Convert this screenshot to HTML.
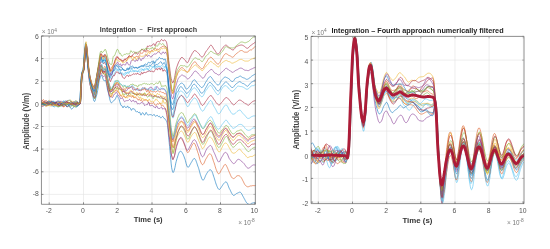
<!DOCTYPE html>
<html><head><meta charset="utf-8"><title>Integration plots</title>
<style>
html,body{margin:0;padding:0;background:#fff;}
body{width:550px;height:249px;overflow:hidden;}
svg{display:block;}
text{font-family:"Liberation Sans",sans-serif;}
.tk{font-size:6.8px;fill:#555;}
.ex{font-size:6.3px;fill:#777;}
.ttl{font-size:7.5px;font-weight:bold;fill:#3a3a3a;}
.ttr{font-size:7.9px;font-weight:bold;fill:#222;}
.lb{font-size:7.8px;font-weight:bold;fill:#333;}
.yl{font-size:8.2px;font-weight:bold;fill:#444;}
</style></head><body>
<svg width="550" height="249" viewBox="0 0 550 249">
<defs><clipPath id="cl"><rect x="41.45" y="36.0" width="214.00" height="168.30"/></clipPath><clipPath id="cr"><rect x="311.1" y="36.4" width="212.95" height="167.20"/></clipPath></defs>
<rect width="550" height="249" fill="#fff"/>
<rect x="41.45" y="36.0" width="214.0" height="168.3" fill="#fff"/>
<line x1="49.2" y1="36.0" x2="49.2" y2="204.3" stroke="#e2e2e2" stroke-width="0.6"/>
<line x1="83.5" y1="36.0" x2="83.5" y2="204.3" stroke="#e2e2e2" stroke-width="0.6"/>
<line x1="117.8" y1="36.0" x2="117.8" y2="204.3" stroke="#e2e2e2" stroke-width="0.6"/>
<line x1="152.0" y1="36.0" x2="152.0" y2="204.3" stroke="#e2e2e2" stroke-width="0.6"/>
<line x1="186.2" y1="36.0" x2="186.2" y2="204.3" stroke="#e2e2e2" stroke-width="0.6"/>
<line x1="220.5" y1="36.0" x2="220.5" y2="204.3" stroke="#e2e2e2" stroke-width="0.6"/>
<line x1="254.8" y1="36.0" x2="254.8" y2="204.3" stroke="#e2e2e2" stroke-width="0.6"/>
<line x1="41.45" y1="36.0" x2="255.45" y2="36.0" stroke="#e2e2e2" stroke-width="0.6"/>
<line x1="41.45" y1="58.6" x2="255.45" y2="58.6" stroke="#e2e2e2" stroke-width="0.6"/>
<line x1="41.45" y1="81.3" x2="255.45" y2="81.3" stroke="#e2e2e2" stroke-width="0.6"/>
<line x1="41.45" y1="103.9" x2="255.45" y2="103.9" stroke="#e2e2e2" stroke-width="0.6"/>
<line x1="41.45" y1="126.5" x2="255.45" y2="126.5" stroke="#e2e2e2" stroke-width="0.6"/>
<line x1="41.45" y1="149.1" x2="255.45" y2="149.1" stroke="#e2e2e2" stroke-width="0.6"/>
<line x1="41.45" y1="171.8" x2="255.45" y2="171.8" stroke="#e2e2e2" stroke-width="0.6"/>
<line x1="41.45" y1="194.4" x2="255.45" y2="194.4" stroke="#e2e2e2" stroke-width="0.6"/>
<rect x="311.1" y="36.4" width="212.9" height="167.2" fill="#fff"/>
<line x1="318.3" y1="36.4" x2="318.3" y2="203.6" stroke="#e2e2e2" stroke-width="0.6"/>
<line x1="352.5" y1="36.4" x2="352.5" y2="203.6" stroke="#e2e2e2" stroke-width="0.6"/>
<line x1="386.7" y1="36.4" x2="386.7" y2="203.6" stroke="#e2e2e2" stroke-width="0.6"/>
<line x1="420.8" y1="36.4" x2="420.8" y2="203.6" stroke="#e2e2e2" stroke-width="0.6"/>
<line x1="455.0" y1="36.4" x2="455.0" y2="203.6" stroke="#e2e2e2" stroke-width="0.6"/>
<line x1="489.1" y1="36.4" x2="489.1" y2="203.6" stroke="#e2e2e2" stroke-width="0.6"/>
<line x1="523.3" y1="36.4" x2="523.3" y2="203.6" stroke="#e2e2e2" stroke-width="0.6"/>
<line x1="311.1" y1="36.4" x2="524.05" y2="36.4" stroke="#e2e2e2" stroke-width="0.6"/>
<line x1="311.1" y1="60.1" x2="524.05" y2="60.1" stroke="#e2e2e2" stroke-width="0.6"/>
<line x1="311.1" y1="83.7" x2="524.05" y2="83.7" stroke="#e2e2e2" stroke-width="0.6"/>
<line x1="311.1" y1="107.4" x2="524.05" y2="107.4" stroke="#e2e2e2" stroke-width="0.6"/>
<line x1="311.1" y1="131.1" x2="524.05" y2="131.1" stroke="#e2e2e2" stroke-width="0.6"/>
<line x1="311.1" y1="154.8" x2="524.05" y2="154.8" stroke="#e2e2e2" stroke-width="0.6"/>
<line x1="311.1" y1="178.4" x2="524.05" y2="178.4" stroke="#e2e2e2" stroke-width="0.6"/>
<line x1="311.1" y1="202.1" x2="524.05" y2="202.1" stroke="#e2e2e2" stroke-width="0.6"/>
<g fill="none" stroke-linejoin="round" clip-path="url(#cl)" opacity="0.95">
<polyline points="40.7,103.8 41.1,103.6 41.5,103.5 41.9,103.7 42.4,103.9 42.8,104.1 43.2,104.2 43.6,104.3 44.0,104.3 44.4,104.4 44.8,104.6 45.3,104.7 45.7,104.9 46.1,104.9 46.5,105.0 46.9,105.2 47.3,105.4 47.8,105.4 48.2,105.1 48.6,104.6 49.0,104.1 49.4,103.9 49.8,104.1 50.2,104.5 50.7,105.1 51.1,105.6 51.5,105.9 51.9,105.9 52.3,105.9 52.7,106.0 53.2,106.2 53.6,106.5 54.0,106.6 54.4,106.3 54.8,105.7 55.2,105.2 55.7,104.8 56.1,104.6 56.5,104.4 56.9,104.4 57.3,104.4 57.7,104.6 58.1,105.0 58.6,105.5 59.0,105.8 59.4,105.9 59.8,105.8 60.2,105.6 60.6,105.4 61.1,105.2 61.5,104.9 61.9,104.5 62.3,104.1 62.7,103.7 63.1,103.2 63.6,102.7 64.0,102.0 64.4,101.4 64.8,101.0 65.2,100.9 65.6,101.0 66.0,101.1 66.5,101.2 66.9,101.0 67.3,100.7 67.7,100.5 68.1,100.4 68.5,100.4 69.0,100.4 69.4,100.3 69.8,100.2 70.2,100.3 70.6,100.7 71.0,101.4 71.5,102.1 71.9,102.6 72.3,102.7 72.7,102.6 73.1,102.5 73.5,102.8 73.9,103.3 74.4,103.8 74.8,104.2 75.2,104.6 75.6,105.1 76.0,105.6 76.4,106.0 76.9,106.3 77.3,106.3 77.7,106.1 78.1,105.7 78.5,105.1 78.9,104.4 79.4,103.9 79.8,103.5 80.2,103.1 80.6,102.0 81.0,95.7 81.4,86.7 81.8,79.8 82.3,75.9 82.7,72.9 83.1,71.4 83.5,70.7 83.9,69.5 84.3,65.4 84.8,59.3 85.2,54.2 85.6,50.0 86.0,46.4 86.4,45.1 86.8,47.3 87.3,52.2 87.7,57.6 88.1,62.9 88.5,68.6 88.9,73.7 89.3,77.5 89.7,80.9 90.2,84.0 90.6,86.7 91.0,88.3 91.4,89.1 91.8,89.9 92.2,91.6 92.7,94.3 93.1,97.3 93.5,99.7 93.9,100.9 94.3,101.4 94.7,101.4 95.2,100.3 95.6,98.6 96.0,97.2 96.4,96.1 96.8,94.7 97.2,92.9 97.6,90.8 98.1,88.3 98.5,85.0 98.9,82.0 99.3,80.3 99.7,79.2 100.1,77.9 100.6,76.3 101.0,75.3 101.4,75.3 101.8,75.8 102.2,76.7 102.6,77.8 103.1,79.1 103.5,80.1 103.9,80.7 104.3,81.0 104.7,80.6 105.1,80.1 105.5,80.5 106.0,81.9 106.4,83.6 106.8,85.7 107.2,88.1 107.6,90.3 108.0,91.8 108.5,93.1 108.9,94.9 109.3,97.0 109.7,98.8 110.1,100.4 110.5,101.7 110.9,102.5 111.4,102.8 111.8,102.7 112.2,102.3 112.6,101.8 113.0,101.4 113.4,101.0 113.9,100.4 114.3,99.9 114.7,99.8 115.1,99.6 115.5,98.8 115.9,97.7 116.4,96.6 116.8,95.6 117.2,95.5 117.6,96.4 118.0,97.3 118.4,97.7 118.8,98.4 119.3,100.0 119.7,101.6 120.1,102.8 120.5,104.1 120.9,105.2 121.3,105.6 121.8,105.6 122.2,106.1 122.6,107.3 123.0,107.9 123.4,107.4 123.8,106.4 124.3,105.9 124.7,106.2 125.1,106.9 125.5,107.5 125.9,107.5 126.3,107.5 126.7,107.3 127.2,106.6 127.6,105.9 128.0,106.6 128.4,107.8 128.8,108.1 129.2,107.7 129.7,107.5 130.1,107.8 130.5,108.4 130.9,109.5 131.3,110.4 131.7,110.1 132.2,109.1 132.6,108.6 133.0,108.7 133.4,108.9 133.8,108.7 134.2,108.8 134.6,109.3 135.1,110.1 135.5,110.9 135.9,111.5 136.3,112.0 136.7,112.0 137.1,111.6 137.6,111.6 138.0,112.1 138.4,112.5 138.8,112.5 139.2,112.1 139.6,112.0 140.1,113.1 140.5,114.5 140.9,115.2 141.3,114.8 141.7,114.0 142.1,113.2 142.5,112.7 143.0,112.9 143.4,113.4 143.8,114.1 144.2,114.9 144.6,115.2 145.0,114.6 145.5,113.5 145.9,112.6 146.3,112.5 146.7,113.3 147.1,114.3 147.5,114.7 148.0,114.6 148.4,114.8 148.8,115.2 149.2,115.0 149.6,114.6 150.0,114.5 150.4,114.6 150.9,114.8 151.3,114.9 151.7,114.9 152.1,115.2 152.5,115.5 152.9,115.5 153.4,115.1 153.8,114.6 154.2,114.5 154.6,115.2 155.0,115.9 155.4,116.3 155.9,116.3 156.3,116.0 156.7,115.5 157.1,115.3 157.5,115.5 157.9,116.1 158.3,116.5 158.8,116.6 159.2,116.5 159.6,116.3 160.0,116.7 160.4,117.6 160.8,118.1 161.3,117.7 161.7,117.1 162.1,116.7 162.5,116.4 162.9,116.5 163.3,117.1 163.7,117.8 164.2,118.3 164.6,119.0 165.0,119.4 165.4,119.3 165.8,119.7 166.2,120.7 166.7,121.7 167.1,122.8 167.5,125.2 167.9,129.1 168.3,133.2 168.7,137.7 169.2,142.4 169.6,146.7 170.0,150.8 170.4,155.2 170.8,159.7 171.2,163.9 171.6,167.4 172.1,169.9 172.5,171.5 172.9,172.4 173.3,172.4 173.7,171.9 174.1,170.7 174.6,169.0 175.0,167.3 175.4,165.2 175.8,163.1 176.2,161.5 176.6,160.0 177.1,158.4 177.5,157.0 177.9,155.8 178.3,154.6 178.7,153.5 179.1,152.6 179.5,151.8 180.0,151.4 180.4,151.3 180.8,151.3 181.2,151.4 181.6,151.9 182.0,152.5 182.5,153.3 182.9,154.0 183.3,154.8 183.7,155.8 184.1,156.8 184.5,158.0 185.0,159.2 185.4,160.6 185.8,162.2 186.2,163.7 186.6,165.0 187.0,166.1 187.4,166.9 187.9,167.3 188.3,167.3 188.7,167.0 189.1,166.4 189.5,165.7 189.9,164.9 190.4,164.0 190.8,163.3 191.2,162.6 191.6,162.0 192.0,161.3 192.4,160.5 192.9,159.8 193.3,159.2 193.7,158.7 194.1,158.5 194.5,158.5 194.9,158.8 195.3,159.4 195.8,160.2 196.2,161.3 196.6,162.4 197.0,163.6 197.4,164.8 197.8,166.1 198.3,167.3 198.7,168.5 199.1,169.9 199.5,171.4 199.9,172.9 200.3,174.4 200.8,175.8 201.2,177.0 201.6,178.2 202.0,179.1 202.4,179.8 202.8,180.2 203.2,180.2 203.7,179.8 204.1,179.2 204.5,178.4 204.9,177.4 205.3,176.4 205.7,175.4 206.2,174.5 206.6,173.7 207.0,173.1 207.4,172.5 207.8,171.9 208.2,171.3 208.7,170.8 209.1,170.4 209.5,170.0 209.9,169.8 210.3,169.8 210.7,169.9 211.1,170.2 211.6,170.8 212.0,171.5 212.4,172.5 212.8,173.6 213.2,174.9 213.6,176.2 214.1,177.6 214.5,178.9 214.9,180.2 215.3,181.5 215.7,182.8 216.1,184.1 216.6,185.3 217.0,186.4 217.4,187.3 217.8,188.1 218.2,188.7 218.6,189.2 219.0,189.5 219.5,189.4 219.9,189.2 220.3,188.7 220.7,188.1 221.1,187.5 221.5,186.8 222.0,186.2 222.4,185.5 222.8,184.9 223.2,184.3 223.6,183.8 224.0,183.3 224.4,182.9 224.9,182.4 225.3,182.1 225.7,181.8 226.1,181.8 226.5,182.1 226.9,182.7 227.4,183.6 227.8,184.6 228.2,185.7 228.6,186.8 229.0,187.8 229.4,188.7 229.9,189.5 230.3,190.3 230.7,191.2 231.1,192.1 231.5,192.9 231.9,193.6 232.3,194.3 232.8,194.8 233.2,195.2 233.6,195.4 234.0,195.4 234.4,195.2 234.8,194.9 235.3,194.5 235.7,194.1 236.1,193.8 236.5,193.5 236.9,193.3 237.3,193.2 237.8,193.0 238.2,192.8 238.6,192.6 239.0,192.4 239.4,192.2 239.8,192.2 240.2,192.3 240.7,192.5 241.1,192.9 241.5,193.5 241.9,194.2 242.3,195.0 242.7,195.8 243.2,196.7 243.6,197.4 244.0,198.2 244.4,198.9 244.8,199.6 245.2,200.4 245.7,201.3 246.1,202.0 246.5,202.6 246.9,203.1 247.3,203.4 247.7,203.6 248.1,203.9 248.6,204.2 249.0,204.4 249.4,204.6 249.8,204.5 250.2,204.4 250.6,204.1 251.1,203.7 251.5,203.4 251.9,203.2 252.3,203.1 252.7,203.0 253.1,202.9 253.6,202.8 254.0,202.7 254.4,202.8 254.8,202.9 255.2,203.0 255.6,203.2 256.0,203.3 256.5,203.3" stroke="#0072BD" stroke-width="0.62"/>
<polyline points="40.7,104.9 41.1,104.8 41.5,104.8 41.9,104.9 42.4,105.1 42.8,105.2 43.2,104.9 43.6,104.4 44.0,104.1 44.4,104.0 44.8,104.3 45.3,104.6 45.7,105.0 46.1,105.2 46.5,105.2 46.9,105.2 47.3,105.1 47.8,105.1 48.2,105.1 48.6,105.2 49.0,105.2 49.4,105.0 49.8,104.5 50.2,103.8 50.7,103.1 51.1,102.6 51.5,102.5 51.9,102.7 52.3,103.1 52.7,103.6 53.2,104.4 53.6,105.0 54.0,105.4 54.4,105.5 54.8,105.3 55.2,105.0 55.7,104.6 56.1,104.3 56.5,104.0 56.9,103.7 57.3,103.4 57.7,103.1 58.1,103.0 58.6,103.0 59.0,103.0 59.4,102.7 59.8,102.3 60.2,101.9 60.6,101.9 61.1,102.3 61.5,103.1 61.9,103.9 62.3,104.4 62.7,104.5 63.1,104.2 63.6,103.8 64.0,103.6 64.4,103.6 64.8,104.0 65.2,104.6 65.6,105.4 66.0,106.0 66.5,106.4 66.9,106.6 67.3,106.6 67.7,106.6 68.1,106.5 68.5,106.2 69.0,105.6 69.4,104.8 69.8,104.1 70.2,103.7 70.6,103.5 71.0,103.6 71.5,103.7 71.9,103.9 72.3,104.1 72.7,104.3 73.1,104.4 73.5,104.5 73.9,104.5 74.4,104.3 74.8,104.1 75.2,103.9 75.6,103.7 76.0,103.6 76.4,103.6 76.9,103.6 77.3,103.7 77.7,103.6 78.1,103.5 78.5,103.6 78.9,103.6 79.4,103.5 79.8,102.8 80.2,98.2 80.6,89.9 81.0,82.1 81.4,77.3 81.8,74.2 82.3,72.4 82.7,71.6 83.1,70.8 83.5,67.9 83.9,62.6 84.3,57.2 84.8,52.4 85.2,48.5 85.6,46.8 86.0,48.4 86.4,52.4 86.8,56.9 87.3,61.1 87.7,65.7 88.1,70.0 88.5,73.3 88.9,76.3 89.3,79.6 89.7,82.2 90.2,84.3 90.6,86.6 91.0,89.2 91.4,91.2 91.8,92.2 92.2,93.0 92.7,94.3 93.1,96.0 93.5,96.8 93.9,96.3 94.3,94.9 94.7,93.6 95.2,92.2 95.6,91.0 96.0,90.2 96.4,89.2 96.8,87.2 97.2,84.6 97.6,81.7 98.1,79.6 98.5,78.7 98.9,77.9 99.3,76.5 99.7,74.9 100.1,72.7 100.6,70.6 101.0,69.8 101.4,70.3 101.8,71.3 102.2,72.1 102.6,72.5 103.1,72.3 103.5,71.5 103.9,71.0 104.3,71.2 104.7,71.9 105.1,73.2 105.5,75.3 106.0,77.9 106.4,80.6 106.8,83.2 107.2,85.5 107.6,87.6 108.0,89.4 108.5,91.1 108.9,93.0 109.3,94.9 109.7,96.2 110.1,96.9 110.5,96.9 110.9,96.6 111.4,95.9 111.8,94.7 112.2,93.5 112.6,93.0 113.0,92.9 113.4,92.3 113.9,91.5 114.3,91.2 114.7,91.0 115.1,90.9 115.5,90.8 115.9,90.4 116.4,89.9 116.8,89.9 117.2,90.7 117.6,91.8 118.0,92.2 118.4,92.2 118.8,92.5 119.3,93.4 119.7,94.6 120.1,95.4 120.5,95.5 120.9,95.4 121.3,95.8 121.8,96.6 122.2,97.2 122.6,97.4 123.0,97.2 123.4,96.5 123.8,95.9 124.3,96.0 124.7,96.7 125.1,97.3 125.5,97.7 125.9,97.7 126.3,97.1 126.7,96.3 127.2,95.9 127.6,95.8 128.0,95.5 128.4,95.1 128.8,95.2 129.2,95.9 129.7,96.2 130.1,96.0 130.5,96.0 130.9,96.5 131.3,97.1 131.7,97.3 132.2,96.8 132.6,95.9 133.0,95.7 133.4,96.9 133.8,97.9 134.2,97.7 134.6,97.2 135.1,97.4 135.5,97.6 135.9,97.8 136.3,98.0 136.7,98.0 137.1,98.3 137.6,99.3 138.0,100.2 138.4,100.1 138.8,99.4 139.2,99.2 139.6,99.8 140.1,100.5 140.5,100.4 140.9,99.9 141.3,99.8 141.7,100.4 142.1,101.2 142.5,101.6 143.0,101.3 143.4,100.8 143.8,100.4 144.2,100.2 144.6,100.2 145.0,100.2 145.5,100.1 145.9,99.8 146.3,99.6 146.7,100.0 147.1,100.6 147.5,100.9 148.0,101.3 148.4,101.9 148.8,102.7 149.2,103.4 149.6,103.8 150.0,103.8 150.4,103.4 150.9,103.1 151.3,103.2 151.7,103.3 152.1,103.5 152.5,103.4 152.9,102.9 153.4,102.4 153.8,102.8 154.2,103.8 154.6,104.6 155.0,104.8 155.4,105.0 155.9,105.4 156.3,105.3 156.7,104.6 157.1,103.9 157.5,103.6 157.9,103.7 158.3,104.0 158.8,104.2 159.2,103.8 159.6,103.2 160.0,102.9 160.4,103.3 160.8,104.5 161.3,105.6 161.7,105.9 162.1,105.5 162.5,105.1 162.9,105.2 163.3,105.8 163.7,106.5 164.2,107.0 164.6,107.5 165.0,108.1 165.4,109.0 165.8,110.4 166.2,112.3 166.7,114.5 167.1,117.2 167.5,120.4 167.9,124.2 168.3,128.6 168.7,132.9 169.2,136.1 169.6,138.7 170.0,142.0 170.4,146.1 170.8,150.2 171.2,153.0 171.6,155.0 172.1,156.9 172.5,158.9 172.9,159.6 173.3,158.8 173.7,157.7 174.1,156.7 174.6,155.1 175.0,152.7 175.4,150.3 175.8,148.3 176.2,146.5 176.6,144.9 177.1,143.6 177.5,142.5 177.9,141.7 178.3,141.0 178.7,140.3 179.1,139.5 179.5,138.9 180.0,138.5 180.4,138.3 180.8,138.3 181.2,138.4 181.6,138.8 182.0,139.5 182.5,140.3 182.9,141.1 183.3,141.9 183.7,142.9 184.1,143.9 184.5,145.0 185.0,146.2 185.4,147.4 185.8,148.6 186.2,149.8 186.6,150.9 187.0,151.8 187.4,152.4 187.9,152.6 188.3,152.4 188.7,151.9 189.1,151.3 189.5,150.5 189.9,149.6 190.4,148.8 190.8,148.0 191.2,147.1 191.6,146.2 192.0,145.4 192.4,144.6 192.9,143.9 193.3,143.4 193.7,143.1 194.1,143.1 194.5,143.4 194.9,144.0 195.3,145.0 195.8,146.1 196.2,147.3 196.6,148.6 197.0,149.9 197.4,151.2 197.8,152.5 198.3,153.7 198.7,155.1 199.1,156.6 199.5,158.1 199.9,159.6 200.3,160.9 200.8,162.1 201.2,163.1 201.6,163.8 202.0,164.4 202.4,164.6 202.8,164.6 203.2,164.3 203.7,163.7 204.1,163.0 204.5,162.1 204.9,161.1 205.3,160.2 205.7,159.3 206.2,158.6 206.6,157.9 207.0,157.2 207.4,156.5 207.8,155.8 208.2,155.1 208.7,154.5 209.1,154.1 209.5,153.8 209.9,153.7 210.3,153.8 210.7,154.2 211.1,154.8 211.6,155.6 212.0,156.6 212.4,157.7 212.8,159.0 213.2,160.3 213.6,161.6 214.1,162.8 214.5,164.1 214.9,165.4 215.3,166.8 215.7,168.1 216.1,169.3 216.6,170.5 217.0,171.5 217.4,172.4 217.8,173.1 218.2,173.6 218.6,173.8 219.0,173.7 219.5,173.3 219.9,172.8 220.3,172.1 220.7,171.3 221.1,170.4 221.5,169.7 222.0,169.0 222.4,168.3 222.8,167.6 223.2,166.9 223.6,166.1 224.0,165.4 224.4,164.9 224.9,164.5 225.3,164.4 225.7,164.6 226.1,165.1 226.5,165.9 226.9,166.7 227.4,167.7 227.8,168.7 228.2,169.7 228.6,170.6 229.0,171.6 229.4,172.5 229.9,173.6 230.3,174.6 230.7,175.5 231.1,176.4 231.5,177.0 231.9,177.6 232.3,178.0 232.8,178.3 233.2,178.5 233.6,178.6 234.0,178.6 234.4,178.4 234.8,178.0 235.3,177.5 235.7,177.0 236.1,176.5 236.5,176.2 236.9,175.9 237.3,175.7 237.8,175.7 238.2,175.6 238.6,175.7 239.0,175.8 239.4,175.9 239.8,176.2 240.2,176.5 240.7,177.0 241.1,177.5 241.5,178.1 241.9,178.8 242.3,179.5 242.7,180.4 243.2,181.3 243.6,182.2 244.0,183.0 244.4,183.8 244.8,184.5 245.2,185.1 245.7,185.6 246.1,186.0 246.5,186.3 246.9,186.5 247.3,186.7 247.7,186.8 248.1,186.8 248.6,186.7 249.0,186.6 249.4,186.4 249.8,186.2 250.2,186.0 250.6,185.9 251.1,185.9 251.5,185.9 251.9,185.8 252.3,185.7 252.7,185.6 253.1,185.6 253.6,185.6 254.0,185.6 254.4,185.6 254.8,185.6 255.2,185.5 255.6,185.5 256.0,185.5 256.5,185.7" stroke="#D95319" stroke-width="0.62"/>
<polyline points="40.7,101.5 41.1,101.5 41.5,101.9 41.9,102.5 42.4,103.2 42.8,103.9 43.2,104.4 43.6,104.7 44.0,104.8 44.4,104.7 44.8,104.7 45.3,105.0 45.7,105.3 46.1,105.6 46.5,105.7 46.9,105.4 47.3,104.9 47.8,104.5 48.2,104.0 48.6,103.6 49.0,103.5 49.4,103.6 49.8,103.6 50.2,103.3 50.7,102.8 51.1,102.3 51.5,102.0 51.9,102.2 52.3,102.6 52.7,103.1 53.2,103.5 53.6,103.6 54.0,103.5 54.4,103.5 54.8,103.6 55.2,103.8 55.7,103.8 56.1,103.5 56.5,102.8 56.9,102.0 57.3,101.2 57.7,100.8 58.1,100.8 58.6,101.3 59.0,102.0 59.4,102.7 59.8,103.3 60.2,103.6 60.6,103.8 61.1,103.9 61.5,103.9 61.9,103.7 62.3,103.4 62.7,103.4 63.1,103.7 63.6,104.2 64.0,104.7 64.4,104.9 64.8,104.5 65.2,103.7 65.6,102.7 66.0,101.8 66.5,101.3 66.9,101.2 67.3,101.5 67.7,102.0 68.1,102.6 68.5,103.3 69.0,103.9 69.4,104.2 69.8,104.0 70.2,103.6 70.6,103.0 71.0,102.5 71.5,102.2 71.9,102.2 72.3,102.5 72.7,103.0 73.1,103.6 73.5,104.0 73.9,104.2 74.4,104.2 74.8,104.2 75.2,104.3 75.6,104.3 76.0,104.3 76.4,104.0 76.9,103.6 77.3,103.2 77.7,103.0 78.1,103.1 78.5,103.4 78.9,103.6 79.4,103.6 79.8,103.3 80.2,101.6 80.6,95.0 81.0,86.2 81.4,79.7 81.8,76.0 82.3,73.4 82.7,72.2 83.1,71.5 83.5,70.0 83.9,65.6 84.3,59.5 84.8,54.4 85.2,50.2 85.6,47.2 86.0,46.5 86.4,48.8 86.8,53.1 87.3,57.7 87.7,62.5 88.1,68.1 88.5,73.4 88.9,77.6 89.3,81.0 89.7,83.7 90.2,85.5 90.6,86.9 91.0,88.7 91.4,90.6 91.8,92.2 92.2,93.3 92.7,94.4 93.1,95.9 93.5,97.2 93.9,97.9 94.3,98.3 94.7,98.3 95.2,97.5 95.6,95.4 96.0,92.4 96.4,90.1 96.8,88.6 97.2,87.5 97.6,85.9 98.1,83.8 98.5,81.5 98.9,79.4 99.3,77.6 99.7,75.7 100.1,73.7 100.6,72.3 101.0,72.5 101.4,73.7 101.8,74.6 102.2,74.9 102.6,75.6 103.1,76.5 103.5,76.7 103.9,76.6 104.3,76.3 104.7,75.6 105.1,75.3 105.5,76.7 106.0,79.2 106.4,81.3 106.8,82.9 107.2,85.0 107.6,87.5 108.0,90.0 108.5,92.2 108.9,94.0 109.3,95.4 109.7,96.1 110.1,96.5 110.5,96.7 110.9,96.7 111.4,96.8 111.8,97.1 112.2,97.5 112.6,97.4 113.0,96.8 113.4,95.6 113.9,94.6 114.3,94.2 114.7,94.2 115.1,93.9 115.5,93.2 115.9,92.3 116.4,92.0 116.8,92.4 117.2,93.3 117.6,94.5 118.0,95.3 118.4,95.6 118.8,95.6 119.3,95.8 119.7,96.4 120.1,97.6 120.5,98.6 120.9,98.9 121.3,98.6 121.8,98.2 122.2,98.2 122.6,98.4 123.0,98.8 123.4,99.6 123.8,100.7 124.3,101.5 124.7,101.7 125.1,101.4 125.5,101.0 125.9,100.8 126.3,100.7 126.7,100.6 127.2,100.6 127.6,100.6 128.0,100.6 128.4,100.5 128.8,100.1 129.2,99.6 129.7,99.4 130.1,99.7 130.5,100.2 130.9,100.9 131.3,101.6 131.7,101.7 132.2,101.1 132.6,100.5 133.0,100.1 133.4,100.2 133.8,100.8 134.2,101.6 134.6,102.1 135.1,102.0 135.5,101.4 135.9,101.0 136.3,101.4 136.7,102.5 137.1,103.5 137.6,103.8 138.0,103.7 138.4,103.6 138.8,103.7 139.2,104.1 139.6,104.0 140.1,103.5 140.5,103.1 140.9,103.0 141.3,102.8 141.7,102.4 142.1,102.5 142.5,103.1 143.0,103.2 143.4,103.1 143.8,103.6 144.2,104.7 144.6,105.5 145.0,105.5 145.5,105.0 145.9,104.6 146.3,104.5 146.7,104.8 147.1,105.0 147.5,104.5 148.0,103.2 148.4,102.3 148.8,102.4 149.2,103.4 149.6,104.9 150.0,106.0 150.4,106.0 150.9,105.5 151.3,105.2 151.7,105.5 152.1,105.5 152.5,105.3 152.9,105.7 153.4,106.5 153.8,106.8 154.2,106.7 154.6,107.2 155.0,107.9 155.4,107.9 155.9,107.0 156.3,106.2 156.7,106.0 157.1,106.5 157.5,107.5 157.9,108.3 158.3,108.4 158.8,108.2 159.2,108.3 159.6,108.5 160.0,108.3 160.4,107.9 160.8,107.5 161.3,107.2 161.7,107.3 162.1,108.0 162.5,109.0 162.9,109.3 163.3,108.8 163.7,108.6 164.2,108.8 164.6,108.8 165.0,108.6 165.4,108.7 165.8,109.5 166.2,110.8 166.7,112.7 167.1,115.1 167.5,118.4 167.9,122.7 168.3,127.6 168.7,132.4 169.2,136.2 169.6,139.5 170.0,143.0 170.4,146.7 170.8,150.4 171.2,153.8 171.6,156.0 172.1,157.5 172.5,158.9 172.9,159.6 173.3,159.1 173.7,158.2 174.1,157.2 174.6,155.7 175.0,154.0 175.4,151.9 175.8,149.8 176.2,148.1 176.6,146.7 177.1,145.3 177.5,144.0 177.9,142.7 178.3,141.4 178.7,140.4 179.1,139.5 179.5,138.7 180.0,138.1 180.4,137.6 180.8,137.3 181.2,137.4 181.6,137.8 182.0,138.3 182.5,139.0 182.9,139.9 183.3,140.9 183.7,141.8 184.1,142.8 184.5,143.9 185.0,145.2 185.4,146.5 185.8,147.8 186.2,148.9 186.6,149.7 187.0,150.2 187.4,150.3 187.9,150.1 188.3,149.6 188.7,148.9 189.1,148.1 189.5,147.2 189.9,146.3 190.4,145.5 190.8,144.8 191.2,144.1 191.6,143.3 192.0,142.5 192.4,141.7 192.9,141.0 193.3,140.4 193.7,140.0 194.1,139.7 194.5,139.7 194.9,139.9 195.3,140.4 195.8,141.0 196.2,141.8 196.6,142.7 197.0,143.8 197.4,144.8 197.8,145.9 198.3,146.9 198.7,147.9 199.1,149.0 199.5,150.3 199.9,151.6 200.3,152.9 200.8,154.1 201.2,155.1 201.6,156.0 202.0,156.5 202.4,156.8 202.8,156.7 203.2,156.4 203.7,155.8 204.1,155.0 204.5,154.0 204.9,153.0 205.3,151.9 205.7,150.9 206.2,150.0 206.6,149.3 207.0,148.6 207.4,148.0 207.8,147.5 208.2,147.0 208.7,146.6 209.1,146.3 209.5,146.0 209.9,145.7 210.3,145.5 210.7,145.5 211.1,145.8 211.6,146.4 212.0,147.3 212.4,148.3 212.8,149.4 213.2,150.5 213.6,151.5 214.1,152.5 214.5,153.3 214.9,154.2 215.3,155.2 215.7,156.2 216.1,157.3 216.6,158.4 217.0,159.4 217.4,160.3 217.8,161.1 218.2,161.6 218.6,162.0 219.0,162.0 219.5,161.6 219.9,161.0 220.3,160.2 220.7,159.3 221.1,158.4 221.5,157.6 222.0,156.9 222.4,156.2 222.8,155.5 223.2,154.8 223.6,154.0 224.0,153.4 224.4,152.9 224.9,152.6 225.3,152.4 225.7,152.4 226.1,152.5 226.5,152.9 226.9,153.4 227.4,154.1 227.8,155.0 228.2,156.0 228.6,157.0 229.0,158.0 229.4,158.8 229.9,159.4 230.3,160.0 230.7,160.5 231.1,161.0 231.5,161.6 231.9,162.1 232.3,162.7 232.8,163.1 233.2,163.4 233.6,163.6 234.0,163.6 234.4,163.4 234.8,163.1 235.3,162.6 235.7,162.0 236.1,161.4 236.5,160.8 236.9,160.3 237.3,159.8 237.8,159.5 238.2,159.4 238.6,159.3 239.0,159.4 239.4,159.6 239.8,159.8 240.2,160.1 240.7,160.4 241.1,160.8 241.5,161.2 241.9,161.7 242.3,162.1 242.7,162.4 243.2,162.7 243.6,163.1 244.0,163.5 244.4,164.1 244.8,164.7 245.2,165.3 245.7,165.9 246.1,166.5 246.5,167.0 246.9,167.5 247.3,167.8 247.7,168.1 248.1,168.2 248.6,168.2 249.0,168.1 249.4,167.9 249.8,167.6 250.2,167.2 250.6,166.8 251.1,166.4 251.5,166.1 251.9,165.8 252.3,165.5 252.7,165.2 253.1,165.0 253.6,164.9 254.0,164.8 254.4,164.9 254.8,165.0 255.2,165.0 255.6,165.0 256.0,164.9 256.5,164.9" stroke="#7E2F8E" stroke-width="0.62"/>
<polyline points="40.7,104.9 41.1,104.4 41.5,103.8 41.9,103.3 42.4,103.1 42.8,103.1 43.2,103.3 43.6,103.4 44.0,103.4 44.4,103.1 44.8,102.6 45.3,101.9 45.7,101.4 46.1,101.2 46.5,101.3 46.9,101.5 47.3,101.6 47.8,101.5 48.2,101.2 48.6,100.9 49.0,100.6 49.4,100.4 49.8,100.3 50.2,100.5 50.7,100.9 51.1,101.6 51.5,102.2 51.9,102.6 52.3,103.0 52.7,103.2 53.2,103.4 53.6,103.6 54.0,103.6 54.4,103.4 54.8,103.1 55.2,102.8 55.7,102.7 56.1,102.8 56.5,103.1 56.9,103.5 57.3,103.6 57.7,103.6 58.1,103.5 58.6,103.4 59.0,103.3 59.4,103.3 59.8,103.1 60.2,102.8 60.6,102.6 61.1,102.5 61.5,102.6 61.9,102.7 62.3,102.7 62.7,102.7 63.1,102.6 63.6,102.4 64.0,102.0 64.4,101.8 64.8,101.8 65.2,101.9 65.6,102.1 66.0,102.1 66.5,101.7 66.9,101.1 67.3,100.7 67.7,100.6 68.1,100.6 68.5,100.7 69.0,100.7 69.4,100.4 69.8,100.2 70.2,100.1 70.6,100.2 71.0,100.5 71.5,100.9 71.9,101.3 72.3,101.6 72.7,101.8 73.1,101.8 73.5,101.8 73.9,102.0 74.4,102.3 74.8,102.6 75.2,102.7 75.6,102.7 76.0,102.7 76.4,102.7 76.9,102.7 77.3,102.9 77.7,103.1 78.1,103.3 78.5,103.7 78.9,103.9 79.4,104.0 79.8,103.8 80.2,103.4 80.6,100.3 81.0,92.9 81.4,84.5 81.8,78.5 82.3,74.9 82.7,72.6 83.1,71.5 83.5,70.9 83.9,69.1 84.3,65.0 84.8,60.3 85.2,56.5 85.6,53.2 86.0,50.6 86.4,50.0 86.8,51.8 87.3,55.3 87.7,59.1 88.1,63.3 88.5,68.0 88.9,72.3 89.3,76.0 89.7,79.7 90.2,83.3 90.6,86.2 91.0,88.2 91.4,89.3 91.8,90.3 92.2,91.8 92.7,93.5 93.1,94.7 93.5,95.4 93.9,96.1 94.3,96.7 94.7,96.8 95.2,95.8 95.6,94.1 96.0,92.2 96.4,90.3 96.8,88.5 97.2,86.4 97.6,84.1 98.1,81.6 98.5,79.4 98.9,77.7 99.3,76.2 99.7,74.8 100.1,73.6 100.6,72.4 101.0,70.9 101.4,69.9 101.8,70.3 102.2,71.7 102.6,72.7 103.1,73.1 103.5,73.0 103.9,72.9 104.3,72.9 104.7,73.0 105.1,73.6 105.5,74.6 106.0,76.0 106.4,77.8 106.8,80.1 107.2,82.6 107.6,84.8 108.0,86.4 108.5,87.7 108.9,89.2 109.3,90.8 109.7,92.3 110.1,94.0 110.5,95.5 110.9,96.4 111.4,96.6 111.8,96.5 112.2,95.3 112.6,93.3 113.0,92.3 113.4,92.5 113.9,92.8 114.3,92.5 114.7,91.7 115.1,91.2 115.5,90.7 115.9,89.7 116.4,88.4 116.8,87.7 117.2,87.5 117.6,87.9 118.0,89.0 118.4,90.4 118.8,91.8 119.3,92.9 119.7,93.6 120.1,93.8 120.5,94.3 120.9,95.1 121.3,95.8 121.8,95.9 122.2,95.0 122.6,94.1 123.0,94.1 123.4,95.1 123.8,96.2 124.3,96.9 124.7,97.5 125.1,97.5 125.5,97.3 125.9,97.3 126.3,97.4 126.7,97.8 127.2,98.1 127.6,98.0 128.0,97.1 128.4,96.1 128.8,95.8 129.2,96.2 129.7,96.1 130.1,95.4 130.5,94.5 130.9,94.4 131.3,94.9 131.7,95.6 132.2,95.8 132.6,95.6 133.0,95.4 133.4,95.7 133.8,96.6 134.2,97.5 134.6,97.7 135.1,97.4 135.5,96.8 135.9,96.4 136.3,95.9 136.7,95.0 137.1,94.7 137.6,95.4 138.0,96.3 138.4,96.9 138.8,97.6 139.2,98.3 139.6,98.2 140.1,97.3 140.5,96.8 140.9,97.8 141.3,99.4 141.7,99.7 142.1,98.7 142.5,98.0 143.0,98.5 143.4,99.4 143.8,99.9 144.2,99.9 144.6,99.5 145.0,99.3 145.5,99.6 145.9,100.0 146.3,100.2 146.7,100.0 147.1,100.1 147.5,100.8 148.0,101.2 148.4,100.7 148.8,99.6 149.2,99.1 149.6,99.4 150.0,100.3 150.4,101.3 150.9,101.8 151.3,101.8 151.7,101.4 152.1,101.1 152.5,101.1 152.9,101.5 153.4,101.8 153.8,101.7 154.2,101.3 154.6,101.0 155.0,100.5 155.4,99.6 155.9,99.0 156.3,99.0 156.7,99.4 157.1,100.1 157.5,100.7 157.9,101.1 158.3,101.4 158.8,101.8 159.2,102.2 159.6,102.8 160.0,103.2 160.4,103.2 160.8,103.5 161.3,104.0 161.7,104.1 162.1,102.8 162.5,100.6 162.9,99.5 163.3,100.4 163.7,102.1 164.2,103.2 164.6,103.2 165.0,102.7 165.4,102.6 165.8,103.2 166.2,104.1 166.7,105.1 167.1,106.8 167.5,109.7 167.9,113.6 168.3,117.9 168.7,122.4 169.2,126.5 169.6,130.2 170.0,133.9 170.4,137.7 170.8,141.7 171.2,145.2 171.6,147.6 172.1,149.1 172.5,150.7 172.9,151.9 173.3,152.2 173.7,151.6 174.1,150.2 174.6,148.3 175.0,146.4 175.4,144.5 175.8,142.6 176.2,140.7 176.6,139.1 177.1,137.6 177.5,136.2 177.9,135.2 178.3,134.5 178.7,133.9 179.1,133.2 179.5,132.5 180.0,132.0 180.4,131.5 180.8,131.2 181.2,131.0 181.6,131.0 182.0,131.3 182.5,131.8 182.9,132.4 183.3,133.2 183.7,134.1 184.1,134.9 184.5,135.8 185.0,136.7 185.4,137.7 185.8,138.7 186.2,139.8 186.6,140.8 187.0,141.6 187.4,142.1 187.9,142.3 188.3,142.1 188.7,141.5 189.1,140.8 189.5,139.9 189.9,138.9 190.4,137.9 190.8,137.1 191.2,136.4 191.6,135.7 192.0,135.1 192.4,134.5 192.9,134.0 193.3,133.5 193.7,133.1 194.1,132.7 194.5,132.5 194.9,132.4 195.3,132.7 195.8,133.2 196.2,134.0 196.6,135.0 197.0,136.2 197.4,137.4 197.8,138.6 198.3,139.6 198.7,140.6 199.1,141.5 199.5,142.5 199.9,143.4 200.3,144.3 200.8,145.3 201.2,146.3 201.6,147.3 202.0,148.1 202.4,148.6 202.8,148.6 203.2,148.3 203.7,147.7 204.1,146.9 204.5,146.1 204.9,145.4 205.3,144.6 205.7,143.8 206.2,142.9 206.6,142.1 207.0,141.3 207.4,140.4 207.8,139.5 208.2,138.7 208.7,138.0 209.1,137.5 209.5,137.2 209.9,137.1 210.3,137.1 210.7,137.3 211.1,137.6 211.6,138.0 212.0,138.6 212.4,139.2 212.8,139.9 213.2,140.8 213.6,141.6 214.1,142.5 214.5,143.4 214.9,144.3 215.3,145.2 215.7,146.1 216.1,147.1 216.6,148.1 217.0,149.0 217.4,149.9 217.8,150.6 218.2,151.3 218.6,151.7 219.0,151.9 219.5,151.9 219.9,151.5 220.3,151.0 220.7,150.3 221.1,149.4 221.5,148.5 222.0,147.6 222.4,146.7 222.8,145.9 223.2,145.2 223.6,144.5 224.0,143.9 224.4,143.5 224.9,143.2 225.3,143.1 225.7,143.0 226.1,143.1 226.5,143.4 226.9,143.8 227.4,144.3 227.8,144.9 228.2,145.7 228.6,146.5 229.0,147.2 229.4,148.0 229.9,148.7 230.3,149.5 230.7,150.3 231.1,151.1 231.5,151.8 231.9,152.4 232.3,152.8 232.8,153.0 233.2,153.2 233.6,153.2 234.0,153.2 234.4,153.1 234.8,152.9 235.3,152.7 235.7,152.3 236.1,152.0 236.5,151.6 236.9,151.2 237.3,150.8 237.8,150.3 238.2,149.9 238.6,149.6 239.0,149.4 239.4,149.3 239.8,149.3 240.2,149.5 240.7,149.9 241.1,150.5 241.5,151.1 241.9,151.7 242.3,152.3 242.7,152.7 243.2,153.1 243.6,153.4 244.0,153.8 244.4,154.1 244.8,154.6 245.2,155.0 245.7,155.6 246.1,156.2 246.5,156.8 246.9,157.2 247.3,157.5 247.7,157.6 248.1,157.5 248.6,157.3 249.0,157.1 249.4,156.9 249.8,156.7 250.2,156.5 250.6,156.5 251.1,156.5 251.5,156.5 251.9,156.5 252.3,156.5 252.7,156.2 253.1,155.9 253.6,155.6 254.0,155.3 254.4,155.1 254.8,155.0 255.2,155.0 255.6,155.0 256.0,155.1 256.5,155.1" stroke="#EDB120" stroke-width="0.62"/>
<polyline points="40.7,103.8 41.1,103.2 41.5,102.7 41.9,102.5 42.4,102.8 42.8,103.2 43.2,103.7 43.6,104.2 44.0,104.8 44.4,105.2 44.8,105.4 45.3,105.4 45.7,105.1 46.1,104.7 46.5,104.4 46.9,104.1 47.3,103.9 47.8,103.8 48.2,103.6 48.6,103.6 49.0,103.7 49.4,103.9 49.8,104.1 50.2,104.2 50.7,104.2 51.1,104.2 51.5,104.0 51.9,103.5 52.3,102.9 52.7,102.5 53.2,102.4 53.6,102.4 54.0,102.5 54.4,102.5 54.8,102.6 55.2,102.8 55.7,103.1 56.1,103.3 56.5,103.6 56.9,103.8 57.3,103.9 57.7,103.8 58.1,103.4 58.6,103.0 59.0,102.7 59.4,102.8 59.8,103.2 60.2,103.8 60.6,104.4 61.1,104.8 61.5,104.8 61.9,104.5 62.3,104.3 62.7,104.5 63.1,104.9 63.6,105.2 64.0,105.0 64.4,104.4 64.8,103.7 65.2,103.1 65.6,102.7 66.0,102.5 66.5,102.3 66.9,102.0 67.3,101.9 67.7,102.1 68.1,102.4 68.5,102.9 69.0,103.1 69.4,103.2 69.8,102.9 70.2,102.3 70.6,101.8 71.0,101.4 71.5,101.4 71.9,101.9 72.3,102.5 72.7,102.9 73.1,103.1 73.5,103.0 73.9,102.7 74.4,102.2 74.8,101.6 75.2,101.0 75.6,100.6 76.0,100.5 76.4,100.8 76.9,101.4 77.3,102.2 77.7,102.9 78.1,103.3 78.5,103.5 78.9,103.5 79.4,103.5 79.8,103.4 80.2,103.1 80.6,100.9 81.0,94.0 81.4,85.6 81.8,79.5 82.3,75.9 82.7,73.5 83.1,72.4 83.5,71.8 83.9,70.0 84.3,65.6 84.8,60.0 85.2,55.3 85.6,51.4 86.0,48.5 86.4,47.8 86.8,49.9 87.3,53.9 87.7,58.4 88.1,63.3 88.5,68.4 88.9,72.6 89.3,75.7 89.7,78.7 90.2,81.5 90.6,84.5 91.0,87.4 91.4,89.4 91.8,90.2 92.2,90.9 92.7,92.3 93.1,94.1 93.5,95.8 93.9,97.4 94.3,98.6 94.7,99.0 95.2,98.2 95.6,96.1 96.0,93.4 96.4,90.8 96.8,88.5 97.2,86.2 97.6,84.2 98.1,82.5 98.5,80.4 98.9,77.8 99.3,75.3 99.7,73.0 100.1,70.8 100.6,69.2 101.0,68.7 101.4,69.1 101.8,69.8 102.2,71.1 102.6,72.8 103.1,73.9 103.5,74.0 103.9,73.8 104.3,74.0 104.7,74.5 105.1,74.7 105.5,74.5 106.0,74.6 106.4,75.7 106.8,77.4 107.2,79.4 107.6,81.7 108.0,84.5 108.5,87.6 108.9,90.2 109.3,91.6 109.7,91.9 110.1,92.1 110.5,92.9 110.9,93.7 111.4,93.7 111.8,93.4 112.2,92.9 112.6,92.4 113.0,92.0 113.4,91.0 113.9,89.8 114.3,89.4 114.7,88.8 115.1,87.7 115.5,87.0 115.9,87.6 116.4,88.4 116.8,88.4 117.2,88.2 117.6,88.5 118.0,89.1 118.4,89.5 118.8,89.2 119.3,88.7 119.7,88.7 120.1,89.3 120.5,89.9 120.9,89.9 121.3,89.8 121.8,90.8 122.2,92.5 122.6,93.7 123.0,94.0 123.4,93.9 123.8,94.2 124.3,94.8 124.7,94.9 125.1,93.9 125.5,93.1 125.9,93.5 126.3,94.4 126.7,95.1 127.2,95.4 127.6,95.3 128.0,94.9 128.4,94.5 128.8,94.4 129.2,94.2 129.7,93.5 130.1,93.1 130.5,93.2 130.9,93.3 131.3,93.0 131.7,92.9 132.2,93.2 132.6,93.5 133.0,93.6 133.4,93.3 133.8,93.1 134.2,93.8 134.6,94.7 135.1,94.6 135.5,94.0 135.9,93.9 136.3,94.2 136.7,94.4 137.1,94.6 137.6,94.3 138.0,93.8 138.4,94.0 138.8,94.7 139.2,95.2 139.6,95.1 140.1,95.1 140.5,95.1 140.9,94.6 141.3,93.9 141.7,93.6 142.1,94.2 142.5,95.0 143.0,95.4 143.4,95.4 143.8,94.9 144.2,93.8 144.6,92.8 145.0,93.0 145.5,94.0 145.9,95.0 146.3,95.5 146.7,96.1 147.1,96.8 147.5,97.2 148.0,97.0 148.4,96.5 148.8,96.3 149.2,96.2 149.6,96.0 150.0,95.9 150.4,96.0 150.9,96.2 151.3,96.4 151.7,96.6 152.1,97.0 152.5,98.1 152.9,98.7 153.4,98.4 153.8,97.5 154.2,96.4 154.6,95.5 155.0,95.4 155.4,96.2 155.9,96.8 156.3,96.9 156.7,97.2 157.1,97.5 157.5,97.6 157.9,97.2 158.3,96.8 158.8,96.9 159.2,97.6 159.6,98.1 160.0,98.2 160.4,98.1 160.8,98.1 161.3,98.2 161.7,98.3 162.1,98.2 162.5,98.0 162.9,98.3 163.3,98.7 163.7,98.7 164.2,98.7 164.6,99.4 165.0,99.9 165.4,99.7 165.8,99.3 166.2,99.7 166.7,100.9 167.1,102.7 167.5,105.6 167.9,109.7 168.3,114.1 168.7,118.6 169.2,123.5 169.6,128.1 170.0,131.9 170.4,135.5 170.8,139.3 171.2,143.1 171.6,146.9 172.1,150.1 172.5,152.5 172.9,153.7 173.3,153.2 173.7,151.5 174.1,149.3 174.6,147.0 175.0,145.1 175.4,143.2 175.8,141.2 176.2,139.2 176.6,137.4 177.1,135.7 177.5,134.0 177.9,132.5 178.3,131.5 178.7,130.6 179.1,129.7 179.5,128.7 180.0,127.9 180.4,127.5 180.8,127.2 181.2,126.9 181.6,126.8 182.0,126.9 182.5,127.3 182.9,127.9 183.3,128.6 183.7,129.4 184.1,130.2 184.5,131.0 185.0,132.1 185.4,133.4 185.8,134.8 186.2,136.1 186.6,137.4 187.0,138.4 187.4,139.0 187.9,139.3 188.3,139.1 188.7,138.6 189.1,137.9 189.5,137.0 189.9,135.9 190.4,134.8 190.8,133.7 191.2,132.6 191.6,131.7 192.0,130.7 192.4,129.8 192.9,129.0 193.3,128.3 193.7,127.7 194.1,127.3 194.5,127.1 194.9,127.2 195.3,127.6 195.8,128.1 196.2,128.8 196.6,129.6 197.0,130.6 197.4,131.6 197.8,132.7 198.3,133.9 198.7,135.1 199.1,136.3 199.5,137.5 199.9,138.7 200.3,139.9 200.8,141.0 201.2,142.0 201.6,142.9 202.0,143.6 202.4,144.2 202.8,144.4 203.2,144.3 203.7,143.9 204.1,143.3 204.5,142.4 204.9,141.5 205.3,140.5 205.7,139.5 206.2,138.5 206.6,137.6 207.0,136.7 207.4,135.8 207.8,134.8 208.2,134.0 208.7,133.2 209.1,132.6 209.5,132.1 209.9,131.7 210.3,131.4 210.7,131.2 211.1,131.4 211.6,131.8 212.0,132.4 212.4,133.2 212.8,134.2 213.2,135.3 213.6,136.5 214.1,137.7 214.5,138.9 214.9,140.0 215.3,141.0 215.7,142.1 216.1,143.1 216.6,144.2 217.0,145.1 217.4,146.0 217.8,146.7 218.2,147.2 218.6,147.4 219.0,147.4 219.5,147.2 219.9,146.8 220.3,146.2 220.7,145.6 221.1,144.8 221.5,144.1 222.0,143.2 222.4,142.4 222.8,141.7 223.2,140.9 223.6,140.0 224.0,139.2 224.4,138.4 224.9,137.7 225.3,137.1 225.7,136.7 226.1,136.4 226.5,136.4 226.9,136.7 227.4,137.2 227.8,138.0 228.2,138.9 228.6,139.9 229.0,140.9 229.4,141.8 229.9,142.7 230.3,143.5 230.7,144.2 231.1,145.0 231.5,145.7 231.9,146.3 232.3,146.7 232.8,147.1 233.2,147.2 233.6,147.2 234.0,147.0 234.4,146.7 234.8,146.3 235.3,145.8 235.7,145.3 236.1,144.8 236.5,144.4 236.9,144.0 237.3,143.7 237.8,143.3 238.2,142.9 238.6,142.6 239.0,142.4 239.4,142.2 239.8,142.1 240.2,142.1 240.7,142.4 241.1,142.8 241.5,143.4 241.9,144.0 242.3,144.6 242.7,145.1 243.2,145.7 243.6,146.2 244.0,146.7 244.4,147.2 244.8,147.7 245.2,148.3 245.7,148.9 246.1,149.5 246.5,150.0 246.9,150.6 247.3,151.0 247.7,151.3 248.1,151.5 248.6,151.5 249.0,151.3 249.4,151.1 249.8,150.7 250.2,150.4 250.6,150.0 251.1,149.6 251.5,149.2 251.9,148.8 252.3,148.5 252.7,148.2 253.1,147.9 253.6,147.7 254.0,147.5 254.4,147.4 254.8,147.3 255.2,147.3 255.6,147.3 256.0,147.3 256.5,147.4" stroke="#77AC30" stroke-width="0.62"/>
<polyline points="40.7,100.2 41.1,100.2 41.5,100.2 41.9,100.4 42.4,100.7 42.8,101.1 43.2,101.5 43.6,101.8 44.0,102.0 44.4,101.8 44.8,101.4 45.3,100.9 45.7,100.6 46.1,100.5 46.5,100.8 46.9,101.2 47.3,101.5 47.8,101.9 48.2,102.1 48.6,102.3 49.0,102.5 49.4,102.6 49.8,102.5 50.2,102.1 50.7,101.7 51.1,101.3 51.5,101.2 51.9,101.3 52.3,101.5 52.7,101.8 53.2,102.3 53.6,102.9 54.0,103.5 54.4,104.0 54.8,104.4 55.2,104.7 55.7,104.9 56.1,105.0 56.5,105.0 56.9,104.8 57.3,104.6 57.7,104.1 58.1,103.6 58.6,103.0 59.0,102.5 59.4,102.4 59.8,102.7 60.2,103.3 60.6,103.9 61.1,104.3 61.5,104.2 61.9,103.8 62.3,103.3 62.7,102.9 63.1,102.8 63.6,103.0 64.0,103.3 64.4,103.7 64.8,104.1 65.2,104.5 65.6,105.0 66.0,105.7 66.5,106.5 66.9,107.0 67.3,107.0 67.7,106.6 68.1,106.2 68.5,105.8 69.0,105.5 69.4,105.4 69.8,105.2 70.2,104.9 70.6,104.4 71.0,104.1 71.5,103.7 71.9,103.5 72.3,103.4 72.7,103.4 73.1,103.6 73.5,103.9 73.9,104.2 74.4,104.5 74.8,104.7 75.2,104.7 75.6,104.6 76.0,104.3 76.4,104.0 76.9,103.5 77.3,103.1 77.7,103.0 78.1,103.1 78.5,103.3 78.9,103.5 79.4,103.6 79.8,103.6 80.2,103.3 80.6,101.3 81.0,94.5 81.4,85.7 81.8,79.2 82.3,75.4 82.7,72.8 83.1,71.5 83.5,70.8 83.9,69.3 84.3,65.3 84.8,60.1 85.2,55.9 85.6,52.2 86.0,49.1 86.4,48.0 86.8,50.2 87.3,54.3 87.7,58.5 88.1,62.8 88.5,67.5 88.9,71.5 89.3,74.5 89.7,77.5 90.2,80.5 90.6,82.9 91.0,84.9 91.4,86.9 91.8,89.0 92.2,90.9 92.7,92.1 93.1,93.2 93.5,94.8 93.9,96.3 94.3,97.3 94.7,97.5 95.2,96.7 95.6,95.3 96.0,93.4 96.4,90.6 96.8,87.6 97.2,85.2 97.6,83.2 98.1,81.2 98.5,79.7 98.9,78.6 99.3,77.2 99.7,75.0 100.1,72.3 100.6,70.1 101.0,69.0 101.4,68.8 101.8,69.5 102.2,70.9 102.6,72.2 103.1,73.1 103.5,73.4 103.9,73.0 104.3,72.0 104.7,71.2 105.1,71.1 105.5,71.7 106.0,72.7 106.4,74.3 106.8,76.6 107.2,79.1 107.6,81.4 108.0,83.5 108.5,85.4 108.9,87.5 109.3,89.6 109.7,91.0 110.1,91.4 110.5,91.2 110.9,91.0 111.4,91.1 111.8,91.3 112.2,91.1 112.6,90.7 113.0,90.3 113.4,89.8 113.9,89.0 114.3,88.1 114.7,87.9 115.1,88.1 115.5,87.5 115.9,86.4 116.4,85.9 116.8,86.1 117.2,86.5 117.6,86.8 118.0,87.2 118.4,88.0 118.8,88.7 119.3,88.9 119.7,88.8 120.1,88.7 120.5,89.0 120.9,89.4 121.3,89.4 121.8,89.9 122.2,91.2 122.6,92.2 123.0,92.0 123.4,91.1 123.8,91.1 124.3,92.0 124.7,92.7 125.1,92.3 125.5,92.0 125.9,92.7 126.3,93.6 126.7,93.8 127.2,93.3 127.6,92.9 128.0,93.4 128.4,94.1 128.8,93.9 129.2,93.0 129.7,92.3 130.1,91.9 130.5,91.8 130.9,91.9 131.3,91.8 131.7,91.5 132.2,91.5 132.6,92.3 133.0,93.4 133.4,93.6 133.8,93.3 134.2,93.4 134.6,93.6 135.1,93.7 135.5,93.9 135.9,94.4 136.3,95.0 136.7,95.0 137.1,94.3 137.6,93.9 138.0,94.2 138.4,94.5 138.8,94.3 139.2,93.4 139.6,92.8 140.1,93.3 140.5,94.2 140.9,94.8 141.3,95.0 141.7,95.3 142.1,95.6 142.5,95.4 143.0,94.6 143.4,93.9 143.8,94.2 144.2,95.1 144.6,95.6 145.0,95.5 145.5,95.3 145.9,95.5 146.3,95.5 146.7,95.2 147.1,94.8 147.5,94.5 148.0,94.5 148.4,95.0 148.8,95.5 149.2,95.4 149.6,95.0 150.0,94.7 150.4,94.7 150.9,94.8 151.3,95.1 151.7,95.8 152.1,96.3 152.5,96.1 152.9,96.0 153.4,96.4 153.8,96.8 154.2,96.4 154.6,95.7 155.0,95.4 155.4,95.8 155.9,96.2 156.3,96.3 156.7,96.2 157.1,96.4 157.5,96.7 157.9,96.7 158.3,96.8 158.8,97.0 159.2,97.2 159.6,97.1 160.0,96.8 160.4,96.5 160.8,96.3 161.3,96.5 161.7,97.3 162.1,98.0 162.5,98.4 162.9,98.6 163.3,98.7 163.7,98.5 164.2,98.2 164.6,98.2 165.0,98.5 165.4,98.9 165.8,99.6 166.2,100.6 166.7,101.4 167.1,102.2 167.5,104.0 167.9,107.6 168.3,112.4 168.7,117.1 169.2,120.8 169.6,123.8 170.0,127.0 170.4,130.9 170.8,135.1 171.2,139.1 171.6,142.3 172.1,144.7 172.5,146.4 172.9,147.5 173.3,147.7 173.7,147.0 174.1,145.6 174.6,143.7 175.0,141.6 175.4,140.0 175.8,138.7 176.2,137.7 176.6,136.4 177.1,134.9 177.5,133.3 177.9,131.9 178.3,131.0 178.7,130.2 179.1,129.2 179.5,128.2 180.0,127.3 180.4,126.5 180.8,126.0 181.2,125.8 181.6,126.0 182.0,126.3 182.5,126.6 182.9,126.9 183.3,127.3 183.7,127.8 184.1,128.4 184.5,129.1 185.0,130.0 185.4,131.0 185.8,132.2 186.2,133.3 186.6,134.2 187.0,135.0 187.4,135.5 187.9,135.8 188.3,135.9 188.7,135.7 189.1,135.4 189.5,134.8 189.9,134.0 190.4,133.0 190.8,132.1 191.2,131.3 191.6,130.6 192.0,129.9 192.4,129.2 192.9,128.5 193.3,127.8 193.7,127.3 194.1,126.9 194.5,126.7 194.9,126.9 195.3,127.3 195.8,127.9 196.2,128.6 196.6,129.3 197.0,130.2 197.4,131.1 197.8,132.0 198.3,133.0 198.7,133.9 199.1,134.9 199.5,136.0 199.9,137.1 200.3,138.3 200.8,139.4 201.2,140.4 201.6,141.2 202.0,141.9 202.4,142.3 202.8,142.4 203.2,142.2 203.7,141.7 204.1,140.9 204.5,140.0 204.9,139.0 205.3,137.9 205.7,136.9 206.2,136.1 206.6,135.4 207.0,134.8 207.4,134.3 207.8,133.7 208.2,133.1 208.7,132.4 209.1,131.7 209.5,131.1 209.9,130.6 210.3,130.2 210.7,130.1 211.1,130.2 211.6,130.5 212.0,131.1 212.4,131.9 212.8,132.8 213.2,133.7 213.6,134.7 214.1,135.6 214.5,136.5 214.9,137.3 215.3,138.1 215.7,139.1 216.1,140.1 216.6,141.1 217.0,142.0 217.4,142.9 217.8,143.6 218.2,144.1 218.6,144.4 219.0,144.4 219.5,144.1 219.9,143.6 220.3,142.9 220.7,142.2 221.1,141.4 221.5,140.5 222.0,139.6 222.4,138.8 222.8,138.0 223.2,137.3 223.6,136.7 224.0,136.0 224.4,135.5 224.9,135.1 225.3,134.7 225.7,134.4 226.1,134.3 226.5,134.4 226.9,134.7 227.4,135.2 227.8,135.9 228.2,136.8 228.6,137.7 229.0,138.6 229.4,139.4 229.9,140.1 230.3,140.8 230.7,141.5 231.1,142.3 231.5,142.9 231.9,143.5 232.3,143.9 232.8,144.1 233.2,144.2 233.6,144.1 234.0,143.8 234.4,143.5 234.8,143.1 235.3,142.5 235.7,142.0 236.1,141.4 236.5,140.8 236.9,140.4 237.3,140.2 237.8,140.0 238.2,139.9 238.6,139.8 239.0,139.7 239.4,139.7 239.8,139.7 240.2,139.7 240.7,139.7 241.1,139.9 241.5,140.1 241.9,140.5 242.3,140.9 242.7,141.4 243.2,141.8 243.6,142.2 244.0,142.5 244.4,142.9 244.8,143.3 245.2,143.8 245.7,144.4 246.1,145.0 246.5,145.6 246.9,146.1 247.3,146.5 247.7,146.8 248.1,146.9 248.6,146.9 249.0,146.7 249.4,146.5 249.8,146.2 250.2,145.8 250.6,145.3 251.1,144.9 251.5,144.5 251.9,144.3 252.3,144.2 252.7,144.1 253.1,144.1 253.6,144.1 254.0,144.0 254.4,143.9 254.8,143.9 255.2,144.0 255.6,144.0 256.0,144.1 256.5,144.1" stroke="#A2142F" stroke-width="0.62"/>
<polyline points="40.7,105.0 41.1,105.4 41.5,105.9 41.9,106.2 42.4,106.3 42.8,105.9 43.2,105.4 43.6,105.1 44.0,105.0 44.4,105.3 44.8,105.8 45.3,106.3 45.7,106.6 46.1,106.6 46.5,106.5 46.9,106.3 47.3,106.0 47.8,105.7 48.2,105.5 48.6,105.4 49.0,105.4 49.4,105.6 49.8,105.8 50.2,106.0 50.7,105.9 51.1,105.6 51.5,105.2 51.9,104.8 52.3,104.6 52.7,104.6 53.2,104.7 53.6,104.8 54.0,104.8 54.4,104.6 54.8,104.2 55.2,103.7 55.7,103.3 56.1,103.3 56.5,103.7 56.9,104.4 57.3,105.1 57.7,105.6 58.1,105.9 58.6,106.0 59.0,105.9 59.4,105.6 59.8,105.1 60.2,104.7 60.6,104.4 61.1,104.3 61.5,104.3 61.9,104.4 62.3,104.5 62.7,104.6 63.1,104.5 63.6,104.0 64.0,103.5 64.4,103.2 64.8,103.3 65.2,103.7 65.6,104.1 66.0,104.2 66.5,104.1 66.9,103.7 67.3,103.1 67.7,102.5 68.1,102.0 68.5,102.0 69.0,102.4 69.4,103.3 69.8,104.2 70.2,104.8 70.6,105.0 71.0,104.9 71.5,104.8 71.9,104.7 72.3,104.7 72.7,104.6 73.1,104.6 73.5,104.6 73.9,104.7 74.4,104.9 74.8,104.9 75.2,104.8 75.6,104.7 76.0,104.6 76.4,104.7 76.9,104.8 77.3,104.9 77.7,104.7 78.1,104.4 78.5,104.0 78.9,103.9 79.4,103.8 79.8,103.6 80.2,103.1 80.6,98.8 81.0,90.6 81.4,82.7 81.8,77.6 82.3,74.1 82.7,71.9 83.1,70.8 83.5,69.8 83.9,66.8 84.3,61.5 84.8,56.0 85.2,51.2 85.6,47.1 86.0,44.5 86.4,44.8 86.8,48.6 87.3,54.0 87.7,59.4 88.1,64.5 88.5,69.0 88.9,72.5 89.3,76.0 89.7,79.4 90.2,82.6 90.6,85.1 91.0,86.4 91.4,87.1 91.8,88.5 92.2,90.4 92.7,91.4 93.1,91.8 93.5,92.5 93.9,93.4 94.3,94.1 94.7,94.0 95.2,92.8 95.6,90.6 96.0,87.5 96.4,84.5 96.8,82.4 97.2,81.1 97.6,80.0 98.1,78.6 98.5,76.7 98.9,74.8 99.3,72.9 99.7,70.8 100.1,68.8 100.6,66.9 101.0,65.8 101.4,65.8 101.8,66.9 102.2,68.0 102.6,68.4 103.1,68.4 103.5,68.8 103.9,69.1 104.3,68.7 104.7,68.3 105.1,68.6 105.5,69.7 106.0,71.0 106.4,72.2 106.8,73.7 107.2,75.9 107.6,78.2 108.0,80.5 108.5,82.4 108.9,84.3 109.3,86.4 109.7,88.5 110.1,90.0 110.5,90.5 110.9,90.2 111.4,89.9 111.8,89.8 112.2,89.6 112.6,88.6 113.0,87.3 113.4,86.3 113.9,85.4 114.3,84.3 114.7,83.4 115.1,83.1 115.5,83.4 115.9,83.8 116.4,83.6 116.8,83.0 117.2,82.8 117.6,82.7 118.0,82.9 118.4,84.0 118.8,85.6 119.3,86.8 119.7,87.7 120.1,88.3 120.5,89.1 120.9,90.0 121.3,90.6 121.8,90.8 122.2,90.8 122.6,90.7 123.0,90.2 123.4,89.6 123.8,89.4 124.3,90.1 124.7,91.2 125.1,91.5 125.5,91.4 125.9,92.1 126.3,93.0 126.7,93.2 127.2,93.0 127.6,92.6 128.0,92.4 128.4,92.5 128.8,92.4 129.2,91.7 129.7,90.9 130.1,90.7 130.5,90.4 130.9,90.0 131.3,90.4 131.7,91.2 132.2,91.6 132.6,91.7 133.0,91.7 133.4,91.9 133.8,92.2 134.2,93.0 134.6,93.8 135.1,94.4 135.5,94.5 135.9,94.1 136.3,93.2 136.7,92.4 137.1,92.5 137.6,93.3 138.0,94.1 138.4,94.4 138.8,94.3 139.2,93.9 139.6,93.8 140.1,94.3 140.5,94.6 140.9,94.9 141.3,95.2 141.7,94.8 142.1,94.1 142.5,94.0 143.0,94.1 143.4,93.9 143.8,93.5 144.2,93.3 144.6,93.8 145.0,94.4 145.5,94.7 145.9,94.9 146.3,94.9 146.7,94.6 147.1,94.4 147.5,94.2 148.0,93.5 148.4,92.9 148.8,93.5 149.2,94.5 149.6,94.5 150.0,93.8 150.4,93.3 150.9,93.6 151.3,94.5 151.7,94.9 152.1,94.2 152.5,93.6 152.9,94.2 153.4,95.1 153.8,95.3 154.2,95.2 154.6,95.4 155.0,95.9 155.4,96.4 155.9,96.3 156.3,95.7 156.7,94.6 157.1,93.6 157.5,93.5 157.9,94.0 158.3,94.3 158.8,94.4 159.2,94.5 159.6,94.4 160.0,94.7 160.4,95.4 160.8,96.1 161.3,96.2 161.7,96.0 162.1,96.1 162.5,96.3 162.9,96.3 163.3,96.5 163.7,97.2 164.2,97.7 164.6,97.3 165.0,96.6 165.4,96.8 165.8,97.5 166.2,98.2 166.7,98.9 167.1,100.5 167.5,103.4 167.9,107.1 168.3,111.2 168.7,115.4 169.2,119.6 169.6,123.5 170.0,127.3 170.4,131.4 170.8,135.7 171.2,139.6 171.6,142.6 172.1,145.0 172.5,146.7 172.9,147.5 173.3,147.2 173.7,145.8 174.1,143.6 174.6,141.4 175.0,139.1 175.4,136.9 175.8,134.8 176.2,133.0 176.6,131.1 177.1,129.5 177.5,128.1 177.9,127.1 178.3,126.5 178.7,125.8 179.1,124.9 179.5,124.0 180.0,123.4 180.4,122.8 180.8,122.1 181.2,121.8 181.6,121.8 182.0,122.0 182.5,122.3 182.9,123.0 183.3,123.8 183.7,124.7 184.1,125.7 184.5,126.6 185.0,127.4 185.4,128.3 185.8,129.2 186.2,130.1 186.6,131.0 187.0,131.8 187.4,132.3 187.9,132.5 188.3,132.2 188.7,131.7 189.1,130.9 189.5,130.0 189.9,129.1 190.4,128.3 190.8,127.5 191.2,126.9 191.6,126.3 192.0,125.6 192.4,124.8 192.9,124.1 193.3,123.5 193.7,123.0 194.1,122.5 194.5,122.2 194.9,122.2 195.3,122.4 195.8,122.9 196.2,123.6 196.6,124.5 197.0,125.5 197.4,126.5 197.8,127.5 198.3,128.4 198.7,129.4 199.1,130.4 199.5,131.5 199.9,132.6 200.3,133.9 200.8,135.0 201.2,136.1 201.6,136.9 202.0,137.4 202.4,137.6 202.8,137.6 203.2,137.4 203.7,137.0 204.1,136.5 204.5,135.8 204.9,135.0 205.3,134.1 205.7,133.3 206.2,132.5 206.6,131.7 207.0,130.9 207.4,130.1 207.8,129.2 208.2,128.5 208.7,127.8 209.1,127.2 209.5,126.8 209.9,126.5 210.3,126.4 210.7,126.4 211.1,126.7 211.6,127.1 212.0,127.8 212.4,128.6 212.8,129.6 213.2,130.6 213.6,131.6 214.1,132.5 214.5,133.3 214.9,134.1 215.3,135.0 215.7,135.8 216.1,136.7 216.6,137.5 217.0,138.2 217.4,138.9 217.8,139.4 218.2,139.9 218.6,140.2 219.0,140.3 219.5,140.1 219.9,139.7 220.3,139.1 220.7,138.3 221.1,137.5 221.5,136.5 222.0,135.7 222.4,134.9 222.8,134.2 223.2,133.5 223.6,132.8 224.0,132.2 224.4,131.6 224.9,131.0 225.3,130.6 225.7,130.4 226.1,130.4 226.5,130.7 226.9,131.2 227.4,131.9 227.8,132.8 228.2,133.8 228.6,134.7 229.0,135.5 229.4,136.2 229.9,136.8 230.3,137.4 230.7,138.0 231.1,138.6 231.5,139.1 231.9,139.5 232.3,139.9 232.8,140.1 233.2,140.3 233.6,140.3 234.0,140.1 234.4,139.7 234.8,139.1 235.3,138.5 235.7,137.9 236.1,137.3 236.5,136.9 236.9,136.4 237.3,136.1 237.8,135.7 238.2,135.5 238.6,135.3 239.0,135.4 239.4,135.5 239.8,135.7 240.2,136.0 240.7,136.3 241.1,136.6 241.5,137.0 241.9,137.4 242.3,137.8 242.7,138.2 243.2,138.6 243.6,139.0 244.0,139.4 244.4,139.9 244.8,140.4 245.2,140.9 245.7,141.4 246.1,141.9 246.5,142.5 246.9,143.0 247.3,143.4 247.7,143.7 248.1,143.7 248.6,143.6 249.0,143.3 249.4,142.9 249.8,142.4 250.2,142.0 250.6,141.7 251.1,141.4 251.5,141.3 251.9,141.1 252.3,141.0 252.7,140.8 253.1,140.7 253.6,140.5 254.0,140.3 254.4,140.2 254.8,140.1 255.2,140.0 255.6,139.9 256.0,139.9 256.5,139.8" stroke="#EDB120" stroke-width="0.62"/>
<polyline points="40.7,105.6 41.1,106.2 41.5,106.6 41.9,106.6 42.4,106.4 42.8,106.2 43.2,106.1 43.6,106.0 44.0,105.8 44.4,105.3 44.8,104.7 45.3,104.2 45.7,103.8 46.1,103.6 46.5,103.3 46.9,102.9 47.3,102.4 47.8,102.1 48.2,102.1 48.6,102.4 49.0,103.0 49.4,103.5 49.8,104.0 50.2,104.3 50.7,104.3 51.1,104.2 51.5,103.9 51.9,103.7 52.3,103.7 52.7,103.8 53.2,103.8 53.6,103.5 54.0,103.0 54.4,102.6 54.8,102.4 55.2,102.5 55.7,102.8 56.1,103.1 56.5,103.3 56.9,103.4 57.3,103.4 57.7,103.4 58.1,103.3 58.6,103.1 59.0,102.9 59.4,102.7 59.8,102.5 60.2,102.5 60.6,102.6 61.1,103.0 61.5,103.4 61.9,103.7 62.3,103.8 62.7,103.7 63.1,103.4 63.6,103.3 64.0,103.4 64.4,103.6 64.8,103.8 65.2,103.9 65.6,103.8 66.0,103.6 66.5,103.5 66.9,103.4 67.3,103.4 67.7,103.6 68.1,103.9 68.5,104.3 69.0,104.5 69.4,104.6 69.8,104.6 70.2,104.3 70.6,104.0 71.0,103.6 71.5,103.5 71.9,103.5 72.3,103.6 72.7,103.5 73.1,103.3 73.5,103.3 73.9,103.4 74.4,103.8 74.8,104.3 75.2,104.8 75.6,105.3 76.0,105.6 76.4,105.7 76.9,105.6 77.3,105.2 77.7,104.7 78.1,104.3 78.5,104.1 78.9,104.1 79.4,104.0 79.8,103.6 80.2,102.7 80.6,96.5 81.0,87.2 81.4,80.0 81.8,76.0 82.3,73.1 82.7,71.7 83.1,71.1 83.5,70.2 83.9,66.4 84.3,60.4 84.8,55.3 85.2,50.9 85.6,47.2 86.0,45.6 86.4,47.3 86.8,51.6 87.3,56.6 87.7,61.4 88.1,66.0 88.5,69.9 88.9,73.3 89.3,76.5 89.7,78.8 90.2,80.4 90.6,82.4 91.0,84.6 91.4,86.5 91.8,88.4 92.2,90.5 92.7,92.7 93.1,94.5 93.5,95.3 93.9,95.2 94.3,94.5 94.7,93.3 95.2,91.9 95.6,90.5 96.0,88.9 96.4,87.1 96.8,85.3 97.2,83.1 97.6,80.8 98.1,78.9 98.5,77.6 98.9,76.3 99.3,74.2 99.7,71.3 100.1,68.3 100.6,66.0 101.0,64.9 101.4,65.4 101.8,67.0 102.2,69.1 102.6,70.9 103.1,71.8 103.5,71.5 103.9,70.4 104.3,69.4 104.7,69.0 105.1,69.4 105.5,70.5 106.0,72.2 106.4,74.3 106.8,76.4 107.2,77.9 107.6,78.9 108.0,80.8 108.5,83.3 108.9,85.5 109.3,87.6 109.7,89.7 110.1,91.2 110.5,92.0 110.9,91.9 111.4,91.6 111.8,91.2 112.2,90.3 112.6,88.7 113.0,87.3 113.4,86.5 113.9,86.4 114.3,86.3 114.7,85.8 115.1,85.2 115.5,85.1 115.9,84.8 116.4,84.2 116.8,83.9 117.2,84.4 117.6,85.1 118.0,85.2 118.4,84.9 118.8,85.1 119.3,85.7 119.7,86.4 120.1,87.2 120.5,87.7 120.9,87.9 121.3,88.2 121.8,88.7 122.2,89.2 122.6,89.5 123.0,89.7 123.4,89.9 123.8,90.6 124.3,91.5 124.7,91.4 125.1,90.7 125.5,90.3 125.9,90.6 126.3,90.8 126.7,90.6 127.2,90.0 127.6,89.2 128.0,88.4 128.4,87.7 128.8,87.6 129.2,87.9 129.7,88.1 130.1,87.7 130.5,87.0 130.9,86.7 131.3,86.7 131.7,86.8 132.2,87.7 132.6,89.0 133.0,89.9 133.4,90.1 133.8,89.9 134.2,89.7 134.6,89.6 135.1,89.5 135.5,89.8 135.9,90.1 136.3,89.7 136.7,88.6 137.1,88.4 137.6,89.2 138.0,90.2 138.4,90.5 138.8,90.3 139.2,90.3 139.6,90.3 140.1,90.4 140.5,90.8 140.9,91.1 141.3,90.6 141.7,89.4 142.1,88.3 142.5,87.7 143.0,87.6 143.4,87.9 143.8,88.4 144.2,88.7 144.6,88.6 145.0,88.7 145.5,89.4 145.9,89.9 146.3,89.6 146.7,89.3 147.1,89.6 147.5,89.8 148.0,89.8 148.4,89.2 148.8,88.2 149.2,87.9 149.6,88.1 150.0,87.9 150.4,87.2 150.9,87.0 151.3,87.1 151.7,87.6 152.1,88.4 152.5,89.2 152.9,89.4 153.4,89.3 153.8,89.3 154.2,89.5 154.6,89.6 155.0,89.7 155.4,89.6 155.9,88.8 156.3,87.5 156.7,86.5 157.1,86.4 157.5,86.8 157.9,87.5 158.3,88.2 158.8,88.7 159.2,89.0 159.6,89.4 160.0,89.9 160.4,90.0 160.8,89.5 161.3,88.9 161.7,88.5 162.1,88.7 162.5,89.0 162.9,89.0 163.3,88.9 163.7,88.8 164.2,88.8 164.6,89.2 165.0,90.0 165.4,90.6 165.8,91.4 166.2,92.5 166.7,93.8 167.1,95.9 167.5,99.5 167.9,103.6 168.3,107.7 168.7,111.1 169.2,114.4 169.6,118.0 170.0,121.9 170.4,125.9 170.8,129.7 171.2,132.9 171.6,135.4 172.1,137.8 172.5,139.6 172.9,140.0 173.3,139.0 173.7,137.0 174.1,135.1 174.6,133.6 175.0,132.1 175.4,130.5 175.8,128.9 176.2,127.2 176.6,125.5 177.1,124.0 177.5,122.7 177.9,121.7 178.3,121.0 178.7,120.4 179.1,119.8 179.5,119.1 180.0,118.6 180.4,118.3 180.8,118.1 181.2,117.9 181.6,117.8 182.0,118.0 182.5,118.3 182.9,118.8 183.3,119.4 183.7,120.3 184.1,121.2 184.5,122.2 185.0,123.3 185.4,124.5 185.8,125.6 186.2,126.6 186.6,127.3 187.0,127.8 187.4,128.0 187.9,128.0 188.3,127.7 188.7,127.2 189.1,126.5 189.5,125.7 189.9,124.9 190.4,124.2 190.8,123.5 191.2,122.8 191.6,122.1 192.0,121.3 192.4,120.5 192.9,119.8 193.3,119.3 193.7,119.0 194.1,118.9 194.5,119.1 194.9,119.5 195.3,120.0 195.8,120.7 196.2,121.4 196.6,122.1 197.0,122.9 197.4,123.6 197.8,124.4 198.3,125.2 198.7,126.1 199.1,127.1 199.5,128.2 199.9,129.4 200.3,130.6 200.8,131.7 201.2,132.7 201.6,133.5 202.0,134.1 202.4,134.5 202.8,134.6 203.2,134.4 203.7,134.0 204.1,133.4 204.5,132.7 204.9,131.9 205.3,131.0 205.7,130.1 206.2,129.3 206.6,128.8 207.0,128.2 207.4,127.5 207.8,126.8 208.2,125.9 208.7,125.0 209.1,124.1 209.5,123.5 209.9,123.0 210.3,122.8 210.7,122.9 211.1,123.2 211.6,123.9 212.0,124.7 212.4,125.6 212.8,126.7 213.2,127.9 213.6,129.0 214.1,130.0 214.5,130.9 214.9,131.7 215.3,132.6 215.7,133.4 216.1,134.3 216.6,135.1 217.0,135.8 217.4,136.3 217.8,136.7 218.2,137.0 218.6,137.1 219.0,137.1 219.5,136.9 219.9,136.6 220.3,136.3 220.7,135.8 221.1,135.3 221.5,134.5 222.0,133.8 222.4,133.0 222.8,132.2 223.2,131.3 223.6,130.4 224.0,129.6 224.4,129.0 224.9,128.6 225.3,128.4 225.7,128.5 226.1,128.8 226.5,129.3 226.9,129.8 227.4,130.3 227.8,130.9 228.2,131.4 228.6,132.0 229.0,132.6 229.4,133.2 229.9,133.9 230.3,134.5 230.7,135.2 231.1,135.8 231.5,136.3 231.9,136.7 232.3,137.0 232.8,137.2 233.2,137.2 233.6,137.1 234.0,136.9 234.4,136.5 234.8,136.1 235.3,135.6 235.7,135.0 236.1,134.4 236.5,134.0 236.9,133.7 237.3,133.6 237.8,133.6 238.2,133.6 238.6,133.5 239.0,133.5 239.4,133.6 239.8,133.6 240.2,133.8 240.7,134.0 241.1,134.3 241.5,134.6 241.9,134.9 242.3,135.4 242.7,135.8 243.2,136.3 243.6,136.8 244.0,137.3 244.4,137.8 244.8,138.3 245.2,138.7 245.7,139.2 246.1,139.6 246.5,140.1 246.9,140.5 247.3,140.9 247.7,141.0 248.1,141.0 248.6,140.7 249.0,140.3 249.4,139.8 249.8,139.4 250.2,139.1 250.6,138.9 251.1,138.7 251.5,138.7 251.9,138.6 252.3,138.6 252.7,138.4 253.1,138.3 253.6,138.2 254.0,138.0 254.4,137.7 254.8,137.5 255.2,137.2 255.6,137.0 256.0,136.8 256.5,136.6" stroke="#7E2F8E" stroke-width="0.62"/>
<polyline points="40.7,102.8 41.1,102.4 41.5,102.1 41.9,101.5 42.4,100.7 42.8,100.0 43.2,99.6 43.6,99.7 44.0,100.2 44.4,100.9 44.8,101.7 45.3,102.3 45.7,102.6 46.1,102.7 46.5,102.8 46.9,102.9 47.3,103.0 47.8,102.8 48.2,102.5 48.6,102.1 49.0,101.7 49.4,101.6 49.8,101.6 50.2,101.8 50.7,102.0 51.1,102.1 51.5,102.3 51.9,102.6 52.3,103.2 52.7,103.7 53.2,104.0 53.6,103.9 54.0,103.5 54.4,102.9 54.8,102.4 55.2,102.1 55.7,102.0 56.1,102.1 56.5,102.2 56.9,102.5 57.3,102.9 57.7,103.4 58.1,103.8 58.6,103.9 59.0,103.8 59.4,103.6 59.8,103.5 60.2,103.4 60.6,103.6 61.1,103.9 61.5,104.3 61.9,104.9 62.3,105.4 62.7,105.9 63.1,106.4 63.6,106.7 64.0,106.8 64.4,106.6 64.8,106.3 65.2,105.9 65.6,105.5 66.0,105.2 66.5,105.1 66.9,104.9 67.3,104.6 67.7,104.1 68.1,103.7 68.5,103.4 69.0,103.4 69.4,103.4 69.8,103.5 70.2,103.7 70.6,103.9 71.0,104.1 71.5,104.4 71.9,104.6 72.3,104.6 72.7,104.3 73.1,103.9 73.5,103.4 73.9,103.1 74.4,103.1 74.8,103.4 75.2,103.9 75.6,104.3 76.0,104.4 76.4,104.2 76.9,103.7 77.3,103.3 77.7,103.2 78.1,103.5 78.5,104.0 78.9,104.2 79.4,104.2 79.8,104.0 80.2,103.3 80.6,99.6 81.0,91.7 81.4,83.6 81.8,78.1 82.3,74.6 82.7,72.5 83.1,71.6 83.5,70.9 83.9,68.9 84.3,64.6 84.8,60.0 85.2,56.1 85.6,52.7 86.0,50.3 86.4,50.3 86.8,53.0 87.3,56.9 87.7,61.1 88.1,65.8 88.5,70.7 88.9,74.6 89.3,77.4 89.7,79.7 90.2,81.6 90.6,83.7 91.0,86.1 91.4,88.6 91.8,90.1 92.2,90.6 92.7,91.2 93.1,92.6 93.5,93.6 93.9,93.6 94.3,93.1 94.7,92.3 95.2,91.3 95.6,90.5 96.0,89.7 96.4,88.5 96.8,87.0 97.2,85.1 97.6,82.8 98.1,80.3 98.5,78.2 98.9,76.1 99.3,73.6 99.7,71.2 100.1,68.8 100.6,66.6 101.0,65.1 101.4,64.7 101.8,65.4 102.2,66.8 102.6,67.8 103.1,68.2 103.5,68.3 103.9,67.7 104.3,66.8 104.7,66.4 105.1,66.5 105.5,67.2 106.0,68.8 106.4,70.9 106.8,73.0 107.2,75.2 107.6,77.9 108.0,80.5 108.5,82.6 108.9,84.1 109.3,85.0 109.7,85.7 110.1,86.6 110.5,87.9 110.9,89.3 111.4,90.1 111.8,90.1 112.2,89.2 112.6,88.2 113.0,87.5 113.4,86.4 113.9,85.1 114.3,84.7 114.7,85.4 115.1,85.7 115.5,85.0 115.9,83.8 116.4,82.7 116.8,82.1 117.2,82.3 117.6,83.2 118.0,83.7 118.4,83.9 118.8,84.1 119.3,84.4 119.7,84.9 120.1,85.7 120.5,86.7 120.9,87.5 121.3,88.0 121.8,88.4 122.2,88.7 122.6,89.1 123.0,89.2 123.4,89.1 123.8,88.9 124.3,88.9 124.7,89.1 125.1,89.3 125.5,89.4 125.9,89.0 126.3,88.1 126.7,87.4 127.2,87.3 127.6,87.9 128.0,88.4 128.4,88.5 128.8,88.2 129.2,88.0 129.7,87.9 130.1,87.7 130.5,87.5 130.9,87.3 131.3,86.8 131.7,86.4 132.2,86.5 132.6,86.8 133.0,87.1 133.4,87.6 133.8,88.1 134.2,88.8 134.6,89.4 135.1,89.7 135.5,89.8 135.9,89.8 136.3,89.6 136.7,89.2 137.1,89.0 137.6,88.6 138.0,88.4 138.4,88.8 138.8,89.5 139.2,90.1 139.6,90.4 140.1,90.5 140.5,90.0 140.9,89.5 141.3,89.7 141.7,90.2 142.1,90.1 142.5,89.4 143.0,89.4 143.4,90.0 143.8,89.8 144.2,88.7 144.6,87.6 145.0,87.6 145.5,88.7 145.9,90.1 146.3,91.1 146.7,91.8 147.1,91.8 147.5,90.7 148.0,89.6 148.4,89.6 148.8,91.2 149.2,92.9 149.6,92.7 150.0,91.4 150.4,90.6 150.9,90.7 151.3,91.2 151.7,91.4 152.1,91.6 152.5,91.7 152.9,91.8 153.4,91.8 153.8,91.7 154.2,91.4 154.6,91.4 155.0,91.9 155.4,92.2 155.9,92.0 156.3,91.6 156.7,91.4 157.1,91.3 157.5,91.0 157.9,90.6 158.3,90.8 158.8,91.4 159.2,91.8 159.6,92.0 160.0,91.9 160.4,91.7 160.8,91.6 161.3,91.9 161.7,92.3 162.1,92.4 162.5,92.5 162.9,92.7 163.3,92.6 163.7,92.6 164.2,93.4 164.6,93.8 165.0,93.5 165.4,93.1 165.8,93.5 166.2,94.3 166.7,95.5 167.1,97.2 167.5,100.0 167.9,103.7 168.3,108.2 168.7,113.1 169.2,117.5 169.6,120.8 170.0,123.6 170.4,126.8 170.8,130.4 171.2,134.3 171.6,137.4 172.1,139.7 172.5,141.3 172.9,142.1 173.3,141.4 173.7,139.6 174.1,137.7 174.6,136.1 175.0,134.7 175.4,133.3 175.8,132.1 176.2,130.9 176.6,129.5 177.1,128.2 177.5,126.7 177.9,125.4 178.3,124.2 178.7,123.1 179.1,122.5 179.5,122.2 180.0,121.8 180.4,121.4 180.8,121.2 181.2,121.1 181.6,121.2 182.0,121.3 182.5,121.7 182.9,122.2 183.3,122.6 183.7,122.9 184.1,123.2 184.5,123.8 185.0,124.7 185.4,125.8 185.8,127.0 186.2,128.2 186.6,129.2 187.0,130.0 187.4,130.5 187.9,130.7 188.3,130.5 188.7,130.1 189.1,129.4 189.5,128.6 189.9,127.6 190.4,126.7 190.8,125.9 191.2,125.2 191.6,124.5 192.0,123.9 192.4,123.2 192.9,122.5 193.3,121.8 193.7,121.2 194.1,120.8 194.5,120.7 194.9,120.8 195.3,121.2 195.8,121.9 196.2,122.7 196.6,123.5 197.0,124.5 197.4,125.3 197.8,126.1 198.3,126.7 198.7,127.3 199.1,128.0 199.5,128.8 199.9,129.7 200.3,130.7 200.8,131.7 201.2,132.7 201.6,133.4 202.0,134.0 202.4,134.3 202.8,134.4 203.2,134.3 203.7,133.9 204.1,133.4 204.5,132.6 204.9,131.8 205.3,130.8 205.7,129.9 206.2,129.0 206.6,128.2 207.0,127.5 207.4,126.9 207.8,126.4 208.2,125.8 208.7,125.2 209.1,124.7 209.5,124.2 209.9,123.8 210.3,123.6 210.7,123.6 211.1,123.8 211.6,124.2 212.0,124.8 212.4,125.5 212.8,126.3 213.2,127.1 213.6,128.0 214.1,128.8 214.5,129.6 214.9,130.4 215.3,131.2 215.7,131.9 216.1,132.6 216.6,133.3 217.0,133.9 217.4,134.6 217.8,135.1 218.2,135.5 218.6,135.8 219.0,135.8 219.5,135.5 219.9,135.1 220.3,134.6 220.7,134.0 221.1,133.3 221.5,132.5 222.0,131.8 222.4,131.2 222.8,130.8 223.2,130.3 223.6,129.9 224.0,129.5 224.4,129.1 224.9,128.7 225.3,128.4 225.7,128.2 226.1,128.1 226.5,128.2 226.9,128.6 227.4,129.2 227.8,130.0 228.2,130.7 228.6,131.5 229.0,132.2 229.4,132.8 229.9,133.4 230.3,134.0 230.7,134.6 231.1,135.3 231.5,135.8 231.9,136.3 232.3,136.6 232.8,136.9 233.2,137.0 233.6,136.9 234.0,136.6 234.4,136.2 234.8,135.8 235.3,135.2 235.7,134.8 236.1,134.4 236.5,134.1 236.9,133.9 237.3,133.8 237.8,133.6 238.2,133.4 238.6,133.3 239.0,133.1 239.4,133.0 239.8,133.0 240.2,133.1 240.7,133.3 241.1,133.5 241.5,133.7 241.9,134.0 242.3,134.3 242.7,134.7 243.2,135.2 243.6,135.7 244.0,136.1 244.4,136.5 244.8,136.8 245.2,137.2 245.7,137.7 246.1,138.1 246.5,138.6 246.9,139.0 247.3,139.2 247.7,139.4 248.1,139.3 248.6,139.2 249.0,139.0 249.4,138.7 249.8,138.3 250.2,137.8 250.6,137.3 251.1,136.9 251.5,136.6 251.9,136.4 252.3,136.2 252.7,136.1 253.1,135.9 253.6,135.8 254.0,135.6 254.4,135.5 254.8,135.3 255.2,135.2 255.6,135.2 256.0,135.1 256.5,135.1" stroke="#D95319" stroke-width="0.62"/>
<polyline points="40.7,103.9 41.1,104.4 41.5,104.8 41.9,104.7 42.4,104.2 42.8,103.5 43.2,103.0 43.6,102.9 44.0,103.1 44.4,103.4 44.8,103.5 45.3,103.3 45.7,103.0 46.1,102.9 46.5,102.9 46.9,103.0 47.3,102.9 47.8,102.6 48.2,102.3 48.6,102.1 49.0,102.2 49.4,102.4 49.8,102.8 50.2,103.3 50.7,103.6 51.1,103.8 51.5,103.8 51.9,103.8 52.3,103.9 52.7,103.9 53.2,104.0 53.6,104.2 54.0,104.3 54.4,104.6 54.8,105.0 55.2,105.3 55.7,105.6 56.1,105.6 56.5,105.5 56.9,105.4 57.3,105.4 57.7,105.5 58.1,105.7 58.6,106.0 59.0,106.1 59.4,106.1 59.8,105.8 60.2,105.5 60.6,105.2 61.1,105.1 61.5,105.1 61.9,105.2 62.3,105.1 62.7,105.1 63.1,105.1 63.6,105.2 64.0,105.3 64.4,105.3 64.8,105.0 65.2,104.5 65.6,104.1 66.0,103.9 66.5,103.8 66.9,103.8 67.3,103.9 67.7,104.2 68.1,104.6 68.5,105.2 69.0,105.9 69.4,106.6 69.8,107.1 70.2,107.3 70.6,107.1 71.0,106.5 71.5,105.9 71.9,105.4 72.3,105.3 72.7,105.7 73.1,106.1 73.5,106.4 73.9,106.5 74.4,106.5 74.8,106.6 75.2,106.8 75.6,107.0 76.0,107.0 76.4,106.7 76.9,106.4 77.3,106.0 77.7,105.8 78.1,105.5 78.5,104.9 78.9,104.2 79.4,103.9 79.8,103.8 80.2,103.4 80.6,101.2 81.0,94.2 81.4,85.6 81.8,79.4 82.3,75.7 82.7,73.0 83.1,71.8 83.5,71.2 83.9,69.7 84.3,65.5 84.8,59.8 85.2,55.0 85.6,50.9 86.0,47.7 86.4,46.7 86.8,48.9 87.3,53.0 87.7,57.3 88.1,61.8 88.5,67.0 88.9,71.7 89.3,75.2 89.7,78.0 90.2,80.3 90.6,82.3 91.0,84.2 91.4,86.0 91.8,87.8 92.2,89.6 92.7,91.3 93.1,92.8 93.5,93.5 93.9,93.9 94.3,94.5 94.7,94.8 95.2,94.3 95.6,93.2 96.0,91.9 96.4,90.2 96.8,88.3 97.2,85.5 97.6,82.2 98.1,79.5 98.5,77.3 98.9,75.5 99.3,73.8 99.7,72.1 100.1,70.2 100.6,68.5 101.0,67.3 101.4,66.6 101.8,66.4 102.2,67.2 102.6,68.7 103.1,69.9 103.5,70.6 103.9,70.6 104.3,70.3 104.7,69.7 105.1,68.9 105.5,68.8 106.0,70.2 106.4,72.5 106.8,74.9 107.2,76.9 107.6,78.4 108.0,79.9 108.5,81.8 108.9,83.6 109.3,85.1 109.7,86.7 110.1,88.5 110.5,89.8 110.9,89.9 111.4,89.2 111.8,88.9 112.2,88.8 112.6,88.3 113.0,87.1 113.4,85.8 113.9,84.7 114.3,84.1 114.7,83.4 115.1,82.7 115.5,81.7 115.9,80.9 116.4,80.4 116.8,80.5 117.2,80.7 117.6,80.6 118.0,80.8 118.4,81.5 118.8,82.4 119.3,83.4 119.7,84.2 120.1,84.4 120.5,84.1 120.9,84.0 121.3,84.3 121.8,84.8 122.2,85.4 122.6,86.4 123.0,87.3 123.4,87.3 123.8,86.5 124.3,85.6 124.7,85.3 125.1,85.9 125.5,87.0 125.9,87.6 126.3,87.8 126.7,87.5 127.2,86.8 127.6,86.2 128.0,86.1 128.4,86.2 128.8,86.1 129.2,85.8 129.7,85.4 130.1,84.9 130.5,84.6 130.9,84.7 131.3,84.6 131.7,84.5 132.2,84.4 132.6,84.1 133.0,83.9 133.4,84.4 133.8,85.1 134.2,85.4 134.6,85.2 135.1,85.0 135.5,85.4 135.9,85.8 136.3,85.7 136.7,85.7 137.1,86.4 137.6,87.1 138.0,86.8 138.4,85.7 138.8,84.9 139.2,84.9 139.6,85.2 140.1,85.0 140.5,84.7 140.9,84.7 141.3,85.0 141.7,84.9 142.1,84.3 142.5,83.8 143.0,83.8 143.4,83.7 143.8,83.5 144.2,83.3 144.6,83.4 145.0,83.7 145.5,83.9 145.9,83.9 146.3,83.8 146.7,83.7 147.1,83.9 147.5,84.3 148.0,84.4 148.4,84.0 148.8,83.9 149.2,84.3 149.6,84.5 150.0,84.2 150.4,83.9 150.9,83.8 151.3,83.8 151.7,83.6 152.1,83.5 152.5,83.6 152.9,84.0 153.4,84.5 153.8,84.8 154.2,84.7 154.6,84.4 155.0,83.9 155.4,83.4 155.9,83.0 156.3,82.9 156.7,83.0 157.1,83.1 157.5,83.4 157.9,83.9 158.3,83.5 158.8,82.5 159.2,81.6 159.6,81.2 160.0,81.5 160.4,82.6 160.8,84.2 161.3,85.6 161.7,86.6 162.1,86.5 162.5,85.9 162.9,85.8 163.3,86.1 163.7,86.1 164.2,85.9 164.6,85.9 165.0,85.8 165.4,85.5 165.8,85.6 166.2,86.6 166.7,87.7 167.1,89.0 167.5,91.8 167.9,96.2 168.3,100.8 168.7,104.3 169.2,107.1 169.6,110.5 170.0,114.9 170.4,119.8 170.8,124.3 171.2,127.8 171.6,130.4 172.1,132.7 172.5,135.1 172.9,136.6 173.3,136.2 173.7,134.6 174.1,132.5 174.6,130.4 175.0,128.1 175.4,126.1 175.8,124.4 176.2,123.0 176.6,121.6 177.1,120.2 177.5,118.6 177.9,117.4 178.3,116.6 178.7,115.7 179.1,114.8 179.5,114.1 180.0,113.6 180.4,113.2 180.8,112.8 181.2,112.6 181.6,112.6 182.0,112.7 182.5,113.0 182.9,113.4 183.3,114.1 183.7,114.9 184.1,115.7 184.5,116.5 185.0,117.3 185.4,118.2 185.8,119.3 186.2,120.4 186.6,121.4 187.0,122.2 187.4,122.7 187.9,122.7 188.3,122.3 188.7,121.6 189.1,120.7 189.5,119.8 189.9,119.1 190.4,118.5 190.8,118.1 191.2,117.8 191.6,117.4 192.0,116.9 192.4,116.3 192.9,115.6 193.3,115.0 193.7,114.4 194.1,114.0 194.5,113.7 194.9,113.7 195.3,114.0 195.8,114.6 196.2,115.3 196.6,116.1 197.0,117.1 197.4,118.0 197.8,119.0 198.3,119.9 198.7,120.8 199.1,121.7 199.5,122.7 199.9,123.6 200.3,124.5 200.8,125.4 201.2,126.3 201.6,127.2 202.0,127.9 202.4,128.4 202.8,128.7 203.2,128.7 203.7,128.4 204.1,127.9 204.5,127.3 204.9,126.6 205.3,126.0 205.7,125.2 206.2,124.5 206.6,123.9 207.0,123.3 207.4,122.8 207.8,122.3 208.2,121.8 208.7,121.3 209.1,120.8 209.5,120.5 209.9,120.3 210.3,120.3 210.7,120.5 211.1,120.9 211.6,121.4 212.0,122.0 212.4,122.7 212.8,123.5 213.2,124.3 213.6,125.1 214.1,125.9 214.5,126.6 214.9,127.3 215.3,127.9 215.7,128.5 216.1,129.2 216.6,129.9 217.0,130.6 217.4,131.3 217.8,131.9 218.2,132.5 218.6,133.0 219.0,133.2 219.5,133.1 219.9,132.8 220.3,132.4 220.7,131.8 221.1,131.2 221.5,130.5 222.0,129.9 222.4,129.5 222.8,129.2 223.2,128.8 223.6,128.3 224.0,127.7 224.4,127.1 224.9,126.4 225.3,125.9 225.7,125.5 226.1,125.4 226.5,125.5 226.9,125.7 227.4,126.0 227.8,126.5 228.2,127.0 228.6,127.7 229.0,128.5 229.4,129.3 229.9,130.0 230.3,130.8 230.7,131.5 231.1,132.1 231.5,132.6 231.9,133.1 232.3,133.5 232.8,133.7 233.2,133.9 233.6,133.9 234.0,133.8 234.4,133.5 234.8,133.1 235.3,132.6 235.7,132.2 236.1,131.7 236.5,131.4 236.9,131.2 237.3,131.0 237.8,130.9 238.2,130.8 238.6,130.7 239.0,130.6 239.4,130.4 239.8,130.2 240.2,130.0 240.7,129.9 241.1,129.9 241.5,130.0 241.9,130.3 242.3,130.8 242.7,131.3 243.2,131.9 243.6,132.4 244.0,133.0 244.4,133.5 244.8,134.0 245.2,134.6 245.7,135.1 246.1,135.5 246.5,135.9 246.9,136.3 247.3,136.6 247.7,136.9 248.1,137.2 248.6,137.3 249.0,137.2 249.4,137.0 249.8,136.6 250.2,136.1 250.6,135.7 251.1,135.2 251.5,134.9 251.9,134.7 252.3,134.7 252.7,134.7 253.1,134.7 253.6,134.7 254.0,134.7 254.4,134.6 254.8,134.5 255.2,134.3 255.6,134.2 256.0,134.2 256.5,134.1" stroke="#77AC30" stroke-width="0.62"/>
<polyline points="40.7,104.5 41.1,104.2 41.5,104.1 41.9,104.2 42.4,104.2 42.8,104.0 43.2,103.7 43.6,103.3 44.0,102.9 44.4,102.6 44.8,102.3 45.3,102.2 45.7,102.1 46.1,102.3 46.5,102.7 46.9,103.0 47.3,103.2 47.8,103.4 48.2,103.6 48.6,103.8 49.0,103.8 49.4,103.5 49.8,103.0 50.2,102.4 50.7,102.0 51.1,101.7 51.5,101.8 51.9,101.9 52.3,102.2 52.7,102.3 53.2,102.2 53.6,101.9 54.0,101.6 54.4,101.7 54.8,101.9 55.2,102.3 55.7,102.5 56.1,102.6 56.5,102.7 56.9,102.9 57.3,103.3 57.7,103.8 58.1,104.2 58.6,104.3 59.0,104.2 59.4,104.1 59.8,104.1 60.2,104.2 60.6,104.4 61.1,104.5 61.5,104.6 61.9,104.4 62.3,104.0 62.7,103.4 63.1,103.0 63.6,102.9 64.0,103.1 64.4,103.3 64.8,103.6 65.2,103.8 65.6,104.0 66.0,104.3 66.5,104.6 66.9,104.7 67.3,104.5 67.7,104.3 68.1,104.0 68.5,103.9 69.0,104.0 69.4,104.3 69.8,104.5 70.2,104.6 70.6,104.6 71.0,104.4 71.5,104.2 71.9,104.1 72.3,104.1 72.7,104.3 73.1,104.3 73.5,104.3 73.9,104.1 74.4,103.9 74.8,103.6 75.2,103.4 75.6,103.1 76.0,102.8 76.4,102.4 76.9,102.0 77.3,101.9 77.7,102.1 78.1,102.6 78.5,103.1 78.9,103.4 79.4,103.5 79.8,103.4 80.2,102.9 80.6,99.3 81.0,91.5 81.4,83.4 81.8,77.8 82.3,74.3 82.7,72.0 83.1,70.9 83.5,70.0 83.9,67.2 84.3,61.8 84.8,56.0 85.2,51.3 85.6,47.5 86.0,45.1 86.4,45.5 86.8,48.7 87.3,53.1 87.7,57.7 88.1,63.0 88.5,68.2 88.9,72.1 89.3,75.1 89.7,78.2 90.2,81.1 90.6,83.6 91.0,85.8 91.4,87.5 91.8,88.6 92.2,89.4 92.7,90.2 93.1,91.6 93.5,93.7 93.9,95.5 94.3,96.5 94.7,96.4 95.2,94.7 95.6,91.9 96.0,89.4 96.4,87.7 96.8,86.4 97.2,84.3 97.6,81.5 98.1,78.7 98.5,76.3 98.9,74.0 99.3,72.0 99.7,70.4 100.1,68.7 100.6,67.1 101.0,65.6 101.4,64.3 101.8,64.0 102.2,65.0 102.6,66.8 103.1,68.9 103.5,70.4 103.9,70.4 104.3,69.4 104.7,68.5 105.1,68.1 105.5,68.6 106.0,69.7 106.4,71.2 106.8,73.7 107.2,76.8 107.6,79.1 108.0,80.4 108.5,81.8 108.9,83.2 109.3,84.4 109.7,85.8 110.1,87.6 110.5,88.6 110.9,88.9 111.4,88.6 111.8,87.9 112.2,86.9 112.6,86.4 113.0,86.1 113.4,85.3 113.9,83.8 114.3,82.3 114.7,81.2 115.1,80.5 115.5,80.7 115.9,81.3 116.4,81.8 116.8,81.9 117.2,81.8 117.6,81.4 118.0,80.8 118.4,80.6 118.8,81.2 119.3,82.2 119.7,83.1 120.1,83.5 120.5,83.7 120.9,84.2 121.3,84.7 121.8,85.3 122.2,85.8 122.6,85.8 123.0,85.5 123.4,85.2 123.8,85.3 124.3,85.7 124.7,85.8 125.1,85.6 125.5,85.4 125.9,85.9 126.3,86.6 126.7,86.7 127.2,86.2 127.6,86.1 128.0,86.5 128.4,86.9 128.8,86.9 129.2,86.6 129.7,86.4 130.1,86.7 130.5,87.3 130.9,87.3 131.3,86.6 131.7,85.8 132.2,85.3 132.6,85.3 133.0,86.0 133.4,87.0 133.8,87.5 134.2,87.6 134.6,87.7 135.1,88.1 135.5,88.7 135.9,89.3 136.3,89.9 136.7,90.2 137.1,90.2 137.6,90.0 138.0,89.8 138.4,89.7 138.8,89.5 139.2,89.2 139.6,89.3 140.1,89.6 140.5,89.8 140.9,89.5 141.3,89.2 141.7,89.1 142.1,88.8 142.5,88.7 143.0,88.7 143.4,88.4 143.8,88.1 144.2,88.2 144.6,88.1 145.0,88.0 145.5,88.1 145.9,88.5 146.3,88.8 146.7,88.9 147.1,88.9 147.5,89.1 148.0,89.3 148.4,89.2 148.8,89.4 149.2,89.9 149.6,90.2 150.0,90.0 150.4,89.3 150.9,88.9 151.3,89.2 151.7,89.9 152.1,90.2 152.5,90.1 152.9,90.0 153.4,90.5 153.8,90.8 154.2,90.2 154.6,88.8 155.0,87.2 155.4,86.6 155.9,87.2 156.3,88.1 156.7,88.9 157.1,89.8 157.5,90.6 157.9,90.6 158.3,90.2 158.8,89.7 159.2,89.3 159.6,88.8 160.0,88.2 160.4,88.0 160.8,88.3 161.3,88.6 161.7,88.4 162.1,88.0 162.5,88.0 162.9,88.5 163.3,88.9 163.7,89.0 164.2,89.2 164.6,89.9 165.0,90.4 165.4,90.2 165.8,90.5 166.2,91.4 166.7,92.7 167.1,94.5 167.5,97.2 167.9,101.1 168.3,106.0 168.7,111.0 169.2,115.2 169.6,118.3 170.0,120.8 170.4,123.3 170.8,126.4 171.2,130.0 171.6,133.6 172.1,136.6 172.5,138.2 172.9,138.5 173.3,138.3 173.7,137.8 174.1,136.7 174.6,135.0 175.0,133.2 175.4,131.2 175.8,129.1 176.2,126.8 176.6,124.8 177.1,123.3 177.5,122.1 177.9,121.5 178.3,121.2 178.7,120.7 179.1,119.9 179.5,118.9 180.0,118.0 180.4,117.3 180.8,116.8 181.2,116.5 181.6,116.5 182.0,116.7 182.5,117.1 182.9,117.7 183.3,118.2 183.7,118.8 184.1,119.6 184.5,120.3 185.0,121.1 185.4,122.0 185.8,122.9 186.2,123.7 186.6,124.5 187.0,125.0 187.4,125.4 187.9,125.5 188.3,125.3 188.7,124.8 189.1,124.2 189.5,123.3 189.9,122.3 190.4,121.3 190.8,120.5 191.2,119.7 191.6,118.9 192.0,118.2 192.4,117.5 192.9,116.8 193.3,116.1 193.7,115.6 194.1,115.1 194.5,114.9 194.9,114.8 195.3,115.0 195.8,115.5 196.2,116.2 196.6,117.0 197.0,117.9 197.4,118.9 197.8,119.8 198.3,120.7 198.7,121.5 199.1,122.3 199.5,123.2 199.9,123.9 200.3,124.7 200.8,125.4 201.2,126.2 201.6,126.9 202.0,127.6 202.4,128.1 202.8,128.3 203.2,128.2 203.7,127.7 204.1,127.1 204.5,126.3 204.9,125.5 205.3,124.6 205.7,123.7 206.2,122.9 206.6,122.1 207.0,121.4 207.4,120.6 207.8,120.0 208.2,119.3 208.7,118.7 209.1,118.2 209.5,117.6 209.9,117.2 210.3,116.8 210.7,116.7 211.1,116.8 211.6,117.2 212.0,117.8 212.4,118.5 212.8,119.4 213.2,120.4 213.6,121.5 214.1,122.5 214.5,123.4 214.9,124.2 215.3,125.1 215.7,125.9 216.1,126.7 216.6,127.5 217.0,128.1 217.4,128.6 217.8,128.9 218.2,129.1 218.6,129.2 219.0,129.0 219.5,128.6 219.9,128.0 220.3,127.4 220.7,126.7 221.1,126.1 221.5,125.4 222.0,124.7 222.4,124.2 222.8,123.7 223.2,123.2 223.6,122.7 224.0,122.1 224.4,121.5 224.9,120.9 225.3,120.5 225.7,120.1 226.1,120.1 226.5,120.3 226.9,120.7 227.4,121.3 227.8,122.0 228.2,122.6 228.6,123.2 229.0,123.7 229.4,124.2 229.9,124.6 230.3,125.0 230.7,125.6 231.1,126.1 231.5,126.7 231.9,127.3 232.3,127.7 232.8,128.1 233.2,128.3 233.6,128.3 234.0,128.1 234.4,127.9 234.8,127.6 235.3,127.4 235.7,127.1 236.1,126.8 236.5,126.5 236.9,126.1 237.3,125.8 237.8,125.3 238.2,125.0 238.6,124.7 239.0,124.6 239.4,124.5 239.8,124.4 240.2,124.4 240.7,124.4 241.1,124.5 241.5,124.6 241.9,124.8 242.3,125.1 242.7,125.4 243.2,125.8 243.6,126.3 244.0,126.7 244.4,127.3 244.8,127.8 245.2,128.4 245.7,128.9 246.1,129.3 246.5,129.6 246.9,129.9 247.3,130.0 247.7,130.2 248.1,130.3 248.6,130.3 249.0,130.2 249.4,130.2 249.8,130.0 250.2,129.9 250.6,129.7 251.1,129.4 251.5,129.1 251.9,128.7 252.3,128.4 252.7,128.1 253.1,128.0 253.6,127.9 254.0,128.0 254.4,128.1 254.8,128.1 255.2,127.9 255.6,127.8 256.0,127.6 256.5,127.5" stroke="#4DBEEE" stroke-width="0.62"/>
<polyline points="40.7,103.2 41.1,103.7 41.5,104.1 41.9,104.5 42.4,104.7 42.8,104.6 43.2,104.2 43.6,103.6 44.0,103.0 44.4,102.6 44.8,102.6 45.3,102.8 45.7,103.1 46.1,103.3 46.5,103.4 46.9,103.4 47.3,103.5 47.8,103.8 48.2,104.2 48.6,104.5 49.0,104.6 49.4,104.6 49.8,104.5 50.2,104.4 50.7,104.4 51.1,104.3 51.5,104.2 51.9,104.3 52.3,104.6 52.7,105.3 53.2,106.0 53.6,106.6 54.0,106.9 54.4,107.0 54.8,106.8 55.2,106.5 55.7,106.2 56.1,106.1 56.5,106.3 56.9,106.6 57.3,107.0 57.7,107.1 58.1,107.0 58.6,106.8 59.0,106.5 59.4,106.2 59.8,105.9 60.2,105.7 60.6,105.6 61.1,105.8 61.5,105.9 61.9,105.9 62.3,105.7 62.7,105.3 63.1,104.9 63.6,104.6 64.0,104.3 64.4,104.2 64.8,104.3 65.2,104.6 65.6,104.9 66.0,105.3 66.5,105.7 66.9,106.2 67.3,106.5 67.7,106.5 68.1,106.3 68.5,105.8 69.0,105.3 69.4,105.0 69.8,105.0 70.2,105.2 70.6,105.4 71.0,105.6 71.5,105.7 71.9,105.8 72.3,105.8 72.7,105.6 73.1,105.3 73.5,105.0 73.9,104.8 74.4,104.7 74.8,104.7 75.2,104.8 75.6,105.1 76.0,105.3 76.4,105.5 76.9,105.4 77.3,105.3 77.7,105.1 78.1,104.8 78.5,104.3 78.9,104.0 79.4,103.7 79.8,103.3 80.2,102.5 80.6,98.2 81.0,90.2 81.4,82.3 81.8,77.4 82.3,74.2 82.7,72.3 83.1,71.5 83.5,70.7 83.9,67.9 84.3,62.4 84.8,56.7 85.2,51.7 85.6,47.3 86.0,44.6 86.4,45.2 86.8,48.8 87.3,53.6 87.7,58.1 88.1,62.8 88.5,67.4 88.9,71.5 89.3,75.6 89.7,79.3 90.2,81.9 90.6,83.2 91.0,84.0 91.4,85.1 91.8,86.8 92.2,88.8 92.7,90.1 93.1,90.8 93.5,91.2 93.9,91.4 94.3,91.6 94.7,91.5 95.2,90.6 95.6,88.8 96.0,86.3 96.4,83.7 96.8,80.8 97.2,77.8 97.6,75.4 98.1,73.3 98.5,71.1 98.9,68.7 99.3,66.6 99.7,64.7 100.1,62.5 100.6,60.5 101.0,59.4 101.4,59.5 101.8,60.4 102.2,61.3 102.6,62.1 103.1,63.0 103.5,63.3 103.9,62.8 104.3,61.7 104.7,60.6 105.1,60.1 105.5,60.7 106.0,62.0 106.4,63.5 106.8,65.2 107.2,67.3 107.6,69.3 108.0,70.8 108.5,72.0 108.9,73.6 109.3,75.1 109.7,76.5 110.1,77.4 110.5,77.9 110.9,78.7 111.4,79.3 111.8,78.9 112.2,77.5 112.6,76.5 113.0,76.1 113.4,75.7 113.9,74.7 114.3,73.7 114.7,73.1 115.1,72.3 115.5,71.3 115.9,70.7 116.4,70.3 116.8,69.8 117.2,69.6 117.6,69.7 118.0,69.9 118.4,70.5 118.8,71.5 119.3,72.8 119.7,73.9 120.1,74.2 120.5,73.5 120.9,73.0 121.3,73.2 121.8,73.5 122.2,73.9 122.6,74.5 123.0,74.7 123.4,74.7 123.8,75.0 124.3,75.4 124.7,75.4 125.1,74.8 125.5,74.0 125.9,73.7 126.3,73.4 126.7,72.7 127.2,72.0 127.6,71.9 128.0,72.5 128.4,73.3 128.8,73.6 129.2,72.9 129.7,72.0 130.1,71.5 130.5,71.3 130.9,71.6 131.3,71.8 131.7,71.5 132.2,71.1 132.6,71.1 133.0,71.5 133.4,72.0 133.8,71.9 134.2,71.2 134.6,70.6 135.1,70.6 135.5,71.1 135.9,71.3 136.3,71.2 136.7,71.4 137.1,71.8 137.6,71.7 138.0,71.1 138.4,71.1 138.8,71.5 139.2,71.7 139.6,72.0 140.1,72.3 140.5,71.9 140.9,71.0 141.3,70.3 141.7,70.1 142.1,69.7 142.5,69.2 143.0,69.1 143.4,69.5 143.8,70.0 144.2,70.1 144.6,70.0 145.0,69.9 145.5,69.6 145.9,69.3 146.3,69.1 146.7,69.0 147.1,68.8 147.5,68.5 148.0,69.0 148.4,70.0 148.8,70.6 149.2,70.6 149.6,70.5 150.0,70.3 150.4,70.0 150.9,69.7 151.3,68.9 151.7,68.1 152.1,67.7 152.5,67.6 152.9,67.1 153.4,66.7 153.8,66.7 154.2,67.0 154.6,67.3 155.0,67.6 155.4,67.4 155.9,66.8 156.3,66.6 156.7,67.1 157.1,67.5 157.5,67.3 157.9,66.7 158.3,66.5 158.8,66.4 159.2,66.1 159.6,66.1 160.0,66.5 160.4,67.1 160.8,67.7 161.3,68.3 161.7,68.6 162.1,68.5 162.5,68.4 162.9,68.4 163.3,68.2 163.7,68.1 164.2,68.2 164.6,67.8 165.0,67.0 165.4,66.5 165.8,66.9 166.2,68.3 166.7,70.1 167.1,72.1 167.5,75.2 167.9,79.6 168.3,84.2 168.7,88.3 169.2,91.8 169.6,95.1 170.0,98.9 170.4,103.1 170.8,107.4 171.2,111.6 171.6,114.8 172.1,116.5 172.5,117.6 172.9,118.1 173.3,117.8 173.7,116.6 174.1,114.6 174.6,112.2 175.0,109.8 175.4,107.7 175.8,106.1 176.2,104.7 176.6,103.3 177.1,101.8 177.5,100.8 177.9,100.2 178.3,99.6 178.7,98.6 179.1,97.5 179.5,96.6 180.0,95.9 180.4,95.4 180.8,95.1 181.2,95.1 181.6,95.3 182.0,95.8 182.5,96.3 182.9,97.0 183.3,97.7 183.7,98.5 184.1,99.3 184.5,100.2 185.0,101.2 185.4,102.3 185.8,103.4 186.2,104.4 186.6,105.3 187.0,106.0 187.4,106.5 187.9,106.6 188.3,106.4 188.7,105.9 189.1,105.2 189.5,104.4 189.9,103.5 190.4,102.7 190.8,102.1 191.2,101.5 191.6,101.0 192.0,100.4 192.4,99.8 192.9,99.2 193.3,98.7 193.7,98.3 194.1,98.1 194.5,98.0 194.9,98.2 195.3,98.4 195.8,98.7 196.2,99.2 196.6,99.8 197.0,100.6 197.4,101.4 197.8,102.3 198.3,103.2 198.7,104.2 199.1,105.2 199.5,106.3 199.9,107.4 200.3,108.3 200.8,109.2 201.2,109.8 201.6,110.4 202.0,110.8 202.4,111.1 202.8,111.1 203.2,110.9 203.7,110.4 204.1,109.8 204.5,109.0 204.9,108.3 205.3,107.5 205.7,106.8 206.2,106.3 206.6,105.7 207.0,105.2 207.4,104.6 207.8,103.9 208.2,103.1 208.7,102.4 209.1,101.8 209.5,101.2 209.9,100.8 210.3,100.5 210.7,100.5 211.1,100.7 211.6,101.2 212.0,101.9 212.4,102.8 212.8,103.9 213.2,104.9 213.6,105.8 214.1,106.7 214.5,107.3 214.9,107.9 215.3,108.6 215.7,109.3 216.1,110.2 216.6,111.0 217.0,111.9 217.4,112.7 217.8,113.3 218.2,113.7 218.6,113.8 219.0,113.8 219.5,113.5 219.9,113.1 220.3,112.6 220.7,111.9 221.1,111.2 221.5,110.4 222.0,109.7 222.4,109.1 222.8,108.5 223.2,107.8 223.6,107.2 224.0,106.6 224.4,106.0 224.9,105.6 225.3,105.2 225.7,105.0 226.1,104.9 226.5,105.1 226.9,105.5 227.4,106.1 227.8,106.8 228.2,107.6 228.6,108.5 229.0,109.3 229.4,110.0 229.9,110.6 230.3,111.3 230.7,111.9 231.1,112.6 231.5,113.2 231.9,113.6 232.3,113.9 232.8,114.1 233.2,114.2 233.6,114.1 234.0,114.0 234.4,113.9 234.8,113.7 235.3,113.3 235.7,112.9 236.1,112.5 236.5,112.1 236.9,111.7 237.3,111.3 237.8,111.0 238.2,110.7 238.6,110.5 239.0,110.3 239.4,110.1 239.8,110.1 240.2,110.2 240.7,110.6 241.1,111.0 241.5,111.6 241.9,112.2 242.3,112.7 242.7,113.2 243.2,113.7 243.6,114.1 244.0,114.5 244.4,114.9 244.8,115.3 245.2,115.8 245.7,116.4 246.1,117.0 246.5,117.5 246.9,117.9 247.3,118.2 247.7,118.3 248.1,118.4 248.6,118.4 249.0,118.3 249.4,118.2 249.8,117.9 250.2,117.6 250.6,117.3 251.1,117.0 251.5,116.7 251.9,116.5 252.3,116.4 252.7,116.2 253.1,116.0 253.6,115.9 254.0,115.9 254.4,115.9 254.8,115.9 255.2,115.9 255.6,115.8 256.0,115.7 256.5,115.5" stroke="#4DBEEE" stroke-width="0.62"/>
<polyline points="40.7,101.5 41.1,101.7 41.5,101.9 41.9,102.2 42.4,102.5 42.8,103.0 43.2,103.6 43.6,104.2 44.0,104.6 44.4,104.5 44.8,104.0 45.3,103.4 45.7,102.8 46.1,102.4 46.5,102.4 46.9,102.7 47.3,103.2 47.8,103.7 48.2,104.1 48.6,104.2 49.0,104.1 49.4,103.9 49.8,103.9 50.2,104.1 50.7,104.5 51.1,104.8 51.5,104.7 51.9,104.3 52.3,103.8 52.7,103.2 53.2,102.7 53.6,102.6 54.0,102.8 54.4,103.1 54.8,103.3 55.2,103.2 55.7,102.9 56.1,102.9 56.5,103.1 56.9,103.5 57.3,103.8 57.7,104.0 58.1,104.2 58.6,104.5 59.0,104.9 59.4,105.3 59.8,105.4 60.2,105.4 60.6,105.3 61.1,105.2 61.5,105.2 61.9,105.1 62.3,105.0 62.7,104.7 63.1,104.3 63.6,103.8 64.0,103.4 64.4,103.2 64.8,103.1 65.2,103.1 65.6,103.1 66.0,103.2 66.5,103.2 66.9,103.1 67.3,102.9 67.7,102.7 68.1,102.7 68.5,102.9 69.0,103.1 69.4,103.4 69.8,103.8 70.2,104.2 70.6,104.7 71.0,104.9 71.5,104.7 71.9,104.3 72.3,103.6 72.7,102.9 73.1,102.3 73.5,102.0 73.9,102.0 74.4,102.1 74.8,102.1 75.2,102.1 75.6,102.0 76.0,102.0 76.4,101.9 76.9,101.8 77.3,101.9 77.7,102.4 78.1,103.0 78.5,103.5 78.9,103.7 79.4,103.8 79.8,103.7 80.2,103.2 80.6,98.7 81.0,90.5 81.4,82.6 81.8,77.6 82.3,74.2 82.7,72.2 83.1,71.3 83.5,70.5 83.9,67.6 84.3,62.1 84.8,56.2 85.2,51.1 85.6,46.8 86.0,44.4 86.4,45.1 86.8,48.4 87.3,53.0 87.7,58.3 88.1,63.8 88.5,68.5 88.9,72.0 89.3,74.9 89.7,77.0 90.2,78.5 90.6,80.4 91.0,82.3 91.4,84.0 91.8,86.0 92.2,88.4 92.7,90.1 93.1,90.8 93.5,91.0 93.9,91.7 94.3,92.3 94.7,91.6 95.2,89.6 95.6,87.3 96.0,85.3 96.4,83.4 96.8,81.5 97.2,79.6 97.6,77.6 98.1,75.1 98.5,72.5 98.9,70.2 99.3,68.0 99.7,65.9 100.1,64.0 100.6,62.6 101.0,61.9 101.4,61.8 101.8,62.1 102.2,62.4 102.6,62.8 103.1,63.4 103.5,63.4 103.9,63.0 104.3,62.6 104.7,62.7 105.1,63.5 105.5,64.4 106.0,64.5 106.4,64.7 106.8,66.8 107.2,70.3 107.6,72.8 108.0,73.7 108.5,74.2 108.9,75.6 109.3,77.8 109.7,80.0 110.1,81.3 110.5,81.5 110.9,80.6 111.4,79.3 111.8,78.3 112.2,77.6 112.6,76.7 113.0,75.8 113.4,75.7 113.9,75.9 114.3,75.8 114.7,75.0 115.1,74.0 115.5,73.2 115.9,72.4 116.4,72.0 116.8,72.2 117.2,72.3 117.6,71.9 118.0,72.0 118.4,72.8 118.8,73.5 119.3,73.6 119.7,73.1 120.1,72.7 120.5,72.7 120.9,73.0 121.3,73.8 121.8,75.0 122.2,76.2 122.6,77.0 123.0,77.6 123.4,78.0 123.8,78.4 124.3,78.6 124.7,78.4 125.1,77.8 125.5,77.0 125.9,76.4 126.3,75.8 126.7,75.5 127.2,75.3 127.6,75.3 128.0,75.8 128.4,76.5 128.8,76.4 129.2,75.5 129.7,74.9 130.1,75.2 130.5,75.7 130.9,75.7 131.3,75.3 131.7,74.9 132.2,74.8 132.6,74.4 133.0,73.9 133.4,73.8 133.8,74.2 134.2,74.4 134.6,74.1 135.1,73.8 135.5,73.8 135.9,74.0 136.3,74.3 136.7,74.1 137.1,73.2 137.6,73.1 138.0,73.8 138.4,74.2 138.8,74.1 139.2,74.3 139.6,74.6 140.1,74.9 140.5,74.9 140.9,74.1 141.3,72.8 141.7,72.3 142.1,72.9 142.5,73.7 143.0,73.8 143.4,72.9 143.8,72.2 144.2,72.1 144.6,72.6 145.0,73.0 145.5,72.7 145.9,72.3 146.3,72.1 146.7,72.1 147.1,72.1 147.5,71.6 148.0,71.0 148.4,71.0 148.8,71.4 149.2,71.3 149.6,70.8 150.0,70.8 150.4,71.5 150.9,71.7 151.3,71.2 151.7,71.0 152.1,71.1 152.5,71.1 152.9,71.6 153.4,72.2 153.8,71.7 154.2,71.0 154.6,70.7 155.0,70.3 155.4,69.4 155.9,68.5 156.3,68.5 156.7,69.2 157.1,69.9 157.5,69.9 157.9,69.2 158.3,68.4 158.8,67.9 159.2,68.0 159.6,68.8 160.0,69.8 160.4,69.8 160.8,68.9 161.3,67.9 161.7,67.8 162.1,68.8 162.5,70.3 162.9,71.3 163.3,71.1 163.7,70.1 164.2,69.6 164.6,69.9 165.0,70.6 165.4,71.0 165.8,71.4 166.2,71.7 166.7,72.2 167.1,73.4 167.5,76.1 167.9,80.2 168.3,85.2 168.7,90.2 169.2,94.1 169.6,97.3 170.0,100.9 170.4,104.7 170.8,108.2 171.2,111.2 171.6,113.6 172.1,115.6 172.5,116.8 172.9,117.1 173.3,116.5 173.7,115.0 174.1,112.8 174.6,111.2 175.0,109.9 175.4,108.1 175.8,106.2 176.2,104.4 176.6,102.8 177.1,101.3 177.5,100.2 177.9,99.4 178.3,98.8 178.7,98.2 179.1,97.6 179.5,97.1 180.0,96.7 180.4,96.3 180.8,95.9 181.2,95.6 181.6,95.5 182.0,95.7 182.5,96.0 182.9,96.4 183.3,96.9 183.7,97.4 184.1,97.9 184.5,98.4 185.0,99.0 185.4,99.7 185.8,100.5 186.2,101.2 186.6,101.8 187.0,102.2 187.4,102.5 187.9,102.4 188.3,102.2 188.7,101.7 189.1,101.0 189.5,100.3 189.9,99.6 190.4,99.1 190.8,98.7 191.2,98.4 191.6,98.0 192.0,97.5 192.4,96.8 192.9,96.1 193.3,95.4 193.7,94.7 194.1,94.3 194.5,94.1 194.9,94.1 195.3,94.4 195.8,95.0 196.2,95.6 196.6,96.3 197.0,96.9 197.4,97.5 197.8,98.1 198.3,98.6 198.7,99.2 199.1,99.9 199.5,100.8 199.9,101.7 200.3,102.7 200.8,103.5 201.2,104.3 201.6,104.9 202.0,105.3 202.4,105.4 202.8,105.3 203.2,105.0 203.7,104.5 204.1,104.0 204.5,103.3 204.9,102.7 205.3,102.0 205.7,101.4 206.2,100.8 206.6,100.3 207.0,99.7 207.4,99.1 207.8,98.4 208.2,97.7 208.7,97.2 209.1,96.7 209.5,96.3 209.9,95.9 210.3,95.7 210.7,95.6 211.1,95.7 211.6,96.0 212.0,96.4 212.4,97.0 212.8,97.6 213.2,98.3 213.6,99.0 214.1,99.6 214.5,100.1 214.9,100.7 215.3,101.3 215.7,101.9 216.1,102.6 216.6,103.1 217.0,103.6 217.4,104.0 217.8,104.4 218.2,104.7 218.6,104.9 219.0,105.0 219.5,104.9 219.9,104.6 220.3,104.1 220.7,103.6 221.1,103.1 221.5,102.6 222.0,102.1 222.4,101.7 222.8,101.2 223.2,100.6 223.6,99.9 224.0,99.3 224.4,98.8 224.9,98.4 225.3,98.1 225.7,97.8 226.1,97.6 226.5,97.6 226.9,97.7 227.4,97.9 227.8,98.3 228.2,98.7 228.6,99.2 229.0,99.7 229.4,100.2 229.9,100.6 230.3,101.2 230.7,101.8 231.1,102.3 231.5,102.9 231.9,103.4 232.3,104.0 232.8,104.4 233.2,104.7 233.6,104.8 234.0,104.8 234.4,104.6 234.8,104.2 235.3,103.7 235.7,103.2 236.1,102.8 236.5,102.4 236.9,102.0 237.3,101.6 237.8,101.1 238.2,100.7 238.6,100.4 239.0,100.2 239.4,100.1 239.8,100.1 240.2,100.2 240.7,100.3 241.1,100.5 241.5,100.8 241.9,101.1 242.3,101.4 242.7,101.7 243.2,102.0 243.6,102.4 244.0,102.7 244.4,103.1 244.8,103.3 245.2,103.6 245.7,103.7 246.1,103.9 246.5,104.1 246.9,104.4 247.3,104.7 247.7,105.0 248.1,105.2 248.6,105.2 249.0,105.0 249.4,104.6 249.8,104.1 250.2,103.6 250.6,103.2 251.1,102.8 251.5,102.4 251.9,102.1 252.3,101.8 252.7,101.5 253.1,101.3 253.6,101.1 254.0,100.9 254.4,100.8 254.8,100.7 255.2,100.7 255.6,100.7 256.0,100.8 256.5,100.9" stroke="#A2142F" stroke-width="0.62"/>
<polyline points="40.7,103.0 41.1,103.0 41.5,103.1 41.9,103.4 42.4,103.7 42.8,104.0 43.2,104.3 43.6,104.5 44.0,104.7 44.4,104.7 44.8,104.5 45.3,104.4 45.7,104.4 46.1,104.3 46.5,104.3 46.9,104.1 47.3,104.0 47.8,103.9 48.2,104.0 48.6,104.0 49.0,103.9 49.4,103.8 49.8,103.6 50.2,103.6 50.7,103.6 51.1,103.7 51.5,103.9 51.9,104.0 52.3,104.1 52.7,104.1 53.2,104.2 53.6,104.3 54.0,104.2 54.4,104.1 54.8,103.7 55.2,103.4 55.7,103.2 56.1,103.2 56.5,103.4 56.9,103.5 57.3,103.6 57.7,103.5 58.1,103.4 58.6,103.3 59.0,103.5 59.4,103.9 59.8,104.4 60.2,104.9 60.6,105.2 61.1,105.5 61.5,105.7 61.9,106.0 62.3,106.0 62.7,105.8 63.1,105.2 63.6,104.4 64.0,103.8 64.4,103.5 64.8,103.5 65.2,103.7 65.6,103.9 66.0,103.9 66.5,103.9 66.9,103.9 67.3,103.8 67.7,103.6 68.1,103.4 68.5,103.4 69.0,103.2 69.4,103.0 69.8,102.6 70.2,102.2 70.6,102.1 71.0,102.2 71.5,102.5 71.9,102.8 72.3,103.1 72.7,103.2 73.1,103.0 73.5,102.6 73.9,102.2 74.4,101.9 74.8,101.8 75.2,101.9 75.6,102.1 76.0,102.1 76.4,102.1 76.9,102.0 77.3,101.9 77.7,101.8 78.1,102.0 78.5,102.5 78.9,103.0 79.4,103.0 79.8,102.2 80.2,96.1 80.6,87.0 81.0,80.0 81.4,76.1 81.8,73.2 82.3,71.7 82.7,70.9 83.1,69.6 83.5,65.6 83.9,59.6 84.3,54.6 84.8,50.2 85.2,46.8 85.6,45.9 86.0,48.0 86.4,51.9 86.8,56.2 87.3,60.7 87.7,65.4 88.1,69.3 88.5,72.5 88.9,75.3 89.3,77.8 89.7,80.6 90.2,83.3 90.6,85.2 91.0,86.4 91.4,87.7 91.8,88.9 92.2,89.6 92.7,90.1 93.1,90.6 93.5,91.6 93.9,92.5 94.3,91.9 94.7,89.5 95.2,86.6 95.6,84.0 96.0,81.9 96.4,80.0 96.8,77.9 97.2,75.6 97.6,73.0 98.1,70.3 98.5,67.8 98.9,65.2 99.3,62.7 99.7,60.6 100.1,59.4 100.6,59.4 101.0,60.6 101.4,61.6 101.8,62.3 102.2,63.0 102.6,63.1 103.1,62.4 103.5,61.6 103.9,60.8 104.3,60.3 104.7,59.8 105.1,60.1 105.5,61.3 106.0,63.4 106.4,65.8 106.8,68.1 107.2,70.3 107.6,72.5 108.0,73.6 108.5,74.0 108.9,74.7 109.3,75.6 109.7,76.6 110.1,77.4 110.5,77.6 110.9,77.2 111.4,76.6 111.8,75.7 112.2,74.5 112.6,73.1 113.0,71.8 113.4,70.9 113.9,70.6 114.3,70.4 114.7,70.0 115.1,69.2 115.5,68.3 115.9,67.9 116.4,68.4 116.8,69.2 117.2,69.9 117.6,70.4 118.0,70.5 118.4,70.1 118.8,69.3 119.3,68.7 119.7,69.0 120.1,70.2 120.5,72.1 120.9,73.3 121.3,73.3 121.8,72.8 122.2,72.7 122.6,73.2 123.0,73.9 123.4,74.1 123.8,74.2 124.3,74.2 124.7,73.6 125.1,72.7 125.5,72.2 125.9,72.8 126.3,73.6 126.7,73.8 127.2,73.2 127.6,72.5 128.0,72.2 128.4,72.1 128.8,71.8 129.2,71.6 129.7,71.5 130.1,71.4 130.5,70.9 130.9,69.9 131.3,68.8 131.7,68.7 132.2,69.6 132.6,70.4 133.0,70.6 133.4,70.5 133.8,70.6 134.2,71.2 134.6,71.5 135.1,71.4 135.5,70.9 135.9,70.6 136.3,70.7 136.7,71.0 137.1,71.6 137.6,71.9 138.0,71.4 138.4,70.4 138.8,69.9 139.2,69.9 139.6,69.8 140.1,69.5 140.5,69.2 140.9,68.9 141.3,68.9 141.7,68.8 142.1,68.8 142.5,69.3 143.0,70.4 143.4,70.8 143.8,70.0 144.2,69.0 144.6,68.7 145.0,68.6 145.5,68.1 145.9,67.7 146.3,67.8 146.7,68.3 147.1,69.0 147.5,69.7 148.0,70.1 148.4,69.7 148.8,69.1 149.2,68.2 149.6,67.0 150.0,66.2 150.4,66.1 150.9,66.3 151.3,66.5 151.7,66.7 152.1,66.8 152.5,66.7 152.9,66.5 153.4,66.5 153.8,66.9 154.2,67.8 154.6,68.5 155.0,68.6 155.4,68.1 155.9,67.7 156.3,67.3 156.7,66.8 157.1,66.2 157.5,65.9 157.9,65.9 158.3,66.0 158.8,66.3 159.2,66.8 159.6,67.0 160.0,66.8 160.4,66.3 160.8,66.0 161.3,65.7 161.7,65.7 162.1,66.0 162.5,66.1 162.9,66.0 163.3,66.0 163.7,66.3 164.2,66.5 164.6,66.5 165.0,66.3 165.4,66.3 165.8,66.8 166.2,68.0 166.7,70.4 167.1,74.0 167.5,78.4 167.9,83.2 168.3,87.8 168.7,91.6 169.2,94.1 169.6,96.4 170.0,99.2 170.4,102.6 170.8,105.9 171.2,108.8 171.6,111.9 172.1,114.5 172.5,115.7 172.9,115.3 173.3,113.7 173.7,111.2 174.1,108.9 174.6,107.3 175.0,105.8 175.4,104.1 175.8,102.0 176.2,100.0 176.6,98.4 177.1,97.1 177.5,96.0 177.9,95.1 178.3,94.2 178.7,93.3 179.1,92.3 179.5,91.5 180.0,91.1 180.4,91.0 180.8,91.0 181.2,91.1 181.6,91.3 182.0,91.6 182.5,91.9 182.9,92.2 183.3,92.5 183.7,92.9 184.1,93.3 184.5,94.0 185.0,94.9 185.4,95.8 185.8,96.6 186.2,97.3 186.6,97.7 187.0,97.7 187.4,97.5 187.9,97.0 188.3,96.3 188.7,95.5 189.1,94.6 189.5,93.7 189.9,92.9 190.4,92.1 190.8,91.4 191.2,90.8 191.6,90.2 192.0,89.6 192.4,89.1 192.9,88.7 193.3,88.4 193.7,88.1 194.1,87.9 194.5,87.9 194.9,88.1 195.3,88.4 195.8,88.8 196.2,89.3 196.6,90.0 197.0,90.6 197.4,91.2 197.8,91.7 198.3,92.3 198.7,92.9 199.1,93.6 199.5,94.4 199.9,95.1 200.3,95.7 200.8,96.2 201.2,96.5 201.6,96.7 202.0,96.8 202.4,96.6 202.8,96.3 203.2,95.7 203.7,94.9 204.1,94.0 204.5,93.1 204.9,92.2 205.3,91.4 205.7,90.8 206.2,90.2 206.6,89.7 207.0,89.1 207.4,88.6 207.8,88.0 208.2,87.4 208.7,86.8 209.1,86.3 209.5,85.8 209.9,85.4 210.3,85.3 210.7,85.4 211.1,85.8 211.6,86.3 212.0,86.9 212.4,87.5 212.8,88.2 213.2,88.9 213.6,89.5 214.1,90.0 214.5,90.6 214.9,91.3 215.3,91.9 215.7,92.5 216.1,93.1 216.6,93.7 217.0,94.2 217.4,94.6 217.8,94.8 218.2,94.7 218.6,94.4 219.0,93.8 219.5,93.2 219.9,92.4 220.3,91.6 220.7,90.8 221.1,90.0 221.5,89.2 222.0,88.6 222.4,88.0 222.8,87.5 223.2,87.0 223.6,86.6 224.0,86.2 224.4,85.9 224.9,85.8 225.3,85.7 225.7,85.7 226.1,85.8 226.5,86.0 226.9,86.4 227.4,86.8 227.8,87.3 228.2,87.9 228.6,88.4 229.0,88.7 229.4,89.1 229.9,89.5 230.3,89.9 230.7,90.4 231.1,90.8 231.5,91.1 231.9,91.3 232.3,91.3 232.8,91.2 233.2,90.9 233.6,90.6 234.0,90.2 234.4,89.8 234.8,89.4 235.3,88.9 235.7,88.4 236.1,87.9 236.5,87.4 236.9,86.9 237.3,86.5 237.8,86.2 238.2,86.1 238.6,86.1 239.0,86.2 239.4,86.3 239.8,86.4 240.2,86.5 240.7,86.5 241.1,86.5 241.5,86.6 241.9,86.7 242.3,86.8 242.7,87.0 243.2,87.2 243.6,87.4 244.0,87.6 244.4,87.9 244.8,88.2 245.2,88.5 245.7,88.8 246.1,89.0 246.5,89.2 246.9,89.2 247.3,89.2 247.7,89.1 248.1,88.9 248.6,88.6 249.0,88.2 249.4,87.8 249.8,87.3 250.2,86.9 250.6,86.5 251.1,86.2 251.5,85.9 251.9,85.8 252.3,85.7 252.7,85.7 253.1,85.7 253.6,85.6 254.0,85.4 254.4,85.2 254.8,84.9 255.2,84.6 255.6,84.3 256.0,84.1 256.5,84.0" stroke="#4DBEEE" stroke-width="0.62"/>
<polyline points="40.7,101.7 41.1,102.0 41.5,102.4 41.9,102.7 42.4,102.9 42.8,103.1 43.2,103.4 43.6,103.9 44.0,104.4 44.4,104.8 44.8,104.9 45.3,104.8 45.7,104.6 46.1,104.3 46.5,103.9 46.9,103.4 47.3,102.7 47.8,102.0 48.2,101.4 48.6,101.0 49.0,101.0 49.4,101.2 49.8,101.7 50.2,102.3 50.7,102.9 51.1,103.3 51.5,103.6 51.9,103.8 52.3,104.1 52.7,104.3 53.2,104.5 53.6,104.5 54.0,104.3 54.4,103.9 54.8,103.3 55.2,102.7 55.7,102.2 56.1,102.1 56.5,102.1 56.9,102.3 57.3,102.7 57.7,103.2 58.1,103.7 58.6,104.1 59.0,104.4 59.4,104.6 59.8,104.7 60.2,104.6 60.6,104.4 61.1,104.0 61.5,103.6 61.9,103.3 62.3,103.0 62.7,102.6 63.1,102.3 63.6,102.1 64.0,102.1 64.4,102.5 64.8,103.2 65.2,104.1 65.6,104.9 66.0,105.6 66.5,106.1 66.9,106.3 67.3,106.3 67.7,106.1 68.1,105.8 68.5,105.5 69.0,105.6 69.4,106.0 69.8,106.7 70.2,107.4 70.6,108.1 71.0,108.6 71.5,109.0 71.9,109.0 72.3,108.7 72.7,108.3 73.1,107.8 73.5,107.4 73.9,107.0 74.4,106.7 74.8,106.6 75.2,106.6 75.6,106.7 76.0,106.8 76.4,106.9 76.9,106.7 77.3,106.4 77.7,106.0 78.1,105.4 78.5,104.9 78.9,104.7 79.4,104.3 79.8,103.4 80.2,97.3 80.6,88.0 81.0,80.5 81.4,76.1 81.8,73.0 82.3,71.3 82.7,70.6 83.1,69.4 83.5,65.6 83.9,59.3 84.3,53.8 84.8,48.9 85.2,44.6 85.6,42.8 86.0,44.8 86.4,49.2 86.8,53.9 87.3,58.4 87.7,63.3 88.1,67.3 88.5,70.0 88.9,72.6 89.3,75.1 89.7,77.4 90.2,79.9 90.6,82.4 91.0,83.9 91.4,84.4 91.8,85.1 92.2,86.6 92.7,88.2 93.1,89.4 93.5,89.7 93.9,89.4 94.3,88.7 94.7,87.2 95.2,85.5 95.6,83.6 96.0,81.2 96.4,78.7 96.8,76.4 97.2,74.1 97.6,71.6 98.1,69.1 98.5,67.0 98.9,65.4 99.3,63.4 99.7,61.0 100.1,59.1 100.6,57.7 101.0,56.7 101.4,57.0 101.8,59.0 102.2,61.1 102.6,61.8 103.1,61.1 103.5,60.4 103.9,60.0 104.3,59.9 104.7,60.0 105.1,60.2 105.5,60.6 106.0,61.6 106.4,63.2 106.8,65.4 107.2,67.9 107.6,70.6 108.0,72.5 108.5,73.8 108.9,75.3 109.3,76.8 109.7,77.4 110.1,76.7 110.5,75.5 110.9,74.9 111.4,74.8 111.8,74.5 112.2,73.5 112.6,72.3 113.0,71.3 113.4,70.7 113.9,70.6 114.3,70.6 114.7,69.8 115.1,68.3 115.5,66.8 115.9,66.1 116.4,65.8 116.8,65.7 117.2,66.2 117.6,66.9 118.0,67.1 118.4,67.4 118.8,68.4 119.3,69.5 119.7,69.7 120.1,69.4 120.5,69.7 120.9,70.5 121.3,70.4 121.8,69.6 122.2,68.8 122.6,68.5 123.0,69.2 123.4,70.1 123.8,70.1 124.3,70.0 124.7,70.2 125.1,70.4 125.5,70.5 125.9,70.7 126.3,70.4 126.7,70.0 127.2,69.8 127.6,69.6 128.0,69.1 128.4,68.4 128.8,68.2 129.2,68.2 129.7,68.0 130.1,67.9 130.5,68.0 130.9,68.0 131.3,68.0 131.7,68.1 132.2,68.1 132.6,68.0 133.0,67.8 133.4,67.6 133.8,67.8 134.2,68.0 134.6,67.8 135.1,67.6 135.5,67.7 135.9,67.8 136.3,67.8 136.7,67.8 137.1,67.9 137.6,68.3 138.0,68.5 138.4,68.0 138.8,67.2 139.2,66.7 139.6,66.6 140.1,66.5 140.5,66.2 140.9,65.8 141.3,66.1 141.7,66.5 142.1,66.2 142.5,66.0 143.0,66.6 143.4,67.1 143.8,66.5 144.2,65.6 144.6,65.6 145.0,66.0 145.5,66.0 145.9,66.0 146.3,66.3 146.7,66.3 147.1,66.3 147.5,66.3 148.0,66.4 148.4,66.5 148.8,66.3 149.2,65.7 149.6,65.0 150.0,64.9 150.4,65.3 150.9,65.4 151.3,64.9 151.7,64.4 152.1,64.0 152.5,63.5 152.9,62.6 153.4,61.8 153.8,62.2 154.2,64.4 154.6,66.5 155.0,66.6 155.4,65.2 155.9,64.4 156.3,64.4 156.7,64.7 157.1,64.8 157.5,64.3 157.9,63.9 158.3,63.8 158.8,63.6 159.2,63.2 159.6,62.6 160.0,62.1 160.4,61.8 160.8,61.7 161.3,62.0 161.7,62.8 162.1,63.8 162.5,64.4 162.9,64.3 163.3,63.7 163.7,62.8 164.2,62.4 164.6,63.1 165.0,64.0 165.4,64.9 165.8,66.0 166.2,66.8 166.7,67.7 167.1,69.7 167.5,73.0 167.9,77.3 168.3,82.0 168.7,86.4 169.2,89.8 169.6,93.2 170.0,97.0 170.4,100.8 170.8,104.1 171.2,106.3 171.6,107.9 172.1,109.2 172.5,109.6 172.9,109.2 173.3,108.1 173.7,106.4 174.1,104.2 174.6,101.8 175.0,99.6 175.4,97.4 175.8,95.5 176.2,93.9 176.6,92.8 177.1,92.2 177.5,92.0 177.9,91.6 178.3,90.9 178.7,89.9 179.1,88.8 179.5,87.7 180.0,87.1 180.4,86.8 180.8,86.7 181.2,86.8 181.6,87.0 182.0,87.3 182.5,87.8 182.9,88.6 183.3,89.2 183.7,89.7 184.1,90.1 184.5,90.7 185.0,91.4 185.4,92.1 185.8,92.7 186.2,93.2 186.6,93.4 187.0,93.3 187.4,93.0 187.9,92.7 188.3,92.3 188.7,91.9 189.1,91.5 189.5,91.0 189.9,90.5 190.4,89.9 190.8,89.1 191.2,88.3 191.6,87.3 192.0,86.4 192.4,85.6 192.9,85.0 193.3,84.6 193.7,84.3 194.1,84.1 194.5,84.2 194.9,84.4 195.3,84.8 195.8,85.3 196.2,85.9 196.6,86.6 197.0,87.2 197.4,87.7 197.8,88.2 198.3,88.6 198.7,89.1 199.1,89.8 199.5,90.5 199.9,91.3 200.3,92.0 200.8,92.7 201.2,93.1 201.6,93.2 202.0,93.2 202.4,93.0 202.8,92.7 203.2,92.3 203.7,91.8 204.1,91.1 204.5,90.4 204.9,89.6 205.3,88.7 205.7,87.9 206.2,87.2 206.6,86.5 207.0,85.8 207.4,85.0 207.8,84.2 208.2,83.6 208.7,83.1 209.1,82.7 209.5,82.5 209.9,82.4 210.3,82.5 210.7,82.7 211.1,83.0 211.6,83.5 212.0,84.0 212.4,84.6 212.8,85.2 213.2,85.7 213.6,86.0 214.1,86.3 214.5,86.7 214.9,87.3 215.3,87.9 215.7,88.6 216.1,89.3 216.6,89.9 217.0,90.3 217.4,90.7 217.8,90.8 218.2,90.9 218.6,90.8 219.0,90.5 219.5,90.1 219.9,89.5 220.3,88.7 220.7,87.8 221.1,87.0 221.5,86.2 222.0,85.7 222.4,85.3 222.8,84.9 223.2,84.4 223.6,83.9 224.0,83.4 224.4,82.9 224.9,82.5 225.3,82.1 225.7,81.9 226.1,81.9 226.5,82.1 226.9,82.4 227.4,82.8 227.8,83.3 228.2,83.8 228.6,84.2 229.0,84.6 229.4,85.0 229.9,85.5 230.3,86.0 230.7,86.6 231.1,87.0 231.5,87.3 231.9,87.5 232.3,87.5 232.8,87.5 233.2,87.3 233.6,86.9 234.0,86.4 234.4,85.9 234.8,85.2 235.3,84.7 235.7,84.2 236.1,83.9 236.5,83.6 236.9,83.3 237.3,83.0 237.8,82.7 238.2,82.4 238.6,82.1 239.0,81.9 239.4,81.7 239.8,81.7 240.2,81.8 240.7,82.1 241.1,82.4 241.5,82.8 241.9,83.1 242.3,83.3 242.7,83.5 243.2,83.6 243.6,83.6 244.0,83.7 244.4,83.9 244.8,84.3 245.2,84.7 245.7,85.2 246.1,85.6 246.5,86.0 246.9,86.2 247.3,86.3 247.7,86.2 248.1,85.8 248.6,85.4 249.0,84.9 249.4,84.4 249.8,83.9 250.2,83.4 250.6,82.9 251.1,82.5 251.5,82.2 251.9,82.0 252.3,81.8 252.7,81.5 253.1,81.3 253.6,81.0 254.0,80.6 254.4,80.4 254.8,80.2 255.2,80.1 255.6,80.0 256.0,80.0 256.5,79.9" stroke="#0072BD" stroke-width="0.62"/>
<polyline points="40.7,103.5 41.1,103.4 41.5,103.4 41.9,103.7 42.4,104.1 42.8,104.5 43.2,104.7 43.6,104.7 44.0,104.6 44.4,104.4 44.8,104.2 45.3,103.9 45.7,103.5 46.1,103.2 46.5,103.1 46.9,103.3 47.3,103.7 47.8,104.4 48.2,104.8 48.6,104.9 49.0,104.7 49.4,104.4 49.8,103.9 50.2,103.4 50.7,102.7 51.1,102.0 51.5,101.5 51.9,101.3 52.3,101.3 52.7,101.3 53.2,101.3 53.6,101.3 54.0,101.6 54.4,102.1 54.8,102.8 55.2,103.3 55.7,103.6 56.1,103.5 56.5,103.0 56.9,102.4 57.3,101.9 57.7,101.5 58.1,101.3 58.6,101.2 59.0,101.1 59.4,101.2 59.8,101.5 60.2,102.2 60.6,102.9 61.1,103.2 61.5,103.1 61.9,102.6 62.3,101.9 62.7,101.4 63.1,101.1 63.6,101.1 64.0,101.4 64.4,101.7 64.8,102.1 65.2,102.5 65.6,102.9 66.0,103.2 66.5,103.6 66.9,104.1 67.3,104.5 67.7,104.8 68.1,104.8 68.5,104.6 69.0,104.3 69.4,104.1 69.8,103.9 70.2,103.6 70.6,103.4 71.0,103.3 71.5,103.4 71.9,103.7 72.3,104.1 72.7,104.5 73.1,104.8 73.5,104.9 73.9,104.7 74.4,104.4 74.8,103.9 75.2,103.6 75.6,103.5 76.0,103.7 76.4,103.9 76.9,104.0 77.3,104.0 77.7,103.8 78.1,103.6 78.5,103.6 78.9,103.6 79.4,103.4 79.8,102.8 80.2,97.4 80.6,88.7 81.0,81.2 81.4,76.7 81.8,73.5 82.3,71.8 82.7,71.0 83.1,70.1 83.5,66.7 83.9,61.1 84.3,55.9 84.8,51.3 85.2,47.4 85.6,45.6 86.0,47.0 86.4,50.8 86.8,55.3 87.3,59.9 87.7,64.4 88.1,67.9 88.5,70.6 88.9,73.7 89.3,77.3 89.7,80.1 90.2,81.8 90.6,83.3 91.0,84.5 91.4,85.4 91.8,86.1 92.2,87.2 92.7,88.6 93.1,89.8 93.5,90.4 93.9,91.2 94.3,91.0 94.7,89.1 95.2,86.6 95.6,84.4 96.0,82.3 96.4,80.0 96.8,76.8 97.2,73.8 97.6,71.4 98.1,69.2 98.5,66.7 98.9,64.0 99.3,61.6 99.7,59.7 100.1,58.1 100.6,57.1 101.0,57.3 101.4,58.2 101.8,59.0 102.2,59.8 102.6,60.7 103.1,61.1 103.5,60.5 103.9,58.7 104.3,56.8 104.7,56.3 105.1,57.4 105.5,59.1 106.0,60.9 106.4,62.9 106.8,65.3 107.2,67.4 107.6,69.0 108.0,70.1 108.5,71.1 108.9,72.3 109.3,73.6 109.7,74.5 110.1,74.5 110.5,74.0 110.9,73.5 111.4,72.4 111.8,71.3 112.2,71.1 112.6,71.4 113.0,71.0 113.4,69.8 113.9,68.4 114.3,67.2 114.7,65.9 115.1,65.1 115.5,65.2 115.9,65.5 116.4,65.3 116.8,65.0 117.2,64.8 117.6,64.7 118.0,64.9 118.4,65.7 118.8,66.8 119.3,67.1 119.7,66.5 120.1,66.3 120.5,67.1 120.9,67.7 121.3,67.6 121.8,67.5 122.2,68.1 122.6,69.1 123.0,69.8 123.4,69.9 123.8,69.8 124.3,70.2 124.7,70.8 125.1,70.8 125.5,70.4 125.9,70.3 126.3,69.9 126.7,68.8 127.2,67.9 127.6,68.0 128.0,68.9 128.4,70.0 128.8,70.1 129.2,69.1 129.7,67.5 130.1,66.4 130.5,66.0 130.9,66.2 131.3,66.5 131.7,66.4 132.2,66.1 132.6,66.1 133.0,66.3 133.4,66.7 133.8,67.5 134.2,68.0 134.6,67.9 135.1,67.6 135.5,67.4 135.9,67.1 136.3,67.2 136.7,67.9 137.1,68.2 137.6,67.9 138.0,67.4 138.4,67.2 138.8,67.4 139.2,67.5 139.6,67.4 140.1,67.3 140.5,66.8 140.9,66.0 141.3,65.7 141.7,65.6 142.1,65.4 142.5,65.7 143.0,66.1 143.4,65.8 143.8,65.0 144.2,64.5 144.6,64.5 145.0,64.3 145.5,64.0 145.9,64.0 146.3,64.4 146.7,64.9 147.1,64.7 147.5,63.7 148.0,62.5 148.4,62.2 148.8,62.6 149.2,62.8 149.6,62.7 150.0,62.7 150.4,62.8 150.9,62.5 151.3,61.9 151.7,61.4 152.1,61.3 152.5,61.4 152.9,61.2 153.4,61.0 153.8,61.2 154.2,61.9 154.6,63.0 155.0,63.4 155.4,62.5 155.9,61.1 156.3,60.1 156.7,59.6 157.1,59.5 157.5,59.8 157.9,59.8 158.3,59.2 158.8,58.2 159.2,57.5 159.6,57.5 160.0,57.9 160.4,58.4 160.8,58.8 161.3,58.7 161.7,58.6 162.1,58.6 162.5,58.6 162.9,58.7 163.3,59.3 163.7,60.0 164.2,60.1 164.6,59.4 165.0,58.8 165.4,59.2 165.8,60.9 166.2,63.3 166.7,65.8 167.1,68.3 167.5,71.0 167.9,74.6 168.3,79.1 168.7,83.5 169.2,87.0 169.6,90.0 170.0,93.4 170.4,97.1 170.8,100.1 171.2,102.0 171.6,103.3 172.1,104.3 172.5,104.8 172.9,104.3 173.3,102.8 173.7,101.1 174.1,99.6 174.6,98.3 175.0,96.5 175.4,94.4 175.8,92.5 176.2,90.9 176.6,89.4 177.1,88.4 177.5,87.6 177.9,86.8 178.3,86.2 178.7,85.7 179.1,85.2 179.5,84.7 180.0,84.1 180.4,83.6 180.8,83.3 181.2,83.1 181.6,83.1 182.0,83.1 182.5,83.4 182.9,83.7 183.3,84.0 183.7,84.5 184.1,85.1 184.5,86.1 185.0,87.0 185.4,87.9 185.8,88.5 186.2,89.0 186.6,89.2 187.0,89.1 187.4,88.8 187.9,88.3 188.3,87.9 188.7,87.4 189.1,86.8 189.5,86.3 189.9,85.8 190.4,85.2 190.8,84.7 191.2,84.0 191.6,83.2 192.0,82.4 192.4,81.6 192.9,80.9 193.3,80.4 193.7,80.0 194.1,79.7 194.5,79.8 194.9,80.0 195.3,80.4 195.8,81.0 196.2,81.6 196.6,82.3 197.0,82.9 197.4,83.4 197.8,83.9 198.3,84.2 198.7,84.6 199.1,85.0 199.5,85.5 199.9,86.0 200.3,86.5 200.8,87.0 201.2,87.4 201.6,87.6 202.0,87.6 202.4,87.4 202.8,87.0 203.2,86.5 203.7,85.9 204.1,85.2 204.5,84.5 204.9,83.7 205.3,82.9 205.7,82.2 206.2,81.5 206.6,80.9 207.0,80.2 207.4,79.6 207.8,79.0 208.2,78.4 208.7,77.8 209.1,77.3 209.5,76.9 209.9,76.6 210.3,76.5 210.7,76.7 211.1,77.0 211.6,77.6 212.0,78.2 212.4,78.8 212.8,79.4 213.2,80.0 213.6,80.6 214.1,81.1 214.5,81.6 214.9,82.2 215.3,82.8 215.7,83.3 216.1,83.7 216.6,84.1 217.0,84.5 217.4,84.8 217.8,85.0 218.2,85.1 218.6,85.0 219.0,84.6 219.5,84.0 219.9,83.3 220.3,82.5 220.7,81.7 221.1,80.9 221.5,80.2 222.0,79.7 222.4,79.3 222.8,78.9 223.2,78.5 223.6,78.0 224.0,77.6 224.4,77.2 224.9,77.0 225.3,77.0 225.7,77.1 226.1,77.2 226.5,77.5 226.9,77.7 227.4,77.9 227.8,78.1 228.2,78.3 228.6,78.6 229.0,78.9 229.4,79.2 229.9,79.6 230.3,80.1 230.7,80.6 231.1,81.0 231.5,81.3 231.9,81.5 232.3,81.5 232.8,81.5 233.2,81.3 233.6,80.8 234.0,80.3 234.4,79.6 234.8,79.0 235.3,78.4 235.7,78.0 236.1,77.8 236.5,77.7 236.9,77.6 237.3,77.5 237.8,77.4 238.2,77.2 238.6,77.0 239.0,76.7 239.4,76.4 239.8,76.2 240.2,76.1 240.7,76.2 241.1,76.5 241.5,76.8 241.9,77.1 242.3,77.3 242.7,77.6 243.2,77.7 243.6,77.9 244.0,78.0 244.4,78.1 244.8,78.3 245.2,78.6 245.7,78.9 246.1,79.1 246.5,79.3 246.9,79.4 247.3,79.3 247.7,79.1 248.1,78.9 248.6,78.7 249.0,78.4 249.4,78.1 249.8,77.8 250.2,77.5 250.6,77.1 251.1,76.7 251.5,76.3 251.9,76.0 252.3,75.7 252.7,75.5 253.1,75.2 253.6,75.0 254.0,74.8 254.4,74.5 254.8,74.3 255.2,74.0 255.6,73.8 256.0,73.6 256.5,73.6" stroke="#0072BD" stroke-width="0.62"/>
<polyline points="40.7,103.2 41.1,103.1 41.5,103.2 41.9,103.2 42.4,103.1 42.8,102.7 43.2,102.2 43.6,101.8 44.0,101.8 44.4,102.2 44.8,102.9 45.3,103.5 45.7,103.8 46.1,103.8 46.5,103.7 46.9,103.6 47.3,103.4 47.8,103.2 48.2,103.1 48.6,103.1 49.0,103.2 49.4,103.5 49.8,104.0 50.2,104.5 50.7,104.9 51.1,104.9 51.5,104.6 51.9,104.1 52.3,103.5 52.7,103.2 53.2,103.1 53.6,103.4 54.0,103.8 54.4,104.2 54.8,104.6 55.2,104.9 55.7,105.2 56.1,105.4 56.5,105.6 56.9,105.8 57.3,106.1 57.7,106.3 58.1,106.3 58.6,106.1 59.0,105.8 59.4,105.5 59.8,105.4 60.2,105.5 60.6,105.6 61.1,105.7 61.5,105.7 61.9,105.7 62.3,105.9 62.7,106.3 63.1,106.6 63.6,106.7 64.0,106.5 64.4,106.1 64.8,105.6 65.2,105.0 65.6,104.5 66.0,104.2 66.5,104.0 66.9,103.9 67.3,103.9 67.7,103.8 68.1,103.7 68.5,103.6 69.0,103.4 69.4,103.0 69.8,102.5 70.2,101.9 70.6,101.6 71.0,101.7 71.5,102.2 71.9,103.0 72.3,103.8 72.7,104.4 73.1,104.8 73.5,105.0 73.9,105.1 74.4,105.1 74.8,104.8 75.2,104.2 75.6,103.5 76.0,102.9 76.4,102.6 76.9,102.4 77.3,102.3 77.7,102.3 78.1,102.5 78.5,103.0 78.9,103.4 79.4,103.5 79.8,103.2 80.2,101.7 80.6,95.2 81.0,86.3 81.4,79.6 81.8,75.8 82.3,73.1 82.7,71.8 83.1,71.0 83.5,69.5 83.9,65.1 84.3,58.9 84.8,53.5 85.2,48.7 85.6,45.1 86.0,44.1 86.4,46.3 86.8,50.3 87.3,54.5 87.7,58.9 88.1,63.9 88.5,68.3 88.9,71.3 89.3,73.6 89.7,76.1 90.2,78.3 90.6,80.2 91.0,82.0 91.4,83.3 91.8,84.2 92.2,85.2 92.7,86.3 93.1,86.5 93.5,86.2 93.9,85.8 94.3,85.5 94.7,85.0 95.2,84.1 95.6,82.5 96.0,80.2 96.4,78.0 96.8,76.0 97.2,74.1 97.6,71.6 98.1,68.2 98.5,64.9 98.9,62.5 99.3,60.4 99.7,58.0 100.1,55.8 100.6,54.1 101.0,53.6 101.4,54.1 101.8,54.6 102.2,54.8 102.6,55.3 103.1,55.8 103.5,55.9 103.9,55.9 104.3,55.5 104.7,55.1 105.1,54.8 105.5,55.2 106.0,56.3 106.4,58.3 106.8,60.6 107.2,62.5 107.6,63.7 108.0,64.6 108.5,65.1 108.9,65.9 109.3,67.3 109.7,69.3 110.1,70.6 110.5,70.4 110.9,68.9 111.4,67.5 111.8,66.8 112.2,66.5 112.6,66.3 113.0,65.5 113.4,64.7 113.9,63.9 114.3,62.7 114.7,61.5 115.1,60.5 115.5,59.8 115.9,59.3 116.4,58.7 116.8,58.1 117.2,57.4 117.6,56.8 118.0,56.9 118.4,57.8 118.8,58.7 119.3,59.1 119.7,59.2 120.1,59.2 120.5,59.4 120.9,59.7 121.3,60.3 121.8,60.8 122.2,60.6 122.6,60.5 123.0,61.1 123.4,61.5 123.8,61.1 124.3,60.3 124.7,59.5 125.1,59.0 125.5,59.1 125.9,60.0 126.3,60.8 126.7,60.6 127.2,59.6 127.6,58.8 128.0,58.0 128.4,56.9 128.8,56.1 129.2,55.9 129.7,56.1 130.1,56.4 130.5,56.5 130.9,56.5 131.3,56.4 131.7,56.2 132.2,56.0 132.6,56.1 133.0,56.3 133.4,56.9 133.8,57.5 134.2,57.6 134.6,57.6 135.1,57.6 135.5,57.2 135.9,56.4 136.3,56.1 136.7,56.6 137.1,56.8 137.6,56.6 138.0,56.8 138.4,56.9 138.8,56.3 139.2,55.5 139.6,54.7 140.1,53.7 140.5,52.7 140.9,52.6 141.3,53.1 141.7,53.5 142.1,53.4 142.5,53.0 143.0,52.7 143.4,52.2 143.8,51.6 144.2,51.2 144.6,51.1 145.0,51.3 145.5,51.7 145.9,52.0 146.3,52.0 146.7,51.9 147.1,51.4 147.5,50.5 148.0,50.2 148.4,50.6 148.8,51.3 149.2,51.6 149.6,51.4 150.0,51.4 150.4,51.7 150.9,51.5 151.3,50.7 151.7,50.2 152.1,50.3 152.5,50.5 152.9,50.2 153.4,49.6 153.8,49.4 154.2,49.4 154.6,49.2 155.0,48.6 155.4,48.2 155.9,48.5 156.3,49.3 156.7,49.9 157.1,49.6 157.5,48.9 157.9,49.2 158.3,49.8 158.8,49.7 159.2,49.2 159.6,48.5 160.0,48.1 160.4,47.8 160.8,47.5 161.3,47.3 161.7,47.1 162.1,47.0 162.5,46.5 162.9,46.0 163.3,45.9 163.7,46.0 164.2,46.7 164.6,47.3 165.0,47.0 165.4,46.4 165.8,46.8 166.2,48.3 166.7,49.7 167.1,51.4 167.5,54.7 167.9,59.1 168.3,64.4 168.7,69.6 169.2,73.5 169.6,76.1 170.0,78.6 170.4,81.5 170.8,84.6 171.2,87.5 171.6,89.9 172.1,92.0 172.5,93.4 172.9,93.6 173.3,92.7 173.7,90.6 174.1,88.1 174.6,85.7 175.0,83.5 175.4,81.2 175.8,79.1 176.2,77.6 176.6,76.5 177.1,75.4 177.5,74.0 177.9,72.6 178.3,71.4 178.7,70.6 179.1,70.0 179.5,69.5 180.0,68.9 180.4,68.4 180.8,68.1 181.2,67.8 181.6,67.7 182.0,67.7 182.5,67.8 182.9,68.0 183.3,68.4 183.7,68.9 184.1,69.3 184.5,69.7 185.0,70.1 185.4,70.6 185.8,71.1 186.2,71.7 186.6,72.1 187.0,72.3 187.4,72.3 187.9,71.9 188.3,71.3 188.7,70.7 189.1,69.9 189.5,69.1 189.9,68.3 190.4,67.5 190.8,66.8 191.2,66.1 191.6,65.3 192.0,64.6 192.4,64.0 192.9,63.5 193.3,63.0 193.7,62.5 194.1,62.1 194.5,61.8 194.9,61.7 195.3,61.9 195.8,62.3 196.2,62.9 196.6,63.6 197.0,64.3 197.4,64.8 197.8,65.3 198.3,65.6 198.7,65.9 199.1,66.2 199.5,66.6 199.9,67.1 200.3,67.6 200.8,68.1 201.2,68.5 201.6,68.8 202.0,68.9 202.4,68.8 202.8,68.4 203.2,67.9 203.7,67.2 204.1,66.4 204.5,65.6 204.9,64.8 205.3,64.0 205.7,63.3 206.2,62.7 206.6,62.0 207.0,61.4 207.4,60.7 207.8,60.0 208.2,59.4 208.7,58.8 209.1,58.3 209.5,57.9 209.9,57.5 210.3,57.3 210.7,57.2 211.1,57.3 211.6,57.6 212.0,57.9 212.4,58.4 212.8,58.9 213.2,59.4 213.6,59.9 214.1,60.3 214.5,60.7 214.9,61.2 215.3,61.8 215.7,62.4 216.1,62.9 216.6,63.3 217.0,63.7 217.4,63.9 217.8,64.0 218.2,64.0 218.6,63.9 219.0,63.5 219.5,63.0 219.9,62.4 220.3,61.6 220.7,60.8 221.1,60.0 221.5,59.2 222.0,58.4 222.4,57.8 222.8,57.1 223.2,56.4 223.6,55.7 224.0,55.1 224.4,54.6 224.9,54.1 225.3,53.8 225.7,53.7 226.1,53.7 226.5,53.8 226.9,54.0 227.4,54.3 227.8,54.7 228.2,55.0 228.6,55.3 229.0,55.5 229.4,55.6 229.9,55.8 230.3,56.0 230.7,56.2 231.1,56.5 231.5,56.8 231.9,57.0 232.3,57.2 232.8,57.2 233.2,57.0 233.6,56.7 234.0,56.2 234.4,55.7 234.8,55.2 235.3,54.6 235.7,54.2 236.1,53.8 236.5,53.6 236.9,53.3 237.3,52.9 237.8,52.6 238.2,52.3 238.6,51.9 239.0,51.6 239.4,51.3 239.8,51.0 240.2,50.8 240.7,50.6 241.1,50.5 241.5,50.5 241.9,50.6 242.3,50.7 242.7,51.0 243.2,51.4 243.6,51.7 244.0,51.9 244.4,52.1 244.8,52.2 245.2,52.2 245.7,52.2 246.1,52.2 246.5,52.2 246.9,52.2 247.3,52.1 247.7,51.9 248.1,51.6 248.6,51.2 249.0,50.8 249.4,50.4 249.8,50.1 250.2,49.9 250.6,49.9 251.1,49.9 251.5,49.9 251.9,49.7 252.3,49.3 252.7,48.8 253.1,48.3 253.6,47.9 254.0,47.5 254.4,47.2 254.8,46.9 255.2,46.7 255.6,46.4 256.0,46.2 256.5,46.0" stroke="#D95319" stroke-width="0.62"/>
<polyline points="40.7,104.3 41.1,104.2 41.5,103.9 41.9,103.4 42.4,103.0 42.8,102.8 43.2,102.7 43.6,102.8 44.0,103.0 44.4,103.1 44.8,103.3 45.3,103.4 45.7,103.6 46.1,103.6 46.5,103.8 46.9,103.9 47.3,104.1 47.8,104.1 48.2,104.0 48.6,103.8 49.0,103.9 49.4,104.1 49.8,104.3 50.2,104.5 50.7,104.5 51.1,104.5 51.5,104.6 51.9,104.9 52.3,105.1 52.7,105.1 53.2,105.0 53.6,104.8 54.0,104.6 54.4,104.3 54.8,103.8 55.2,103.1 55.7,102.4 56.1,102.0 56.5,102.2 56.9,102.9 57.3,103.9 57.7,104.7 58.1,105.2 58.6,105.4 59.0,105.6 59.4,105.5 59.8,105.3 60.2,104.8 60.6,104.4 61.1,104.4 61.5,104.8 61.9,105.3 62.3,105.6 62.7,105.7 63.1,105.4 63.6,105.0 64.0,104.4 64.4,103.7 64.8,102.9 65.2,102.4 65.6,102.0 66.0,101.9 66.5,102.1 66.9,102.3 67.3,102.4 67.7,102.5 68.1,102.6 68.5,102.6 69.0,102.7 69.4,102.9 69.8,103.2 70.2,103.4 70.6,103.7 71.0,103.9 71.5,104.0 71.9,104.0 72.3,104.0 72.7,103.9 73.1,103.8 73.5,103.6 73.9,103.4 74.4,103.3 74.8,103.3 75.2,103.5 75.6,103.8 76.0,103.9 76.4,103.9 76.9,103.6 77.3,103.3 77.7,103.0 78.1,103.0 78.5,103.3 78.9,103.7 79.4,103.8 79.8,103.7 80.2,102.4 80.6,95.9 81.0,86.8 81.4,79.8 81.8,75.9 82.3,73.1 82.7,71.7 83.1,71.1 83.5,69.8 83.9,65.6 84.3,59.4 84.8,53.9 85.2,49.3 85.6,45.8 86.0,44.7 86.4,46.8 86.8,50.9 87.3,55.1 87.7,59.2 88.1,63.6 88.5,67.7 88.9,70.7 89.3,73.2 89.7,75.5 90.2,77.9 90.6,80.0 91.0,81.5 91.4,82.4 91.8,83.8 92.2,85.9 92.7,87.6 93.1,88.3 93.5,88.7 93.9,88.6 94.3,87.9 94.7,86.2 95.2,84.0 95.6,81.7 96.0,79.6 96.4,77.9 96.8,75.9 97.2,73.3 97.6,70.7 98.1,68.4 98.5,66.6 98.9,65.0 99.3,63.0 99.7,60.1 100.1,56.9 100.6,54.5 101.0,53.7 101.4,54.3 101.8,55.4 102.2,56.6 102.6,57.2 103.1,57.0 103.5,56.4 103.9,56.1 104.3,56.1 104.7,56.0 105.1,55.5 105.5,55.1 106.0,55.4 106.4,56.7 106.8,58.6 107.2,60.6 107.6,62.2 108.0,63.7 108.5,64.9 108.9,66.1 109.3,67.4 109.7,69.0 110.1,70.4 110.5,71.2 110.9,71.1 111.4,70.5 111.8,69.9 112.2,69.2 112.6,68.2 113.0,66.9 113.4,65.5 113.9,64.3 114.3,63.1 114.7,61.7 115.1,60.2 115.5,59.0 115.9,58.0 116.4,57.1 116.8,56.5 117.2,56.8 117.6,57.4 118.0,57.9 118.4,58.5 118.8,59.2 119.3,59.3 119.7,59.1 120.1,59.4 120.5,59.7 120.9,59.8 121.3,59.8 121.8,60.2 122.2,60.9 122.6,61.4 123.0,61.4 123.4,60.9 123.8,60.0 124.3,59.3 124.7,58.9 125.1,59.1 125.5,59.3 125.9,59.0 126.3,58.5 126.7,58.1 127.2,57.8 127.6,57.7 128.0,57.8 128.4,57.2 128.8,56.1 129.2,55.6 129.7,56.0 130.1,56.6 130.5,56.6 130.9,56.3 131.3,56.2 131.7,56.2 132.2,55.9 132.6,55.2 133.0,54.5 133.4,54.1 133.8,53.9 134.2,53.7 134.6,53.2 135.1,52.6 135.5,52.2 135.9,52.3 136.3,52.9 136.7,53.5 137.1,54.1 137.6,54.3 138.0,53.9 138.4,53.0 138.8,52.6 139.2,52.3 139.6,51.9 140.1,51.4 140.5,50.8 140.9,50.3 141.3,50.0 141.7,49.5 142.1,49.1 142.5,49.6 143.0,50.4 143.4,50.7 143.8,50.5 144.2,50.5 144.6,50.7 145.0,50.9 145.5,50.9 145.9,50.9 146.3,50.3 146.7,48.9 147.1,47.1 147.5,46.0 148.0,46.1 148.4,46.4 148.8,46.1 149.2,45.8 149.6,45.8 150.0,45.9 150.4,46.0 150.9,46.0 151.3,45.9 151.7,45.4 152.1,45.0 152.5,44.9 152.9,44.6 153.4,43.9 153.8,43.5 154.2,44.2 154.6,45.3 155.0,45.8 155.4,45.1 155.9,43.9 156.3,42.7 156.7,42.0 157.1,41.9 157.5,41.7 157.9,41.4 158.3,41.3 158.8,41.7 159.2,42.0 159.6,41.9 160.0,41.6 160.4,40.9 160.8,40.2 161.3,39.6 161.7,39.5 162.1,39.8 162.5,40.3 162.9,40.8 163.3,41.0 163.7,40.6 164.2,40.0 164.6,39.8 165.0,40.1 165.4,40.4 165.8,40.8 166.2,41.5 166.7,42.8 167.1,44.9 167.5,48.1 167.9,51.9 168.3,56.3 168.7,60.5 169.2,63.8 169.6,66.8 170.0,70.5 170.4,74.0 170.8,76.7 171.2,78.6 171.6,80.2 172.1,81.7 172.5,82.8 172.9,82.9 173.3,82.0 173.7,80.8 174.1,79.5 174.6,77.6 175.0,75.3 175.4,72.9 175.8,70.8 176.2,69.1 176.6,67.5 177.1,66.2 177.5,65.1 177.9,64.0 178.3,62.9 178.7,61.9 179.1,61.2 179.5,60.5 180.0,59.7 180.4,58.8 180.8,58.1 181.2,57.7 181.6,57.5 182.0,57.5 182.5,57.6 182.9,58.0 183.3,58.4 183.7,58.9 184.1,59.2 184.5,59.6 185.0,60.0 185.4,60.5 185.8,61.1 186.2,61.8 186.6,62.3 187.0,62.7 187.4,62.7 187.9,62.4 188.3,61.7 188.7,60.8 189.1,59.8 189.5,58.8 189.9,57.8 190.4,57.0 190.8,56.3 191.2,55.5 191.6,54.7 192.0,53.9 192.4,53.2 192.9,52.5 193.3,51.8 193.7,51.2 194.1,50.8 194.5,50.6 194.9,50.6 195.3,50.7 195.8,51.0 196.2,51.2 196.6,51.5 197.0,51.9 197.4,52.3 197.8,52.7 198.3,53.1 198.7,53.5 199.1,53.9 199.5,54.5 199.9,55.1 200.3,55.7 200.8,56.2 201.2,56.7 201.6,57.0 202.0,57.2 202.4,57.1 202.8,56.8 203.2,56.3 203.7,55.7 204.1,55.0 204.5,54.3 204.9,53.4 205.3,52.6 205.7,51.8 206.2,51.2 206.6,50.7 207.0,50.3 207.4,49.7 207.8,49.2 208.2,48.5 208.7,47.9 209.1,47.2 209.5,46.5 209.9,45.9 210.3,45.5 210.7,45.2 211.1,45.2 211.6,45.5 212.0,45.9 212.4,46.6 212.8,47.3 213.2,48.0 213.6,48.8 214.1,49.4 214.5,49.9 214.9,50.5 215.3,51.1 215.7,51.7 216.1,52.4 216.6,53.1 217.0,53.6 217.4,54.0 217.8,54.1 218.2,54.0 218.6,53.8 219.0,53.4 219.5,52.8 219.9,52.2 220.3,51.5 220.7,50.8 221.1,50.1 221.5,49.4 222.0,48.8 222.4,48.3 222.8,47.8 223.2,47.2 223.6,46.7 224.0,46.3 224.4,45.9 224.9,45.5 225.3,45.3 225.7,45.1 226.1,45.1 226.5,45.3 226.9,45.6 227.4,46.0 227.8,46.4 228.2,46.8 228.6,47.2 229.0,47.5 229.4,47.8 229.9,48.1 230.3,48.5 230.7,48.8 231.1,49.1 231.5,49.4 231.9,49.6 232.3,49.8 232.8,49.9 233.2,49.9 233.6,49.7 234.0,49.4 234.4,48.9 234.8,48.4 235.3,47.8 235.7,47.3 236.1,46.9 236.5,46.6 236.9,46.4 237.3,46.2 237.8,46.0 238.2,45.8 238.6,45.7 239.0,45.5 239.4,45.4 239.8,45.3 240.2,45.2 240.7,45.1 241.1,45.1 241.5,45.0 241.9,45.1 242.3,45.2 242.7,45.3 243.2,45.5 243.6,45.8 244.0,46.0 244.4,46.3 244.8,46.7 245.2,47.0 245.7,47.4 246.1,47.8 246.5,48.1 246.9,48.2 247.3,48.3 247.7,48.2 248.1,48.0 248.6,47.6 249.0,47.1 249.4,46.7 249.8,46.2 250.2,45.9 250.6,45.5 251.1,45.2 251.5,44.9 251.9,44.6 252.3,44.3 252.7,44.0 253.1,43.8 253.6,43.5 254.0,43.1 254.4,42.8 254.8,42.5 255.2,42.2 255.6,42.0 256.0,41.9 256.5,41.9" stroke="#A2142F" stroke-width="0.62"/>
<polyline points="40.7,104.7 41.1,103.6 41.5,102.7 41.9,102.3 42.4,102.6 42.8,103.5 43.2,104.3 43.6,104.7 44.0,104.7 44.4,104.3 44.8,103.9 45.3,103.6 45.7,103.3 46.1,103.0 46.5,102.8 46.9,102.7 47.3,102.7 47.8,102.6 48.2,102.6 48.6,102.7 49.0,102.9 49.4,103.3 49.8,103.8 50.2,104.1 50.7,104.0 51.1,103.6 51.5,102.9 51.9,102.5 52.3,102.3 52.7,102.5 53.2,102.7 53.6,102.9 54.0,103.2 54.4,103.8 54.8,104.4 55.2,104.9 55.7,105.3 56.1,105.6 56.5,105.8 56.9,106.1 57.3,106.4 57.7,106.6 58.1,106.7 58.6,106.7 59.0,106.6 59.4,106.5 59.8,106.5 60.2,106.4 60.6,106.3 61.1,106.0 61.5,105.4 61.9,104.8 62.3,104.2 62.7,103.8 63.1,103.7 63.6,103.6 64.0,103.5 64.4,103.5 64.8,103.5 65.2,103.6 65.6,103.9 66.0,104.1 66.5,104.4 66.9,104.5 67.3,104.4 67.7,104.2 68.1,103.9 68.5,103.4 69.0,102.9 69.4,102.7 69.8,102.9 70.2,103.3 70.6,103.7 71.0,104.1 71.5,104.3 71.9,104.6 72.3,105.1 72.7,105.7 73.1,106.2 73.5,106.2 73.9,105.5 74.4,104.5 74.8,103.5 75.2,102.7 75.6,102.3 76.0,102.4 76.4,102.8 76.9,103.4 77.3,103.9 77.7,104.0 78.1,103.8 78.5,103.5 78.9,103.4 79.4,103.4 79.8,103.4 80.2,102.9 80.6,97.7 81.0,89.1 81.4,81.6 81.8,77.1 82.3,74.0 82.7,72.2 83.1,71.3 83.5,70.3 83.9,66.9 84.3,61.2 84.8,55.8 85.2,50.9 85.6,46.6 86.0,44.2 86.4,45.1 86.8,49.0 87.3,53.6 87.7,58.1 88.1,62.6 88.5,66.3 88.9,68.9 89.3,71.6 89.7,74.5 90.2,77.2 90.6,79.0 91.0,79.9 91.4,81.2 91.8,83.5 92.2,85.8 92.7,87.1 93.1,87.3 93.5,87.0 93.9,86.7 94.3,86.6 94.7,85.9 95.2,84.0 95.6,81.4 96.0,79.0 96.4,77.0 96.8,75.0 97.2,72.7 97.6,70.1 98.1,67.1 98.5,64.3 98.9,61.7 99.3,58.3 99.7,55.0 100.1,52.9 100.6,51.7 101.0,51.0 101.4,51.2 101.8,52.1 102.2,52.7 102.6,52.5 103.1,51.8 103.5,51.2 103.9,51.1 104.3,50.8 104.7,49.8 105.1,49.2 105.5,49.6 106.0,50.7 106.4,52.2 106.8,53.6 107.2,55.1 107.6,56.7 108.0,58.6 108.5,60.0 108.9,61.3 109.3,62.7 109.7,63.8 110.1,64.2 110.5,64.1 110.9,64.2 111.4,64.7 111.8,64.4 112.2,62.5 112.6,59.9 113.0,57.7 113.4,56.3 113.9,55.8 114.3,55.8 114.7,55.5 115.1,54.5 115.5,53.3 115.9,52.3 116.4,51.3 116.8,50.0 117.2,49.3 117.6,49.4 118.0,49.8 118.4,50.4 118.8,51.7 119.3,53.2 119.7,53.9 120.1,53.6 120.5,53.4 120.9,54.3 121.3,55.4 121.8,56.0 122.2,56.2 122.6,55.9 123.0,55.5 123.4,55.2 123.8,54.7 124.3,54.4 124.7,54.4 125.1,54.3 125.5,54.3 125.9,54.1 126.3,53.8 126.7,53.6 127.2,53.7 127.6,54.0 128.0,54.1 128.4,53.9 128.8,54.0 129.2,54.1 129.7,53.8 130.1,52.7 130.5,51.2 130.9,50.5 131.3,50.9 131.7,51.7 132.2,52.2 132.6,52.3 133.0,52.3 133.4,51.8 133.8,51.4 134.2,51.7 134.6,52.7 135.1,53.5 135.5,53.8 135.9,53.7 136.3,52.9 136.7,52.1 137.1,52.1 137.6,52.3 138.0,52.2 138.4,52.0 138.8,51.7 139.2,51.3 139.6,51.1 140.1,51.1 140.5,50.9 140.9,50.5 141.3,49.7 141.7,49.0 142.1,48.9 142.5,49.3 143.0,49.6 143.4,49.3 143.8,48.8 144.2,49.0 144.6,49.7 145.0,49.8 145.5,48.9 145.9,48.0 146.3,48.0 146.7,48.7 147.1,49.0 147.5,48.7 148.0,48.3 148.4,48.3 148.8,48.6 149.2,48.9 149.6,49.0 150.0,49.3 150.4,48.9 150.9,48.1 151.3,47.8 151.7,48.3 152.1,48.2 152.5,47.5 152.9,47.5 153.4,48.5 153.8,49.2 154.2,48.9 154.6,48.4 155.0,47.7 155.4,46.5 155.9,45.7 156.3,45.8 156.7,46.2 157.1,46.3 157.5,46.2 157.9,45.6 158.3,44.5 158.8,43.6 159.2,43.7 159.6,44.0 160.0,43.9 160.4,43.7 160.8,44.2 161.3,44.6 161.7,44.3 162.1,43.9 162.5,43.7 162.9,43.5 163.3,43.8 163.7,44.5 164.2,45.2 164.6,45.6 165.0,45.8 165.4,46.2 165.8,46.9 166.2,47.4 166.7,47.7 167.1,48.9 167.5,51.8 167.9,55.7 168.3,60.1 168.7,64.1 169.2,67.5 169.6,71.1 170.0,74.6 170.4,77.4 170.8,80.5 171.2,84.5 171.6,88.1 172.1,90.1 172.5,91.0 172.9,90.9 173.3,89.6 173.7,87.3 174.1,84.6 174.6,81.7 175.0,78.9 175.4,77.0 175.8,75.6 176.2,74.1 176.6,72.2 177.1,70.6 177.5,69.7 177.9,69.1 178.3,68.5 178.7,67.9 179.1,67.2 179.5,66.6 180.0,66.1 180.4,65.6 180.8,65.4 181.2,65.4 181.6,65.6 182.0,65.7 182.5,65.7 182.9,65.8 183.3,65.9 183.7,65.9 184.1,65.8 184.5,65.7 185.0,65.8 185.4,66.1 185.8,66.5 186.2,66.9 186.6,67.1 187.0,67.2 187.4,67.0 187.9,66.8 188.3,66.4 188.7,66.0 189.1,65.5 189.5,64.9 189.9,64.2 190.4,63.6 190.8,63.0 191.2,62.4 191.6,61.8 192.0,61.1 192.4,60.5 192.9,59.9 193.3,59.4 193.7,58.9 194.1,58.5 194.5,58.1 194.9,57.9 195.3,57.8 195.8,57.9 196.2,58.1 196.6,58.4 197.0,58.7 197.4,59.0 197.8,59.3 198.3,59.3 198.7,59.3 199.1,59.3 199.5,59.4 199.9,59.7 200.3,60.1 200.8,60.6 201.2,61.2 201.6,61.5 202.0,61.7 202.4,61.6 202.8,61.2 203.2,60.6 203.7,59.9 204.1,59.1 204.5,58.3 204.9,57.6 205.3,56.9 205.7,56.3 206.2,55.9 206.6,55.6 207.0,55.3 207.4,55.0 207.8,54.6 208.2,54.1 208.7,53.5 209.1,52.8 209.5,52.2 209.9,51.8 210.3,51.5 210.7,51.4 211.1,51.4 211.6,51.5 212.0,51.8 212.4,52.1 212.8,52.4 213.2,52.8 213.6,53.1 214.1,53.4 214.5,53.5 214.9,53.6 215.3,53.7 215.7,53.9 216.1,54.2 216.6,54.4 217.0,54.6 217.4,54.8 217.8,55.0 218.2,55.1 218.6,55.2 219.0,55.1 219.5,54.9 219.9,54.5 220.3,53.9 220.7,53.3 221.1,52.7 221.5,52.2 222.0,51.7 222.4,51.4 222.8,51.0 223.2,50.4 223.6,49.7 224.0,48.9 224.4,48.1 224.9,47.5 225.3,47.0 225.7,46.7 226.1,46.6 226.5,46.7 226.9,46.9 227.4,47.2 227.8,47.4 228.2,47.7 228.6,47.8 229.0,47.9 229.4,47.9 229.9,47.8 230.3,47.8 230.7,47.8 231.1,47.8 231.5,47.9 231.9,47.9 232.3,48.0 232.8,47.9 233.2,47.9 233.6,47.8 234.0,47.6 234.4,47.4 234.8,47.1 235.3,46.8 235.7,46.3 236.1,45.8 236.5,45.4 236.9,45.0 237.3,44.7 237.8,44.4 238.2,44.1 238.6,43.8 239.0,43.5 239.4,43.2 239.8,42.8 240.2,42.5 240.7,42.2 241.1,42.1 241.5,42.0 241.9,42.0 242.3,42.0 242.7,42.1 243.2,42.2 243.6,42.4 244.0,42.5 244.4,42.7 244.8,42.7 245.2,42.8 245.7,42.7 246.1,42.6 246.5,42.4 246.9,42.2 247.3,42.0 247.7,41.8 248.1,41.7 248.6,41.4 249.0,41.1 249.4,40.8 249.8,40.4 250.2,39.9 250.6,39.4 251.1,38.9 251.5,38.5 251.9,38.1 252.3,37.8 252.7,37.6 253.1,37.3 253.6,37.1 254.0,36.9 254.4,36.6 254.8,36.4 255.2,36.2 255.6,36.0 256.0,35.9 256.5,35.7" stroke="#77AC30" stroke-width="0.62"/>
<polyline points="40.7,104.2 41.1,104.1 41.5,103.9 41.9,103.6 42.4,103.3 42.8,103.1 43.2,102.8 43.6,102.6 44.0,102.4 44.4,102.2 44.8,102.2 45.3,102.3 45.7,102.4 46.1,102.6 46.5,102.7 46.9,102.8 47.3,102.8 47.8,102.7 48.2,102.7 48.6,102.8 49.0,103.0 49.4,103.1 49.8,103.0 50.2,102.7 50.7,102.3 51.1,101.9 51.5,101.9 51.9,102.1 52.3,102.4 52.7,102.8 53.2,103.1 53.6,103.2 54.0,103.2 54.4,103.1 54.8,102.9 55.2,102.8 55.7,103.0 56.1,103.5 56.5,104.1 56.9,104.6 57.3,104.8 57.7,104.8 58.1,104.6 58.6,104.3 59.0,103.8 59.4,103.0 59.8,102.2 60.2,101.5 60.6,101.1 61.1,101.1 61.5,101.3 61.9,101.7 62.3,102.2 62.7,102.7 63.1,103.1 63.6,103.3 64.0,103.4 64.4,103.3 64.8,103.1 65.2,102.8 65.6,102.4 66.0,101.9 66.5,101.6 66.9,101.6 67.3,101.9 67.7,102.2 68.1,102.4 68.5,102.6 69.0,102.7 69.4,103.0 69.8,103.4 70.2,103.9 70.6,104.5 71.0,105.0 71.5,105.2 71.9,105.1 72.3,104.7 72.7,104.4 73.1,104.0 73.5,103.9 73.9,103.9 74.4,104.0 74.8,104.3 75.2,104.6 75.6,104.8 76.0,104.8 76.4,104.7 76.9,104.7 77.3,104.9 77.7,105.1 78.1,105.0 78.5,104.9 78.9,104.8 79.4,104.6 79.8,104.3 80.2,103.7 80.6,101.7 81.0,94.7 81.4,85.7 81.8,79.0 82.3,75.1 82.7,72.4 83.1,71.2 83.5,70.6 83.9,69.2 84.3,65.0 84.8,59.1 85.2,54.2 85.6,50.1 86.0,46.5 86.4,44.8 86.8,46.3 87.3,50.4 87.7,55.1 88.1,59.8 88.5,64.7 88.9,69.2 89.3,72.5 89.7,75.1 90.2,77.4 90.6,79.4 91.0,81.4 91.4,83.3 91.8,84.3 92.2,84.4 92.7,84.7 93.1,85.6 93.5,86.6 93.9,87.6 94.3,88.3 94.7,88.2 95.2,86.8 95.6,84.8 96.0,82.5 96.4,79.8 96.8,77.0 97.2,74.5 97.6,72.4 98.1,70.3 98.5,68.1 98.9,66.1 99.3,64.2 99.7,62.2 100.1,59.6 100.6,57.5 101.0,56.2 101.4,55.7 101.8,55.8 102.2,56.0 102.6,56.5 103.1,57.0 103.5,57.0 103.9,56.1 104.3,54.9 104.7,54.2 105.1,54.7 105.5,55.7 106.0,56.5 106.4,57.6 106.8,59.3 107.2,60.8 107.6,61.9 108.0,63.0 108.5,64.9 108.9,67.3 109.3,69.5 109.7,71.1 110.1,72.4 110.5,74.0 110.9,75.3 111.4,75.3 111.8,74.3 112.2,73.2 112.6,71.6 113.0,69.5 113.4,67.8 113.9,66.8 114.3,65.9 114.7,65.0 115.1,64.6 115.5,64.3 115.9,64.0 116.4,63.9 116.8,63.3 117.2,62.5 117.6,62.0 118.0,62.4 118.4,63.5 118.8,64.6 119.3,65.0 119.7,64.7 120.1,64.0 120.5,63.8 120.9,64.7 121.3,66.0 121.8,66.2 122.2,65.4 122.6,64.5 123.0,64.1 123.4,64.2 123.8,64.5 124.3,64.7 124.7,65.0 125.1,65.2 125.5,65.0 125.9,64.2 126.3,63.1 126.7,62.3 127.2,62.2 127.6,63.0 128.0,63.9 128.4,64.6 128.8,64.9 129.2,64.9 129.7,64.9 130.1,64.6 130.5,63.5 130.9,61.8 131.3,60.7 131.7,60.3 132.2,60.2 132.6,60.1 133.0,59.9 133.4,59.7 133.8,60.1 134.2,60.8 134.6,61.3 135.1,61.5 135.5,61.3 135.9,60.4 136.3,59.7 136.7,60.0 137.1,60.8 137.6,60.9 138.0,60.1 138.4,59.0 138.8,57.9 139.2,57.5 139.6,58.1 140.1,58.9 140.5,59.9 140.9,60.6 141.3,60.5 141.7,59.7 142.1,58.8 142.5,58.2 143.0,58.4 143.4,58.7 143.8,58.2 144.2,57.3 144.6,56.8 145.0,56.7 145.5,56.2 145.9,55.2 146.3,54.6 146.7,55.0 147.1,56.0 147.5,56.5 148.0,56.1 148.4,55.3 148.8,55.0 149.2,55.4 149.6,56.1 150.0,56.5 150.4,56.8 150.9,57.1 151.3,57.1 151.7,56.4 152.1,55.6 152.5,55.5 152.9,55.3 153.4,54.8 153.8,54.2 154.2,54.0 154.6,53.9 155.0,54.0 155.4,54.0 155.9,54.0 156.3,53.8 156.7,53.4 157.1,52.8 157.5,52.4 157.9,52.2 158.3,52.0 158.8,51.6 159.2,51.8 159.6,52.6 160.0,53.3 160.4,53.5 160.8,53.9 161.3,54.4 161.7,54.0 162.1,53.1 162.5,52.2 162.9,51.8 163.3,52.0 163.7,52.7 164.2,53.2 164.6,53.4 165.0,52.9 165.4,52.2 165.8,52.2 166.2,53.2 166.7,54.1 167.1,55.2 167.5,57.6 167.9,61.1 168.3,64.9 168.7,68.8 169.2,72.8 169.6,77.1 170.0,81.6 170.4,86.1 170.8,90.1 171.2,93.7 171.6,96.4 172.1,98.0 172.5,98.8 172.9,98.8 173.3,97.6 173.7,95.5 174.1,93.0 174.6,90.5 175.0,88.6 175.4,87.3 175.8,86.2 176.2,84.9 176.6,83.4 177.1,81.9 177.5,80.5 177.9,79.4 178.3,78.5 178.7,78.0 179.1,77.5 179.5,76.9 180.0,76.4 180.4,76.0 180.8,75.7 181.2,75.4 181.6,75.1 182.0,75.0 182.5,75.1 182.9,75.4 183.3,75.7 183.7,75.9 184.1,76.1 184.5,76.1 185.0,76.3 185.4,76.6 185.8,77.1 186.2,77.6 186.6,78.1 187.0,78.6 187.4,78.9 187.9,79.1 188.3,79.0 188.7,78.6 189.1,78.2 189.5,77.7 189.9,77.2 190.4,76.7 190.8,76.3 191.2,76.0 191.6,75.5 192.0,74.9 192.4,74.2 192.9,73.5 193.3,72.9 193.7,72.3 194.1,71.8 194.5,71.4 194.9,71.2 195.3,71.1 195.8,71.2 196.2,71.4 196.6,71.7 197.0,72.1 197.4,72.6 197.8,73.1 198.3,73.6 198.7,74.0 199.1,74.4 199.5,74.8 199.9,75.3 200.3,75.8 200.8,76.3 201.2,76.8 201.6,77.3 202.0,77.8 202.4,78.1 202.8,78.2 203.2,78.1 203.7,77.8 204.1,77.4 204.5,76.8 204.9,76.1 205.3,75.3 205.7,74.5 206.2,73.8 206.6,73.3 207.0,72.9 207.4,72.6 207.8,72.2 208.2,71.9 208.7,71.5 209.1,71.0 209.5,70.6 209.9,70.2 210.3,69.9 210.7,69.6 211.1,69.4 211.6,69.5 212.0,69.6 212.4,70.0 212.8,70.4 213.2,71.0 213.6,71.6 214.1,72.2 214.5,72.8 214.9,73.1 215.3,73.3 215.7,73.4 216.1,73.5 216.6,73.7 217.0,74.0 217.4,74.4 217.8,74.7 218.2,74.9 218.6,75.0 219.0,74.9 219.5,74.7 219.9,74.3 220.3,73.8 220.7,73.3 221.1,72.8 221.5,72.3 222.0,71.9 222.4,71.6 222.8,71.4 223.2,71.1 223.6,70.7 224.0,70.2 224.4,69.6 224.9,69.1 225.3,68.7 225.7,68.4 226.1,68.3 226.5,68.3 226.9,68.5 227.4,68.8 227.8,69.2 228.2,69.6 228.6,70.0 229.0,70.3 229.4,70.5 229.9,70.6 230.3,70.8 230.7,71.1 231.1,71.5 231.5,71.8 231.9,72.1 232.3,72.3 232.8,72.4 233.2,72.3 233.6,72.0 234.0,71.6 234.4,71.3 234.8,70.9 235.3,70.6 235.7,70.4 236.1,70.2 236.5,70.0 236.9,69.9 237.3,69.7 237.8,69.5 238.2,69.2 238.6,68.8 239.0,68.6 239.4,68.4 239.8,68.3 240.2,68.2 240.7,68.1 241.1,68.2 241.5,68.2 241.9,68.4 242.3,68.5 242.7,68.8 243.2,69.1 243.6,69.5 244.0,69.8 244.4,70.0 244.8,70.2 245.2,70.3 245.7,70.3 246.1,70.3 246.5,70.3 246.9,70.4 247.3,70.5 247.7,70.6 248.1,70.6 248.6,70.6 249.0,70.4 249.4,70.1 249.8,69.9 250.2,69.6 250.6,69.4 251.1,69.2 251.5,69.0 251.9,68.9 252.3,68.7 252.7,68.5 253.1,68.2 253.6,68.0 254.0,67.8 254.4,67.7 254.8,67.5 255.2,67.4 255.6,67.2 256.0,67.1 256.5,66.9" stroke="#7E2F8E" stroke-width="0.62"/>
<polyline points="40.7,103.3 41.1,103.4 41.5,103.4 41.9,103.1 42.4,102.8 42.8,102.5 43.2,102.3 43.6,102.4 44.0,102.7 44.4,103.1 44.8,103.4 45.3,103.7 45.7,103.9 46.1,104.2 46.5,104.4 46.9,104.7 47.3,104.9 47.8,105.0 48.2,105.1 48.6,105.2 49.0,105.2 49.4,105.1 49.8,104.8 50.2,104.6 50.7,104.5 51.1,104.7 51.5,105.1 51.9,105.6 52.3,105.7 52.7,105.4 53.2,104.9 53.6,104.6 54.0,104.6 54.4,105.0 54.8,105.5 55.2,105.8 55.7,105.7 56.1,105.0 56.5,104.1 56.9,103.3 57.3,102.8 57.7,102.4 58.1,102.3 58.6,102.1 59.0,102.1 59.4,102.1 59.8,102.3 60.2,102.4 60.6,102.5 61.1,102.4 61.5,102.3 61.9,102.3 62.3,102.3 62.7,102.6 63.1,103.0 63.6,103.4 64.0,103.5 64.4,103.4 64.8,103.2 65.2,103.1 65.6,103.3 66.0,103.6 66.5,103.8 66.9,103.8 67.3,103.6 67.7,103.2 68.1,102.9 68.5,102.9 69.0,103.1 69.4,103.4 69.8,103.7 70.2,104.0 70.6,104.1 71.0,104.1 71.5,104.0 71.9,104.0 72.3,104.1 72.7,104.4 73.1,104.8 73.5,105.3 73.9,105.7 74.4,106.1 74.8,106.4 75.2,106.4 75.6,106.3 76.0,105.9 76.4,105.4 76.9,104.8 77.3,104.4 77.7,104.1 78.1,104.1 78.5,104.0 78.9,103.8 79.4,103.6 79.8,103.3 80.2,102.6 80.6,96.8 81.0,87.7 81.4,80.3 81.8,76.1 82.3,73.0 82.7,71.3 83.1,70.5 83.5,69.2 83.9,65.1 84.3,58.8 84.8,53.2 85.2,48.1 85.6,43.7 86.0,41.7 86.4,43.2 86.8,47.2 87.3,51.8 87.7,56.5 88.1,61.7 88.5,66.5 88.9,70.3 89.3,73.6 89.7,76.2 90.2,78.2 90.6,79.7 91.0,81.0 91.4,81.9 91.8,82.9 92.2,84.5 92.7,86.4 93.1,87.7 93.5,88.5 93.9,89.0 94.3,88.9 94.7,87.7 95.2,85.4 95.6,82.7 96.0,80.2 96.4,78.4 96.8,76.8 97.2,75.0 97.6,72.8 98.1,70.0 98.5,67.4 98.9,65.5 99.3,63.6 99.7,60.9 100.1,58.2 100.6,56.0 101.0,55.0 101.4,55.2 101.8,55.8 102.2,56.7 102.6,58.1 103.1,59.1 103.5,59.1 103.9,58.1 104.3,56.7 104.7,55.5 105.1,54.8 105.5,55.1 106.0,56.4 106.4,58.4 106.8,60.8 107.2,62.9 107.6,64.6 108.0,66.1 108.5,67.3 108.9,68.4 109.3,69.7 109.7,70.8 110.1,71.4 110.5,71.6 110.9,71.6 111.4,71.1 111.8,70.0 112.2,68.5 112.6,67.0 113.0,66.0 113.4,65.5 113.9,64.9 114.3,64.4 114.7,63.8 115.1,63.2 115.5,62.2 115.9,60.6 116.4,59.3 116.8,59.2 117.2,59.9 117.6,60.3 118.0,60.3 118.4,60.7 118.8,61.4 119.3,61.4 119.7,60.9 120.1,60.6 120.5,60.6 120.9,60.8 121.3,61.4 121.8,61.6 122.2,62.0 122.6,62.8 123.0,63.2 123.4,62.6 123.8,62.2 124.3,62.3 124.7,62.2 125.1,61.8 125.5,61.6 125.9,61.6 126.3,61.4 126.7,60.7 127.2,60.1 127.6,59.6 128.0,58.7 128.4,57.8 128.8,57.4 129.2,57.5 129.7,57.7 130.1,57.7 130.5,57.2 130.9,56.8 131.3,57.0 131.7,57.9 132.2,59.1 132.6,60.2 133.0,60.4 133.4,59.4 133.8,58.2 134.2,57.3 134.6,57.0 135.1,57.5 135.5,58.6 135.9,59.6 136.3,59.8 136.7,59.3 137.1,58.7 137.6,58.0 138.0,57.5 138.4,57.9 138.8,58.3 139.2,57.8 139.6,56.8 140.1,56.1 140.5,55.9 140.9,56.0 141.3,56.3 141.7,56.3 142.1,56.2 142.5,56.3 143.0,56.4 143.4,56.4 143.8,56.0 144.2,55.5 144.6,55.0 145.0,54.5 145.5,54.1 145.9,54.4 146.3,55.2 146.7,55.5 147.1,54.9 147.5,53.7 148.0,52.7 148.4,51.9 148.8,51.9 149.2,52.8 149.6,53.7 150.0,53.5 150.4,52.8 150.9,51.9 151.3,51.1 151.7,50.9 152.1,51.3 152.5,51.5 152.9,51.5 153.4,51.6 153.8,51.3 154.2,50.4 154.6,50.0 155.0,50.1 155.4,50.5 155.9,50.8 156.3,50.6 156.7,50.2 157.1,50.3 157.5,51.0 157.9,51.6 158.3,51.6 158.8,51.5 159.2,51.5 159.6,51.0 160.0,49.9 160.4,49.3 160.8,49.1 161.3,48.7 161.7,48.5 162.1,48.6 162.5,48.8 162.9,48.6 163.3,48.2 163.7,48.2 164.2,48.6 164.6,48.6 165.0,48.4 165.4,48.4 165.8,48.7 166.2,49.0 166.7,50.0 167.1,52.6 167.5,56.9 167.9,61.1 168.3,64.7 168.7,67.9 169.2,71.0 169.6,74.4 170.0,78.2 170.4,81.9 170.8,84.8 171.2,87.3 171.6,89.6 172.1,91.6 172.5,93.1 172.9,93.4 173.3,92.2 173.7,90.0 174.1,87.7 174.6,85.5 175.0,83.5 175.4,81.2 175.8,78.7 176.2,76.5 176.6,74.9 177.1,73.9 177.5,73.3 177.9,72.8 178.3,72.4 178.7,72.0 179.1,71.5 179.5,71.1 180.0,70.7 180.4,70.2 180.8,69.9 181.2,69.7 181.6,69.7 182.0,69.9 182.5,70.1 182.9,70.2 183.3,70.4 183.7,70.5 184.1,70.6 184.5,70.7 185.0,70.9 185.4,71.1 185.8,71.4 186.2,71.6 186.6,71.9 187.0,72.1 187.4,72.2 187.9,72.1 188.3,72.0 188.7,71.6 189.1,71.2 189.5,70.6 189.9,70.1 190.4,69.5 190.8,69.0 191.2,68.6 191.6,68.2 192.0,67.7 192.4,67.3 192.9,66.9 193.3,66.5 193.7,66.2 194.1,65.8 194.5,65.4 194.9,65.1 195.3,65.0 195.8,65.0 196.2,65.3 196.6,65.8 197.0,66.4 197.4,66.9 197.8,67.3 198.3,67.6 198.7,67.8 199.1,68.0 199.5,68.4 199.9,68.8 200.3,69.2 200.8,69.7 201.2,70.1 201.6,70.4 202.0,70.6 202.4,70.6 202.8,70.4 203.2,69.9 203.7,69.4 204.1,68.7 204.5,68.1 204.9,67.4 205.3,66.9 205.7,66.4 206.2,66.0 206.6,65.7 207.0,65.3 207.4,64.9 207.8,64.4 208.2,63.9 208.7,63.3 209.1,62.7 209.5,62.2 209.9,61.8 210.3,61.5 210.7,61.4 211.1,61.6 211.6,61.8 212.0,62.2 212.4,62.6 212.8,63.0 213.2,63.4 213.6,63.7 214.1,63.9 214.5,64.1 214.9,64.4 215.3,64.7 215.7,65.0 216.1,65.4 216.6,65.8 217.0,66.2 217.4,66.6 217.8,66.8 218.2,67.0 218.6,66.9 219.0,66.7 219.5,66.2 219.9,65.6 220.3,65.0 220.7,64.4 221.1,63.8 221.5,63.3 222.0,62.8 222.4,62.5 222.8,62.2 223.2,62.0 223.6,61.7 224.0,61.4 224.4,61.2 224.9,60.9 225.3,60.7 225.7,60.5 226.1,60.3 226.5,60.4 226.9,60.6 227.4,60.9 227.8,61.2 228.2,61.4 228.6,61.5 229.0,61.6 229.4,61.7 229.9,61.8 230.3,62.1 230.7,62.4 231.1,62.7 231.5,63.0 231.9,63.1 232.3,63.2 232.8,63.1 233.2,63.0 233.6,62.8 234.0,62.6 234.4,62.4 234.8,62.2 235.3,62.0 235.7,61.8 236.1,61.6 236.5,61.4 236.9,61.2 237.3,60.9 237.8,60.6 238.2,60.3 238.6,60.1 239.0,59.9 239.4,59.7 239.8,59.6 240.2,59.5 240.7,59.4 241.1,59.4 241.5,59.4 241.9,59.5 242.3,59.7 242.7,60.0 243.2,60.3 243.6,60.5 244.0,60.7 244.4,60.9 244.8,61.0 245.2,61.1 245.7,61.1 246.1,61.1 246.5,61.1 246.9,61.1 247.3,61.1 247.7,61.1 248.1,61.0 248.6,60.9 249.0,60.7 249.4,60.4 249.8,60.1 250.2,59.8 250.6,59.5 251.1,59.2 251.5,59.1 251.9,58.9 252.3,58.8 252.7,58.6 253.1,58.5 253.6,58.3 254.0,58.2 254.4,58.0 254.8,57.8 255.2,57.6 255.6,57.3 256.0,57.1 256.5,56.8" stroke="#EDB120" stroke-width="0.62"/>
</g>
<g fill="none" stroke-linejoin="round" clip-path="url(#cr)" opacity="0.95">
<polyline points="309.8,159.1 310.2,159.5 310.6,159.6 311.0,159.4 311.5,158.9 311.9,158.1 312.3,157.0 312.7,155.8 313.1,154.4 313.5,153.1 313.9,151.9 314.4,150.9 314.8,150.2 315.2,149.8 315.6,149.9 316.0,150.4 316.4,151.3 316.8,152.3 317.3,153.5 317.7,154.4 318.1,155.2 318.5,155.7 318.9,155.8 319.3,155.7 319.8,155.5 320.2,155.2 320.6,155.0 321.0,155.0 321.4,155.1 321.8,155.4 322.2,155.8 322.7,156.2 323.1,156.5 323.5,156.7 323.9,156.8 324.3,156.7 324.7,156.6 325.1,156.4 325.6,156.2 326.0,156.1 326.4,156.1 326.8,156.1 327.2,156.2 327.6,156.2 328.0,156.2 328.5,156.2 328.9,156.1 329.3,155.9 329.7,155.8 330.1,155.7 330.5,155.6 330.9,155.5 331.4,155.3 331.8,155.0 332.2,154.6 332.6,154.0 333.0,153.1 333.4,152.1 333.9,150.9 334.3,149.7 334.7,148.7 335.1,147.8 335.5,147.3 335.9,147.2 336.3,147.5 336.8,148.2 337.2,149.3 337.6,150.5 338.0,151.9 338.4,153.1 338.8,154.2 339.2,154.9 339.7,155.3 340.1,155.4 340.5,155.1 340.9,154.6 341.3,154.0 341.7,153.4 342.1,152.9 342.6,152.5 343.0,152.3 343.4,152.2 343.8,152.4 344.2,152.8 344.6,153.3 345.0,153.9 345.5,154.4 345.9,154.8 346.3,155.1 346.7,155.4 347.1,156.3 347.5,157.3 347.9,157.8 348.4,156.3 348.8,152.5 349.2,147.3 349.6,139.6 350.0,129.6 350.4,118.2 350.9,106.6 351.3,95.8 351.7,86.1 352.1,76.5 352.5,67.1 352.9,58.7 353.3,52.2 353.8,47.6 354.2,43.7 354.6,40.7 355.0,38.9 355.4,38.9 355.8,40.5 356.2,43.4 356.7,46.9 357.1,50.7 357.5,55.9 357.9,62.7 358.3,70.3 358.7,78.0 359.1,85.1 359.6,90.9 360.0,95.9 360.4,100.8 360.8,105.5 361.2,109.7 361.6,113.5 362.0,116.6 362.5,119.0 362.9,120.8 363.3,122.3 363.7,122.9 364.1,122.3 364.5,120.5 364.9,117.9 365.4,114.9 365.8,110.3 366.2,104.3 366.6,97.5 367.0,91.0 367.4,85.7 367.9,81.4 368.3,77.3 368.7,73.6 369.1,70.4 369.5,68.0 369.9,66.7 370.3,66.1 370.8,65.8 371.2,66.1 371.6,67.4 372.0,69.6 372.4,72.0 372.8,74.7 373.2,78.0 373.7,81.7 374.1,85.1 374.5,87.8 374.9,90.0 375.3,92.1 375.7,94.1 376.1,96.1 376.6,97.9 377.0,99.5 377.4,101.0 377.8,102.4 378.2,103.5 378.6,104.3 379.0,104.7 379.5,104.6 379.9,104.0 380.3,103.3 380.7,102.4 381.1,101.5 381.5,100.6 382.0,99.6 382.4,98.5 382.8,97.3 383.2,96.0 383.6,94.8 384.0,93.6 384.4,92.6 384.9,91.7 385.3,90.8 385.7,90.0 386.1,89.5 386.5,89.3 386.9,89.5 387.3,90.0 387.8,90.9 388.2,91.9 388.6,92.9 389.0,93.8 389.4,94.6 389.8,95.3 390.2,96.0 390.7,96.7 391.1,97.3 391.5,97.9 391.9,98.4 392.3,98.8 392.7,99.1 393.1,99.2 393.6,99.1 394.0,98.9 394.4,98.7 394.8,98.3 395.2,97.9 395.6,97.4 396.0,96.8 396.5,96.2 396.9,95.5 397.3,94.7 397.7,94.1 398.1,93.5 398.5,93.0 399.0,92.6 399.4,92.4 399.8,92.4 400.2,92.5 400.6,92.9 401.0,93.3 401.4,93.9 401.9,94.5 402.3,95.1 402.7,95.6 403.1,96.1 403.5,96.4 403.9,96.7 404.3,96.9 404.8,97.2 405.2,97.4 405.6,97.8 406.0,98.1 406.4,98.4 406.8,98.7 407.2,98.9 407.7,99.0 408.1,99.1 408.5,99.2 408.9,99.2 409.3,99.2 409.7,99.3 410.1,99.5 410.6,99.8 411.0,100.1 411.4,100.5 411.8,101.0 412.2,101.6 412.6,102.1 413.1,102.6 413.5,103.1 413.9,103.5 414.3,104.0 414.7,104.4 415.1,104.8 415.5,105.3 416.0,105.8 416.4,106.3 416.8,106.9 417.2,107.4 417.6,108.0 418.0,108.6 418.4,109.2 418.9,109.7 419.3,110.3 419.7,110.8 420.1,111.2 420.5,111.5 420.9,111.7 421.3,111.8 421.8,111.8 422.2,111.7 422.6,111.5 423.0,111.2 423.4,110.9 423.8,110.5 424.2,110.2 424.7,109.8 425.1,109.5 425.5,109.3 425.9,109.3 426.3,109.4 426.7,109.6 427.1,110.0 427.6,110.4 428.0,110.9 428.4,111.3 428.8,111.7 429.2,111.9 429.6,112.1 430.1,112.2 430.5,112.3 430.9,112.3 431.3,112.4 431.7,112.5 432.1,112.6 432.5,112.6 433.0,112.5 433.4,111.9 433.8,110.6 434.2,108.3 434.6,105.5 435.0,103.7 435.4,103.7 435.9,105.1 436.3,108.3 436.7,114.2 437.1,122.1 437.5,131.0 437.9,140.0 438.3,147.9 438.8,154.8 439.2,161.5 439.6,168.3 440.0,174.7 440.4,180.3 440.8,184.7 441.2,187.8 441.7,189.9 442.1,190.7 442.5,189.8 442.9,187.5 443.3,184.4 443.7,181.1 444.1,178.1 444.6,175.1 445.0,172.0 445.4,168.9 445.8,165.9 446.2,163.1 446.6,160.7 447.1,158.5 447.5,156.5 447.9,154.5 448.3,152.7 448.7,151.1 449.1,149.8 449.5,148.8 450.0,148.0 450.4,147.5 450.8,147.3 451.2,147.4 451.6,147.7 452.0,148.3 452.4,149.2 452.9,150.3 453.3,151.5 453.7,153.0 454.1,154.5 454.5,156.1 454.9,157.7 455.3,159.1 455.8,160.3 456.2,161.1 456.6,161.5 457.0,161.5 457.4,160.9 457.8,160.0 458.2,158.7 458.7,157.2 459.1,155.5 459.5,153.7 459.9,151.9 460.3,150.1 460.7,148.4 461.2,146.8 461.6,145.4 462.0,144.1 462.4,143.1 462.8,142.3 463.2,141.7 463.6,141.5 464.1,141.6 464.5,141.9 464.9,142.6 465.3,143.5 465.7,144.6 466.1,145.9 466.5,147.4 467.0,149.0 467.4,150.7 467.8,152.5 468.2,154.3 468.6,156.1 469.0,157.9 469.4,159.5 469.9,161.0 470.3,162.2 470.7,163.2 471.1,163.9 471.5,164.2 471.9,164.1 472.3,163.7 472.8,162.9 473.2,161.8 473.6,160.5 474.0,159.0 474.4,157.4 474.8,155.7 475.2,154.0 475.7,152.4 476.1,150.9 476.5,149.4 476.9,148.1 477.3,147.0 477.7,146.0 478.2,145.3 478.6,144.7 479.0,144.5 479.4,144.4 479.8,144.7 480.2,145.2 480.6,146.0 481.1,147.0 481.5,148.2 481.9,149.5 482.3,151.0 482.7,152.6 483.1,154.3 483.5,156.0 484.0,157.7 484.4,159.4 484.8,161.0 485.2,162.5 485.6,163.9 486.0,165.1 486.4,166.1 486.9,166.8 487.3,167.2 487.7,167.4 488.1,167.1 488.5,166.6 488.9,165.7 489.3,164.6 489.8,163.3 490.2,161.8 490.6,160.2 491.0,158.6 491.4,156.9 491.8,155.3 492.2,153.7 492.7,152.2 493.1,150.9 493.5,149.7 493.9,148.7 494.3,147.9 494.7,147.3 495.2,147.0 495.6,147.0 496.0,147.3 496.4,147.8 496.8,148.5 497.2,149.3 497.6,150.2 498.1,151.2 498.5,152.3 498.9,153.4 499.3,154.4 499.7,155.4 500.1,156.3 500.5,157.0 501.0,157.7 501.4,158.1 501.8,158.3 502.2,158.2 502.6,157.9 503.0,157.4 503.4,156.7 503.9,155.9 504.3,155.0 504.7,154.1 505.1,153.2 505.5,152.3 505.9,151.6 506.3,150.9 506.8,150.3 507.2,149.9 507.6,149.6 508.0,149.4 508.4,149.3 508.8,149.4 509.3,149.7 509.7,150.1 510.1,150.6 510.5,151.3 510.9,152.0 511.3,152.8 511.7,153.7 512.2,154.7 512.6,155.7 513.0,156.7 513.4,157.7 513.8,158.7 514.2,159.6 514.6,160.5 515.1,161.3 515.5,162.0 515.9,162.6 516.3,163.1 516.7,163.4 517.1,163.5 517.5,163.4 518.0,163.2 518.4,162.9 518.8,162.4 519.2,161.9 519.6,161.4 520.0,160.8 520.4,160.2 520.9,159.7 521.3,159.2 521.7,158.8 522.1,158.3 522.5,158.0 522.9,157.6 523.3,157.3 523.8,156.9 524.2,156.7 524.6,156.4 525.0,156.1" stroke="#0072BD" stroke-width="0.62"/>
<polyline points="309.8,154.1 310.2,154.7 310.6,155.1 311.0,155.3 311.5,155.1 311.9,154.5 312.3,153.7 312.7,152.7 313.1,151.7 313.5,150.8 313.9,150.3 314.4,150.1 314.8,150.4 315.2,151.0 315.6,151.9 316.0,153.0 316.4,154.1 316.8,155.1 317.3,155.9 317.7,156.4 318.1,156.7 318.5,156.7 318.9,156.7 319.3,156.6 319.8,156.6 320.2,156.7 320.6,156.9 321.0,157.1 321.4,157.2 321.8,157.0 322.2,156.4 322.7,155.3 323.1,153.7 323.5,151.8 323.9,149.8 324.3,147.8 324.7,146.1 325.1,144.9 325.6,144.4 326.0,144.6 326.4,145.4 326.8,146.7 327.2,148.4 327.6,150.3 328.0,152.2 328.5,153.9 328.9,155.5 329.3,156.9 329.7,158.2 330.1,159.3 330.5,160.3 330.9,161.1 331.4,161.7 331.8,162.0 332.2,161.9 332.6,161.6 333.0,161.1 333.4,160.5 333.9,160.2 334.3,160.1 334.7,160.3 335.1,160.8 335.5,161.5 335.9,162.3 336.3,162.9 336.8,163.4 337.2,163.6 337.6,163.6 338.0,163.5 338.4,163.2 338.8,162.9 339.2,162.6 339.7,162.3 340.1,162.0 340.5,161.8 340.9,161.7 341.3,161.7 341.7,161.8 342.1,161.9 342.6,162.1 343.0,162.2 343.4,162.3 343.8,162.3 344.2,162.3 344.6,162.3 345.0,162.2 345.5,161.9 345.9,161.5 346.3,160.7 346.7,159.7 347.1,158.8 347.5,158.2 347.9,156.0 348.4,151.8 348.8,146.5 349.2,138.5 349.6,128.3 350.0,117.0 350.4,105.6 350.9,95.2 351.3,85.9 351.7,76.5 352.1,67.3 352.5,59.2 352.9,53.2 353.3,49.0 353.8,45.3 354.2,42.5 354.6,41.0 355.0,41.3 355.4,43.1 355.8,46.1 356.2,49.6 356.7,53.5 357.1,58.9 357.5,65.8 357.9,73.4 358.3,81.1 358.7,88.1 359.1,93.7 359.6,99.0 360.0,104.2 360.4,109.2 360.8,113.9 361.2,118.1 361.6,121.6 362.0,124.3 362.5,126.3 362.9,127.8 363.3,128.2 363.7,127.2 364.1,124.8 364.5,121.6 364.9,117.9 365.4,112.6 365.8,105.9 366.2,98.8 366.6,92.1 367.0,86.8 367.4,82.5 367.9,78.3 368.3,74.5 368.7,71.3 369.1,68.9 369.5,67.5 369.9,66.8 370.3,66.3 370.8,66.4 371.2,67.6 371.6,69.4 372.0,71.4 372.4,73.8 372.8,76.9 373.2,78.8 373.7,82.1 374.1,84.7 374.5,86.9 374.9,89.1 375.3,91.3 375.7,93.3 376.1,95.1 376.6,96.6 377.0,98.0 377.4,99.3 377.8,100.3 378.2,101.1 378.6,101.3 379.0,101.1 379.5,100.5 379.9,99.6 380.3,98.5 380.7,97.3 381.1,96.2 381.5,95.0 382.0,93.6 382.4,92.0 382.8,90.5 383.2,89.1 383.6,87.9 384.0,87.0 384.4,86.2 384.9,85.5 385.3,84.9 385.7,84.5 386.1,84.3 386.5,84.5 386.9,85.0 387.3,85.6 387.8,86.4 388.2,87.1 388.6,87.8 389.0,88.2 389.4,88.7 389.8,89.2 390.2,89.8 390.7,90.5 391.1,91.4 391.5,92.2 391.9,93.1 392.3,93.8 392.7,94.4 393.1,94.7 393.6,94.7 394.0,94.5 394.4,94.2 394.8,93.6 395.2,92.9 395.6,92.1 396.0,91.2 396.5,90.2 396.9,89.1 397.3,88.0 397.7,87.0 398.1,86.0 398.5,85.2 399.0,84.5 399.4,84.1 399.8,84.0 400.2,84.1 400.6,84.5 401.0,85.2 401.4,85.9 401.9,86.7 402.3,87.5 402.7,88.1 403.1,88.6 403.5,89.0 403.9,89.3 404.3,89.5 404.8,89.7 405.2,90.0 405.6,90.3 406.0,90.6 406.4,90.8 406.8,90.9 407.2,91.0 407.7,90.9 408.1,90.6 408.5,90.3 408.9,90.0 409.3,89.6 409.7,89.2 410.1,88.7 410.6,88.2 411.0,87.7 411.4,87.1 411.8,86.7 412.2,86.3 412.6,86.1 413.1,86.0 413.5,86.0 413.9,86.1 414.3,86.4 414.7,86.7 415.1,87.1 415.5,87.5 416.0,88.0 416.4,88.4 416.8,88.8 417.2,89.2 417.6,89.7 418.0,90.1 418.4,90.5 418.9,90.9 419.3,91.3 419.7,91.6 420.1,91.8 420.5,91.9 420.9,92.0 421.3,92.0 421.8,91.9 422.2,91.9 422.6,91.8 423.0,91.7 423.4,91.7 423.8,91.6 424.2,91.6 424.7,91.5 425.1,91.3 425.5,91.2 425.9,91.0 426.3,90.9 426.7,90.8 427.1,90.7 427.6,90.8 428.0,91.0 428.4,91.2 428.8,91.5 429.2,91.9 429.6,92.3 430.1,92.7 430.5,93.0 430.9,93.4 431.3,93.6 431.7,93.8 432.1,94.0 432.5,94.1 433.0,94.3 433.4,94.6 433.8,95.1 434.2,96.0 434.6,98.0 435.0,100.7 435.4,103.8 435.9,108.0 436.3,114.7 436.7,123.0 437.1,132.0 437.5,140.8 437.9,148.4 438.3,154.7 438.8,161.1 439.2,167.4 439.6,173.4 440.0,178.7 440.4,183.1 440.8,186.5 441.2,189.4 441.7,191.3 442.1,191.4 442.5,189.7 442.9,186.8 443.3,183.3 443.7,179.9 444.1,175.8 444.6,171.3 445.0,166.4 445.4,161.6 445.8,157.1 446.2,153.0 446.6,149.4 447.1,146.0 447.5,142.7 447.9,139.8 448.3,137.3 448.7,135.2 449.1,133.7 449.5,132.6 450.0,132.1 450.4,132.0 450.8,132.5 451.2,133.5 451.6,134.9 452.0,136.7 452.4,138.9 452.9,141.4 453.3,144.2 453.7,147.2 454.1,150.2 454.5,153.0 454.9,155.6 455.3,157.7 455.8,159.2 456.2,160.0 456.6,159.8 457.0,158.8 457.4,157.1 457.8,154.9 458.2,152.2 458.7,149.2 459.1,146.1 459.5,143.0 459.9,139.9 460.3,137.0 460.7,134.3 461.2,131.9 461.6,129.8 462.0,128.1 462.4,126.8 462.8,125.9 463.2,125.7 463.6,125.9 464.1,126.8 464.5,128.0 464.9,129.8 465.3,131.9 465.7,134.3 466.1,137.0 466.5,139.9 467.0,143.0 467.4,146.2 467.8,149.5 468.2,152.7 468.6,155.7 469.0,158.6 469.4,161.1 469.9,163.3 470.3,164.9 470.7,166.0 471.1,166.4 471.5,166.1 471.9,165.1 472.3,163.5 472.8,161.4 473.2,158.9 473.6,156.1 474.0,153.1 474.4,150.0 474.8,146.9 475.2,143.9 475.7,141.0 476.1,138.3 476.5,135.8 476.9,133.6 477.3,131.7 477.7,130.1 478.2,128.9 478.6,128.1 479.0,127.8 479.4,128.0 479.8,128.7 480.2,129.8 480.6,131.3 481.1,133.2 481.5,135.3 481.9,137.7 482.3,140.3 482.7,143.0 483.1,145.7 483.5,148.5 484.0,151.2 484.4,153.9 484.8,156.3 485.2,158.6 485.6,160.5 486.0,162.1 486.4,163.3 486.9,164.0 487.3,164.1 487.7,163.6 488.1,162.7 488.5,161.2 488.9,159.4 489.3,157.2 489.8,154.8 490.2,152.3 490.6,149.7 491.0,147.1 491.4,144.5 491.8,142.1 492.2,139.9 492.7,137.9 493.1,136.2 493.5,134.9 493.9,134.0 494.3,133.5 494.7,133.5 495.2,134.0 495.6,134.9 496.0,136.2 496.4,137.8 496.8,139.6 497.2,141.6 497.6,143.7 498.1,145.8 498.5,148.0 498.9,150.1 499.3,152.0 499.7,153.7 500.1,155.2 500.5,156.4 501.0,157.2 501.4,157.6 501.8,157.5 502.2,157.0 502.6,156.0 503.0,154.8 503.4,153.3 503.9,151.7 504.3,150.0 504.7,148.3 505.1,146.6 505.5,145.2 505.9,143.8 506.3,142.7 506.8,141.7 507.2,140.9 507.6,140.4 508.0,140.0 508.4,139.9 508.8,140.1 509.3,140.5 509.7,141.1 510.1,141.9 510.5,142.8 510.9,143.9 511.3,145.1 511.7,146.3 512.2,147.7 512.6,149.0 513.0,150.4 513.4,151.7 513.8,153.0 514.2,154.2 514.6,155.2 515.1,156.1 515.5,156.8 515.9,157.3 516.3,157.5 516.7,157.4 517.1,157.1 517.5,156.5 518.0,155.8 518.4,154.9 518.8,153.9 519.2,152.8 519.6,151.8 520.0,150.9 520.4,150.0 520.9,149.2 521.3,148.6 521.7,148.0 522.1,147.5 522.5,147.0 522.9,146.6 523.3,146.3 523.8,146.0 524.2,145.8 524.6,145.5 525.0,145.4" stroke="#D95319" stroke-width="0.62"/>
<polyline points="309.8,155.3 310.2,155.1 310.6,154.8 311.0,154.4 311.5,153.8 311.9,153.0 312.3,152.1 312.7,151.4 313.1,150.8 313.5,150.6 313.9,150.8 314.4,151.4 314.8,152.4 315.2,153.5 315.6,154.8 316.0,156.0 316.4,157.1 316.8,157.8 317.3,158.2 317.7,158.3 318.1,158.0 318.5,157.4 318.9,156.6 319.3,155.8 319.8,154.9 320.2,154.1 320.6,153.5 321.0,152.9 321.4,152.4 321.8,152.0 322.2,151.7 322.7,151.4 323.1,151.2 323.5,151.0 323.9,150.8 324.3,150.6 324.7,150.4 325.1,150.1 325.6,149.9 326.0,149.7 326.4,149.7 326.8,149.8 327.2,150.2 327.6,150.9 328.0,151.7 328.5,152.7 328.9,153.9 329.3,154.9 329.7,155.9 330.1,156.7 330.5,157.3 330.9,157.6 331.4,157.7 331.8,157.6 332.2,157.4 332.6,157.0 333.0,156.7 333.4,156.4 333.9,156.3 334.3,156.3 334.7,156.6 335.1,157.0 335.5,157.4 335.9,157.9 336.3,158.2 336.8,158.3 337.2,158.4 337.6,158.3 338.0,158.1 338.4,157.9 338.8,157.6 339.2,157.4 339.7,157.2 340.1,157.0 340.5,156.7 340.9,156.5 341.3,156.4 341.7,156.4 342.1,156.5 342.6,156.7 343.0,157.0 343.4,157.4 343.8,157.8 344.2,158.2 344.6,158.6 345.0,158.8 345.5,159.0 345.9,159.1 346.3,158.9 346.7,158.4 347.1,157.8 347.5,157.8 347.9,158.0 348.4,157.1 348.8,154.0 349.2,149.1 349.6,142.4 350.0,133.1 350.4,122.1 350.9,110.6 351.3,99.4 351.7,89.4 352.1,79.9 352.5,70.3 352.9,61.5 353.3,54.4 353.8,49.2 354.2,45.2 354.6,41.8 355.0,39.6 355.4,39.0 355.8,40.1 356.2,42.5 356.7,45.9 357.1,49.6 357.5,54.3 357.9,60.5 358.3,67.9 358.7,75.7 359.1,83.1 359.6,89.4 360.0,94.7 360.4,99.7 360.8,104.5 361.2,109.0 361.6,113.0 362.0,116.4 362.5,119.1 362.9,121.1 363.3,122.7 363.7,123.6 364.1,123.3 364.5,121.8 364.9,119.3 365.4,116.1 365.8,112.0 366.2,106.2 366.6,99.4 367.0,92.6 367.4,86.8 367.9,82.1 368.3,78.0 368.7,74.0 369.1,70.6 369.5,67.8 369.9,66.0 370.3,65.1 370.8,64.7 371.2,64.7 371.6,65.6 372.0,67.5 372.4,69.9 372.8,72.4 373.2,75.4 373.7,78.9 374.1,82.5 374.5,85.7 374.9,88.2 375.3,90.6 375.7,92.9 376.1,95.1 376.6,97.1 377.0,98.9 377.4,100.4 377.8,101.6 378.2,102.6 378.6,103.3 379.0,103.5 379.5,103.2 379.9,102.5 380.3,101.6 380.7,100.6 381.1,99.7 381.5,98.8 382.0,97.9 382.4,96.8 382.8,95.6 383.2,94.3 383.6,93.0 384.0,91.9 384.4,91.0 384.9,90.3 385.3,89.6 385.7,89.1 386.1,88.7 386.5,88.5 386.9,88.7 387.3,89.1 387.8,89.7 388.2,90.4 388.6,91.1 389.0,91.7 389.4,92.1 389.8,92.5 390.2,92.9 390.7,93.3 391.1,93.7 391.5,94.2 391.9,94.7 392.3,95.1 392.7,95.6 393.1,95.9 393.6,96.2 394.0,96.4 394.4,96.6 394.8,96.8 395.2,97.1 395.6,97.3 396.0,97.5 396.5,97.6 396.9,97.7 397.3,97.6 397.7,97.3 398.1,97.0 398.5,96.5 399.0,96.1 399.4,95.8 399.8,95.5 400.2,95.5 400.6,95.7 401.0,96.2 401.4,96.9 401.9,97.8 402.3,98.9 402.7,100.0 403.1,101.0 403.5,101.9 403.9,102.7 404.3,103.3 404.8,103.8 405.2,104.0 405.6,104.2 406.0,104.2 406.4,104.1 406.8,103.8 407.2,103.4 407.7,102.8 408.1,102.1 408.5,101.4 408.9,100.7 409.3,100.0 409.7,99.4 410.1,98.9 410.6,98.6 411.0,98.4 411.4,98.3 411.8,98.2 412.2,98.3 412.6,98.4 413.1,98.5 413.5,98.7 413.9,98.8 414.3,99.0 414.7,99.2 415.1,99.5 415.5,99.8 416.0,100.1 416.4,100.4 416.8,100.7 417.2,101.0 417.6,101.4 418.0,101.7 418.4,102.1 418.9,102.5 419.3,103.0 419.7,103.4 420.1,103.9 420.5,104.4 420.9,104.8 421.3,105.2 421.8,105.5 422.2,105.8 422.6,105.9 423.0,105.9 423.4,105.8 423.8,105.6 424.2,105.3 424.7,105.0 425.1,104.6 425.5,104.2 425.9,103.9 426.3,103.6 426.7,103.4 427.1,103.3 427.6,103.2 428.0,103.3 428.4,103.4 428.8,103.5 429.2,103.7 429.6,104.0 430.1,104.2 430.5,104.4 430.9,104.6 431.3,104.7 431.7,104.6 432.1,104.4 432.5,104.1 433.0,103.7 433.4,103.1 433.8,102.4 434.2,101.5 434.6,100.6 435.0,100.3 435.4,101.3 435.9,103.2 436.3,106.3 436.7,111.5 437.1,118.9 437.5,127.8 437.9,137.0 438.3,145.9 438.8,153.9 439.2,161.8 439.6,170.1 440.0,178.6 440.4,186.6 440.8,193.3 441.2,198.4 441.7,201.7 442.1,203.2 442.5,202.3 442.9,199.1 443.3,194.6 443.7,189.7 444.1,184.7 444.6,179.7 445.0,174.3 445.4,169.0 445.8,163.8 446.2,159.0 446.6,154.7 447.1,150.8 447.5,147.1 447.9,143.7 448.3,140.6 448.7,138.0 449.1,135.9 449.5,134.4 450.0,133.4 450.4,132.9 450.8,133.1 451.2,133.8 451.6,135.0 452.0,136.7 452.4,138.8 452.9,141.3 453.3,144.2 453.7,147.3 454.1,150.6 454.5,153.9 454.9,157.1 455.3,159.8 455.8,162.0 456.2,163.5 456.6,164.1 457.0,163.8 457.4,162.6 457.8,160.7 458.2,158.1 458.7,155.2 459.1,152.0 459.5,148.6 459.9,145.2 460.3,141.9 460.7,138.9 461.2,136.1 461.6,133.6 462.0,131.4 462.4,129.7 462.8,128.5 463.2,127.9 463.6,127.8 464.1,128.4 464.5,129.5 464.9,131.2 465.3,133.3 465.7,135.8 466.1,138.6 466.5,141.8 467.0,145.2 467.4,148.7 467.8,152.4 468.2,156.0 468.6,159.6 469.0,163.0 469.4,166.1 469.9,168.9 470.3,171.2 470.7,172.9 471.1,173.9 471.5,174.2 471.9,173.7 472.3,172.5 472.8,170.7 473.2,168.3 473.6,165.4 474.0,162.3 474.4,159.0 474.8,155.5 475.2,152.1 475.7,148.8 476.1,145.6 476.5,142.7 476.9,140.1 477.3,137.7 477.7,135.8 478.2,134.2 478.6,133.0 479.0,132.4 479.4,132.3 479.8,132.7 480.2,133.7 480.6,135.1 481.1,137.0 481.5,139.3 481.9,141.8 482.3,144.6 482.7,147.6 483.1,150.8 483.5,154.0 484.0,157.2 484.4,160.3 484.8,163.3 485.2,166.1 485.6,168.6 486.0,170.7 486.4,172.5 486.9,173.7 487.3,174.4 487.7,174.4 488.1,173.8 488.5,172.6 488.9,170.9 489.3,168.8 489.8,166.3 490.2,163.6 490.6,160.7 491.0,157.8 491.4,154.8 491.8,151.9 492.2,149.2 492.7,146.7 493.1,144.5 493.5,142.6 493.9,141.0 494.3,140.0 494.7,139.4 495.2,139.4 495.6,139.9 496.0,140.8 496.4,142.2 496.8,143.8 497.2,145.7 497.6,147.8 498.1,150.0 498.5,152.3 498.9,154.5 499.3,156.6 499.7,158.6 500.1,160.3 500.5,161.8 501.0,162.9 501.4,163.5 501.8,163.7 502.2,163.4 502.6,162.6 503.0,161.4 503.4,159.9 503.9,158.2 504.3,156.3 504.7,154.4 505.1,152.5 505.5,150.7 505.9,149.1 506.3,147.7 506.8,146.4 507.2,145.4 507.6,144.6 508.0,144.1 508.4,143.8 508.8,143.8 509.3,144.1 509.7,144.6 510.1,145.4 510.5,146.3 510.9,147.4 511.3,148.7 511.7,150.1 512.2,151.6 512.6,153.1 513.0,154.6 513.4,156.2 513.8,157.6 514.2,159.0 514.6,160.3 515.1,161.4 515.5,162.4 515.9,163.0 516.3,163.5 516.7,163.6 517.1,163.4 517.5,162.9 518.0,162.1 518.4,161.2 518.8,160.1 519.2,158.9 519.6,157.7 520.0,156.5 520.4,155.3 520.9,154.3 521.3,153.3 521.7,152.5 522.1,151.7 522.5,151.1 522.9,150.5 523.3,150.0 523.8,149.5 524.2,149.1 524.6,148.8 525.0,148.5" stroke="#EDB120" stroke-width="0.62"/>
<polyline points="309.8,156.4 310.2,155.9 310.6,155.8 311.0,155.9 311.5,156.4 311.9,157.1 312.3,157.9 312.7,158.7 313.1,159.5 313.5,160.3 313.9,161.1 314.4,162.0 314.8,162.7 315.2,163.4 315.6,163.9 316.0,164.0 316.4,163.9 316.8,163.4 317.3,162.7 317.7,162.0 318.1,161.3 318.5,160.8 318.9,160.5 319.3,160.5 319.8,160.8 320.2,161.3 320.6,161.9 321.0,162.6 321.4,163.4 321.8,164.1 322.2,164.7 322.7,164.9 323.1,164.8 323.5,164.3 323.9,163.3 324.3,162.0 324.7,160.5 325.1,159.1 325.6,157.8 326.0,156.9 326.4,156.4 326.8,156.3 327.2,156.6 327.6,157.2 328.0,157.9 328.5,158.7 328.9,159.5 329.3,160.4 329.7,161.2 330.1,162.1 330.5,163.0 330.9,163.9 331.4,164.9 331.8,165.7 332.2,166.3 332.6,166.6 333.0,166.7 333.4,166.4 333.9,165.8 334.3,164.9 334.7,163.9 335.1,162.8 335.5,161.6 335.9,160.4 336.3,159.3 336.8,158.2 337.2,157.3 337.6,156.5 338.0,155.9 338.4,155.4 338.8,155.0 339.2,154.8 339.7,154.8 340.1,155.0 340.5,155.3 340.9,155.7 341.3,156.1 341.7,156.4 342.1,156.5 342.6,156.5 343.0,156.2 343.4,155.7 343.8,154.9 344.2,154.0 344.6,153.1 345.0,152.4 345.5,152.0 345.9,152.1 346.3,152.8 346.7,154.3 347.1,156.1 347.5,157.4 347.9,157.9 348.4,156.4 348.8,152.6 349.2,147.4 349.6,139.7 350.0,129.8 350.4,118.4 350.9,106.8 351.3,95.9 351.7,86.2 352.1,76.6 352.5,67.2 352.9,58.7 353.3,52.1 353.8,47.5 354.2,43.7 354.6,40.6 355.0,38.8 355.4,38.7 355.8,40.3 356.2,43.1 356.7,46.6 357.1,50.5 357.5,55.7 357.9,62.4 358.3,70.1 358.7,77.9 359.1,85.1 359.6,91.1 360.0,96.4 360.4,101.5 360.8,106.4 361.2,110.9 361.6,114.9 362.0,118.2 362.5,120.7 362.9,122.6 363.3,124.0 363.7,124.6 364.1,123.9 364.5,121.9 364.9,119.1 365.4,115.9 365.8,111.3 366.2,105.2 366.6,98.5 367.0,92.1 367.4,87.0 367.9,83.0 368.3,79.4 368.7,76.3 369.1,73.8 369.5,72.3 369.9,71.9 370.3,72.4 370.8,73.2 371.2,74.5 371.6,76.9 372.0,79.9 372.4,83.2 372.8,86.6 373.2,90.7 373.7,94.9 374.1,98.9 374.5,102.1 374.9,104.8 375.3,107.3 375.7,109.7 376.1,111.9 376.6,114.0 377.0,115.7 377.4,117.4 377.8,118.9 378.2,120.3 378.6,121.5 379.0,122.3 379.5,122.7 379.9,122.8 380.3,122.5 380.7,122.1 381.1,121.6 381.5,120.9 382.0,120.0 382.4,118.8 382.8,117.4 383.2,115.9 383.6,114.5 384.0,113.4 384.4,112.6 384.9,111.9 385.3,111.4 385.7,111.1 386.1,110.9 386.5,111.0 386.9,111.4 387.3,112.1 387.8,112.9 388.2,113.8 388.6,114.7 389.0,115.4 389.4,116.0 389.8,116.6 390.2,117.2 390.7,118.0 391.1,118.8 391.5,119.8 391.9,120.9 392.3,121.9 392.7,122.8 393.1,123.4 393.6,123.8 394.0,123.8 394.4,123.6 394.8,123.2 395.2,122.5 395.6,121.7 396.0,120.9 396.5,120.0 396.9,119.2 397.3,118.4 397.7,117.8 398.1,117.2 398.5,116.8 399.0,116.3 399.4,116.0 399.8,115.6 400.2,115.3 400.6,115.2 401.0,115.2 401.4,115.3 401.9,115.8 402.3,116.4 402.7,117.2 403.1,118.1 403.5,119.1 403.9,120.1 404.3,121.0 404.8,121.7 405.2,122.2 405.6,122.6 406.0,122.7 406.4,122.6 406.8,122.3 407.2,121.8 407.7,121.2 408.1,120.4 408.5,119.6 408.9,118.7 409.3,117.8 409.7,117.0 410.1,116.2 410.6,115.5 411.0,114.9 411.4,114.5 411.8,114.2 412.2,114.0 412.6,114.0 413.1,114.1 413.5,114.2 413.9,114.4 414.3,114.6 414.7,114.9 415.1,115.2 415.5,115.7 416.0,116.2 416.4,116.8 416.8,117.5 417.2,118.2 417.6,118.9 418.0,119.5 418.4,119.9 418.9,120.3 419.3,120.5 419.7,120.7 420.1,120.8 420.5,120.8 420.9,120.9 421.3,121.0 421.8,121.1 422.2,121.1 422.6,121.1 423.0,121.0 423.4,120.8 423.8,120.5 424.2,120.2 424.7,119.7 425.1,119.2 425.5,118.7 425.9,118.3 426.3,117.9 426.7,117.6 427.1,117.4 427.6,117.2 428.0,117.0 428.4,116.9 428.8,116.7 429.2,116.5 429.6,116.2 430.1,115.9 430.5,115.6 430.9,115.3 431.3,115.1 431.7,114.8 432.1,114.6 432.5,114.2 433.0,113.6 433.4,112.6 433.8,110.8 434.2,108.2 434.6,105.2 435.0,103.4 435.4,103.3 435.9,104.8 436.3,108.0 436.7,113.9 437.1,121.9 437.5,130.9 437.9,140.1 438.3,148.6 438.8,156.4 439.2,164.4 439.6,172.8 440.0,181.2 440.4,189.0 440.8,195.4 441.2,200.0 441.7,202.9 442.1,203.8 442.5,202.2 442.9,198.7 443.3,194.2 443.7,189.6 444.1,185.3 444.6,181.1 445.0,177.0 445.4,172.9 445.8,169.0 446.2,165.5 446.6,162.4 447.1,159.7 447.5,157.1 447.9,154.6 448.3,152.4 448.7,150.6 449.1,149.1 449.5,148.0 450.0,147.3 450.4,147.1 450.8,147.3 451.2,147.9 451.6,148.9 452.0,150.2 452.4,151.8 452.9,153.8 453.3,156.0 453.7,158.4 454.1,161.0 454.5,163.5 454.9,165.9 455.3,168.1 455.8,169.8 456.2,170.9 456.6,171.4 457.0,171.2 457.4,170.3 457.8,168.8 458.2,166.9 458.7,164.6 459.1,162.1 459.5,159.5 459.9,156.8 460.3,154.3 460.7,151.8 461.2,149.6 461.6,147.6 462.0,145.8 462.4,144.4 462.8,143.3 463.2,142.7 463.6,142.4 464.1,142.7 464.5,143.3 464.9,144.4 465.3,145.8 465.7,147.5 466.1,149.4 466.5,151.6 467.0,154.0 467.4,156.4 467.8,159.0 468.2,161.6 468.6,164.1 469.0,166.4 469.4,168.6 469.9,170.5 470.3,172.0 470.7,173.2 471.1,173.8 471.5,173.8 471.9,173.3 472.3,172.2 472.8,170.6 473.2,168.6 473.6,166.3 474.0,163.7 474.4,161.0 474.8,158.3 475.2,155.5 475.7,152.8 476.1,150.3 476.5,147.9 476.9,145.7 477.3,143.8 477.7,142.2 478.2,140.8 478.6,139.8 479.0,139.2 479.4,139.0 479.8,139.1 480.2,139.8 480.6,140.7 481.1,142.1 481.5,143.7 481.9,145.5 482.3,147.6 482.7,149.8 483.1,152.1 483.5,154.4 484.0,156.8 484.4,159.2 484.8,161.4 485.2,163.5 485.6,165.4 486.0,167.1 486.4,168.4 486.9,169.4 487.3,170.0 487.7,170.1 488.1,169.8 488.5,169.0 488.9,167.8 489.3,166.3 489.8,164.5 490.2,162.6 490.6,160.5 491.0,158.4 491.4,156.3 491.8,154.3 492.2,152.4 492.7,150.6 493.1,149.0 493.5,147.7 493.9,146.7 494.3,146.1 494.7,145.8 495.2,145.9 495.6,146.4 496.0,147.3 496.4,148.4 496.8,149.8 497.2,151.4 497.6,153.1 498.1,154.9 498.5,156.7 498.9,158.5 499.3,160.2 499.7,161.8 500.1,163.2 500.5,164.4 501.0,165.3 501.4,165.9 501.8,166.1 502.2,165.9 502.6,165.3 503.0,164.4 503.4,163.3 503.9,162.0 504.3,160.5 504.7,159.0 505.1,157.5 505.5,156.1 505.9,154.8 506.3,153.7 506.8,152.6 507.2,151.8 507.6,151.1 508.0,150.5 508.4,150.2 508.8,150.1 509.3,150.2 509.7,150.5 510.1,150.9 510.5,151.5 510.9,152.2 511.3,153.1 511.7,154.0 512.2,155.0 512.6,156.0 513.0,157.1 513.4,158.1 513.8,159.1 514.2,160.0 514.6,160.9 515.1,161.6 515.5,162.2 515.9,162.6 516.3,162.8 516.7,162.8 517.1,162.5 517.5,162.0 518.0,161.3 518.4,160.5 518.8,159.5 519.2,158.5 519.6,157.4 520.0,156.4 520.4,155.4 520.9,154.5 521.3,153.7 521.7,152.9 522.1,152.3 522.5,151.7 522.9,151.1 523.3,150.7 523.8,150.3 524.2,149.9 524.6,149.6 525.0,149.3" stroke="#7E2F8E" stroke-width="0.62"/>
<polyline points="309.8,154.3 310.2,153.9 310.6,153.5 311.0,153.0 311.5,152.6 311.9,152.1 312.3,151.7 312.7,151.3 313.1,151.0 313.5,150.7 313.9,150.4 314.4,150.1 314.8,149.8 315.2,149.4 315.6,149.0 316.0,148.5 316.4,147.9 316.8,147.4 317.3,146.9 317.7,146.5 318.1,146.4 318.5,146.5 318.9,147.0 319.3,147.9 319.8,149.0 320.2,150.2 320.6,151.4 321.0,152.6 321.4,153.5 321.8,154.2 322.2,154.6 322.7,154.8 323.1,154.9 323.5,154.9 323.9,154.8 324.3,154.7 324.7,154.5 325.1,154.3 325.6,154.1 326.0,153.8 326.4,153.4 326.8,153.0 327.2,152.6 327.6,152.3 328.0,152.3 328.5,152.6 328.9,153.3 329.3,154.5 329.7,156.0 330.1,157.7 330.5,159.4 330.9,161.1 331.4,162.3 331.8,163.1 332.2,163.2 332.6,162.6 333.0,161.4 333.4,159.9 333.9,158.2 334.3,156.5 334.7,155.0 335.1,154.0 335.5,153.4 335.9,153.2 336.3,153.4 336.8,153.9 337.2,154.4 337.6,154.9 338.0,155.4 338.4,155.9 338.8,156.2 339.2,156.6 339.7,157.1 340.1,157.7 340.5,158.6 340.9,159.5 341.3,160.6 341.7,161.6 342.1,162.4 342.6,163.0 343.0,163.4 343.4,163.5 343.8,163.6 344.2,163.5 344.6,163.5 345.0,163.4 345.5,163.4 345.9,163.2 346.3,162.5 346.7,160.8 347.1,158.7 347.5,157.9 347.9,158.0 348.4,158.1 348.8,155.9 349.2,151.6 349.6,146.2 350.0,137.9 350.4,127.4 350.9,115.9 351.3,104.3 351.7,93.6 352.1,84.3 352.5,74.6 352.9,65.3 353.3,57.1 353.8,51.0 354.2,46.9 354.6,43.1 355.0,40.2 355.4,38.8 355.8,39.1 356.2,41.1 356.7,44.1 357.1,47.8 357.5,51.7 357.9,57.3 358.3,64.4 358.7,72.3 359.1,80.1 359.6,87.2 360.0,92.9 360.4,98.1 360.8,103.2 361.2,108.1 361.6,112.4 362.0,116.2 362.5,119.3 362.9,121.4 363.3,123.1 363.7,124.2 364.1,124.5 364.5,123.3 364.9,121.0 365.4,118.0 365.8,114.6 366.2,109.6 366.6,103.1 367.0,96.2 367.4,89.8 367.9,84.8 368.3,80.7 368.7,76.7 369.1,73.0 369.5,69.8 369.9,67.3 370.3,65.8 370.8,64.9 371.2,64.2 371.6,64.1 372.0,65.3 372.4,67.3 372.8,69.5 373.2,72.1 373.7,75.5 374.1,79.2 374.5,82.4 374.9,84.8 375.3,86.7 375.7,88.4 376.1,90.1 376.6,91.6 377.0,93.0 377.4,94.3 377.8,95.5 378.2,96.8 378.6,97.9 379.0,98.6 379.5,99.0 379.9,98.9 380.3,98.4 380.7,97.6 381.1,96.7 381.5,95.7 382.0,94.6 382.4,93.3 382.8,91.9 383.2,90.3 383.6,88.8 384.0,87.4 384.4,86.2 384.9,85.1 385.3,84.3 385.7,83.5 386.1,83.0 386.5,82.8 386.9,83.0 387.3,83.6 387.8,84.5 388.2,85.6 388.6,86.8 389.0,88.0 389.4,89.2 389.8,90.3 390.2,91.4 390.7,92.5 391.1,93.6 391.5,94.6 391.9,95.5 392.3,96.1 392.7,96.4 393.1,96.5 393.6,96.2 394.0,95.7 394.4,95.0 394.8,94.2 395.2,93.5 395.6,92.8 396.0,92.2 396.5,91.6 396.9,91.1 397.3,90.7 397.7,90.3 398.1,90.0 398.5,89.9 399.0,89.9 399.4,90.0 399.8,90.3 400.2,90.7 400.6,91.2 401.0,91.7 401.4,92.2 401.9,92.8 402.3,93.2 402.7,93.6 403.1,93.8 403.5,94.0 403.9,94.0 404.3,93.9 404.8,93.7 405.2,93.5 405.6,93.3 406.0,93.2 406.4,93.2 406.8,93.2 407.2,93.3 407.7,93.5 408.1,93.6 408.5,93.7 408.9,93.7 409.3,93.6 409.7,93.4 410.1,93.1 410.6,92.7 411.0,92.3 411.4,92.0 411.8,91.6 412.2,91.4 412.6,91.3 413.1,91.3 413.5,91.4 413.9,91.5 414.3,91.7 414.7,91.8 415.1,91.9 415.5,91.9 416.0,91.9 416.4,91.7 416.8,91.6 417.2,91.4 417.6,91.3 418.0,91.3 418.4,91.3 418.9,91.3 419.3,91.5 419.7,91.6 420.1,91.7 420.5,91.8 420.9,91.9 421.3,91.9 421.8,91.8 422.2,91.7 422.6,91.5 423.0,91.3 423.4,91.0 423.8,90.7 424.2,90.3 424.7,89.9 425.1,89.5 425.5,89.1 425.9,88.6 426.3,88.2 426.7,87.7 427.1,87.3 427.6,86.9 428.0,86.6 428.4,86.5 428.8,86.5 429.2,86.6 429.6,87.0 430.1,87.4 430.5,88.0 430.9,88.5 431.3,89.1 431.7,89.5 432.1,89.9 432.5,90.2 433.0,90.6 433.4,91.1 433.8,91.9 434.2,93.2 434.6,94.8 435.0,96.5 435.4,98.7 435.9,101.3 436.3,104.2 436.7,108.4 437.1,115.1 437.5,123.5 437.9,132.6 438.3,141.5 438.8,149.1 439.2,155.6 439.6,162.2 440.0,168.6 440.4,174.5 440.8,179.5 441.2,183.3 441.7,186.0 442.1,188.0 442.5,188.8 442.9,187.9 443.3,185.7 443.7,182.8 444.1,179.6 444.6,176.4 445.0,172.9 445.4,169.1 445.8,165.3 446.2,161.6 446.6,158.3 447.1,155.3 447.5,152.6 447.9,150.0 448.3,147.6 448.7,145.6 449.1,143.8 449.5,142.4 450.0,141.4 450.4,140.8 450.8,140.6 451.2,140.8 451.6,141.4 452.0,142.3 452.4,143.5 452.9,145.0 453.3,146.8 453.7,148.8 454.1,151.0 454.5,153.3 454.9,155.5 455.3,157.5 455.8,159.2 456.2,160.5 456.6,161.3 457.0,161.4 457.4,160.8 457.8,159.6 458.2,158.0 458.7,155.9 459.1,153.6 459.5,151.1 459.9,148.5 460.3,146.0 460.7,143.5 461.2,141.2 461.6,139.1 462.0,137.2 462.4,135.6 462.8,134.3 463.2,133.3 463.6,132.8 464.1,132.6 464.5,132.9 464.9,133.6 465.3,134.6 465.7,136.0 466.1,137.6 466.5,139.5 467.0,141.5 467.4,143.8 467.8,146.1 468.2,148.5 468.6,150.9 469.0,153.2 469.4,155.3 469.9,157.3 470.3,159.0 470.7,160.4 471.1,161.3 471.5,161.8 471.9,161.7 472.3,161.1 472.8,160.1 473.2,158.6 473.6,156.7 474.0,154.6 474.4,152.3 474.8,149.9 475.2,147.5 475.7,145.1 476.1,142.8 476.5,140.6 476.9,138.6 477.3,136.8 477.7,135.3 478.2,134.0 478.6,133.0 479.0,132.3 479.4,132.0 479.8,132.0 480.2,132.4 480.6,133.2 481.1,134.4 481.5,135.8 481.9,137.4 482.3,139.2 482.7,141.2 483.1,143.4 483.5,145.5 484.0,147.8 484.4,150.0 484.8,152.1 485.2,154.1 485.6,156.0 486.0,157.6 486.4,159.0 486.9,160.0 487.3,160.7 487.7,161.0 488.1,160.8 488.5,160.2 488.9,159.3 489.3,157.9 489.8,156.3 490.2,154.5 490.6,152.6 491.0,150.5 491.4,148.5 491.8,146.5 492.2,144.5 492.7,142.7 493.1,141.1 493.5,139.7 493.9,138.5 494.3,137.6 494.7,137.1 495.2,137.0 495.6,137.2 496.0,137.8 496.4,138.7 496.8,139.9 497.2,141.3 497.6,142.9 498.1,144.5 498.5,146.3 498.9,148.0 499.3,149.7 499.7,151.4 500.1,152.9 500.5,154.2 501.0,155.3 501.4,156.1 501.8,156.6 502.2,156.7 502.6,156.5 503.0,156.0 503.4,155.1 503.9,154.1 504.3,152.9 504.7,151.7 505.1,150.4 505.5,149.1 505.9,147.9 506.3,146.9 506.8,145.9 507.2,145.1 507.6,144.4 508.0,143.9 508.4,143.6 508.8,143.4 509.3,143.4 509.7,143.6 510.1,144.0 510.5,144.5 510.9,145.2 511.3,145.9 511.7,146.8 512.2,147.7 512.6,148.6 513.0,149.6 513.4,150.6 513.8,151.5 514.2,152.4 514.6,153.3 515.1,154.0 515.5,154.6 515.9,155.1 516.3,155.4 516.7,155.5 517.1,155.4 517.5,155.0 518.0,154.5 518.4,153.8 518.8,152.9 519.2,152.0 519.6,151.0 520.0,150.1 520.4,149.1 520.9,148.2 521.3,147.4 521.7,146.7 522.1,146.0 522.5,145.4 522.9,144.9 523.3,144.4 523.8,144.0 524.2,143.7 524.6,143.3 525.0,143.0" stroke="#77AC30" stroke-width="0.62"/>
<polyline points="309.8,153.9 310.2,153.7 310.6,153.9 311.0,154.4 311.5,155.2 311.9,156.0 312.3,156.8 312.7,157.3 313.1,157.6 313.5,157.5 313.9,157.1 314.4,156.5 314.8,155.5 315.2,154.5 315.6,153.3 316.0,152.1 316.4,151.1 316.8,150.3 317.3,149.9 317.7,149.9 318.1,150.3 318.5,151.0 318.9,151.8 319.3,152.6 319.8,153.1 320.2,153.3 320.6,153.2 321.0,152.7 321.4,152.1 321.8,151.4 322.2,150.8 322.7,150.5 323.1,150.5 323.5,150.9 323.9,151.5 324.3,152.5 324.7,153.7 325.1,155.0 325.6,156.4 326.0,157.9 326.4,159.5 326.8,161.0 327.2,162.5 327.6,163.9 328.0,165.3 328.5,166.4 328.9,167.3 329.3,167.7 329.7,167.7 330.1,167.2 330.5,166.3 330.9,165.0 331.4,163.5 331.8,162.0 332.2,160.7 332.6,159.8 333.0,159.3 333.4,159.2 333.9,159.4 334.3,159.9 334.7,160.4 335.1,160.9 335.5,161.1 335.9,161.0 336.3,160.5 336.8,159.5 337.2,158.2 337.6,156.6 338.0,154.9 338.4,153.2 338.8,151.9 339.2,150.9 339.7,150.5 340.1,150.7 340.5,151.2 340.9,152.1 341.3,153.1 341.7,154.2 342.1,155.2 342.6,156.1 343.0,156.8 343.4,157.4 343.8,157.9 344.2,158.1 344.6,158.1 345.0,158.0 345.5,157.7 345.9,157.3 346.3,156.9 346.7,156.4 347.1,156.3 347.5,156.8 347.9,157.5 348.4,157.9 348.8,156.3 349.2,152.5 349.6,147.4 350.0,139.7 350.4,129.7 350.9,118.4 351.3,106.9 351.7,96.0 352.1,86.4 352.5,76.8 352.9,67.4 353.3,59.1 353.8,52.6 354.2,48.0 354.6,44.2 355.0,41.1 355.4,39.3 355.8,39.3 356.2,40.9 356.7,43.7 357.1,47.2 357.5,51.1 357.9,56.3 358.3,63.0 358.7,70.6 359.1,78.3 359.6,85.3 360.0,91.1 360.4,96.1 360.8,101.0 361.2,105.5 361.6,109.7 362.0,113.4 362.5,116.5 362.9,118.8 363.3,120.6 363.7,122.0 364.1,122.6 364.5,122.0 364.9,120.1 365.4,117.4 365.8,114.2 366.2,109.5 366.6,103.3 367.0,96.3 367.4,89.6 367.9,84.2 368.3,79.8 368.7,75.7 369.1,72.0 369.5,68.8 369.9,66.4 370.3,65.0 370.8,64.4 371.2,64.1 371.6,64.3 372.0,65.6 372.4,67.7 372.8,70.0 373.2,72.4 373.7,75.8 374.1,79.5 374.5,82.9 374.9,85.6 375.3,87.8 375.7,89.8 376.1,91.7 376.6,93.6 377.0,95.2 377.4,96.8 377.8,98.3 378.2,99.8 378.6,101.2 379.0,102.3 379.5,103.0 379.9,103.2 380.3,103.0 380.7,102.5 381.1,101.6 381.5,100.6 382.0,99.3 382.4,97.8 382.8,96.0 383.2,94.1 383.6,92.2 384.0,90.5 384.4,89.0 384.9,87.9 385.3,87.0 385.7,86.3 386.1,86.0 386.5,85.9 386.9,86.2 387.3,86.8 387.8,87.6 388.2,88.6 388.6,89.6 389.0,90.6 389.4,91.4 389.8,92.2 390.2,92.8 390.7,93.5 391.1,94.2 391.5,94.9 391.9,95.6 392.3,96.2 392.7,96.8 393.1,97.2 393.6,97.5 394.0,97.6 394.4,97.5 394.8,97.4 395.2,97.3 395.6,97.2 396.0,97.3 396.5,97.3 396.9,97.5 397.3,97.6 397.7,97.6 398.1,97.7 398.5,97.6 399.0,97.6 399.4,97.6 399.8,97.8 400.2,98.1 400.6,98.6 401.0,99.3 401.4,100.1 401.9,101.1 402.3,102.1 402.7,103.0 403.1,103.9 403.5,104.6 403.9,105.2 404.3,105.7 404.8,106.0 405.2,106.3 405.6,106.6 406.0,107.0 406.4,107.4 406.8,107.9 407.2,108.5 407.7,109.1 408.1,109.6 408.5,110.0 408.9,110.2 409.3,110.3 409.7,110.1 410.1,109.7 410.6,109.2 411.0,108.7 411.4,108.0 411.8,107.4 412.2,106.7 412.6,106.2 413.1,105.7 413.5,105.4 413.9,105.1 414.3,104.9 414.7,104.8 415.1,104.8 415.5,104.8 416.0,104.9 416.4,104.9 416.8,105.0 417.2,105.2 417.6,105.4 418.0,105.7 418.4,106.2 418.9,106.7 419.3,107.2 419.7,107.7 420.1,108.1 420.5,108.4 420.9,108.6 421.3,108.6 421.8,108.5 422.2,108.2 422.6,107.7 423.0,107.2 423.4,106.6 423.8,106.0 424.2,105.4 424.7,104.9 425.1,104.5 425.5,104.2 425.9,104.1 426.3,104.2 426.7,104.4 427.1,104.7 427.6,105.1 428.0,105.4 428.4,105.8 428.8,106.1 429.2,106.4 429.6,106.7 430.1,106.9 430.5,107.1 430.9,107.3 431.3,107.5 431.7,107.6 432.1,107.6 432.5,107.6 433.0,107.4 433.4,106.9 433.8,105.8 434.2,104.2 434.6,102.3 435.0,100.8 435.4,100.6 435.9,101.8 436.3,104.0 436.7,107.7 437.1,113.8 437.5,121.9 437.9,131.0 438.3,140.3 438.8,148.7 439.2,156.2 439.6,163.8 440.0,171.5 440.4,179.1 440.8,185.9 441.2,191.8 441.7,196.4 442.1,200.1 442.5,202.3 442.9,202.7 443.3,201.5 443.7,199.4 444.1,196.5 444.6,193.3 445.0,189.4 445.4,185.1 445.8,180.6 446.2,176.2 446.6,172.1 447.1,168.3 447.5,164.8 447.9,161.5 448.3,158.5 448.7,155.8 449.1,153.7 449.5,152.1 450.0,151.0 450.4,150.5 450.8,150.5 451.2,151.2 451.6,152.3 452.0,153.9 452.4,156.0 452.9,158.5 453.3,161.4 453.7,164.6 454.1,167.9 454.5,171.3 454.9,174.6 455.3,177.5 455.8,179.9 456.2,181.6 456.6,182.5 457.0,182.4 457.4,181.5 457.8,179.8 458.2,177.4 458.7,174.5 459.1,171.2 459.5,167.8 459.9,164.3 460.3,160.8 460.7,157.6 461.2,154.5 461.6,151.8 462.0,149.4 462.4,147.4 462.8,146.0 463.2,145.0 463.6,144.7 464.1,144.9 464.5,145.8 464.9,147.2 465.3,149.1 465.7,151.4 466.1,154.1 466.5,157.1 467.0,160.4 467.4,163.8 467.8,167.4 468.2,171.0 468.6,174.6 469.0,178.0 469.4,181.2 469.9,184.0 470.3,186.4 470.7,188.2 471.1,189.3 471.5,189.7 471.9,189.4 472.3,188.3 472.8,186.5 473.2,184.1 473.6,181.2 474.0,178.0 474.4,174.5 474.8,170.9 475.2,167.3 475.7,163.7 476.1,160.3 476.5,157.1 476.9,154.2 477.3,151.6 477.7,149.3 478.2,147.4 478.6,146.0 479.0,145.1 479.4,144.6 479.8,144.8 480.2,145.5 480.6,146.7 481.1,148.4 481.5,150.4 481.9,152.9 482.3,155.6 482.7,158.5 483.1,161.6 483.5,164.7 484.0,167.9 484.4,171.1 484.8,174.1 485.2,177.0 485.6,179.6 486.0,181.8 486.4,183.7 486.9,185.1 487.3,185.9 487.7,186.1 488.1,185.6 488.5,184.6 488.9,183.0 489.3,181.0 489.8,178.5 490.2,175.8 490.6,172.9 491.0,169.9 491.4,166.9 491.8,163.9 492.2,161.1 492.7,158.5 493.1,156.1 493.5,154.1 493.9,152.5 494.3,151.3 494.7,150.7 495.2,150.6 495.6,151.0 496.0,151.9 496.4,153.3 496.8,155.0 497.2,157.1 497.6,159.3 498.1,161.8 498.5,164.3 498.9,166.8 499.3,169.2 499.7,171.5 500.1,173.7 500.5,175.5 501.0,177.1 501.4,178.2 501.8,178.9 502.2,179.0 502.6,178.7 503.0,178.0 503.4,176.9 503.9,175.6 504.3,174.1 504.7,172.5 505.1,170.9 505.5,169.3 505.9,167.9 506.3,166.6 506.8,165.5 507.2,164.6 507.6,163.9 508.0,163.5 508.4,163.2 508.8,163.2 509.3,163.5 509.7,164.0 510.1,164.7 510.5,165.6 510.9,166.7 511.3,167.8 511.7,169.1 512.2,170.4 512.6,171.8 513.0,173.2 513.4,174.5 513.8,175.8 514.2,177.0 514.6,178.0 515.1,178.9 515.5,179.6 515.9,180.1 516.3,180.3 516.7,180.1 517.1,179.7 517.5,179.0 518.0,178.0 518.4,176.8 518.8,175.4 519.2,173.9 519.6,172.4 520.0,170.9 520.4,169.5 520.9,168.1 521.3,166.9 521.7,165.9 522.1,164.9 522.5,164.1 522.9,163.3 523.3,162.7 523.8,162.1 524.2,161.7 524.6,161.3 525.0,160.9" stroke="#4DBEEE" stroke-width="0.62"/>
<polyline points="309.8,155.4 310.2,154.7 310.6,153.9 311.0,153.1 311.5,152.2 311.9,151.5 312.3,151.0 312.7,150.6 313.1,150.5 313.5,150.6 313.9,150.8 314.4,151.0 314.8,151.1 315.2,151.2 315.6,151.2 316.0,151.3 316.4,151.4 316.8,151.8 317.3,152.3 317.7,152.9 318.1,153.8 318.5,154.6 318.9,155.5 319.3,156.4 319.8,157.2 320.2,157.8 320.6,158.3 321.0,158.6 321.4,158.8 321.8,158.7 322.2,158.4 322.7,157.9 323.1,157.3 323.5,156.6 323.9,155.9 324.3,155.3 324.7,154.8 325.1,154.6 325.6,154.6 326.0,154.8 326.4,155.3 326.8,155.9 327.2,156.5 327.6,157.2 328.0,157.8 328.5,158.2 328.9,158.6 329.3,158.9 329.7,159.2 330.1,159.4 330.5,159.8 330.9,160.2 331.4,160.7 331.8,161.3 332.2,161.9 332.6,162.4 333.0,162.7 333.4,162.7 333.9,162.4 334.3,161.9 334.7,161.1 335.1,160.1 335.5,159.2 335.9,158.4 336.3,157.8 336.8,157.4 337.2,157.3 337.6,157.3 338.0,157.4 338.4,157.7 338.8,157.8 339.2,157.9 339.7,157.8 340.1,157.6 340.5,157.2 340.9,156.6 341.3,156.0 341.7,155.3 342.1,154.6 342.6,153.9 343.0,153.2 343.4,152.6 343.8,152.0 344.2,151.5 344.6,151.2 345.0,151.1 345.5,151.1 345.9,151.4 346.3,152.1 346.7,153.5 347.1,155.5 347.5,157.1 347.9,157.8 348.4,156.3 348.8,152.5 349.2,147.2 349.6,139.3 350.0,129.1 350.4,117.5 350.9,105.6 351.3,94.5 351.7,84.6 352.1,74.8 352.5,65.2 352.9,56.5 353.3,49.9 353.8,45.2 354.2,41.2 354.6,38.1 355.0,36.3 355.4,36.2 355.8,37.9 356.2,40.8 356.7,44.4 357.1,48.3 357.5,53.6 357.9,60.4 358.3,68.2 358.7,76.0 359.1,83.2 359.6,89.0 360.0,94.2 360.4,99.0 360.8,103.6 361.2,107.9 361.6,111.6 362.0,114.7 362.5,117.1 362.9,119.0 363.3,120.5 363.7,121.3 364.1,120.8 364.5,119.1 364.9,116.6 365.4,113.6 365.8,109.1 366.2,103.0 366.6,96.3 367.0,89.8 367.4,84.6 367.9,80.4 368.3,76.5 368.7,72.9 369.1,69.8 369.5,67.4 369.9,65.9 370.3,65.2 370.8,64.7 371.2,64.7 371.6,65.8 372.0,67.7 372.4,69.9 372.8,72.6 373.2,77.7 373.7,81.4 374.1,85.0 374.5,88.0 374.9,90.4 375.3,92.7 375.7,94.9 376.1,96.8 376.6,98.5 377.0,99.9 377.4,101.1 377.8,102.2 378.2,103.2 378.6,103.9 379.0,104.1 379.5,103.9 379.9,103.2 380.3,102.3 380.7,101.2 381.1,100.0 381.5,98.8 382.0,97.4 382.4,95.9 382.8,94.3 383.2,92.8 383.6,91.3 384.0,90.1 384.4,89.2 384.9,88.4 385.3,87.7 385.7,87.2 386.1,86.9 386.5,86.8 386.9,87.0 387.3,87.4 387.8,88.1 388.2,88.9 388.6,89.7 389.0,90.4 389.4,91.0 389.8,91.5 390.2,92.0 390.7,92.5 391.1,93.0 391.5,93.4 391.9,93.7 392.3,93.8 392.7,93.9 393.1,93.7 393.6,93.3 394.0,92.7 394.4,92.1 394.8,91.4 395.2,90.7 395.6,89.9 396.0,89.2 396.5,88.6 396.9,88.1 397.3,87.5 397.7,87.1 398.1,86.7 398.5,86.4 399.0,86.3 399.4,86.2 399.8,86.2 400.2,86.4 400.6,86.7 401.0,87.2 401.4,87.9 401.9,88.7 402.3,89.6 402.7,90.6 403.1,91.5 403.5,92.4 403.9,93.0 404.3,93.4 404.8,93.6 405.2,93.6 405.6,93.4 406.0,93.2 406.4,92.9 406.8,92.6 407.2,92.3 407.7,92.1 408.1,91.9 408.5,91.6 408.9,91.3 409.3,90.8 409.7,90.2 410.1,89.7 410.6,89.1 411.0,88.6 411.4,88.2 411.8,88.1 412.2,88.0 412.6,88.1 413.1,88.3 413.5,88.4 413.9,88.5 414.3,88.5 414.7,88.5 415.1,88.4 415.5,88.4 416.0,88.4 416.4,88.5 416.8,88.8 417.2,89.1 417.6,89.5 418.0,89.9 418.4,90.3 418.9,90.5 419.3,90.6 419.7,90.4 420.1,90.0 420.5,89.5 420.9,88.9 421.3,88.3 421.8,87.7 422.2,87.1 422.6,86.5 423.0,86.0 423.4,85.5 423.8,85.0 424.2,84.6 424.7,84.1 425.1,83.6 425.5,83.1 425.9,82.6 426.3,82.1 426.7,81.6 427.1,81.1 427.6,80.6 428.0,80.1 428.4,79.7 428.8,79.4 429.2,79.2 429.6,79.0 430.1,78.8 430.5,78.7 430.9,78.5 431.3,78.3 431.7,78.1 432.1,77.9 432.5,77.9 433.0,78.2 433.4,79.1 433.8,81.2 434.2,84.6 434.6,89.1 435.0,94.0 435.4,98.5 435.9,102.5 436.3,106.9 436.7,113.3 437.1,121.5 437.5,130.5 437.9,139.4 438.3,147.3 438.8,153.9 439.2,160.5 439.6,167.0 440.0,173.2 440.4,178.7 440.8,183.1 441.2,186.5 441.7,189.1 442.1,190.6 442.5,190.4 442.9,188.5 443.3,185.6 443.7,182.3 444.1,178.8 444.6,174.9 445.0,170.6 445.4,166.1 445.8,161.8 446.2,157.7 446.6,154.1 447.1,150.8 447.5,147.7 447.9,144.8 448.3,142.1 448.7,139.9 449.1,138.1 449.5,136.7 450.0,135.8 450.4,135.4 450.8,135.4 451.2,135.9 451.6,136.8 452.0,138.1 452.4,139.7 452.9,141.7 453.3,144.0 453.7,146.5 454.1,149.1 454.5,151.7 454.9,154.2 455.3,156.4 455.8,158.1 456.2,159.2 456.6,159.6 457.0,159.2 457.4,158.1 457.8,156.4 458.2,154.2 458.7,151.7 459.1,148.9 459.5,146.1 459.9,143.2 460.3,140.4 460.7,137.8 461.2,135.4 461.6,133.3 462.0,131.5 462.4,130.0 462.8,129.0 463.2,128.4 463.6,128.3 464.1,128.7 464.5,129.5 464.9,130.8 465.3,132.5 465.7,134.6 466.1,136.9 466.5,139.5 467.0,142.2 467.4,145.1 467.8,148.1 468.2,151.1 468.6,154.1 469.0,156.9 469.4,159.5 469.9,161.8 470.3,163.7 470.7,165.1 471.1,166.0 471.5,166.3 471.9,166.0 472.3,165.0 472.8,163.6 473.2,161.7 473.6,159.5 474.0,157.0 474.4,154.3 474.8,151.6 475.2,148.9 475.7,146.3 476.1,143.8 476.5,141.5 476.9,139.5 477.3,137.7 477.7,136.1 478.2,134.9 478.6,134.1 479.0,133.7 479.4,133.6 479.8,134.1 480.2,134.9 480.6,136.2 481.1,137.8 481.5,139.6 481.9,141.8 482.3,144.1 482.7,146.5 483.1,149.1 483.5,151.7 484.0,154.2 484.4,156.7 484.8,159.1 485.2,161.3 485.6,163.3 486.0,164.9 486.4,166.2 486.9,167.1 487.3,167.5 487.7,167.4 488.1,166.8 488.5,165.6 488.9,164.1 489.3,162.2 489.8,160.0 490.2,157.6 490.6,155.0 491.0,152.4 491.4,149.9 491.8,147.4 492.2,145.0 492.7,142.8 493.1,140.8 493.5,139.1 493.9,137.8 494.3,136.8 494.7,136.2 495.2,136.1 495.6,136.4 496.0,137.1 496.4,138.2 496.8,139.5 497.2,141.0 497.6,142.7 498.1,144.4 498.5,146.2 498.9,148.0 499.3,149.7 499.7,151.3 500.1,152.7 500.5,153.8 501.0,154.7 501.4,155.2 501.8,155.4 502.2,155.1 502.6,154.4 503.0,153.4 503.4,152.2 503.9,150.7 504.3,149.2 504.7,147.6 505.1,146.0 505.5,144.6 505.9,143.2 506.3,142.0 506.8,141.0 507.2,140.2 507.6,139.6 508.0,139.1 508.4,138.9 508.8,138.9 509.3,139.1 509.7,139.6 510.1,140.2 510.5,141.1 510.9,142.0 511.3,143.1 511.7,144.3 512.2,145.5 512.6,146.8 513.0,148.1 513.4,149.5 513.8,150.7 514.2,152.0 514.6,153.1 515.1,154.1 515.5,155.0 515.9,155.6 516.3,156.1 516.7,156.3 517.1,156.2 517.5,156.0 518.0,155.5 518.4,154.8 518.8,154.0 519.2,153.2 519.6,152.3 520.0,151.5 520.4,150.7 520.9,150.0 521.3,149.3 521.7,148.8 522.1,148.3 522.5,147.8 522.9,147.5 523.3,147.2 523.8,146.9 524.2,146.6 524.6,146.4 525.0,146.2" stroke="#A2142F" stroke-width="0.62"/>
<polyline points="309.8,160.6 310.2,160.5 310.6,160.1 311.0,159.5 311.5,158.7 311.9,157.9 312.3,157.3 312.7,156.9 313.1,156.8 313.5,157.1 313.9,157.7 314.4,158.4 314.8,159.4 315.2,160.3 315.6,161.3 316.0,162.1 316.4,162.7 316.8,163.2 317.3,163.4 317.7,163.5 318.1,163.2 318.5,162.8 318.9,162.2 319.3,161.5 319.8,160.8 320.2,160.4 320.6,160.2 321.0,160.3 321.4,160.7 321.8,161.2 322.2,161.7 322.7,162.1 323.1,162.3 323.5,162.1 323.9,161.8 324.3,161.2 324.7,160.7 325.1,160.2 325.6,159.8 326.0,159.5 326.4,159.2 326.8,159.0 327.2,158.6 327.6,158.1 328.0,157.6 328.5,157.1 328.9,156.7 329.3,156.3 329.7,156.1 330.1,156.0 330.5,155.8 330.9,155.6 331.4,155.2 331.8,154.8 332.2,154.2 332.6,153.6 333.0,153.0 333.4,152.7 333.9,152.5 334.3,152.4 334.7,152.5 335.1,152.7 335.5,152.8 335.9,152.9 336.3,152.9 336.8,152.9 337.2,152.9 337.6,153.0 338.0,153.3 338.4,153.6 338.8,154.2 339.2,154.8 339.7,155.4 340.1,156.0 340.5,156.5 340.9,157.0 341.3,157.4 341.7,157.8 342.1,158.2 342.6,158.7 343.0,159.2 343.4,159.7 343.8,160.2 344.2,160.7 344.6,161.2 345.0,161.5 345.5,161.6 345.9,161.4 346.3,160.5 346.7,159.1 347.1,158.0 347.5,157.9 347.9,158.0 348.4,156.4 348.8,152.6 349.2,147.3 349.6,139.5 350.0,129.4 350.4,117.9 350.9,106.1 351.3,95.0 351.7,85.2 352.1,75.4 352.5,65.8 352.9,57.2 353.3,50.6 353.8,45.9 354.2,42.0 354.6,38.8 355.0,37.0 355.4,37.0 355.8,38.6 356.2,41.4 356.7,45.0 357.1,48.9 357.5,54.2 357.9,61.1 358.3,68.8 358.7,76.7 359.1,84.0 359.6,90.1 360.0,95.4 360.4,100.6 360.8,105.5 361.2,110.0 361.6,114.1 362.0,117.4 362.5,120.0 362.9,121.9 363.3,123.4 363.7,124.0 364.1,123.3 364.5,121.2 364.9,118.4 365.4,115.0 365.8,110.2 366.2,103.9 366.6,96.9 367.0,90.2 367.4,84.7 367.9,80.3 368.3,76.1 368.7,72.2 369.1,68.7 369.5,65.9 369.9,64.2 370.3,63.2 370.8,62.5 371.2,62.4 371.6,63.4 372.0,65.4 372.4,67.6 372.8,70.2 373.2,74.9 373.7,78.5 374.1,82.0 374.5,84.8 374.9,87.1 375.3,89.3 375.7,91.3 376.1,93.2 376.6,94.8 377.0,96.2 377.4,97.3 377.8,98.3 378.2,99.0 378.6,99.3 379.0,99.0 379.5,98.2 379.9,96.9 380.3,95.3 380.7,93.5 381.1,91.7 381.5,89.9 382.0,88.1 382.4,86.2 382.8,84.3 383.2,82.5 383.6,80.9 384.0,79.5 384.4,78.4 384.9,77.5 385.3,76.7 385.7,76.1 386.1,75.8 386.5,75.8 386.9,76.1 387.3,76.8 387.8,77.7 388.2,78.7 388.6,79.6 389.0,80.4 389.4,81.0 389.8,81.5 390.2,82.0 390.7,82.5 391.1,83.1 391.5,83.7 391.9,84.2 392.3,84.7 392.7,85.0 393.1,85.2 393.6,85.2 394.0,85.1 394.4,85.0 394.8,84.8 395.2,84.7 395.6,84.6 396.0,84.5 396.5,84.5 396.9,84.5 397.3,84.4 397.7,84.3 398.1,84.2 398.5,84.1 399.0,84.1 399.4,84.0 399.8,84.0 400.2,84.0 400.6,84.0 401.0,84.1 401.4,84.2 401.9,84.3 402.3,84.5 402.7,84.9 403.1,85.3 403.5,85.9 403.9,86.6 404.3,87.3 404.8,88.0 405.2,88.7 405.6,89.5 406.0,90.1 406.4,90.7 406.8,91.3 407.2,91.7 407.7,92.1 408.1,92.3 408.5,92.5 408.9,92.7 409.3,92.7 409.7,92.7 410.1,92.6 410.6,92.5 411.0,92.4 411.4,92.3 411.8,92.2 412.2,92.1 412.6,92.1 413.1,92.2 413.5,92.3 413.9,92.5 414.3,92.8 414.7,93.1 415.1,93.4 415.5,93.7 416.0,94.0 416.4,94.4 416.8,94.8 417.2,95.2 417.6,95.6 418.0,96.0 418.4,96.3 418.9,96.4 419.3,96.4 419.7,96.2 420.1,95.8 420.5,95.3 420.9,94.6 421.3,94.0 421.8,93.4 422.2,92.8 422.6,92.3 423.0,91.9 423.4,91.5 423.8,91.1 424.2,90.7 424.7,90.2 425.1,89.6 425.5,89.0 425.9,88.5 426.3,87.9 426.7,87.5 427.1,87.1 427.6,86.8 428.0,86.6 428.4,86.5 428.8,86.5 429.2,86.5 429.6,86.6 430.1,86.8 430.5,86.9 430.9,87.0 431.3,87.1 431.7,87.2 432.1,87.3 432.5,87.4 433.0,87.7 433.4,88.2 433.8,89.4 434.2,91.3 434.6,93.8 435.0,96.8 435.4,100.0 435.9,103.2 436.3,107.3 436.7,113.6 437.1,121.7 437.5,130.7 437.9,139.8 438.3,147.9 438.8,154.9 439.2,161.9 439.6,169.0 440.0,175.9 440.4,182.3 440.8,187.6 441.2,191.9 441.7,195.4 442.1,197.6 442.5,198.2 442.9,197.0 443.3,194.9 443.7,192.3 444.1,189.7 444.6,186.5 445.0,182.9 445.4,179.1 445.8,175.3 446.2,171.7 446.6,168.4 447.1,165.4 447.5,162.5 447.9,159.7 448.3,157.2 448.7,155.0 449.1,153.3 449.5,151.9 450.0,151.0 450.4,150.6 450.8,150.6 451.2,151.0 451.6,151.9 452.0,153.1 452.4,154.7 452.9,156.6 453.3,158.8 453.7,161.3 454.1,163.9 454.5,166.4 454.9,168.8 455.3,170.9 455.8,172.6 456.2,173.7 456.6,174.0 457.0,173.6 457.4,172.5 457.8,170.7 458.2,168.5 458.7,166.0 459.1,163.2 459.5,160.3 459.9,157.4 460.3,154.6 460.7,152.0 461.2,149.6 461.6,147.4 462.0,145.6 462.4,144.1 462.8,143.1 463.2,142.4 463.6,142.3 464.1,142.7 464.5,143.5 464.9,144.8 465.3,146.4 465.7,148.4 466.1,150.7 466.5,153.1 467.0,155.8 467.4,158.6 467.8,161.5 468.2,164.4 468.6,167.2 469.0,169.9 469.4,172.4 469.9,174.5 470.3,176.2 470.7,177.5 471.1,178.2 471.5,178.4 471.9,177.8 472.3,176.7 472.8,175.0 473.2,172.9 473.6,170.5 474.0,167.8 474.4,165.0 474.8,162.0 475.2,159.2 475.7,156.4 476.1,153.7 476.5,151.3 476.9,149.1 477.3,147.2 477.7,145.5 478.2,144.3 478.6,143.3 479.0,142.9 479.4,142.8 479.8,143.2 480.2,144.1 480.6,145.4 481.1,147.0 481.5,149.0 481.9,151.2 482.3,153.6 482.7,156.2 483.1,158.9 483.5,161.7 484.0,164.5 484.4,167.2 484.8,169.8 485.2,172.2 485.6,174.4 486.0,176.3 486.4,177.9 486.9,179.0 487.3,179.7 487.7,179.8 488.1,179.4 488.5,178.5 488.9,177.2 489.3,175.5 489.8,173.5 490.2,171.3 490.6,168.9 491.0,166.5 491.4,164.1 491.8,161.7 492.2,159.5 492.7,157.4 493.1,155.6 493.5,154.0 493.9,152.7 494.3,151.8 494.7,151.3 495.2,151.2 495.6,151.6 496.0,152.3 496.4,153.4 496.8,154.7 497.2,156.2 497.6,157.9 498.1,159.6 498.5,161.5 498.9,163.2 499.3,164.9 499.7,166.5 500.1,167.9 500.5,169.1 501.0,170.0 501.4,170.5 501.8,170.7 502.2,170.4 502.6,169.7 503.0,168.7 503.4,167.5 503.9,166.1 504.3,164.6 504.7,163.0 505.1,161.5 505.5,160.0 505.9,158.7 506.3,157.5 506.8,156.5 507.2,155.7 507.6,155.1 508.0,154.6 508.4,154.4 508.8,154.4 509.3,154.6 509.7,155.0 510.1,155.7 510.5,156.4 510.9,157.3 511.3,158.4 511.7,159.5 512.2,160.6 512.6,161.8 513.0,163.0 513.4,164.2 513.8,165.4 514.2,166.5 514.6,167.5 515.1,168.3 515.5,169.0 515.9,169.5 516.3,169.8 516.7,169.8 517.1,169.6 517.5,169.1 518.0,168.4 518.4,167.6 518.8,166.6 519.2,165.6 519.6,164.6 520.0,163.6 520.4,162.6 520.9,161.8 521.3,161.0 521.7,160.3 522.1,159.7 522.5,159.2 522.9,158.8 523.3,158.5 523.8,158.2 524.2,157.9 524.6,157.7 525.0,157.6" stroke="#0072BD" stroke-width="0.62"/>
<polyline points="309.8,150.5 310.2,151.3 310.6,152.5 311.0,154.0 311.5,155.7 311.9,157.4 312.3,159.1 312.7,160.5 313.1,161.6 313.5,162.3 313.9,162.7 314.4,162.7 314.8,162.4 315.2,161.8 315.6,160.9 316.0,159.9 316.4,158.6 316.8,157.3 317.3,155.9 317.7,154.7 318.1,153.7 318.5,153.0 318.9,152.6 319.3,152.4 319.8,152.3 320.2,152.3 320.6,152.2 321.0,151.9 321.4,151.4 321.8,150.7 322.2,149.8 322.7,148.9 323.1,148.0 323.5,147.3 323.9,146.9 324.3,146.8 324.7,147.1 325.1,147.5 325.6,148.2 326.0,148.8 326.4,149.3 326.8,149.7 327.2,150.0 327.6,150.2 328.0,150.5 328.5,151.1 328.9,152.1 329.3,153.4 329.7,154.9 330.1,156.6 330.5,158.0 330.9,159.1 331.4,159.8 331.8,159.9 332.2,159.5 332.6,158.8 333.0,157.8 333.4,156.9 333.9,156.1 334.3,155.6 334.7,155.3 335.1,155.5 335.5,155.9 335.9,156.6 336.3,157.4 336.8,158.3 337.2,159.0 337.6,159.6 338.0,159.9 338.4,160.0 338.8,160.0 339.2,159.8 339.7,159.6 340.1,159.4 340.5,159.4 340.9,159.5 341.3,159.7 341.7,160.1 342.1,160.5 342.6,161.0 343.0,161.3 343.4,161.4 343.8,161.3 344.2,160.9 344.6,160.4 345.0,159.8 345.5,159.1 345.9,158.4 346.3,157.7 346.7,157.3 347.1,157.5 347.5,157.9 347.9,157.5 348.4,154.9 348.8,150.4 349.2,144.3 349.6,135.6 350.0,124.9 350.4,113.4 350.9,102.0 351.3,91.7 351.7,82.4 352.1,72.8 352.5,63.8 352.9,56.1 353.3,50.5 353.8,46.4 354.2,42.9 354.6,40.4 355.0,39.3 355.4,40.0 355.8,42.3 356.2,45.4 356.7,49.1 357.1,53.4 357.5,59.2 357.9,66.4 358.3,74.2 358.7,81.7 359.1,88.3 359.6,93.7 360.0,98.7 360.4,103.6 360.8,108.2 361.2,112.4 361.6,116.0 362.0,118.9 362.5,121.0 362.9,122.7 363.3,123.8 363.7,123.8 364.1,122.5 364.5,120.1 364.9,117.1 365.4,113.4 365.8,108.0 366.2,101.3 366.6,94.5 367.0,88.3 367.4,83.5 367.9,79.5 368.3,75.6 368.7,72.1 369.1,69.3 369.5,67.2 369.9,66.1 370.3,65.5 370.8,65.2 371.2,65.7 371.6,67.4 372.0,69.8 372.4,72.5 372.8,75.8 373.2,79.4 373.7,83.6 374.1,87.4 374.5,90.3 374.9,92.9 375.3,95.2 375.7,97.3 376.1,99.2 376.6,100.8 377.0,102.2 377.4,103.5 377.8,104.7 378.2,105.8 378.6,106.5 379.0,106.9 379.5,106.7 379.9,106.2 380.3,105.3 380.7,104.1 381.1,102.9 381.5,101.4 382.0,99.7 382.4,97.8 382.8,95.8 383.2,93.9 383.6,92.2 384.0,91.0 384.4,90.1 384.9,89.5 385.3,89.0 385.7,88.8 386.1,88.8 386.5,89.1 386.9,89.8 387.3,90.7 387.8,91.8 388.2,93.1 388.6,94.4 389.0,95.6 389.4,96.8 389.8,97.8 390.2,98.9 390.7,99.8 391.1,100.7 391.5,101.3 391.9,101.8 392.3,102.1 392.7,102.2 393.1,102.2 393.6,102.0 394.0,101.8 394.4,101.5 394.8,101.2 395.2,100.9 395.6,100.6 396.0,100.3 396.5,100.0 396.9,99.7 397.3,99.4 397.7,99.1 398.1,98.8 398.5,98.7 399.0,98.6 399.4,98.5 399.8,98.6 400.2,98.7 400.6,99.0 401.0,99.4 401.4,99.8 401.9,100.3 402.3,100.9 402.7,101.5 403.1,102.0 403.5,102.5 403.9,103.0 404.3,103.3 404.8,103.6 405.2,103.8 405.6,104.0 406.0,104.2 406.4,104.4 406.8,104.5 407.2,104.6 407.7,104.7 408.1,104.7 408.5,104.7 408.9,104.7 409.3,104.7 409.7,104.7 410.1,104.7 410.6,104.7 411.0,104.7 411.4,104.8 411.8,104.9 412.2,105.0 412.6,105.2 413.1,105.4 413.5,105.7 413.9,106.1 414.3,106.5 414.7,107.1 415.1,107.6 415.5,108.2 416.0,108.8 416.4,109.4 416.8,110.0 417.2,110.6 417.6,111.2 418.0,111.8 418.4,112.4 418.9,112.9 419.3,113.3 419.7,113.6 420.1,113.8 420.5,113.9 420.9,114.0 421.3,114.1 421.8,114.1 422.2,114.0 422.6,113.9 423.0,113.8 423.4,113.6 423.8,113.3 424.2,113.1 424.7,112.8 425.1,112.5 425.5,112.3 425.9,112.1 426.3,111.9 426.7,111.8 427.1,111.8 427.6,111.8 428.0,111.8 428.4,111.9 428.8,112.1 429.2,112.3 429.6,112.5 430.1,112.8 430.5,113.1 430.9,113.4 431.3,113.7 431.7,113.9 432.1,114.0 432.5,113.9 433.0,113.5 433.4,112.6 433.8,111.0 434.2,108.5 434.6,105.9 435.0,104.4 435.4,104.6 435.9,106.5 436.3,110.5 436.7,117.4 437.1,125.8 437.5,134.8 437.9,143.4 438.3,150.8 438.8,157.4 439.2,164.1 439.6,170.7 440.0,177.1 440.4,182.7 440.8,187.4 441.2,191.5 441.7,195.1 442.1,197.5 442.5,198.3 442.9,197.6 443.3,196.1 443.7,194.4 444.1,192.3 444.6,189.5 445.0,186.1 445.4,182.5 445.8,178.8 446.2,175.4 446.6,172.3 447.1,169.4 447.5,166.5 447.9,163.8 448.3,161.4 448.7,159.4 449.1,157.8 449.5,156.6 450.0,155.9 450.4,155.7 450.8,155.9 451.2,156.5 451.6,157.6 452.0,159.1 452.4,160.9 452.9,163.0 453.3,165.4 453.7,168.0 454.1,170.7 454.5,173.4 454.9,175.7 455.3,177.7 455.8,179.2 456.2,180.0 456.6,179.9 457.0,179.0 457.4,177.4 457.8,175.1 458.2,172.4 458.7,169.4 459.1,166.1 459.5,162.8 459.9,159.5 460.3,156.3 460.7,153.4 461.2,150.6 461.6,148.2 462.0,146.2 462.4,144.5 462.8,143.4 463.2,142.7 463.6,142.5 464.1,143.0 464.5,143.9 464.9,145.3 465.3,147.1 465.7,149.2 466.1,151.7 466.5,154.4 467.0,157.3 467.4,160.3 467.8,163.5 468.2,166.6 468.6,169.7 469.0,172.6 469.4,175.3 469.9,177.6 470.3,179.5 470.7,180.9 471.1,181.7 471.5,181.8 471.9,181.3 472.3,180.1 472.8,178.5 473.2,176.4 473.6,173.9 474.0,171.3 474.4,168.4 474.8,165.6 475.2,162.8 475.7,160.1 476.1,157.5 476.5,155.2 476.9,153.1 477.3,151.3 477.7,149.8 478.2,148.6 478.6,147.9 479.0,147.5 479.4,147.6 479.8,148.2 480.2,149.2 480.6,150.6 481.1,152.3 481.5,154.4 481.9,156.6 482.3,159.1 482.7,161.7 483.1,164.3 483.5,167.0 484.0,169.7 484.4,172.2 484.8,174.6 485.2,176.8 485.6,178.8 486.0,180.4 486.4,181.6 486.9,182.3 487.3,182.5 487.7,182.2 488.1,181.3 488.5,179.9 488.9,178.1 489.3,176.0 489.8,173.6 490.2,171.0 490.6,168.4 491.0,165.7 491.4,163.0 491.8,160.5 492.2,158.1 492.7,155.9 493.1,154.1 493.5,152.5 493.9,151.3 494.3,150.5 494.7,150.3 495.2,150.5 495.6,151.1 496.0,152.2 496.4,153.6 496.8,155.2 497.2,157.1 497.6,159.1 498.1,161.2 498.5,163.3 498.9,165.4 499.3,167.4 499.7,169.2 500.1,170.8 500.5,172.1 501.0,173.1 501.4,173.7 501.8,173.9 502.2,173.5 502.6,172.8 503.0,171.8 503.4,170.4 503.9,168.9 504.3,167.3 504.7,165.7 505.1,164.1 505.5,162.6 505.9,161.2 506.3,160.0 506.8,159.0 507.2,158.1 507.6,157.5 508.0,157.0 508.4,156.8 508.8,156.8 509.3,157.0 509.7,157.5 510.1,158.1 510.5,158.9 510.9,159.9 511.3,160.9 511.7,162.1 512.2,163.3 512.6,164.5 513.0,165.8 513.4,167.0 513.8,168.2 514.2,169.3 514.6,170.3 515.1,171.2 515.5,171.8 515.9,172.3 516.3,172.5 516.7,172.5 517.1,172.2 517.5,171.6 518.0,170.8 518.4,169.9 518.8,168.8 519.2,167.7 519.6,166.6 520.0,165.6 520.4,164.6 520.9,163.7 521.3,162.8 521.7,162.1 522.1,161.5 522.5,160.9 522.9,160.4 523.3,159.9 523.8,159.5 524.2,159.2 524.6,158.8 525.0,158.6" stroke="#D95319" stroke-width="0.62"/>
<polyline points="309.8,161.1 310.2,160.9 310.6,160.6 311.0,160.3 311.5,160.0 311.9,159.7 312.3,159.5 312.7,159.3 313.1,159.2 313.5,159.1 313.9,158.9 314.4,158.6 314.8,158.3 315.2,158.0 315.6,157.8 316.0,157.8 316.4,158.1 316.8,158.7 317.3,159.6 317.7,160.5 318.1,161.5 318.5,162.2 318.9,162.7 319.3,162.7 319.8,162.4 320.2,161.9 320.6,161.2 321.0,160.7 321.4,160.3 321.8,160.3 322.2,160.5 322.7,160.9 323.1,161.4 323.5,161.8 323.9,162.0 324.3,161.8 324.7,161.2 325.1,160.1 325.6,158.7 326.0,157.1 326.4,155.5 326.8,153.8 327.2,152.4 327.6,151.3 328.0,150.6 328.5,150.3 328.9,150.5 329.3,151.0 329.7,151.8 330.1,152.8 330.5,154.0 330.9,155.0 331.4,156.0 331.8,156.7 332.2,157.1 332.6,157.3 333.0,157.2 333.4,156.9 333.9,156.5 334.3,155.9 334.7,155.4 335.1,154.8 335.5,154.3 335.9,154.0 336.3,153.7 336.8,153.7 337.2,153.8 337.6,154.2 338.0,154.7 338.4,155.3 338.8,155.8 339.2,156.3 339.7,156.7 340.1,156.8 340.5,156.7 340.9,156.4 341.3,156.0 341.7,155.7 342.1,155.3 342.6,155.2 343.0,155.2 343.4,155.5 343.8,156.0 344.2,156.8 344.6,157.7 345.0,158.6 345.5,159.5 345.9,160.2 346.3,160.5 346.7,160.1 347.1,159.2 347.5,158.5 347.9,156.6 348.4,152.8 348.8,147.6 349.2,140.1 349.6,130.2 350.0,118.9 350.4,107.4 350.9,96.5 351.3,86.8 351.7,77.2 352.1,67.7 352.5,59.3 352.9,52.6 353.3,48.0 353.8,44.1 354.2,41.0 354.6,39.1 355.0,39.0 355.4,40.6 355.8,43.3 356.2,46.8 356.7,50.6 357.1,55.7 357.5,62.4 357.9,69.9 358.3,77.6 358.7,84.7 359.1,90.5 359.6,95.5 360.0,100.4 360.4,105.0 360.8,109.2 361.2,112.9 361.6,116.0 362.0,118.4 362.5,120.3 362.9,121.8 363.3,122.6 363.7,122.2 364.1,120.5 364.5,118.0 364.9,115.0 365.4,110.6 365.8,104.5 366.2,97.7 366.6,91.1 367.0,85.5 367.4,81.0 367.9,76.7 368.3,72.7 368.7,69.2 369.1,66.5 369.5,64.7 369.9,63.6 370.3,62.9 370.8,62.7 371.2,63.5 371.6,65.3 372.0,67.4 372.4,69.9 372.8,73.1 373.2,76.5 373.7,79.8 374.1,82.4 374.5,84.3 374.9,85.8 375.3,87.1 375.7,88.2 376.1,89.0 376.6,89.7 377.0,90.3 377.4,91.1 377.8,91.9 378.2,92.7 378.6,93.2 379.0,93.3 379.5,92.9 379.9,92.2 380.3,91.2 380.7,90.0 381.1,88.8 381.5,87.3 382.0,85.6 382.4,83.7 382.8,81.9 383.2,80.1 383.6,78.5 384.0,77.2 384.4,76.1 384.9,75.0 385.3,74.0 385.7,73.2 386.1,72.6 386.5,72.4 386.9,72.6 387.3,73.1 387.8,73.8 388.2,74.6 388.6,75.4 389.0,76.0 389.4,76.5 389.8,77.1 390.2,77.7 390.7,78.2 391.1,78.8 391.5,79.3 391.9,79.8 392.3,80.1 392.7,80.3 393.1,80.2 393.6,80.1 394.0,79.8 394.4,79.4 394.8,79.0 395.2,78.5 395.6,78.0 396.0,77.5 396.5,76.9 396.9,76.2 397.3,75.5 397.7,74.8 398.1,74.1 398.5,73.5 399.0,73.1 399.4,72.8 399.8,72.7 400.2,72.7 400.6,73.0 401.0,73.3 401.4,73.7 401.9,74.2 402.3,74.7 402.7,75.2 403.1,75.7 403.5,76.1 403.9,76.5 404.3,76.9 404.8,77.4 405.2,77.9 405.6,78.5 406.0,79.2 406.4,79.9 406.8,80.6 407.2,81.2 407.7,81.7 408.1,82.0 408.5,82.1 408.9,82.0 409.3,81.8 409.7,81.4 410.1,81.1 410.6,80.8 411.0,80.5 411.4,80.3 411.8,80.3 412.2,80.3 412.6,80.4 413.1,80.6 413.5,80.7 413.9,80.8 414.3,80.9 414.7,80.9 415.1,80.7 415.5,80.5 416.0,80.2 416.4,79.8 416.8,79.3 417.2,78.9 417.6,78.5 418.0,78.1 418.4,77.7 418.9,77.5 419.3,77.3 419.7,77.1 420.1,77.0 420.5,76.9 420.9,76.8 421.3,76.8 421.8,76.7 422.2,76.7 422.6,76.7 423.0,76.6 423.4,76.5 423.8,76.3 424.2,76.1 424.7,75.8 425.1,75.4 425.5,75.0 425.9,74.6 426.3,74.2 426.7,73.9 427.1,73.6 427.6,73.4 428.0,73.3 428.4,73.2 428.8,73.2 429.2,73.2 429.6,73.3 430.1,73.5 430.5,73.7 430.9,74.0 431.3,74.4 431.7,74.9 432.1,75.5 432.5,76.1 433.0,77.0 433.4,78.3 433.8,80.6 434.2,84.3 434.6,89.6 435.0,95.5 435.4,100.8 435.9,106.1 436.3,112.9 436.7,121.2 437.1,130.3 437.5,139.2 437.9,147.2 438.3,153.9 438.8,160.4 439.2,166.9 439.6,173.1 440.0,178.7 440.4,183.2 440.8,186.5 441.2,189.0 441.7,190.1 442.1,189.5 442.5,187.4 442.9,184.2 443.3,180.7 443.7,177.4 444.1,174.2 444.6,171.1 445.0,168.0 445.4,165.2 445.8,162.6 446.2,160.4 446.6,158.4 447.1,156.6 447.5,154.9 447.9,153.3 448.3,151.9 448.7,150.8 449.1,149.8 449.5,149.2 450.0,148.7 450.4,148.6 450.8,148.6 451.2,149.0 451.6,149.5 452.0,150.3 452.4,151.2 452.9,152.3 453.3,153.6 453.7,155.0 454.1,156.4 454.5,157.8 454.9,159.0 455.3,160.1 455.8,160.8 456.2,161.2 456.6,161.2 457.0,160.7 457.4,159.9 457.8,158.7 458.2,157.3 458.7,155.8 459.1,154.2 459.5,152.6 459.9,151.0 460.3,149.5 460.7,148.1 461.2,146.9 461.6,145.8 462.0,145.0 462.4,144.3 462.8,144.0 463.2,143.9 463.6,144.1 464.1,144.6 464.5,145.3 464.9,146.3 465.3,147.5 465.7,148.9 466.1,150.5 466.5,152.1 467.0,153.9 467.4,155.8 467.8,157.7 468.2,159.5 468.6,161.3 469.0,163.0 469.4,164.6 469.9,166.0 470.3,167.1 470.7,167.9 471.1,168.4 471.5,168.5 471.9,168.3 472.3,167.7 472.8,166.9 473.2,165.8 473.6,164.5 474.0,163.1 474.4,161.7 474.8,160.2 475.2,158.7 475.7,157.3 476.1,155.9 476.5,154.7 476.9,153.6 477.3,152.6 477.7,151.8 478.2,151.2 478.6,150.8 479.0,150.7 479.4,150.7 479.8,151.1 480.2,151.6 480.6,152.4 481.1,153.3 481.5,154.4 481.9,155.7 482.3,157.0 482.7,158.4 483.1,159.8 483.5,161.3 484.0,162.7 484.4,164.1 484.8,165.5 485.2,166.7 485.6,167.7 486.0,168.6 486.4,169.3 486.9,169.7 487.3,169.8 487.7,169.7 488.1,169.2 488.5,168.5 488.9,167.5 489.3,166.4 489.8,165.2 490.2,163.8 490.6,162.4 491.0,161.0 491.4,159.6 491.8,158.2 492.2,156.9 492.7,155.7 493.1,154.7 493.5,153.9 493.9,153.2 494.3,152.7 494.7,152.5 495.2,152.6 495.6,152.9 496.0,153.4 496.4,154.0 496.8,154.8 497.2,155.7 497.6,156.7 498.1,157.7 498.5,158.7 498.9,159.7 499.3,160.7 499.7,161.5 500.1,162.3 500.5,162.9 501.0,163.3 501.4,163.6 501.8,163.6 502.2,163.3 502.6,162.9 503.0,162.3 503.4,161.6 503.9,160.8 504.3,159.9 504.7,159.1 505.1,158.3 505.5,157.5 505.9,156.8 506.3,156.3 506.8,155.8 507.2,155.4 507.6,155.1 508.0,154.9 508.4,154.8 508.8,154.9 509.3,155.1 509.7,155.3 510.1,155.7 510.5,156.2 510.9,156.7 511.3,157.3 511.7,157.9 512.2,158.5 512.6,159.2 513.0,159.8 513.4,160.4 513.8,161.0 514.2,161.5 514.6,162.0 515.1,162.3 515.5,162.6 515.9,162.8 516.3,162.8 516.7,162.6 517.1,162.3 517.5,161.9 518.0,161.3 518.4,160.7 518.8,160.0 519.2,159.3 519.6,158.6 520.0,157.9 520.4,157.2 520.9,156.6 521.3,156.0 521.7,155.5 522.1,155.1 522.5,154.6 522.9,154.2 523.3,153.8 523.8,153.5 524.2,153.2 524.6,152.9 525.0,152.6" stroke="#EDB120" stroke-width="0.62"/>
<polyline points="309.8,147.9 310.2,148.4 310.6,149.1 311.0,150.1 311.5,151.2 311.9,152.3 312.3,153.4 312.7,154.4 313.1,155.3 313.5,156.0 313.9,156.7 314.4,157.3 314.8,157.8 315.2,158.1 315.6,158.3 316.0,158.4 316.4,158.5 316.8,158.4 317.3,158.4 317.7,158.3 318.1,158.3 318.5,158.2 318.9,158.0 319.3,157.8 319.8,157.4 320.2,156.9 320.6,156.3 321.0,155.7 321.4,155.1 321.8,154.6 322.2,154.3 322.7,154.3 323.1,154.5 323.5,155.0 323.9,155.5 324.3,156.0 324.7,156.4 325.1,156.6 325.6,156.6 326.0,156.4 326.4,156.0 326.8,155.5 327.2,155.1 327.6,154.9 328.0,154.7 328.5,154.8 328.9,155.0 329.3,155.3 329.7,155.6 330.1,156.1 330.5,156.6 330.9,157.1 331.4,157.6 331.8,157.9 332.2,158.2 332.6,158.2 333.0,157.9 333.4,157.5 333.9,156.9 334.3,156.2 334.7,155.6 335.1,155.1 335.5,154.7 335.9,154.6 336.3,154.6 336.8,154.7 337.2,154.8 337.6,155.0 338.0,155.0 338.4,154.8 338.8,154.5 339.2,153.9 339.7,153.1 340.1,152.3 340.5,151.6 340.9,151.1 341.3,150.9 341.7,151.2 342.1,151.8 342.6,152.8 343.0,154.0 343.4,155.1 343.8,156.0 344.2,156.7 344.6,156.9 345.0,156.7 345.5,156.2 345.9,155.6 346.3,155.4 346.7,155.9 347.1,156.7 347.5,156.1 347.9,152.9 348.4,148.1 348.8,140.9 349.2,131.4 349.6,120.4 350.0,109.0 350.4,98.2 350.9,88.5 351.3,79.1 351.7,69.8 352.1,61.4 352.5,54.7 352.9,49.9 353.3,46.1 353.8,43.0 354.2,41.0 354.6,40.8 355.0,42.1 355.4,44.8 355.8,48.2 356.2,51.9 356.7,56.8 357.1,63.2 357.5,70.5 357.9,78.1 358.3,85.1 358.7,90.9 359.1,95.9 359.6,100.6 360.0,105.1 360.4,109.2 360.8,112.9 361.2,116.0 361.6,118.4 362.0,120.3 362.5,121.8 362.9,122.6 363.3,122.2 363.7,120.6 364.1,118.2 364.5,115.2 364.9,111.0 365.4,105.2 365.8,98.5 366.2,92.0 366.6,86.5 367.0,82.0 367.4,77.8 367.9,73.9 368.3,70.4 368.7,67.7 369.1,66.0 369.5,65.2 369.9,64.9 370.3,65.2 370.8,66.6 371.2,69.0 371.6,71.8 372.0,75.0 372.4,78.7 372.8,82.8 373.2,85.5 373.7,88.7 374.1,91.1 374.5,93.2 374.9,95.1 375.3,96.7 375.7,98.0 376.1,99.1 376.6,100.1 377.0,101.1 377.4,102.1 377.8,102.9 378.2,103.5 378.6,103.7 379.0,103.6 379.5,103.1 379.9,102.3 380.3,101.4 380.7,100.4 381.1,99.3 381.5,98.1 382.0,96.7 382.4,95.2 382.8,93.9 383.2,92.6 383.6,91.5 384.0,90.6 384.4,89.7 384.9,88.7 385.3,87.8 385.7,86.9 386.1,86.3 386.5,86.1 386.9,86.2 387.3,86.6 387.8,87.2 388.2,88.1 388.6,89.0 389.0,89.9 389.4,90.8 389.8,91.9 390.2,92.9 390.7,94.0 391.1,95.0 391.5,95.9 391.9,96.7 392.3,97.3 392.7,97.6 393.1,97.6 393.6,97.5 394.0,97.2 394.4,96.7 394.8,96.2 395.2,95.7 395.6,95.2 396.0,94.7 396.5,94.2 396.9,93.8 397.3,93.3 397.7,92.8 398.1,92.4 398.5,91.9 399.0,91.4 399.4,90.9 399.8,90.5 400.2,90.2 400.6,90.1 401.0,90.2 401.4,90.5 401.9,90.9 402.3,91.6 402.7,92.3 403.1,93.1 403.5,94.0 403.9,94.8 404.3,95.5 404.8,96.1 405.2,96.6 405.6,97.0 406.0,97.2 406.4,97.3 406.8,97.2 407.2,96.9 407.7,96.6 408.1,96.3 408.5,95.9 408.9,95.5 409.3,95.2 409.7,94.9 410.1,94.7 410.6,94.5 411.0,94.4 411.4,94.3 411.8,94.2 412.2,94.0 412.6,93.8 413.1,93.6 413.5,93.3 413.9,92.9 414.3,92.6 414.7,92.3 415.1,92.1 415.5,91.9 416.0,91.8 416.4,91.6 416.8,91.5 417.2,91.4 417.6,91.4 418.0,91.3 418.4,91.2 418.9,91.2 419.3,91.1 419.7,91.0 420.1,90.9 420.5,90.8 420.9,90.6 421.3,90.4 421.8,90.1 422.2,89.8 422.6,89.4 423.0,88.9 423.4,88.3 423.8,87.7 424.2,87.0 424.7,86.4 425.1,85.9 425.5,85.4 425.9,85.1 426.3,84.9 426.7,84.8 427.1,84.8 427.6,84.9 428.0,85.1 428.4,85.2 428.8,85.4 429.2,85.6 429.6,85.9 430.1,86.1 430.5,86.3 430.9,86.5 431.3,86.7 431.7,86.9 432.1,87.1 432.5,87.4 433.0,87.8 433.4,88.4 433.8,89.7 434.2,92.3 434.6,96.2 435.0,100.6 435.4,105.6 435.9,112.1 436.3,120.3 436.7,129.3 437.1,138.2 437.5,146.2 437.9,152.8 438.3,159.1 438.8,165.4 439.2,171.4 439.6,176.9 440.0,181.6 440.4,185.4 440.8,188.7 441.2,191.2 441.7,192.3 442.1,191.7 442.5,189.9 442.9,187.3 443.3,184.6 443.7,181.7 444.1,178.2 444.6,174.5 445.0,170.7 445.4,167.0 445.8,163.6 446.2,160.6 446.6,157.8 447.1,155.0 447.5,152.5 447.9,150.2 448.3,148.3 448.7,146.8 449.1,145.6 449.5,144.9 450.0,144.7 450.4,144.9 450.8,145.5 451.2,146.5 451.6,147.8 452.0,149.5 452.4,151.4 452.9,153.7 453.3,156.1 453.7,158.7 454.1,161.2 454.5,163.5 454.9,165.5 455.3,167.1 455.8,168.0 456.2,168.3 456.6,167.8 457.0,166.6 457.4,164.9 457.8,162.7 458.2,160.3 458.7,157.6 459.1,154.8 459.5,152.1 459.9,149.5 460.3,147.0 460.7,144.7 461.2,142.6 461.6,140.9 462.0,139.5 462.4,138.5 462.8,137.9 463.2,137.7 463.6,138.0 464.1,138.8 464.5,140.0 464.9,141.4 465.3,143.2 465.7,145.3 466.1,147.5 466.5,150.0 467.0,152.5 467.4,155.1 467.8,157.8 468.2,160.3 468.6,162.7 469.0,164.9 469.4,166.7 469.9,168.2 470.3,169.3 470.7,169.8 471.1,169.7 471.5,169.1 471.9,167.9 472.3,166.2 472.8,164.1 473.2,161.7 473.6,159.2 474.0,156.5 474.4,153.7 474.8,151.0 475.2,148.4 475.7,146.0 476.1,143.8 476.5,141.7 476.9,140.0 477.3,138.5 477.7,137.4 478.2,136.6 478.6,136.3 479.0,136.3 479.4,136.8 479.8,137.7 480.2,138.9 480.6,140.5 481.1,142.4 481.5,144.5 481.9,146.8 482.3,149.3 482.7,151.8 483.1,154.4 483.5,157.0 484.0,159.5 484.4,162.0 484.8,164.2 485.2,166.2 485.6,168.0 486.0,169.4 486.4,170.4 486.9,171.0 487.3,171.1 487.7,170.7 488.1,169.9 488.5,168.7 488.9,167.1 489.3,165.4 489.8,163.4 490.2,161.4 490.6,159.3 491.0,157.2 491.4,155.2 491.8,153.4 492.2,151.7 492.7,150.2 493.1,149.0 493.5,148.2 493.9,147.6 494.3,147.5 494.7,147.8 495.2,148.5 495.6,149.5 496.0,150.8 496.4,152.3 496.8,154.1 497.2,155.9 497.6,157.8 498.1,159.7 498.5,161.6 498.9,163.3 499.3,165.0 499.7,166.4 500.1,167.6 500.5,168.5 501.0,169.0 501.4,169.2 501.8,168.9 502.2,168.3 502.6,167.4 503.0,166.2 503.4,164.9 503.9,163.4 504.3,162.0 504.7,160.5 505.1,159.2 505.5,158.0 505.9,156.9 506.3,156.0 506.8,155.2 507.2,154.6 507.6,154.3 508.0,154.1 508.4,154.1 508.8,154.3 509.3,154.8 509.7,155.4 510.1,156.1 510.5,157.0 510.9,157.9 511.3,159.0 511.7,160.1 512.2,161.2 512.6,162.4 513.0,163.5 513.4,164.6 513.8,165.5 514.2,166.4 514.6,167.2 515.1,167.8 515.5,168.2 515.9,168.4 516.3,168.3 516.7,168.0 517.1,167.4 517.5,166.6 518.0,165.7 518.4,164.7 518.8,163.6 519.2,162.4 519.6,161.3 520.0,160.3 520.4,159.3 520.9,158.4 521.3,157.6 521.7,156.9 522.1,156.2 522.5,155.5 522.9,154.9 523.3,154.4 523.8,153.9 524.2,153.5 524.6,153.0 525.0,152.7" stroke="#7E2F8E" stroke-width="0.62"/>
<polyline points="309.8,152.7 310.2,153.1 310.6,153.5 311.0,153.9 311.5,154.2 311.9,154.5 312.3,154.6 312.7,154.8 313.1,155.0 313.5,155.2 313.9,155.5 314.4,155.8 314.8,156.0 315.2,156.2 315.6,156.2 316.0,156.0 316.4,155.7 316.8,155.2 317.3,154.7 317.7,154.2 318.1,153.7 318.5,153.4 318.9,153.2 319.3,153.0 319.8,152.9 320.2,152.7 320.6,152.6 321.0,152.4 321.4,152.2 321.8,152.2 322.2,152.3 322.7,152.5 323.1,152.9 323.5,153.5 323.9,154.3 324.3,155.1 324.7,156.0 325.1,156.8 325.6,157.4 326.0,157.6 326.4,157.5 326.8,157.0 327.2,156.0 327.6,154.8 328.0,153.4 328.5,152.2 328.9,151.2 329.3,150.6 329.7,150.4 330.1,150.7 330.5,151.2 330.9,152.0 331.4,152.8 331.8,153.6 332.2,154.3 332.6,155.0 333.0,155.5 333.4,155.8 333.9,156.0 334.3,155.9 334.7,155.6 335.1,155.1 335.5,154.6 335.9,154.0 336.3,153.5 336.8,153.2 337.2,153.0 337.6,152.9 338.0,152.9 338.4,153.0 338.8,153.0 339.2,153.0 339.7,153.0 340.1,153.1 340.5,153.2 340.9,153.5 341.3,153.9 341.7,154.6 342.1,155.3 342.6,156.0 343.0,156.5 343.4,156.6 343.8,156.3 344.2,155.6 344.6,154.6 345.0,153.5 345.5,152.4 345.9,151.7 346.3,151.8 346.7,153.2 347.1,155.5 347.5,157.2 347.9,156.9 348.4,153.9 348.8,149.1 349.2,142.3 349.6,132.9 350.0,121.9 350.4,110.2 350.9,98.9 351.3,88.7 351.7,79.1 352.1,69.5 352.5,60.6 352.9,53.3 353.3,48.0 353.8,44.0 354.2,40.6 354.6,38.3 355.0,37.7 355.4,38.8 355.8,41.3 356.2,44.6 356.7,48.4 357.1,53.1 357.5,59.4 357.9,66.9 358.3,74.8 358.7,82.3 359.1,88.8 359.6,94.3 360.0,99.6 360.4,104.7 360.8,109.6 361.2,113.9 361.6,117.7 362.0,120.6 362.5,122.8 362.9,124.5 363.3,125.4 363.7,125.1 364.1,123.4 364.5,120.7 364.9,117.4 365.4,113.1 365.8,107.3 366.2,100.4 366.6,93.6 367.0,87.7 367.4,83.0 367.9,78.8 368.3,74.8 368.7,71.3 369.1,68.4 369.5,66.5 369.9,65.5 370.3,64.9 370.8,64.9 371.2,65.7 371.6,67.6 372.0,70.0 372.4,72.6 372.8,75.8 373.2,80.3 373.7,84.0 374.1,87.1 374.5,89.5 374.9,91.6 375.3,93.5 375.7,95.2 376.1,96.7 376.6,97.8 377.0,98.7 377.4,99.6 377.8,100.3 378.2,100.8 378.6,101.0 379.0,100.8 379.5,100.1 379.9,99.2 380.3,98.1 380.7,96.9 381.1,95.7 381.5,94.4 382.0,93.0 382.4,91.6 382.8,90.1 383.2,88.8 383.6,87.7 384.0,86.7 384.4,86.0 384.9,85.4 385.3,84.7 385.7,84.2 386.1,83.9 386.5,83.9 386.9,84.1 387.3,84.7 387.8,85.4 388.2,86.2 388.6,87.0 389.0,87.7 389.4,88.3 389.8,88.9 390.2,89.5 390.7,90.2 391.1,90.9 391.5,91.5 391.9,92.0 392.3,92.4 392.7,92.6 393.1,92.6 393.6,92.4 394.0,92.1 394.4,91.7 394.8,91.4 395.2,91.0 395.6,90.6 396.0,90.2 396.5,89.8 396.9,89.4 397.3,89.0 397.7,88.5 398.1,88.0 398.5,87.6 399.0,87.3 399.4,87.1 399.8,86.9 400.2,86.9 400.6,87.1 401.0,87.4 401.4,87.7 401.9,88.1 402.3,88.6 402.7,89.0 403.1,89.3 403.5,89.7 403.9,89.9 404.3,90.1 404.8,90.2 405.2,90.4 405.6,90.6 406.0,90.8 406.4,91.0 406.8,91.2 407.2,91.3 407.7,91.4 408.1,91.4 408.5,91.5 408.9,91.5 409.3,91.5 409.7,91.5 410.1,91.6 410.6,91.7 411.0,91.8 411.4,91.8 411.8,91.9 412.2,91.9 412.6,91.9 413.1,91.8 413.5,91.5 413.9,91.2 414.3,90.8 414.7,90.4 415.1,90.0 415.5,89.7 416.0,89.4 416.4,89.2 416.8,89.2 417.2,89.3 417.6,89.4 418.0,89.6 418.4,89.9 418.9,90.1 419.3,90.3 419.7,90.4 420.1,90.4 420.5,90.4 420.9,90.4 421.3,90.5 421.8,90.5 422.2,90.5 422.6,90.5 423.0,90.4 423.4,90.2 423.8,90.0 424.2,89.6 424.7,89.1 425.1,88.6 425.5,88.1 425.9,87.7 426.3,87.3 426.7,87.1 427.1,87.1 427.6,87.2 428.0,87.4 428.4,87.7 428.8,88.0 429.2,88.2 429.6,88.5 430.1,88.7 430.5,88.9 430.9,89.2 431.3,89.4 431.7,89.7 432.1,90.0 432.5,90.4 433.0,90.8 433.4,91.3 433.8,92.2 434.2,93.6 434.6,95.8 435.0,98.7 435.4,102.0 435.9,105.8 436.3,111.4 436.7,119.0 437.1,127.8 437.5,136.9 437.9,145.3 438.3,152.7 438.8,159.6 439.2,166.9 439.6,174.1 440.0,181.0 440.4,186.9 440.8,191.6 441.2,195.0 441.7,197.1 442.1,197.1 442.5,195.2 442.9,191.8 443.3,187.9 443.7,184.1 444.1,180.5 444.6,176.9 445.0,173.4 445.4,170.0 445.8,166.9 446.2,164.2 446.6,161.8 447.1,159.7 447.5,157.6 447.9,155.7 448.3,154.0 448.7,152.6 449.1,151.5 449.5,150.7 450.0,150.3 450.4,150.2 450.8,150.4 451.2,150.9 451.6,151.8 452.0,152.9 452.4,154.2 452.9,155.8 453.3,157.6 453.7,159.5 454.1,161.4 454.5,163.4 454.9,165.1 455.3,166.6 455.8,167.8 456.2,168.4 456.6,168.5 457.0,168.0 457.4,167.0 457.8,165.6 458.2,163.9 458.7,161.9 459.1,159.8 459.5,157.6 459.9,155.4 460.3,153.4 460.7,151.4 461.2,149.7 461.6,148.1 462.0,146.8 462.4,145.8 462.8,145.0 463.2,144.6 463.6,144.6 464.1,145.0 464.5,145.7 464.9,146.8 465.3,148.1 465.7,149.7 466.1,151.4 466.5,153.4 467.0,155.5 467.4,157.6 467.8,159.9 468.2,162.1 468.6,164.3 469.0,166.4 469.4,168.3 469.9,170.0 470.3,171.3 470.7,172.4 471.1,173.0 471.5,173.1 471.9,172.8 472.3,172.0 472.8,170.9 473.2,169.4 473.6,167.8 474.0,165.9 474.4,164.0 474.8,162.0 475.2,160.0 475.7,158.1 476.1,156.3 476.5,154.6 476.9,153.1 477.3,151.8 477.7,150.7 478.2,149.8 478.6,149.2 479.0,148.9 479.4,148.9 479.8,149.2 480.2,149.8 480.6,150.7 481.1,151.9 481.5,153.2 481.9,154.7 482.3,156.4 482.7,158.1 483.1,160.0 483.5,161.8 484.0,163.6 484.4,165.4 484.8,167.1 485.2,168.7 485.6,170.1 486.0,171.2 486.4,172.1 486.9,172.7 487.3,173.0 487.7,172.9 488.1,172.4 488.5,171.6 488.9,170.5 489.3,169.1 489.8,167.6 490.2,166.0 490.6,164.3 491.0,162.6 491.4,161.0 491.8,159.4 492.2,157.9 492.7,156.5 493.1,155.4 493.5,154.4 493.9,153.7 494.3,153.3 494.7,153.3 495.2,153.5 495.6,154.1 496.0,154.9 496.4,155.9 496.8,157.2 497.2,158.5 497.6,159.9 498.1,161.4 498.5,162.9 498.9,164.4 499.3,165.8 499.7,167.0 500.1,168.1 500.5,169.0 501.0,169.7 501.4,170.1 501.8,170.2 502.2,169.9 502.6,169.4 503.0,168.7 503.4,167.7 503.9,166.6 504.3,165.5 504.7,164.3 505.1,163.2 505.5,162.1 505.9,161.1 506.3,160.2 506.8,159.4 507.2,158.8 507.6,158.3 508.0,157.9 508.4,157.7 508.8,157.6 509.3,157.8 509.7,158.0 510.1,158.4 510.5,158.9 510.9,159.5 511.3,160.2 511.7,160.9 512.2,161.7 512.6,162.5 513.0,163.3 513.4,164.1 513.8,164.9 514.2,165.6 514.6,166.2 515.1,166.8 515.5,167.2 515.9,167.5 516.3,167.6 516.7,167.5 517.1,167.2 517.5,166.7 518.0,166.1 518.4,165.4 518.8,164.6 519.2,163.8 519.6,163.0 520.0,162.2 520.4,161.4 520.9,160.8 521.3,160.2 521.7,159.6 522.1,159.1 522.5,158.7 522.9,158.3 523.3,157.9 523.8,157.6 524.2,157.3 524.6,157.1 525.0,156.9" stroke="#77AC30" stroke-width="0.62"/>
<polyline points="309.8,161.7 310.2,162.7 310.6,163.4 311.0,163.5 311.5,163.3 311.9,162.7 312.3,162.0 312.7,161.3 313.1,160.8 313.5,160.5 313.9,160.6 314.4,160.8 314.8,161.1 315.2,161.3 315.6,161.2 316.0,161.0 316.4,160.4 316.8,159.7 317.3,158.8 317.7,158.0 318.1,157.2 318.5,156.7 318.9,156.5 319.3,156.6 319.8,157.0 320.2,157.6 320.6,158.3 321.0,159.1 321.4,159.7 321.8,160.1 322.2,160.2 322.7,160.1 323.1,159.8 323.5,159.3 323.9,158.7 324.3,158.1 324.7,157.4 325.1,156.7 325.6,156.1 326.0,155.5 326.4,155.1 326.8,155.0 327.2,155.2 327.6,155.7 328.0,156.6 328.5,157.8 328.9,159.0 329.3,160.2 329.7,161.3 330.1,162.1 330.5,162.8 330.9,163.2 331.4,163.5 331.8,163.6 332.2,163.5 332.6,163.2 333.0,162.5 333.4,161.5 333.9,160.0 334.3,158.2 334.7,156.1 335.1,153.9 335.5,151.8 335.9,150.0 336.3,148.5 336.8,147.3 337.2,146.6 337.6,146.4 338.0,146.5 338.4,147.0 338.8,147.9 339.2,149.1 339.7,150.4 340.1,151.7 340.5,152.9 340.9,153.8 341.3,154.5 341.7,154.7 342.1,154.7 342.6,154.5 343.0,154.1 343.4,153.6 343.8,153.2 344.2,152.8 344.6,152.6 345.0,152.4 345.5,152.4 345.9,152.7 346.3,153.5 346.7,155.2 347.1,156.9 347.5,157.5 347.9,155.2 348.4,150.7 348.8,144.8 349.2,136.0 349.6,125.3 350.0,113.5 350.4,101.9 350.9,91.3 351.3,81.8 351.7,72.0 352.1,62.7 352.5,54.7 352.9,48.9 353.3,44.7 353.8,41.0 354.2,38.3 354.6,37.1 355.0,37.7 355.4,39.9 355.8,43.1 356.2,46.8 356.7,51.0 357.1,56.8 357.5,64.1 357.9,71.9 358.3,79.6 358.7,86.4 359.1,91.9 359.6,96.9 360.0,101.8 360.4,106.4 360.8,110.6 361.2,114.3 361.6,117.3 362.0,119.5 362.5,121.3 362.9,122.5 363.3,122.8 363.7,121.7 364.1,119.3 364.5,116.3 364.9,112.7 365.4,107.4 365.8,100.7 366.2,93.8 366.6,87.5 367.0,82.6 367.4,78.5 367.9,74.6 368.3,71.1 368.7,68.1 369.1,66.0 369.5,64.9 369.9,64.5 370.3,64.4 370.8,65.0 371.2,67.0 371.6,69.6 372.0,72.3 372.4,75.5 372.8,79.4 373.2,84.2 373.7,87.5 374.1,89.9 374.5,91.8 374.9,93.6 375.3,95.2 375.7,96.7 376.1,98.0 376.6,99.1 377.0,100.3 377.4,101.4 377.8,102.5 378.2,103.3 378.6,103.6 379.0,103.6 379.5,103.2 379.9,102.5 380.3,101.7 380.7,100.8 381.1,100.0 381.5,99.0 382.0,97.9 382.4,96.8 382.8,95.7 383.2,94.8 383.6,94.0 384.0,93.4 384.4,92.9 384.9,92.3 385.3,91.8 385.7,91.4 386.1,91.2 386.5,91.3 386.9,91.8 387.3,92.5 387.8,93.3 388.2,94.1 388.6,94.9 389.0,95.5 389.4,96.0 389.8,96.7 390.2,97.3 390.7,98.0 391.1,98.7 391.5,99.5 391.9,100.2 392.3,100.8 392.7,101.3 393.1,101.6 393.6,101.8 394.0,102.0 394.4,102.0 394.8,102.0 395.2,101.8 395.6,101.4 396.0,100.9 396.5,100.2 396.9,99.4 397.3,98.4 397.7,97.4 398.1,96.4 398.5,95.5 399.0,94.8 399.4,94.4 399.8,94.3 400.2,94.4 400.6,94.8 401.0,95.4 401.4,96.2 401.9,96.9 402.3,97.7 402.7,98.4 403.1,99.1 403.5,99.6 403.9,100.1 404.3,100.5 404.8,100.9 405.2,101.4 405.6,101.9 406.0,102.4 406.4,102.9 406.8,103.3 407.2,103.7 407.7,103.9 408.1,103.9 408.5,103.8 408.9,103.5 409.3,103.0 409.7,102.5 410.1,102.0 410.6,101.4 411.0,100.9 411.4,100.5 411.8,100.2 412.2,100.1 412.6,100.2 413.1,100.3 413.5,100.5 413.9,100.7 414.3,101.0 414.7,101.2 415.1,101.4 415.5,101.7 416.0,101.9 416.4,102.1 416.8,102.4 417.2,102.7 417.6,103.0 418.0,103.4 418.4,103.7 418.9,103.9 419.3,104.0 419.7,103.9 420.1,103.8 420.5,103.5 420.9,103.2 421.3,102.8 421.8,102.3 422.2,101.9 422.6,101.4 423.0,100.9 423.4,100.5 423.8,100.0 424.2,99.6 424.7,99.3 425.1,99.0 425.5,98.8 425.9,98.8 426.3,98.8 426.7,99.0 427.1,99.2 427.6,99.4 428.0,99.7 428.4,99.9 428.8,100.2 429.2,100.3 429.6,100.4 430.1,100.4 430.5,100.4 430.9,100.4 431.3,100.4 431.7,100.3 432.1,100.2 432.5,100.1 433.0,100.0 433.4,99.9 433.8,99.9 434.2,100.0 434.6,100.9 435.0,102.7 435.4,105.3 435.9,109.6 436.3,116.5 436.7,124.9 437.1,134.0 437.5,142.7 437.9,150.2 438.3,156.7 438.8,163.6 439.2,170.5 439.6,177.4 440.0,183.7 440.4,189.2 440.8,193.8 441.2,197.8 441.7,200.5 442.1,201.1 442.5,199.9 442.9,197.5 443.3,194.6 443.7,191.7 444.1,188.2 444.6,184.2 445.0,179.9 445.4,175.7 445.8,171.6 446.2,168.0 446.6,164.7 447.1,161.5 447.5,158.5 447.9,155.7 448.3,153.3 448.7,151.4 449.1,150.0 449.5,149.1 450.0,148.7 450.4,148.8 450.8,149.5 451.2,150.6 451.6,152.2 452.0,154.2 452.4,156.5 452.9,159.2 453.3,162.2 453.7,165.4 454.1,168.6 454.5,171.6 454.9,174.3 455.3,176.5 455.8,178.0 456.2,178.8 456.6,178.6 457.0,177.5 457.4,175.8 457.8,173.5 458.2,170.7 458.7,167.7 459.1,164.4 459.5,161.2 459.9,158.1 460.3,155.1 460.7,152.4 461.2,149.9 461.6,147.7 462.0,146.0 462.4,144.7 462.8,143.8 463.2,143.6 463.6,143.9 464.1,144.7 464.5,146.0 464.9,147.7 465.3,149.9 465.7,152.3 466.1,155.0 466.5,158.0 467.0,161.1 467.4,164.3 467.8,167.5 468.2,170.7 468.6,173.7 469.0,176.5 469.4,178.9 469.9,180.9 470.3,182.5 470.7,183.4 471.1,183.6 471.5,183.1 471.9,181.9 472.3,180.0 472.8,177.7 473.2,175.0 473.6,171.9 474.0,168.7 474.4,165.4 474.8,162.0 475.2,158.8 475.7,155.8 476.1,152.9 476.5,150.3 476.9,148.0 477.3,146.1 477.7,144.5 478.2,143.3 478.6,142.5 479.0,142.3 479.4,142.5 479.8,143.3 480.2,144.6 480.6,146.2 481.1,148.2 481.5,150.6 481.9,153.1 482.3,155.8 482.7,158.7 483.1,161.7 483.5,164.6 484.0,167.5 484.4,170.3 484.8,173.0 485.2,175.4 485.6,177.4 486.0,179.1 486.4,180.4 486.9,181.1 487.3,181.3 487.7,180.9 488.1,179.9 488.5,178.5 488.9,176.6 489.3,174.5 489.8,172.1 490.2,169.5 490.6,166.9 491.0,164.3 491.4,161.8 491.8,159.4 492.2,157.2 492.7,155.3 493.1,153.7 493.5,152.4 493.9,151.6 494.3,151.3 494.7,151.4 495.2,152.1 495.6,153.2 496.0,154.7 496.4,156.4 496.8,158.4 497.2,160.6 497.6,162.9 498.1,165.3 498.5,167.6 498.9,169.8 499.3,171.9 499.7,173.8 500.1,175.4 500.5,176.7 501.0,177.6 501.4,178.1 501.8,178.0 502.2,177.5 502.6,176.5 503.0,175.3 503.4,173.8 503.9,172.2 504.3,170.5 504.7,168.8 505.1,167.2 505.5,165.7 505.9,164.4 506.3,163.3 506.8,162.3 507.2,161.6 507.6,161.0 508.0,160.7 508.4,160.6 508.8,160.8 509.3,161.2 509.7,161.8 510.1,162.6 510.5,163.5 510.9,164.6 511.3,165.8 511.7,167.0 512.2,168.3 512.6,169.6 513.0,170.9 513.4,172.1 513.8,173.3 514.2,174.3 514.6,175.2 515.1,175.9 515.5,176.4 515.9,176.7 516.3,176.7 516.7,176.3 517.1,175.7 517.5,174.8 518.0,173.7 518.4,172.5 518.8,171.2 519.2,169.8 519.6,168.5 520.0,167.2 520.4,166.0 520.9,165.0 521.3,164.0 521.7,163.1 522.1,162.2 522.5,161.5 522.9,160.8 523.3,160.2 523.8,159.6 524.2,159.1 524.6,158.6 525.0,158.2" stroke="#4DBEEE" stroke-width="0.62"/>
<polyline points="309.8,147.8 310.2,148.5 310.6,149.4 311.0,150.3 311.5,151.3 311.9,152.1 312.3,152.9 312.7,153.5 313.1,154.0 313.5,154.5 313.9,155.0 314.4,155.5 314.8,156.1 315.2,156.6 315.6,157.1 316.0,157.3 316.4,157.3 316.8,157.0 317.3,156.5 317.7,155.8 318.1,155.0 318.5,154.2 318.9,153.5 319.3,152.9 319.8,152.7 320.2,152.7 320.6,153.0 321.0,153.6 321.4,154.6 321.8,155.7 322.2,157.0 322.7,158.2 323.1,159.3 323.5,160.0 323.9,160.5 324.3,160.7 324.7,160.5 325.1,160.2 325.6,159.7 326.0,159.3 326.4,158.9 326.8,158.7 327.2,158.7 327.6,158.8 328.0,159.0 328.5,159.3 328.9,159.5 329.3,159.7 329.7,159.8 330.1,159.8 330.5,159.7 330.9,159.7 331.4,159.6 331.8,159.5 332.2,159.4 332.6,159.2 333.0,158.9 333.4,158.5 333.9,158.0 334.3,157.3 334.7,156.5 335.1,155.6 335.5,154.8 335.9,153.9 336.3,153.1 336.8,152.5 337.2,151.9 337.6,151.5 338.0,151.4 338.4,151.3 338.8,151.4 339.2,151.6 339.7,151.9 340.1,152.1 340.5,152.1 340.9,152.0 341.3,151.7 341.7,151.2 342.1,150.6 342.6,149.9 343.0,149.3 343.4,148.9 343.8,148.7 344.2,148.7 344.6,149.0 345.0,149.5 345.5,150.2 345.9,151.0 346.3,152.2 346.7,154.2 347.1,156.3 347.5,157.4 347.9,155.9 348.4,152.1 348.8,146.9 349.2,139.1 349.6,129.2 350.0,118.0 350.4,106.7 350.9,96.3 351.3,87.0 351.7,77.6 352.1,68.5 352.5,60.4 352.9,54.3 353.3,50.0 353.8,46.4 354.2,43.5 354.6,41.9 355.0,42.1 355.4,43.8 355.8,46.7 356.2,50.2 356.7,53.9 357.1,59.2 357.5,65.9 357.9,73.4 358.3,81.0 358.7,87.9 359.1,93.5 359.6,98.6 360.0,103.6 360.4,108.4 360.8,112.9 361.2,116.9 361.6,120.2 362.0,122.8 362.5,124.8 362.9,126.3 363.3,126.9 363.7,126.1 364.1,124.0 364.5,121.1 364.9,117.8 365.4,112.9 365.8,106.6 366.2,99.7 366.6,93.2 367.0,88.0 367.4,83.7 367.9,79.6 368.3,75.9 368.7,72.7 369.1,70.2 369.5,68.8 369.9,68.0 370.3,67.4 370.8,67.3 371.2,68.2 371.6,69.9 372.0,71.7 372.4,73.9 372.8,76.8 373.2,78.1 373.7,81.4 374.1,84.0 374.5,86.2 374.9,88.4 375.3,90.5 375.7,92.4 376.1,94.1 376.6,95.5 377.0,96.8 377.4,97.8 377.8,98.7 378.2,99.2 378.6,99.3 379.0,98.9 379.5,98.1 379.9,97.0 380.3,95.7 380.7,94.4 381.1,93.1 381.5,91.7 382.0,90.3 382.4,88.7 382.8,87.2 383.2,85.8 383.6,84.6 384.0,83.6 384.4,82.7 384.9,81.8 385.3,81.0 385.7,80.3 386.1,79.7 386.5,79.5 386.9,79.6 387.3,79.9 387.8,80.4 388.2,81.1 388.6,81.7 389.0,82.3 389.4,82.9 389.8,83.5 390.2,84.1 390.7,84.7 391.1,85.3 391.5,85.7 391.9,86.0 392.3,86.2 392.7,86.4 393.1,86.3 393.6,86.2 394.0,86.0 394.4,85.8 394.8,85.5 395.2,85.2 395.6,84.7 396.0,84.1 396.5,83.5 396.9,82.7 397.3,81.8 397.7,81.0 398.1,80.1 398.5,79.3 399.0,78.6 399.4,78.1 399.8,77.7 400.2,77.4 400.6,77.4 401.0,77.5 401.4,77.8 401.9,78.3 402.3,78.9 402.7,79.7 403.1,80.5 403.5,81.3 403.9,82.1 404.3,82.8 404.8,83.4 405.2,84.1 405.6,84.6 406.0,85.0 406.4,85.4 406.8,85.6 407.2,85.7 407.7,85.7 408.1,85.6 408.5,85.3 408.9,84.9 409.3,84.3 409.7,83.8 410.1,83.2 410.6,82.6 411.0,82.1 411.4,81.6 411.8,81.2 412.2,81.0 412.6,80.8 413.1,80.6 413.5,80.5 413.9,80.4 414.3,80.4 414.7,80.4 415.1,80.5 415.5,80.6 416.0,80.8 416.4,81.1 416.8,81.4 417.2,81.7 417.6,82.0 418.0,82.2 418.4,82.3 418.9,82.3 419.3,82.2 419.7,82.0 420.1,81.8 420.5,81.5 420.9,81.3 421.3,81.1 421.8,80.9 422.2,80.8 422.6,80.6 423.0,80.5 423.4,80.3 423.8,80.2 424.2,80.0 424.7,79.7 425.1,79.4 425.5,79.1 425.9,78.7 426.3,78.3 426.7,78.0 427.1,77.6 427.6,77.4 428.0,77.3 428.4,77.4 428.8,77.5 429.2,77.7 429.6,78.0 430.1,78.4 430.5,78.7 430.9,79.1 431.3,79.4 431.7,79.7 432.1,80.0 432.5,80.3 433.0,80.9 433.4,82.1 433.8,84.1 434.2,87.4 434.6,92.2 435.0,97.4 435.4,102.1 435.9,107.2 436.3,114.2 436.7,122.7 437.1,131.8 437.5,140.7 437.9,148.5 438.3,155.2 438.8,161.9 439.2,168.6 439.6,175.2 440.0,181.1 440.4,186.0 440.8,189.8 441.2,192.7 441.7,194.1 442.1,193.6 442.5,191.4 442.9,188.0 443.3,184.4 443.7,181.1 444.1,177.6 444.6,174.2 445.0,170.9 445.4,167.7 445.8,164.9 446.2,162.3 446.6,160.1 447.1,158.0 447.5,156.0 447.9,154.2 448.3,152.6 448.7,151.3 449.1,150.3 449.5,149.5 450.0,149.1 450.4,149.0 450.8,149.2 451.2,149.6 451.6,150.3 452.0,151.3 452.4,152.5 452.9,153.9 453.3,155.4 453.7,157.1 454.1,158.8 454.5,160.4 454.9,161.9 455.3,163.1 455.8,163.9 456.2,164.3 456.6,164.1 457.0,163.4 457.4,162.3 457.8,160.8 458.2,159.1 458.7,157.2 459.1,155.2 459.5,153.2 459.9,151.3 460.3,149.4 460.7,147.7 461.2,146.2 461.6,144.8 462.0,143.7 462.4,142.9 462.8,142.3 463.2,142.1 463.6,142.3 464.1,142.8 464.5,143.5 464.9,144.6 465.3,145.9 465.7,147.4 466.1,149.1 466.5,150.9 467.0,152.9 467.4,154.9 467.8,157.0 468.2,159.0 468.6,161.0 469.0,162.8 469.4,164.5 469.9,165.9 470.3,167.0 470.7,167.8 471.1,168.2 471.5,168.1 471.9,167.6 472.3,166.7 472.8,165.5 473.2,164.1 473.6,162.4 474.0,160.6 474.4,158.8 474.8,156.9 475.2,155.0 475.7,153.3 476.1,151.6 476.5,150.0 476.9,148.6 477.3,147.4 477.7,146.4 478.2,145.6 478.6,145.1 479.0,144.8 479.4,144.8 479.8,145.1 480.2,145.7 480.6,146.5 481.1,147.6 481.5,148.8 481.9,150.1 482.3,151.6 482.7,153.2 483.1,154.8 483.5,156.4 484.0,158.0 484.4,159.5 484.8,160.9 485.2,162.3 485.6,163.4 486.0,164.3 486.4,165.0 486.9,165.4 487.3,165.4 487.7,165.1 488.1,164.5 488.5,163.6 488.9,162.4 489.3,161.1 489.8,159.6 490.2,158.0 490.6,156.4 491.0,154.8 491.4,153.3 491.8,151.8 492.2,150.4 492.7,149.2 493.1,148.2 493.5,147.4 493.9,146.8 494.3,146.5 494.7,146.5 495.2,146.9 495.6,147.5 496.0,148.3 496.4,149.3 496.8,150.5 497.2,151.8 497.6,153.1 498.1,154.5 498.5,155.9 498.9,157.3 499.3,158.6 499.7,159.7 500.1,160.7 500.5,161.6 501.0,162.2 501.4,162.5 501.8,162.6 502.2,162.3 502.6,161.9 503.0,161.2 503.4,160.4 503.9,159.5 504.3,158.5 504.7,157.6 505.1,156.6 505.5,155.8 505.9,155.0 506.3,154.4 506.8,153.8 507.2,153.4 507.6,153.1 508.0,152.9 508.4,152.9 508.8,153.0 509.3,153.3 509.7,153.7 510.1,154.2 510.5,154.8 510.9,155.4 511.3,156.2 511.7,156.9 512.2,157.7 512.6,158.6 513.0,159.4 513.4,160.2 513.8,161.0 514.2,161.7 514.6,162.3 515.1,162.8 515.5,163.2 515.9,163.5 516.3,163.6 516.7,163.5 517.1,163.2 517.5,162.9 518.0,162.3 518.4,161.7 518.8,161.1 519.2,160.4 519.6,159.7 520.0,159.1 520.4,158.5 520.9,158.0 521.3,157.6 521.7,157.1 522.1,156.8 522.5,156.5 522.9,156.2 523.3,156.0 523.8,155.8 524.2,155.6 524.6,155.5 525.0,155.4" stroke="#A2142F" stroke-width="0.62"/>
<polyline points="309.8,147.4 310.2,146.1 310.6,145.0 311.0,144.0 311.5,143.3 311.9,143.0 312.3,142.9 312.7,143.2 313.1,143.7 313.5,144.4 313.9,145.3 314.4,146.1 314.8,147.0 315.2,147.7 315.6,148.3 316.0,148.8 316.4,149.2 316.8,149.4 317.3,149.6 317.7,149.8 318.1,150.0 318.5,150.3 318.9,150.7 319.3,151.3 319.8,152.1 320.2,153.0 320.6,154.0 321.0,155.1 321.4,156.2 321.8,157.0 322.2,157.5 322.7,157.6 323.1,157.2 323.5,156.3 323.9,155.1 324.3,153.7 324.7,152.4 325.1,151.4 325.6,150.8 326.0,150.8 326.4,151.4 326.8,152.4 327.2,153.8 327.6,155.3 328.0,156.7 328.5,158.0 328.9,158.9 329.3,159.6 329.7,159.9 330.1,159.9 330.5,159.8 330.9,159.5 331.4,159.1 331.8,158.7 332.2,158.1 332.6,157.6 333.0,156.9 333.4,156.3 333.9,155.7 334.3,155.2 334.7,154.9 335.1,154.7 335.5,154.9 335.9,155.3 336.3,155.7 336.8,156.2 337.2,156.6 337.6,156.7 338.0,156.4 338.4,155.7 338.8,154.7 339.2,153.5 339.7,152.3 340.1,151.3 340.5,150.7 340.9,150.6 341.3,151.1 341.7,152.1 342.1,153.3 342.6,154.7 343.0,156.1 343.4,157.2 343.8,157.9 344.2,158.3 344.6,158.3 345.0,158.0 345.5,157.7 345.9,157.4 346.3,157.2 346.7,157.5 347.1,157.9 347.5,158.1 347.9,156.7 348.4,153.1 348.8,148.0 349.2,140.6 349.6,130.9 350.0,119.6 350.4,107.9 350.9,96.9 351.3,87.0 351.7,77.4 352.1,67.9 352.5,59.2 352.9,52.4 353.3,47.5 353.8,43.6 354.2,40.4 354.6,38.4 355.0,38.2 355.4,39.6 355.8,42.3 356.2,45.7 356.7,49.6 357.1,54.6 357.5,61.1 357.9,68.7 358.3,76.4 358.7,83.6 359.1,89.5 359.6,94.7 360.0,99.5 360.4,104.2 360.8,108.5 361.2,112.2 361.6,115.4 362.0,117.8 362.5,119.7 362.9,121.2 363.3,122.0 363.7,121.6 364.1,119.9 364.5,117.3 364.9,114.2 365.4,109.9 365.8,103.9 366.2,97.1 366.6,90.5 367.0,84.9 367.4,80.5 367.9,76.5 368.3,72.8 368.7,69.6 369.1,67.4 369.5,66.3 369.9,66.1 370.3,66.3 370.8,67.2 371.2,69.0 371.6,71.7 372.0,74.8 372.4,78.0 372.8,81.9 373.2,86.5 373.7,90.6 374.1,93.9 374.5,96.7 374.9,99.1 375.3,101.4 375.7,103.6 376.1,105.5 376.6,107.1 377.0,108.6 377.4,110.0 377.8,111.3 378.2,112.4 378.6,113.3 379.0,113.8 379.5,113.9 379.9,113.8 380.3,113.4 380.7,112.9 381.1,112.4 381.5,111.7 382.0,110.8 382.4,109.7 382.8,108.5 383.2,107.5 383.6,106.5 384.0,105.8 384.4,105.2 384.9,104.5 385.3,103.7 385.7,103.0 386.1,102.5 386.5,102.3 386.9,102.5 387.3,103.1 387.8,104.1 388.2,105.2 388.6,106.4 389.0,107.5 389.4,108.5 389.8,109.5 390.2,110.4 390.7,111.1 391.1,111.7 391.5,112.2 391.9,112.5 392.3,112.6 392.7,112.5 393.1,112.2 393.6,111.7 394.0,111.3 394.4,110.8 394.8,110.4 395.2,110.0 395.6,109.7 396.0,109.5 396.5,109.3 396.9,109.0 397.3,108.6 397.7,108.2 398.1,107.6 398.5,107.0 399.0,106.4 399.4,105.9 399.8,105.5 400.2,105.3 400.6,105.2 401.0,105.5 401.4,105.9 401.9,106.4 402.3,106.9 402.7,107.4 403.1,107.8 403.5,108.0 403.9,108.0 404.3,107.7 404.8,107.4 405.2,107.1 405.6,106.7 406.0,106.4 406.4,106.1 406.8,105.9 407.2,105.6 407.7,105.4 408.1,105.2 408.5,104.9 408.9,104.6 409.3,104.3 409.7,103.9 410.1,103.6 410.6,103.3 411.0,103.0 411.4,102.8 411.8,102.6 412.2,102.5 412.6,102.5 413.1,102.5 413.5,102.6 413.9,102.8 414.3,103.0 414.7,103.3 415.1,103.7 415.5,104.0 416.0,104.4 416.4,104.8 416.8,105.2 417.2,105.6 417.6,105.9 418.0,106.3 418.4,106.7 418.9,107.1 419.3,107.5 419.7,107.9 420.1,108.4 420.5,109.0 420.9,109.5 421.3,110.0 421.8,110.4 422.2,110.8 422.6,111.0 423.0,111.0 423.4,111.0 423.8,110.8 424.2,110.7 424.7,110.5 425.1,110.5 425.5,110.5 425.9,110.6 426.3,110.8 426.7,111.1 427.1,111.4 427.6,111.8 428.0,112.3 428.4,112.8 428.8,113.4 429.2,113.9 429.6,114.4 430.1,114.8 430.5,115.1 430.9,115.3 431.3,115.5 431.7,115.6 432.1,115.7 432.5,115.6 433.0,115.4 433.4,114.7 433.8,113.1 434.2,110.5 434.6,107.8 435.0,106.2 435.4,106.2 435.9,108.5 436.3,113.6 436.7,121.1 437.1,129.8 437.5,138.7 437.9,146.8 438.3,153.7 438.8,160.5 439.2,167.5 439.6,174.3 440.0,180.6 440.4,186.0 440.8,190.1 441.2,193.2 441.7,195.0 442.1,194.8 442.5,192.7 442.9,189.4 443.3,185.7 443.7,182.2 444.1,178.8 444.6,175.3 445.0,171.9 445.4,168.7 445.8,165.8 446.2,163.2 446.6,160.9 447.1,158.8 447.5,156.7 447.9,154.9 448.3,153.2 448.7,151.8 449.1,150.7 449.5,150.0 450.0,149.5 450.4,149.3 450.8,149.5 451.2,149.9 451.6,150.7 452.0,151.7 452.4,152.9 452.9,154.4 453.3,156.0 453.7,157.8 454.1,159.7 454.5,161.5 454.9,163.1 455.3,164.5 455.8,165.6 456.2,166.1 456.6,166.2 457.0,165.7 457.4,164.8 457.8,163.5 458.2,162.0 458.7,160.2 459.1,158.3 459.5,156.4 459.9,154.5 460.3,152.8 460.7,151.1 461.2,149.7 461.6,148.4 462.0,147.4 462.4,146.7 462.8,146.2 463.2,146.1 463.6,146.4 464.1,147.0 464.5,147.9 464.9,149.2 465.3,150.6 465.7,152.3 466.1,154.2 466.5,156.2 467.0,158.3 467.4,160.5 467.8,162.8 468.2,165.0 468.6,167.2 469.0,169.2 469.4,171.0 469.9,172.6 470.3,173.9 470.7,174.8 471.1,175.3 471.5,175.3 471.9,174.9 472.3,174.1 472.8,172.9 473.2,171.4 473.6,169.7 474.0,167.8 474.4,165.8 474.8,163.7 475.2,161.7 475.7,159.7 476.1,157.8 476.5,156.1 476.9,154.5 477.3,153.0 477.7,151.7 478.2,150.7 478.6,149.9 479.0,149.3 479.4,149.1 479.8,149.2 480.2,149.5 480.6,150.1 481.1,150.9 481.5,151.9 481.9,153.1 482.3,154.4 482.7,155.8 483.1,157.2 483.5,158.7 484.0,160.2 484.4,161.7 484.8,163.0 485.2,164.3 485.6,165.4 486.0,166.3 486.4,167.0 486.9,167.4 487.3,167.5 487.7,167.3 488.1,166.7 488.5,165.9 488.9,164.8 489.3,163.5 489.8,162.1 490.2,160.6 490.6,159.1 491.0,157.6 491.4,156.1 491.8,154.7 492.2,153.4 492.7,152.3 493.1,151.4 493.5,150.7 493.9,150.2 494.3,150.0 494.7,150.1 495.2,150.6 495.6,151.3 496.0,152.2 496.4,153.3 496.8,154.6 497.2,156.0 497.6,157.4 498.1,158.9 498.5,160.3 498.9,161.7 499.3,163.0 499.7,164.1 500.1,165.1 500.5,165.9 501.0,166.4 501.4,166.7 501.8,166.6 502.2,166.2 502.6,165.5 503.0,164.7 503.4,163.6 503.9,162.4 504.3,161.2 504.7,159.9 505.1,158.6 505.5,157.5 505.9,156.4 506.3,155.4 506.8,154.6 507.2,153.9 507.6,153.3 508.0,152.9 508.4,152.6 508.8,152.5 509.3,152.6 509.7,152.8 510.1,153.1 510.5,153.6 510.9,154.2 511.3,154.9 511.7,155.6 512.2,156.4 512.6,157.2 513.0,158.0 513.4,158.9 513.8,159.7 514.2,160.4 514.6,161.1 515.1,161.7 515.5,162.2 515.9,162.5 516.3,162.7 516.7,162.7 517.1,162.5 517.5,162.2 518.0,161.7 518.4,161.1 518.8,160.5 519.2,159.8 519.6,159.2 520.0,158.5 520.4,157.9 520.9,157.4 521.3,156.9 521.7,156.5 522.1,156.1 522.5,155.8 522.9,155.6 523.3,155.3 523.8,155.1 524.2,155.0 524.6,154.9 525.0,154.8" stroke="#0072BD" stroke-width="0.62"/>
<polyline points="309.8,148.6 310.2,149.0 310.6,149.6 311.0,150.3 311.5,151.1 311.9,152.0 312.3,152.9 312.7,153.7 313.1,154.5 313.5,155.3 313.9,156.0 314.4,156.7 314.8,157.5 315.2,158.2 315.6,159.0 316.0,159.7 316.4,160.3 316.8,160.8 317.3,161.2 317.7,161.3 318.1,161.0 318.5,160.4 318.9,159.5 319.3,158.4 319.8,157.1 320.2,156.0 320.6,155.0 321.0,154.5 321.4,154.3 321.8,154.6 322.2,155.3 322.7,156.1 323.1,157.0 323.5,157.8 323.9,158.4 324.3,158.9 324.7,159.1 325.1,159.3 325.6,159.4 326.0,159.5 326.4,159.6 326.8,159.9 327.2,160.2 327.6,160.4 328.0,160.6 328.5,160.5 328.9,160.3 329.3,159.8 329.7,159.1 330.1,158.4 330.5,157.8 330.9,157.3 331.4,157.0 331.8,156.8 332.2,156.7 332.6,156.6 333.0,156.5 333.4,156.3 333.9,156.1 334.3,156.1 334.7,156.1 335.1,156.3 335.5,156.6 335.9,157.0 336.3,157.2 336.8,157.3 337.2,157.2 337.6,156.9 338.0,156.5 338.4,155.8 338.8,155.1 339.2,154.2 339.7,153.4 340.1,152.5 340.5,151.6 340.9,150.9 341.3,150.3 341.7,150.0 342.1,149.9 342.6,150.0 343.0,150.4 343.4,151.2 343.8,152.1 344.2,153.2 344.6,154.4 345.0,155.6 345.5,156.5 345.9,157.2 346.3,158.0 346.7,158.4 347.1,158.1 347.5,155.7 347.9,151.3 348.4,145.7 348.8,137.1 349.2,126.5 349.6,114.9 350.0,103.2 350.4,92.5 350.9,83.1 351.3,73.4 351.7,64.0 352.1,55.9 352.5,49.9 352.9,45.7 353.3,42.0 353.8,39.1 354.2,37.8 354.6,38.2 355.0,40.3 355.4,43.4 355.8,47.1 356.2,51.1 356.7,56.8 357.1,63.9 357.5,71.7 357.9,79.4 358.3,86.3 358.7,91.7 359.1,96.8 359.6,101.7 360.0,106.3 360.4,110.6 360.8,114.4 361.2,117.5 361.6,119.9 362.0,121.9 362.5,123.4 362.9,123.9 363.3,123.1 363.7,121.0 364.1,118.1 364.5,114.7 364.9,109.6 365.4,103.0 365.8,96.0 366.2,89.5 366.6,84.5 367.0,80.3 367.4,76.1 367.9,72.2 368.3,68.8 368.7,66.2 369.1,64.6 369.5,63.6 369.9,62.9 370.3,62.9 370.8,64.2 371.2,66.3 371.6,68.6 372.0,71.3 372.4,74.9 372.8,78.8 373.2,82.9 373.7,85.7 374.1,88.2 374.5,90.6 374.9,92.8 375.3,94.8 375.7,96.6 376.1,98.1 376.6,99.4 377.0,100.6 377.4,101.6 377.8,102.3 378.2,102.5 378.6,102.3 379.0,101.7 379.5,100.7 379.9,99.6 380.3,98.3 380.7,97.1 381.1,95.8 381.5,94.3 382.0,92.7 382.4,91.2 382.8,89.7 383.2,88.4 383.6,87.2 384.0,86.1 384.4,84.9 384.9,83.7 385.3,82.6 385.7,81.8 386.1,81.3 386.5,81.2 386.9,81.6 387.3,82.2 387.8,83.0 388.2,83.9 388.6,84.8 389.0,85.7 389.4,86.6 389.8,87.5 390.2,88.4 390.7,89.1 391.1,89.7 391.5,90.1 391.9,90.4 392.3,90.5 392.7,90.5 393.1,90.4 393.6,90.3 394.0,90.2 394.4,90.2 394.8,90.1 395.2,90.1 395.6,90.0 396.0,89.9 396.5,89.7 396.9,89.4 397.3,89.1 397.7,88.8 398.1,88.5 398.5,88.3 399.0,88.1 399.4,88.1 399.8,88.2 400.2,88.4 400.6,88.8 401.0,89.3 401.4,89.8 401.9,90.3 402.3,90.9 402.7,91.3 403.1,91.7 403.5,92.1 403.9,92.5 404.3,92.8 404.8,93.3 405.2,93.8 405.6,94.4 406.0,94.9 406.4,95.4 406.8,95.9 407.2,96.3 407.7,96.5 408.1,96.7 408.5,96.8 408.9,96.7 409.3,96.7 409.7,96.6 410.1,96.5 410.6,96.4 411.0,96.3 411.4,96.2 411.8,96.3 412.2,96.4 412.6,96.5 413.1,96.7 413.5,97.0 413.9,97.3 414.3,97.6 414.7,97.9 415.1,98.2 415.5,98.4 416.0,98.5 416.4,98.5 416.8,98.5 417.2,98.3 417.6,98.1 418.0,97.8 418.4,97.5 418.9,97.2 419.3,96.7 419.7,96.2 420.1,95.7 420.5,95.2 420.9,94.6 421.3,94.0 421.8,93.5 422.2,93.0 422.6,92.6 423.0,92.2 423.4,91.9 423.8,91.6 424.2,91.2 424.7,90.8 425.1,90.4 425.5,90.0 425.9,89.5 426.3,88.9 426.7,88.4 427.1,87.8 427.6,87.4 428.0,87.0 428.4,86.7 428.8,86.6 429.2,86.6 429.6,86.7 430.1,86.8 430.5,86.9 430.9,86.9 431.3,86.8 431.7,86.6 432.1,86.5 432.5,86.5 433.0,86.7 433.4,87.4 433.8,89.0 434.2,92.3 434.6,96.8 435.0,101.7 435.4,107.4 435.9,115.0 436.3,123.8 436.7,133.0 437.1,141.8 437.5,149.2 437.9,155.4 438.3,161.6 438.8,167.7 439.2,173.4 439.6,178.4 440.0,182.5 440.4,185.7 440.8,188.3 441.2,189.8 441.7,189.5 442.1,187.7 442.5,184.9 442.9,181.7 443.3,178.6 443.7,175.3 444.1,171.9 444.6,168.6 445.0,165.6 445.4,162.8 445.8,160.5 446.2,158.5 446.6,156.6 447.1,154.8 447.5,153.1 447.9,151.8 448.3,150.7 448.7,149.8 449.1,149.3 449.5,149.1 450.0,149.2 450.4,149.5 450.8,150.2 451.2,151.1 451.6,152.2 452.0,153.5 452.4,155.1 452.9,156.8 453.3,158.6 453.7,160.4 454.1,162.2 454.5,163.7 454.9,165.0 455.3,165.9 455.8,166.3 456.2,166.1 456.6,165.5 457.0,164.4 457.4,163.0 457.8,161.4 458.2,159.5 458.7,157.6 459.1,155.6 459.5,153.7 459.9,151.9 460.3,150.2 460.7,148.7 461.2,147.4 461.6,146.3 462.0,145.5 462.4,144.9 462.8,144.7 463.2,144.9 463.6,145.4 464.1,146.1 464.5,147.1 464.9,148.4 465.3,149.9 465.7,151.5 466.1,153.3 466.5,155.1 467.0,157.1 467.4,159.1 467.8,161.0 468.2,162.9 468.6,164.6 469.0,166.2 469.4,167.5 469.9,168.5 470.3,169.2 470.7,169.4 471.1,169.3 471.5,168.7 471.9,167.7 472.3,166.5 472.8,165.0 473.2,163.3 473.6,161.5 474.0,159.7 474.4,157.8 474.8,156.0 475.2,154.3 475.7,152.7 476.1,151.2 476.5,149.9 476.9,148.7 477.3,147.8 477.7,147.1 478.2,146.6 478.6,146.4 479.0,146.5 479.4,146.9 479.8,147.6 480.2,148.4 480.6,149.5 481.1,150.7 481.5,152.1 481.9,153.5 482.3,155.0 482.7,156.6 483.1,158.1 483.5,159.7 484.0,161.1 484.4,162.4 484.8,163.6 485.2,164.6 485.6,165.3 486.0,165.8 486.4,166.0 486.9,165.9 487.3,165.4 487.7,164.6 488.1,163.5 488.5,162.2 488.9,160.7 489.3,159.1 489.8,157.4 490.2,155.6 490.6,153.9 491.0,152.2 491.4,150.6 491.8,149.1 492.2,147.9 492.7,146.7 493.1,145.9 493.5,145.2 493.9,144.9 494.3,144.9 494.7,145.2 495.2,145.7 495.6,146.5 496.0,147.5 496.4,148.7 496.8,149.9 497.2,151.2 497.6,152.6 498.1,153.9 498.5,155.2 498.9,156.5 499.3,157.6 499.7,158.5 500.1,159.2 500.5,159.8 501.0,160.0 501.4,160.0 501.8,159.6 502.2,159.0 502.6,158.3 503.0,157.4 503.4,156.3 503.9,155.3 504.3,154.2 504.7,153.2 505.1,152.2 505.5,151.3 505.9,150.6 506.3,149.9 506.8,149.4 507.2,148.9 507.6,148.7 508.0,148.5 508.4,148.6 508.8,148.7 509.3,149.1 509.7,149.5 510.1,150.0 510.5,150.6 510.9,151.3 511.3,152.1 511.7,152.9 512.2,153.7 512.6,154.5 513.0,155.3 513.4,156.1 513.8,156.8 514.2,157.4 514.6,158.0 515.1,158.4 515.5,158.7 515.9,158.8 516.3,158.8 516.7,158.6 517.1,158.2 517.5,157.7 518.0,157.1 518.4,156.5 518.8,155.8 519.2,155.1 519.6,154.5 520.0,153.8 520.4,153.3 520.9,152.8 521.3,152.3 521.7,151.9 522.1,151.4 522.5,151.1 522.9,150.7 523.3,150.4 523.8,150.1 524.2,149.8 524.6,149.5 525.0,149.4" stroke="#D95319" stroke-width="0.62"/>
<polyline points="309.8,159.6 310.2,159.1 310.6,158.7 311.0,158.4 311.5,158.3 311.9,158.3 312.3,158.6 312.7,159.1 313.1,159.9 313.5,160.7 313.9,161.6 314.4,162.5 314.8,163.2 315.2,163.7 315.6,163.8 316.0,163.6 316.4,163.2 316.8,162.5 317.3,161.7 317.7,160.9 318.1,160.2 318.5,159.6 318.9,159.2 319.3,158.9 319.8,158.7 320.2,158.5 320.6,158.2 321.0,157.8 321.4,157.2 321.8,156.4 322.2,155.6 322.7,154.7 323.1,153.8 323.5,152.9 323.9,152.1 324.3,151.4 324.7,150.9 325.1,150.6 325.6,150.4 326.0,150.4 326.4,150.6 326.8,151.0 327.2,151.4 327.6,151.8 328.0,152.3 328.5,152.8 328.9,153.2 329.3,153.7 329.7,154.0 330.1,154.2 330.5,154.2 330.9,153.9 331.4,153.4 331.8,152.6 332.2,151.8 332.6,150.9 333.0,150.3 333.4,149.9 333.9,150.0 334.3,150.5 334.7,151.3 335.1,152.5 335.5,153.8 335.9,155.1 336.3,156.3 336.8,157.2 337.2,157.7 337.6,157.8 338.0,157.6 338.4,157.3 338.8,156.9 339.2,156.6 339.7,156.5 340.1,156.5 340.5,156.8 340.9,157.1 341.3,157.5 341.7,157.8 342.1,158.0 342.6,158.1 343.0,158.0 343.4,157.8 343.8,157.5 344.2,157.0 344.6,156.4 345.0,155.8 345.5,155.2 345.9,154.7 346.3,154.5 346.7,155.0 347.1,156.2 347.5,157.4 347.9,157.6 348.4,155.2 348.8,150.9 349.2,145.1 349.6,136.5 350.0,126.0 350.4,114.5 350.9,103.1 351.3,92.8 351.7,83.4 352.1,73.9 352.5,64.8 352.9,57.0 353.3,51.3 353.8,47.2 354.2,43.6 354.6,41.0 355.0,39.8 355.4,40.4 355.8,42.5 356.2,45.6 356.7,49.3 357.1,53.4 357.5,59.1 357.9,66.2 358.3,73.9 358.7,81.4 359.1,88.1 359.6,93.4 360.0,98.4 360.4,103.2 360.8,107.7 361.2,111.8 361.6,115.4 362.0,118.3 362.5,120.5 362.9,122.2 363.3,123.5 363.7,123.8 364.1,122.8 364.5,120.6 364.9,117.8 365.4,114.4 365.8,109.3 366.2,103.0 366.6,96.3 367.0,90.3 367.4,85.6 367.9,81.7 368.3,78.0 368.7,74.7 369.1,71.9 369.5,70.1 369.9,69.3 370.3,69.2 370.8,69.4 371.2,70.4 371.6,72.5 372.0,75.3 372.4,78.1 372.8,81.3 373.2,84.2 373.7,88.0 374.1,91.3 374.5,93.7 374.9,95.7 375.3,97.7 375.7,99.6 376.1,101.3 376.6,103.0 377.0,104.4 377.4,105.7 377.8,107.0 378.2,107.9 378.6,108.5 379.0,108.6 379.5,108.2 379.9,107.4 380.3,106.3 380.7,105.2 381.1,104.0 381.5,102.8 382.0,101.6 382.4,100.2 382.8,98.9 383.2,97.7 383.6,96.6 384.0,95.8 384.4,95.2 384.9,94.7 385.3,94.2 385.7,93.8 386.1,93.5 386.5,93.5 386.9,93.7 387.3,94.2 387.8,94.9 388.2,95.7 388.6,96.4 389.0,97.1 389.4,97.6 389.8,98.2 390.2,98.8 390.7,99.4 391.1,100.0 391.5,100.5 391.9,100.9 392.3,101.2 392.7,101.3 393.1,101.1 393.6,100.7 394.0,100.1 394.4,99.5 394.8,98.9 395.2,98.3 395.6,97.7 396.0,97.2 396.5,96.7 396.9,96.3 397.3,95.8 397.7,95.3 398.1,94.8 398.5,94.3 399.0,94.0 399.4,93.8 399.8,93.8 400.2,94.0 400.6,94.5 401.0,95.2 401.4,96.0 401.9,96.9 402.3,97.8 402.7,98.7 403.1,99.3 403.5,99.8 403.9,100.2 404.3,100.3 404.8,100.4 405.2,100.6 405.6,100.7 406.0,101.0 406.4,101.2 406.8,101.5 407.2,101.7 407.7,102.0 408.1,102.1 408.5,102.2 408.9,102.3 409.3,102.3 409.7,102.3 410.1,102.3 410.6,102.3 411.0,102.2 411.4,102.2 411.8,102.1 412.2,102.0 412.6,101.9 413.1,101.7 413.5,101.5 413.9,101.4 414.3,101.3 414.7,101.3 415.1,101.5 415.5,101.7 416.0,102.1 416.4,102.5 416.8,103.0 417.2,103.5 417.6,103.9 418.0,104.4 418.4,104.7 418.9,104.9 419.3,105.0 419.7,105.0 420.1,104.9 420.5,104.7 420.9,104.4 421.3,104.1 421.8,103.9 422.2,103.7 422.6,103.5 423.0,103.4 423.4,103.4 423.8,103.4 424.2,103.4 424.7,103.4 425.1,103.4 425.5,103.4 425.9,103.4 426.3,103.4 426.7,103.5 427.1,103.6 427.6,103.8 428.0,104.0 428.4,104.2 428.8,104.5 429.2,104.8 429.6,105.0 430.1,105.3 430.5,105.6 430.9,105.8 431.3,106.0 431.7,106.2 432.1,106.3 432.5,106.3 433.0,106.1 433.4,105.7 433.8,104.9 434.2,103.7 434.6,102.5 435.0,102.3 435.4,103.4 435.9,105.6 436.3,109.8 436.7,116.6 437.1,125.0 437.5,134.2 437.9,143.0 438.3,150.7 438.8,157.7 439.2,165.1 439.6,172.6 440.0,179.8 440.4,186.2 440.8,191.3 441.2,195.0 441.7,197.3 442.1,197.7 442.5,195.9 442.9,192.4 443.3,188.1 443.7,183.8 444.1,179.7 444.6,175.6 445.0,171.3 445.4,167.2 445.8,163.4 446.2,159.9 446.6,156.9 447.1,154.2 447.5,151.7 447.9,149.3 448.3,147.3 448.7,145.6 449.1,144.2 449.5,143.3 450.0,142.8 450.4,142.7 450.8,143.1 451.2,143.8 451.6,145.0 452.0,146.4 452.4,148.2 452.9,150.3 453.3,152.6 453.7,155.1 454.1,157.8 454.5,160.3 454.9,162.8 455.3,164.9 455.8,166.6 456.2,167.8 456.6,168.3 457.0,168.1 457.4,167.2 457.8,165.8 458.2,164.0 458.7,161.9 459.1,159.5 459.5,157.1 459.9,154.7 460.3,152.3 460.7,150.0 461.2,148.0 461.6,146.1 462.0,144.5 462.4,143.1 462.8,142.1 463.2,141.5 463.6,141.3 464.1,141.6 464.5,142.2 464.9,143.2 465.3,144.5 465.7,146.0 466.1,147.9 466.5,149.9 467.0,152.0 467.4,154.3 467.8,156.7 468.2,159.1 468.6,161.4 469.0,163.6 469.4,165.6 469.9,167.4 470.3,168.8 470.7,169.8 471.1,170.4 471.5,170.4 471.9,169.9 472.3,168.9 472.8,167.5 473.2,165.7 473.6,163.7 474.0,161.5 474.4,159.1 474.8,156.8 475.2,154.5 475.7,152.3 476.1,150.2 476.5,148.4 476.9,146.7 477.3,145.3 477.7,144.1 478.2,143.3 478.6,142.8 479.0,142.6 479.4,142.8 479.8,143.4 480.2,144.3 480.6,145.6 481.1,147.2 481.5,149.0 481.9,151.0 482.3,153.2 482.7,155.4 483.1,157.7 483.5,160.1 484.0,162.3 484.4,164.5 484.8,166.6 485.2,168.5 485.6,170.1 486.0,171.5 486.4,172.5 486.9,173.1 487.3,173.3 487.7,173.0 488.1,172.3 488.5,171.1 488.9,169.5 489.3,167.6 489.8,165.5 490.2,163.2 490.6,160.8 491.0,158.3 491.4,155.9 491.8,153.5 492.2,151.3 492.7,149.3 493.1,147.4 493.5,145.8 493.9,144.6 494.3,143.6 494.7,143.1 495.2,143.0 495.6,143.3 496.0,143.9 496.4,144.8 496.8,146.0 497.2,147.3 497.6,148.8 498.1,150.4 498.5,152.0 498.9,153.6 499.3,155.1 499.7,156.6 500.1,157.9 500.5,158.9 501.0,159.8 501.4,160.3 501.8,160.5 502.2,160.3 502.6,159.7 503.0,158.9 503.4,157.9 503.9,156.8 504.3,155.5 504.7,154.2 505.1,153.0 505.5,151.8 505.9,150.7 506.3,149.8 506.8,149.0 507.2,148.4 507.6,147.9 508.0,147.6 508.4,147.5 508.8,147.6 509.3,147.9 509.7,148.3 510.1,148.9 510.5,149.7 510.9,150.5 511.3,151.5 511.7,152.5 512.2,153.6 512.6,154.7 513.0,155.8 513.4,156.9 513.8,158.0 514.2,159.0 514.6,159.9 515.1,160.6 515.5,161.3 515.9,161.7 516.3,162.0 516.7,162.0 517.1,161.8 517.5,161.4 518.0,160.7 518.4,160.0 518.8,159.1 519.2,158.2 519.6,157.2 520.0,156.3 520.4,155.4 520.9,154.5 521.3,153.8 521.7,153.1 522.1,152.4 522.5,151.8 522.9,151.2 523.3,150.7 523.8,150.2 524.2,149.8 524.6,149.4 525.0,149.0" stroke="#EDB120" stroke-width="0.62"/>
<polyline points="309.8,162.6 310.2,163.3 310.6,163.7 311.0,163.8 311.5,163.4 311.9,162.7 312.3,161.7 312.7,160.6 313.1,159.5 313.5,158.6 313.9,157.8 314.4,157.3 314.8,157.0 315.2,156.9 315.6,157.0 316.0,157.1 316.4,157.2 316.8,157.5 317.3,157.8 317.7,158.2 318.1,158.8 318.5,159.5 318.9,160.2 319.3,160.8 319.8,161.3 320.2,161.5 320.6,161.5 321.0,161.2 321.4,160.6 321.8,159.8 322.2,159.0 322.7,158.1 323.1,157.4 323.5,156.8 323.9,156.6 324.3,156.5 324.7,156.6 325.1,156.6 325.6,156.4 326.0,156.0 326.4,155.1 326.8,153.9 327.2,152.5 327.6,150.9 328.0,149.3 328.5,147.9 328.9,146.8 329.3,146.0 329.7,145.6 330.1,145.6 330.5,146.0 330.9,146.5 331.4,147.3 331.8,148.1 332.2,148.9 332.6,149.7 333.0,150.4 333.4,150.9 333.9,151.3 334.3,151.4 334.7,151.4 335.1,151.2 335.5,151.0 335.9,150.7 336.3,150.6 336.8,150.5 337.2,150.6 337.6,150.6 338.0,150.7 338.4,150.7 338.8,150.6 339.2,150.5 339.7,150.3 340.1,150.3 340.5,150.4 340.9,150.7 341.3,151.2 341.7,152.0 342.1,153.0 342.6,154.2 343.0,155.6 343.4,157.1 343.8,158.6 344.2,160.1 344.6,161.3 345.0,162.2 345.5,162.7 345.9,162.6 346.3,161.7 346.7,160.1 347.1,158.7 347.5,158.2 347.9,158.0 348.4,155.9 348.8,151.8 349.2,146.5 349.6,138.5 350.0,128.3 350.4,117.1 350.9,105.8 351.3,95.4 351.7,86.2 352.1,76.8 352.5,67.7 352.9,59.7 353.3,53.7 353.8,49.6 354.2,45.9 354.6,43.1 355.0,41.6 355.4,42.0 355.8,43.8 356.2,46.8 356.7,50.3 357.1,54.1 357.5,59.5 357.9,66.4 358.3,74.0 358.7,81.6 359.1,88.5 359.6,94.0 360.0,99.1 360.4,104.0 360.8,108.8 361.2,113.1 361.6,116.9 362.0,120.0 362.5,122.3 362.9,124.0 363.3,125.3 363.7,125.6 364.1,124.6 364.5,122.3 364.9,119.4 365.4,116.0 365.8,111.0 366.2,104.5 366.6,97.5 367.0,91.0 367.4,85.8 367.9,81.5 368.3,77.3 368.7,73.5 369.1,70.1 369.5,67.6 369.9,66.1 370.3,65.3 370.8,64.7 371.2,64.7 371.6,65.9 372.0,67.9 372.4,70.1 372.8,72.9 373.2,74.4 373.7,78.2 374.1,81.7 374.5,84.3 374.9,86.4 375.3,88.2 375.7,89.8 376.1,91.1 376.6,92.2 377.0,93.1 377.4,93.9 377.8,94.7 378.2,95.5 378.6,96.0 379.0,96.1 379.5,95.7 379.9,95.0 380.3,93.9 380.7,92.6 381.1,91.3 381.5,89.9 382.0,88.4 382.4,86.7 382.8,84.9 383.2,83.2 383.6,81.6 384.0,80.1 384.4,78.9 384.9,77.7 385.3,76.5 385.7,75.4 386.1,74.5 386.5,73.9 386.9,73.7 387.3,73.9 387.8,74.5 388.2,75.3 388.6,76.3 389.0,77.3 389.4,78.3 389.8,79.4 390.2,80.5 390.7,81.6 391.1,82.7 391.5,83.7 391.9,84.5 392.3,85.2 392.7,85.5 393.1,85.6 393.6,85.4 394.0,85.0 394.4,84.6 394.8,84.1 395.2,83.7 395.6,83.3 396.0,83.0 396.5,82.7 396.9,82.4 397.3,81.9 397.7,81.4 398.1,80.9 398.5,80.4 399.0,80.0 399.4,79.7 399.8,79.5 400.2,79.6 400.6,79.8 401.0,80.3 401.4,81.0 401.9,81.7 402.3,82.6 402.7,83.4 403.1,84.1 403.5,84.7 403.9,85.1 404.3,85.3 404.8,85.3 405.2,85.3 405.6,85.2 406.0,85.2 406.4,85.2 406.8,85.2 407.2,85.3 407.7,85.4 408.1,85.6 408.5,85.8 408.9,86.0 409.3,86.2 409.7,86.4 410.1,86.7 410.6,86.9 411.0,87.1 411.4,87.3 411.8,87.4 412.2,87.4 412.6,87.4 413.1,87.3 413.5,87.1 413.9,87.0 414.3,86.8 414.7,86.8 415.1,86.7 415.5,86.8 416.0,86.9 416.4,87.0 416.8,87.2 417.2,87.3 417.6,87.4 418.0,87.5 418.4,87.6 418.9,87.6 419.3,87.5 419.7,87.4 420.1,87.3 420.5,87.1 420.9,86.9 421.3,86.7 421.8,86.5 422.2,86.2 422.6,85.8 423.0,85.4 423.4,84.8 423.8,84.1 424.2,83.3 424.7,82.4 425.1,81.5 425.5,80.7 425.9,79.9 426.3,79.3 426.7,78.8 427.1,78.4 427.6,78.3 428.0,78.2 428.4,78.3 428.8,78.6 429.2,78.9 429.6,79.3 430.1,79.8 430.5,80.4 430.9,80.9 431.3,81.5 431.7,82.1 432.1,82.7 432.5,83.3 433.0,84.0 433.4,85.1 433.8,86.7 434.2,89.1 434.6,92.3 435.0,96.1 435.4,99.9 435.9,103.6 436.3,108.1 436.7,115.0 437.1,123.5 437.5,132.8 437.9,141.9 438.3,149.9 438.8,157.0 439.2,164.4 439.6,172.0 440.0,179.4 440.4,186.0 440.8,191.3 441.2,195.0 441.7,197.5 442.1,198.2 442.5,196.9 442.9,193.9 443.3,190.1 443.7,186.3 444.1,182.9 444.6,179.5 445.0,176.1 445.4,172.8 445.8,169.7 446.2,166.8 446.6,164.4 447.1,162.2 447.5,160.0 447.9,158.0 448.3,156.2 448.7,154.7 449.1,153.4 449.5,152.5 450.0,151.9 450.4,151.6 450.8,151.7 451.2,152.0 451.6,152.7 452.0,153.7 452.4,154.9 452.9,156.4 453.3,158.0 453.7,159.9 454.1,161.9 454.5,163.8 454.9,165.7 455.3,167.4 455.8,168.7 456.2,169.6 456.6,170.0 457.0,169.8 457.4,169.1 457.8,167.9 458.2,166.4 458.7,164.6 459.1,162.6 459.5,160.5 459.9,158.4 460.3,156.3 460.7,154.4 461.2,152.6 461.6,151.0 462.0,149.6 462.4,148.4 462.8,147.6 463.2,147.0 463.6,146.8 464.1,147.0 464.5,147.5 464.9,148.3 465.3,149.4 465.7,150.7 466.1,152.3 466.5,154.0 467.0,155.9 467.4,157.9 467.8,159.9 468.2,162.0 468.6,164.0 469.0,165.9 469.4,167.7 469.9,169.3 470.3,170.6 470.7,171.6 471.1,172.2 471.5,172.3 471.9,172.0 472.3,171.3 472.8,170.1 473.2,168.7 473.6,167.0 474.0,165.1 474.4,163.0 474.8,161.0 475.2,158.9 475.7,156.9 476.1,155.0 476.5,153.2 476.9,151.6 477.3,150.2 477.7,148.9 478.2,148.0 478.6,147.2 479.0,146.8 479.4,146.7 479.8,146.9 480.2,147.4 480.6,148.2 481.1,149.2 481.5,150.5 481.9,152.0 482.3,153.6 482.7,155.3 483.1,157.1 483.5,158.9 484.0,160.8 484.4,162.6 484.8,164.3 485.2,165.9 485.6,167.3 486.0,168.5 486.4,169.5 486.9,170.2 487.3,170.5 487.7,170.5 488.1,170.1 488.5,169.4 488.9,168.3 489.3,167.0 489.8,165.5 490.2,163.8 490.6,162.1 491.0,160.3 491.4,158.5 491.8,156.7 492.2,155.1 492.7,153.6 493.1,152.2 493.5,151.1 493.9,150.2 494.3,149.6 494.7,149.3 495.2,149.3 495.6,149.6 496.0,150.3 496.4,151.2 496.8,152.2 497.2,153.5 497.6,154.8 498.1,156.3 498.5,157.7 498.9,159.2 499.3,160.6 499.7,161.9 500.1,163.1 500.5,164.1 501.0,164.9 501.4,165.5 501.8,165.8 502.2,165.7 502.6,165.4 503.0,164.8 503.4,164.0 503.9,163.0 504.3,162.0 504.7,160.9 505.1,159.8 505.5,158.8 505.9,157.9 506.3,157.0 506.8,156.3 507.2,155.6 507.6,155.1 508.0,154.8 508.4,154.6 508.8,154.5 509.3,154.6 509.7,154.8 510.1,155.2 510.5,155.6 510.9,156.2 511.3,156.9 511.7,157.6 512.2,158.4 512.6,159.1 513.0,159.9 513.4,160.7 513.8,161.5 514.2,162.2 514.6,162.8 515.1,163.4 515.5,163.8 515.9,164.2 516.3,164.3 516.7,164.3 517.1,164.1 517.5,163.7 518.0,163.1 518.4,162.5 518.8,161.7 519.2,160.9 519.6,160.1 520.0,159.3 520.4,158.5 520.9,157.8 521.3,157.2 521.7,156.6 522.1,156.1 522.5,155.7 522.9,155.3 523.3,154.9 523.8,154.6 524.2,154.4 524.6,154.1 525.0,153.9" stroke="#7E2F8E" stroke-width="0.62"/>
<polyline points="309.8,156.3 310.2,156.8 310.6,157.3 311.0,157.7 311.5,157.9 311.9,157.9 312.3,157.8 312.7,157.4 313.1,156.8 313.5,156.2 313.9,155.6 314.4,155.0 314.8,154.6 315.2,154.2 315.6,154.0 316.0,154.0 316.4,154.0 316.8,154.1 317.3,154.2 317.7,154.3 318.1,154.4 318.5,154.6 318.9,154.6 319.3,154.6 319.8,154.4 320.2,154.1 320.6,153.7 321.0,153.1 321.4,152.5 321.8,151.9 322.2,151.4 322.7,151.0 323.1,150.8 323.5,150.7 323.9,150.7 324.3,150.7 324.7,150.8 325.1,150.8 325.6,150.9 326.0,150.8 326.4,150.7 326.8,150.7 327.2,150.6 327.6,150.6 328.0,150.7 328.5,150.9 328.9,151.1 329.3,151.4 329.7,151.6 330.1,151.7 330.5,151.6 330.9,151.4 331.4,151.1 331.8,150.8 332.2,150.6 332.6,150.7 333.0,151.1 333.4,151.7 333.9,152.6 334.3,153.6 334.7,154.7 335.1,155.6 335.5,156.5 335.9,157.2 336.3,157.8 336.8,158.3 337.2,158.9 337.6,159.5 338.0,160.1 338.4,160.7 338.8,161.1 339.2,161.4 339.7,161.5 340.1,161.3 340.5,161.0 340.9,160.6 341.3,160.2 341.7,159.9 342.1,159.6 342.6,159.4 343.0,159.0 343.4,158.7 343.8,158.2 344.2,157.6 344.6,157.1 345.0,156.6 345.5,156.2 345.9,156.0 346.3,156.2 346.7,156.8 347.1,157.5 347.5,157.1 347.9,154.2 348.4,149.4 348.8,142.8 349.2,133.4 349.6,122.3 350.0,110.5 350.4,99.0 350.9,88.6 351.3,78.9 351.7,69.1 352.1,60.0 352.5,52.5 352.9,47.0 353.3,42.9 353.8,39.4 354.2,37.0 354.6,36.2 355.0,37.2 355.4,39.6 355.8,43.0 356.2,46.8 356.7,51.4 357.1,57.7 357.5,65.1 357.9,73.0 358.3,80.5 358.7,87.0 359.1,92.3 359.6,97.2 360.0,102.0 360.4,106.4 360.8,110.4 361.2,113.8 361.6,116.5 362.0,118.6 362.5,120.3 362.9,121.4 363.3,121.5 363.7,120.3 364.1,118.0 364.5,115.1 364.9,111.3 365.4,105.8 365.8,99.1 366.2,92.3 366.6,86.3 367.0,81.5 367.4,77.3 367.9,73.3 368.3,69.8 368.7,67.0 369.1,65.2 369.5,64.4 369.9,64.2 370.3,64.3 370.8,65.4 371.2,67.5 371.6,70.1 372.0,72.9 372.4,76.2 372.8,80.0 373.2,85.2 373.7,88.3 374.1,90.6 374.5,92.5 374.9,94.3 375.3,95.9 375.7,97.4 376.1,98.7 376.6,99.8 377.0,100.9 377.4,101.9 377.8,102.6 378.2,103.1 378.6,103.2 379.0,102.9 379.5,102.3 379.9,101.5 380.3,100.6 380.7,99.6 381.1,98.6 381.5,97.4 382.0,95.9 382.4,94.4 382.8,92.8 383.2,91.3 383.6,90.1 384.0,89.2 384.4,88.5 384.9,87.8 385.3,87.3 385.7,86.9 386.1,86.6 386.5,86.7 386.9,87.0 387.3,87.4 387.8,88.0 388.2,88.6 388.6,89.1 389.0,89.7 389.4,90.2 389.8,90.9 390.2,91.6 390.7,92.3 391.1,92.9 391.5,93.4 391.9,93.7 392.3,93.8 392.7,93.6 393.1,93.2 393.6,92.5 394.0,91.8 394.4,91.1 394.8,90.4 395.2,89.9 395.6,89.5 396.0,89.3 396.5,89.1 396.9,89.0 397.3,88.9 397.7,88.7 398.1,88.5 398.5,88.3 399.0,88.0 399.4,87.8 399.8,87.7 400.2,87.8 400.6,88.0 401.0,88.4 401.4,88.8 401.9,89.3 402.3,89.8 402.7,90.3 403.1,90.8 403.5,91.3 403.9,91.7 404.3,92.2 404.8,92.7 405.2,93.2 405.6,93.6 406.0,94.0 406.4,94.2 406.8,94.3 407.2,94.3 407.7,94.2 408.1,93.9 408.5,93.5 408.9,93.1 409.3,92.6 409.7,92.0 410.1,91.5 410.6,91.0 411.0,90.6 411.4,90.4 411.8,90.3 412.2,90.3 412.6,90.5 413.1,90.8 413.5,91.2 413.9,91.6 414.3,92.1 414.7,92.6 415.1,93.2 415.5,93.7 416.0,94.2 416.4,94.7 416.8,95.1 417.2,95.5 417.6,95.9 418.0,96.2 418.4,96.5 418.9,96.7 419.3,96.8 419.7,96.9 420.1,96.9 420.5,96.9 420.9,96.8 421.3,96.6 421.8,96.4 422.2,96.1 422.6,95.7 423.0,95.3 423.4,95.0 423.8,94.6 424.2,94.3 424.7,94.0 425.1,93.7 425.5,93.4 425.9,93.2 426.3,93.0 426.7,92.8 427.1,92.7 427.6,92.8 428.0,93.0 428.4,93.2 428.8,93.6 429.2,94.0 429.6,94.5 430.1,94.9 430.5,95.4 430.9,95.8 431.3,96.3 431.7,96.8 432.1,97.4 432.5,98.0 433.0,98.8 433.4,99.5 433.8,100.1 434.2,100.9 434.6,102.1 435.0,103.9 435.4,106.6 435.9,111.3 436.3,118.5 436.7,127.0 437.1,135.9 437.5,144.2 437.9,151.2 438.3,157.5 438.8,163.8 439.2,170.0 439.6,175.7 440.0,180.6 440.4,184.5 440.8,187.7 441.2,190.0 441.7,190.9 442.1,190.1 442.5,187.8 442.9,184.8 443.3,181.5 443.7,178.3 444.1,174.8 444.6,171.1 445.0,167.5 445.4,164.0 445.8,160.9 446.2,158.2 446.6,155.8 447.1,153.4 447.5,151.3 447.9,149.3 448.3,147.7 448.7,146.4 449.1,145.5 449.5,144.9 450.0,144.7 450.4,144.8 450.8,145.4 451.2,146.2 451.6,147.3 452.0,148.8 452.4,150.4 452.9,152.3 453.3,154.4 453.7,156.6 454.1,158.8 454.5,160.8 454.9,162.5 455.3,163.9 455.8,164.7 456.2,165.0 456.6,164.6 457.0,163.6 457.4,162.1 457.8,160.2 458.2,158.0 458.7,155.7 459.1,153.2 459.5,150.8 459.9,148.5 460.3,146.3 460.7,144.3 461.2,142.5 461.6,141.0 462.0,139.7 462.4,138.9 462.8,138.4 463.2,138.3 463.6,138.7 464.1,139.4 464.5,140.5 464.9,142.0 465.3,143.7 465.7,145.7 466.1,147.8 466.5,150.2 467.0,152.6 467.4,155.1 467.8,157.7 468.2,160.2 468.6,162.6 469.0,164.8 469.4,166.7 469.9,168.3 470.3,169.6 470.7,170.4 471.1,170.6 471.5,170.4 471.9,169.6 472.3,168.4 472.8,166.9 473.2,165.0 473.6,163.0 474.0,160.8 474.4,158.6 474.8,156.3 475.2,154.2 475.7,152.2 476.1,150.3 476.5,148.6 476.9,147.1 477.3,145.8 477.7,144.8 478.2,144.1 478.6,143.7 479.0,143.7 479.4,144.0 479.8,144.7 480.2,145.7 480.6,147.0 481.1,148.6 481.5,150.3 481.9,152.2 482.3,154.2 482.7,156.3 483.1,158.4 483.5,160.5 484.0,162.6 484.4,164.5 484.8,166.4 485.2,168.0 485.6,169.3 486.0,170.4 486.4,171.1 486.9,171.4 487.3,171.3 487.7,170.8 488.1,169.8 488.5,168.6 488.9,167.0 489.3,165.2 489.8,163.2 490.2,161.2 490.6,159.1 491.0,157.0 491.4,155.0 491.8,153.1 492.2,151.3 492.7,149.7 493.1,148.4 493.5,147.4 493.9,146.6 494.3,146.3 494.7,146.3 495.2,146.7 495.6,147.4 496.0,148.3 496.4,149.5 496.8,150.9 497.2,152.4 497.6,154.0 498.1,155.6 498.5,157.2 498.9,158.8 499.3,160.2 499.7,161.5 500.1,162.6 500.5,163.5 501.0,164.0 501.4,164.3 501.8,164.2 502.2,163.7 502.6,163.0 503.0,162.1 503.4,161.1 503.9,159.9 504.3,158.7 504.7,157.5 505.1,156.4 505.5,155.4 505.9,154.5 506.3,153.8 506.8,153.2 507.2,152.7 507.6,152.4 508.0,152.2 508.4,152.3 508.8,152.5 509.3,152.9 509.7,153.4 510.1,154.1 510.5,154.9 510.9,155.7 511.3,156.6 511.7,157.6 512.2,158.6 512.6,159.6 513.0,160.6 513.4,161.5 513.8,162.4 514.2,163.2 514.6,163.9 515.1,164.4 515.5,164.8 515.9,165.0 516.3,165.0 516.7,164.7 517.1,164.3 517.5,163.6 518.0,162.9 518.4,162.0 518.8,161.1 519.2,160.1 519.6,159.2 520.0,158.3 520.4,157.5 520.9,156.8 521.3,156.1 521.7,155.5 522.1,155.0 522.5,154.5 522.9,154.0 523.3,153.7 523.8,153.3 524.2,153.0 524.6,152.7 525.0,152.6" stroke="#77AC30" stroke-width="0.62"/>
<polyline points="309.8,157.1 310.2,157.3 310.6,157.3 311.0,157.0 311.5,156.6 311.9,156.0 312.3,155.4 312.7,154.8 313.1,154.2 313.5,153.6 313.9,153.0 314.4,152.3 314.8,151.6 315.2,150.8 315.6,149.9 316.0,149.2 316.4,148.6 316.8,148.2 317.3,148.0 317.7,148.1 318.1,148.5 318.5,149.0 318.9,149.5 319.3,150.1 319.8,150.5 320.2,150.8 320.6,151.0 321.0,151.0 321.4,151.0 321.8,150.9 322.2,150.7 322.7,150.3 323.1,149.9 323.5,149.5 323.9,149.0 324.3,148.7 324.7,148.6 325.1,148.8 325.6,149.2 326.0,149.8 326.4,150.6 326.8,151.3 327.2,151.9 327.6,152.3 328.0,152.5 328.5,152.6 328.9,152.5 329.3,152.4 329.7,152.2 330.1,152.1 330.5,152.0 330.9,151.9 331.4,151.7 331.8,151.5 332.2,151.1 332.6,150.6 333.0,150.0 333.4,149.3 333.9,148.7 334.3,148.1 334.7,147.5 335.1,147.1 335.5,146.7 335.9,146.5 336.3,146.5 336.8,146.8 337.2,147.3 337.6,148.0 338.0,148.8 338.4,149.7 338.8,150.4 339.2,150.9 339.7,151.0 340.1,150.8 340.5,150.3 340.9,149.7 341.3,149.1 341.7,148.6 342.1,148.4 342.6,148.7 343.0,149.5 343.4,150.8 343.8,152.6 344.2,154.6 344.6,156.8 345.0,158.8 345.5,160.5 345.9,161.5 346.3,161.5 346.7,160.2 347.1,158.5 347.5,157.9 347.9,157.9 348.4,156.9 348.8,153.6 349.2,148.8 349.6,141.9 350.0,132.6 350.4,121.7 350.9,110.3 351.3,99.3 351.7,89.5 352.1,80.1 352.5,70.8 352.9,62.2 353.3,55.2 353.8,50.2 354.2,46.4 354.6,43.1 355.0,41.0 355.4,40.6 355.8,41.8 356.2,44.3 356.7,47.7 357.1,51.4 357.5,56.3 357.9,62.7 358.3,70.3 358.7,78.3 359.1,86.0 359.6,92.8 360.0,98.8 360.4,104.8 360.8,110.5 361.2,116.0 361.6,120.9 362.0,124.9 362.5,127.9 362.9,129.9 363.3,131.1 363.7,131.2 364.1,130.0 364.5,127.3 364.9,123.7 365.4,119.6 365.8,114.5 366.2,108.0 366.6,100.7 367.0,93.7 367.4,87.9 367.9,83.2 368.3,79.2 368.7,75.4 369.1,72.0 369.5,69.4 369.9,67.6 370.3,66.7 370.8,66.3 371.2,66.3 371.6,67.4 372.0,69.5 372.4,72.1 372.8,75.1 373.2,77.6 373.7,81.7 374.1,85.7 374.5,89.1 374.9,91.8 375.3,94.1 375.7,96.2 376.1,98.1 376.6,99.8 377.0,101.2 377.4,102.5 377.8,103.7 378.2,104.9 378.6,105.8 379.0,106.4 379.5,106.5 379.9,106.2 380.3,105.5 380.7,104.7 381.1,103.7 381.5,102.6 382.0,101.5 382.4,100.2 382.8,98.8 383.2,97.4 383.6,96.1 384.0,94.9 384.4,94.1 384.9,93.3 385.3,92.7 385.7,92.1 386.1,91.7 386.5,91.6 386.9,91.7 387.3,92.1 387.8,92.7 388.2,93.5 388.6,94.2 389.0,94.9 389.4,95.4 389.8,95.8 390.2,96.1 390.7,96.5 391.1,96.9 391.5,97.3 391.9,97.7 392.3,98.0 392.7,98.3 393.1,98.4 393.6,98.4 394.0,98.3 394.4,98.1 394.8,97.8 395.2,97.5 395.6,97.1 396.0,96.7 396.5,96.2 396.9,95.7 397.3,95.1 397.7,94.6 398.1,94.2 398.5,93.9 399.0,93.8 399.4,93.9 399.8,94.1 400.2,94.4 400.6,94.7 401.0,95.2 401.4,95.7 401.9,96.2 402.3,96.8 402.7,97.4 403.1,98.1 403.5,98.7 403.9,99.4 404.3,100.0 404.8,100.6 405.2,101.1 405.6,101.7 406.0,102.2 406.4,102.7 406.8,103.0 407.2,103.3 407.7,103.3 408.1,103.3 408.5,103.0 408.9,102.7 409.3,102.2 409.7,101.7 410.1,101.2 410.6,100.7 411.0,100.2 411.4,99.8 411.8,99.6 412.2,99.4 412.6,99.3 413.1,99.3 413.5,99.3 413.9,99.4 414.3,99.5 414.7,99.7 415.1,100.0 415.5,100.3 416.0,100.6 416.4,100.9 416.8,101.3 417.2,101.6 417.6,102.0 418.0,102.4 418.4,102.8 418.9,103.2 419.3,103.6 419.7,104.0 420.1,104.4 420.5,104.7 420.9,105.0 421.3,105.1 421.8,105.1 422.2,105.0 422.6,104.9 423.0,104.7 423.4,104.6 423.8,104.5 424.2,104.4 424.7,104.3 425.1,104.2 425.5,104.2 425.9,104.1 426.3,104.1 426.7,104.1 427.1,104.1 427.6,104.1 428.0,104.2 428.4,104.3 428.8,104.4 429.2,104.6 429.6,104.7 430.1,104.8 430.5,104.9 430.9,105.0 431.3,105.0 431.7,105.0 432.1,104.9 432.5,104.7 433.0,104.5 433.4,104.0 433.8,103.3 434.2,102.2 434.6,101.1 435.0,100.7 435.4,101.6 435.9,103.6 436.3,106.8 436.7,112.2 437.1,119.9 437.5,128.7 437.9,138.0 438.3,146.6 438.8,154.3 439.2,161.9 439.6,169.8 440.0,177.6 440.4,184.9 440.8,190.8 441.2,195.0 441.7,197.6 442.1,198.6 442.5,197.5 442.9,194.6 443.3,190.6 443.7,186.4 444.1,182.5 444.6,178.8 445.0,175.1 445.4,171.5 445.8,168.0 446.2,164.8 446.6,162.0 447.1,159.5 447.5,157.1 447.9,155.0 448.3,153.0 448.7,151.3 449.1,149.9 449.5,148.9 450.0,148.2 450.4,147.9 450.8,148.0 451.2,148.4 451.6,149.2 452.0,150.3 452.4,151.7 452.9,153.3 453.3,155.2 453.7,157.3 454.1,159.5 454.5,161.7 454.9,163.8 455.3,165.7 455.8,167.3 456.2,168.5 456.6,169.0 457.0,169.0 457.4,168.3 457.8,167.1 458.2,165.5 458.7,163.5 459.1,161.3 459.5,159.0 459.9,156.6 460.3,154.2 460.7,152.0 461.2,149.9 461.6,148.0 462.0,146.4 462.4,145.0 462.8,143.9 463.2,143.2 463.6,142.8 464.1,142.9 464.5,143.3 464.9,144.1 465.3,145.3 465.7,146.7 466.1,148.3 466.5,150.2 467.0,152.2 467.4,154.4 467.8,156.6 468.2,158.9 468.6,161.2 469.0,163.4 469.4,165.4 469.9,167.2 470.3,168.7 470.7,169.9 471.1,170.6 471.5,170.9 471.9,170.7 472.3,170.0 472.8,168.8 473.2,167.3 473.6,165.4 474.0,163.3 474.4,161.1 474.8,158.8 475.2,156.5 475.7,154.2 476.1,152.1 476.5,150.1 476.9,148.2 477.3,146.6 477.7,145.2 478.2,144.0 478.6,143.1 479.0,142.6 479.4,142.3 479.8,142.5 480.2,143.0 480.6,143.8 481.1,145.0 481.5,146.4 481.9,148.0 482.3,149.8 482.7,151.7 483.1,153.7 483.5,155.8 484.0,158.0 484.4,160.1 484.8,162.1 485.2,164.0 485.6,165.7 486.0,167.3 486.4,168.6 486.9,169.5 487.3,170.2 487.7,170.4 488.1,170.2 488.5,169.6 488.9,168.7 489.3,167.4 489.8,166.0 490.2,164.3 490.6,162.6 491.0,160.8 491.4,158.9 491.8,157.2 492.2,155.5 492.7,154.0 493.1,152.6 493.5,151.4 493.9,150.5 494.3,149.9 494.7,149.6 495.2,149.7 495.6,150.1 496.0,150.8 496.4,151.8 496.8,153.1 497.2,154.5 497.6,156.0 498.1,157.6 498.5,159.2 498.9,160.8 499.3,162.4 499.7,163.8 500.1,165.1 500.5,166.2 501.0,167.0 501.4,167.6 501.8,167.8 502.2,167.7 502.6,167.2 503.0,166.4 503.4,165.3 503.9,164.1 504.3,162.7 504.7,161.3 505.1,159.8 505.5,158.4 505.9,157.0 506.3,155.8 506.8,154.7 507.2,153.7 507.6,152.8 508.0,152.1 508.4,151.6 508.8,151.2 509.3,151.0 509.7,151.0 510.1,151.2 510.5,151.5 510.9,151.9 511.3,152.5 511.7,153.1 512.2,153.8 512.6,154.5 513.0,155.3 513.4,156.1 513.8,156.9 514.2,157.7 514.6,158.4 515.1,159.0 515.5,159.5 515.9,159.9 516.3,160.1 516.7,160.1 517.1,160.0 517.5,159.7 518.0,159.1 518.4,158.5 518.8,157.8 519.2,157.0 519.6,156.1 520.0,155.3 520.4,154.5 520.9,153.8 521.3,153.2 521.7,152.7 522.1,152.2 522.5,151.8 522.9,151.4 523.3,151.1 523.8,150.8 524.2,150.6 524.6,150.4 525.0,150.3" stroke="#4DBEEE" stroke-width="0.62"/>
<polyline points="309.8,143.9 310.2,145.1 310.6,146.7 311.0,148.4 311.5,150.2 311.9,151.9 312.3,153.5 312.7,154.7 313.1,155.6 313.5,156.1 313.9,156.2 314.4,156.0 314.8,155.5 315.2,154.7 315.6,153.8 316.0,152.9 316.4,152.0 316.8,151.3 317.3,151.0 317.7,150.9 318.1,151.2 318.5,151.7 318.9,152.3 319.3,153.0 319.8,153.4 320.2,153.7 320.6,153.7 321.0,153.5 321.4,153.2 321.8,152.7 322.2,152.2 322.7,151.6 323.1,150.9 323.5,150.0 323.9,149.1 324.3,148.0 324.7,146.8 325.1,145.8 325.6,144.9 326.0,144.3 326.4,144.0 326.8,144.0 327.2,144.3 327.6,144.6 328.0,145.0 328.5,145.4 328.9,145.8 329.3,146.2 329.7,146.8 330.1,147.7 330.5,148.8 330.9,150.1 331.4,151.7 331.8,153.4 332.2,155.2 332.6,156.8 333.0,158.3 333.4,159.5 333.9,160.3 334.3,160.8 334.7,160.9 335.1,160.7 335.5,160.1 335.9,159.4 336.3,158.6 336.8,157.9 337.2,157.2 337.6,156.8 338.0,156.5 338.4,156.5 338.8,156.5 339.2,156.5 339.7,156.5 340.1,156.4 340.5,156.1 340.9,155.8 341.3,155.5 341.7,155.4 342.1,155.5 342.6,155.9 343.0,156.6 343.4,157.4 343.8,158.3 344.2,159.0 344.6,159.5 345.0,159.7 345.5,159.4 345.9,158.8 346.3,157.9 346.7,157.1 347.1,157.1 347.5,157.6 347.9,158.0 348.4,155.9 348.8,151.7 349.2,146.3 349.6,138.1 350.0,127.7 350.4,116.2 350.9,104.6 351.3,93.9 351.7,84.4 352.1,74.8 352.5,65.4 352.9,57.2 353.3,51.1 353.8,46.8 354.2,43.0 354.6,40.1 355.0,38.6 355.4,38.9 355.8,40.8 356.2,43.9 356.7,47.5 357.1,51.4 357.5,57.0 357.9,64.0 358.3,71.9 358.7,79.7 359.1,86.8 359.6,92.6 360.0,98.0 360.4,103.2 360.8,108.2 361.2,112.8 361.6,116.9 362.0,120.2 362.5,122.6 362.9,124.4 363.3,125.8 363.7,126.1 364.1,125.0 364.5,122.7 364.9,119.6 365.4,116.2 365.8,111.1 366.2,104.6 366.6,97.6 367.0,91.1 367.4,86.1 367.9,82.0 368.3,78.1 368.7,74.4 369.1,71.4 369.5,69.1 369.9,67.8 370.3,67.1 370.8,66.7 371.2,66.9 371.6,68.3 372.0,70.5 372.4,72.8 372.8,75.6 373.2,79.1 373.7,82.8 374.1,86.3 374.5,89.0 374.9,91.2 375.3,93.4 375.7,95.4 376.1,97.3 376.6,98.9 377.0,100.2 377.4,101.4 377.8,102.6 378.2,103.5 378.6,104.1 379.0,104.3 379.5,104.0 379.9,103.4 380.3,102.5 380.7,101.5 381.1,100.4 381.5,99.3 382.0,98.1 382.4,96.7 382.8,95.3 383.2,93.9 383.6,92.7 384.0,91.8 384.4,91.1 384.9,90.7 385.3,90.4 385.7,90.2 386.1,90.3 386.5,90.7 386.9,91.4 387.3,92.5 387.8,93.8 388.2,95.1 388.6,96.5 389.0,97.6 389.4,98.6 389.8,99.5 390.2,100.3 390.7,101.1 391.1,101.8 391.5,102.4 391.9,103.0 392.3,103.5 392.7,103.9 393.1,104.1 393.6,104.0 394.0,103.8 394.4,103.4 394.8,103.0 395.2,102.4 395.6,101.7 396.0,101.0 396.5,100.4 396.9,99.7 397.3,99.1 397.7,98.5 398.1,97.9 398.5,97.5 399.0,97.1 399.4,96.8 399.8,96.5 400.2,96.3 400.6,96.2 401.0,96.1 401.4,96.2 401.9,96.4 402.3,96.6 402.7,97.0 403.1,97.4 403.5,97.9 403.9,98.3 404.3,98.8 404.8,99.2 405.2,99.7 405.6,100.1 406.0,100.4 406.4,100.7 406.8,100.9 407.2,101.0 407.7,101.1 408.1,101.1 408.5,101.2 408.9,101.3 409.3,101.4 409.7,101.5 410.1,101.6 410.6,101.7 411.0,101.8 411.4,101.9 411.8,101.9 412.2,102.0 412.6,102.1 413.1,102.3 413.5,102.5 413.9,102.8 414.3,103.2 414.7,103.6 415.1,104.2 415.5,104.8 416.0,105.4 416.4,106.0 416.8,106.7 417.2,107.3 417.6,107.9 418.0,108.4 418.4,108.9 418.9,109.2 419.3,109.5 419.7,109.6 420.1,109.7 420.5,109.7 420.9,109.7 421.3,109.8 421.8,109.8 422.2,109.9 422.6,110.0 423.0,110.1 423.4,110.2 423.8,110.2 424.2,110.1 424.7,109.9 425.1,109.6 425.5,109.3 425.9,109.0 426.3,108.6 426.7,108.4 427.1,108.2 427.6,108.1 428.0,108.0 428.4,108.0 428.8,107.9 429.2,107.8 429.6,107.7 430.1,107.5 430.5,107.2 430.9,107.0 431.3,106.7 431.7,106.5 432.1,106.3 432.5,106.1 433.0,105.9 433.4,105.5 433.8,104.8 434.2,103.7 434.6,102.3 435.0,102.0 435.4,103.0 435.9,105.0 436.3,108.7 436.7,115.1 437.1,123.4 437.5,132.5 437.9,141.6 438.3,149.5 438.8,156.6 439.2,164.0 439.6,171.5 440.0,178.9 440.4,185.5 440.8,190.7 441.2,194.4 441.7,196.9 442.1,197.5 442.5,195.9 442.9,192.6 443.3,188.3 443.7,184.0 444.1,180.1 444.6,176.0 445.0,171.9 445.4,168.0 445.8,164.2 446.2,160.9 446.6,157.9 447.1,155.3 447.5,152.8 447.9,150.5 448.3,148.5 448.7,146.8 449.1,145.5 449.5,144.6 450.0,144.0 450.4,143.9 450.8,144.1 451.2,144.8 451.6,145.8 452.0,147.1 452.4,148.8 452.9,150.7 453.3,152.8 453.7,155.2 454.1,157.7 454.5,160.1 454.9,162.4 455.3,164.4 455.8,166.0 456.2,167.0 456.6,167.4 457.0,167.1 457.4,166.2 457.8,164.7 458.2,162.8 458.7,160.6 459.1,158.2 459.5,155.6 459.9,153.1 460.3,150.6 460.7,148.3 461.2,146.1 461.6,144.1 462.0,142.4 462.4,141.0 462.8,140.0 463.2,139.3 463.6,139.1 464.1,139.3 464.5,139.9 464.9,140.9 465.3,142.2 465.7,143.8 466.1,145.7 466.5,147.8 467.0,150.0 467.4,152.4 467.8,154.9 468.2,157.4 468.6,159.8 469.0,162.2 469.4,164.3 469.9,166.2 470.3,167.7 470.7,168.9 471.1,169.6 471.5,169.8 471.9,169.4 472.3,168.5 472.8,167.2 473.2,165.5 473.6,163.5 474.0,161.3 474.4,158.9 474.8,156.5 475.2,154.1 475.7,151.7 476.1,149.6 476.5,147.5 476.9,145.7 477.3,144.1 477.7,142.7 478.2,141.6 478.6,140.8 479.0,140.4 479.4,140.3 479.8,140.6 480.2,141.3 480.6,142.4 481.1,143.7 481.5,145.3 481.9,147.1 482.3,149.1 482.7,151.3 483.1,153.5 483.5,155.7 484.0,158.0 484.4,160.2 484.8,162.3 485.2,164.3 485.6,166.0 486.0,167.5 486.4,168.8 486.9,169.6 487.3,170.1 487.7,170.1 488.1,169.7 488.5,168.9 488.9,167.7 489.3,166.2 489.8,164.5 490.2,162.7 490.6,160.7 491.0,158.7 491.4,156.7 491.8,154.8 492.2,153.0 492.7,151.4 493.1,150.0 493.5,148.8 493.9,148.0 494.3,147.4 494.7,147.2 495.2,147.4 495.6,148.0 496.0,148.9 496.4,150.1 496.8,151.6 497.2,153.2 497.6,154.9 498.1,156.7 498.5,158.5 498.9,160.3 499.3,162.0 499.7,163.6 500.1,165.1 500.5,166.3 501.0,167.2 501.4,167.9 501.8,168.2 502.2,168.1 502.6,167.6 503.0,166.9 503.4,165.9 503.9,164.7 504.3,163.5 504.7,162.2 505.1,160.9 505.5,159.7 505.9,158.5 506.3,157.5 506.8,156.6 507.2,155.9 507.6,155.3 508.0,154.9 508.4,154.6 508.8,154.6 509.3,154.7 509.7,155.0 510.1,155.4 510.5,156.0 510.9,156.7 511.3,157.5 511.7,158.3 512.2,159.2 512.6,160.1 513.0,161.1 513.4,162.0 513.8,162.9 514.2,163.8 514.6,164.5 515.1,165.2 515.5,165.7 515.9,166.0 516.3,166.2 516.7,166.1 517.1,165.9 517.5,165.4 518.0,164.7 518.4,163.9 518.8,163.0 519.2,162.1 519.6,161.1 520.0,160.2 520.4,159.3 520.9,158.5 521.3,157.8 521.7,157.2 522.1,156.6 522.5,156.1 522.9,155.6 523.3,155.2 523.8,154.9 524.2,154.6 524.6,154.3 525.0,154.1" stroke="#A2142F" stroke-width="0.62"/>
<polyline points="309.8,155.1 310.2,155.1 310.6,155.1 311.0,155.1 311.5,155.1 311.9,155.1 312.3,155.1 312.7,155.1 313.1,155.2 313.5,155.2 313.9,155.2 314.4,155.2 314.8,155.2 315.2,155.3 315.6,155.3 316.0,155.3 316.4,155.3 316.8,155.4 317.3,155.4 317.7,155.4 318.1,155.4 318.5,155.5 318.9,155.5 319.3,155.5 319.8,155.5 320.2,155.5 320.6,155.5 321.0,155.5 321.4,155.5 321.8,155.5 322.2,155.4 322.7,155.4 323.1,155.4 323.5,155.4 323.9,155.3 324.3,155.3 324.7,155.3 325.1,155.2 325.6,155.2 326.0,155.2 326.4,155.1 326.8,155.1 327.2,155.1 327.6,155.1 328.0,155.0 328.5,155.0 328.9,155.0 329.3,155.0 329.7,155.0 330.1,155.0 330.5,155.0 330.9,155.0 331.4,155.0 331.8,155.0 332.2,155.0 332.6,155.1 333.0,155.1 333.4,155.1 333.9,155.1 334.3,155.1 334.7,155.2 335.1,155.2 335.5,155.2 335.9,155.2 336.3,155.3 336.8,155.3 337.2,155.3 337.6,155.3 338.0,155.4 338.4,155.4 338.8,155.4 339.2,155.5 339.7,155.5 340.1,155.5 340.5,155.5 340.9,155.5 341.3,155.6 341.7,155.6 342.1,155.6 342.6,155.6 343.0,155.7 343.4,155.7 343.8,155.7 344.2,155.7 344.6,155.8 345.0,155.8 345.5,155.9 345.9,156.0 346.3,156.2 346.7,156.9 347.1,157.7 347.5,158.0 347.9,155.9 348.4,151.5 348.8,146.1 349.2,137.7 349.6,127.2 350.0,115.6 350.4,104.0 350.9,93.4 351.3,84.0 351.7,74.3 352.1,65.0 352.5,56.8 352.9,50.8 353.3,46.6 353.8,42.9 354.2,40.0 354.6,38.6 355.0,39.0 355.4,41.0 355.8,44.0 356.2,47.7 356.7,51.6 357.1,57.1 357.5,64.2 357.9,71.9 358.3,79.6 358.7,86.4 359.1,91.7 359.6,96.6 360.0,101.3 360.4,105.7 360.8,109.7 361.2,113.2 361.6,116.1 362.0,118.2 362.5,120.0 362.9,121.4 363.3,122.0 363.7,121.3 364.1,119.4 364.5,116.8 364.9,113.8 365.4,109.0 365.8,102.8 366.2,96.0 366.6,89.7 367.0,84.8 367.4,80.7 367.9,76.7 368.3,73.1 368.7,70.0 369.1,67.7 369.5,66.5 369.9,65.9 370.3,65.5 370.8,65.8 371.2,67.3 371.6,69.6 372.0,72.0 372.4,74.8 372.8,78.4 373.2,82.3 373.7,85.8 374.1,88.4 374.5,90.5 374.9,92.5 375.3,94.3 375.7,95.8 376.1,97.1 376.6,98.1 377.0,99.0 377.4,99.8 377.8,100.5 378.2,100.9 378.6,101.0 379.0,100.7 379.5,100.1 379.9,99.3 380.3,98.5 380.7,97.6 381.1,96.8 381.5,95.8 382.0,94.8 382.4,93.6 382.8,92.5 383.2,91.5 383.6,90.6 384.0,90.0 384.4,89.4 384.9,88.9 385.3,88.5 385.7,88.2 386.1,88.0 386.5,88.1 386.9,88.4 387.3,88.8 387.8,89.4 388.2,89.9 388.6,90.5 389.0,91.0 389.4,91.5 389.8,92.0 390.2,92.5 390.7,93.1 391.1,93.6 391.5,94.1 391.9,94.5 392.3,94.8 392.7,95.0 393.1,95.0 393.6,94.9 394.0,94.8 394.4,94.7 394.8,94.5 395.2,94.3 395.6,94.2 396.0,94.0 396.5,93.8 396.9,93.5 397.3,93.3 397.7,93.0 398.1,92.7 398.5,92.5 399.0,92.3 399.4,92.1 399.8,92.0 400.2,92.0 400.6,92.1 401.0,92.3 401.4,92.6 401.9,92.9 402.3,93.2 402.7,93.6 403.1,93.9 403.5,94.2 403.9,94.5 404.3,94.7 404.8,94.9 405.2,95.1 405.6,95.3 406.0,95.5 406.4,95.7 406.8,95.8 407.2,95.9 407.7,96.0 408.1,96.0 408.5,96.0 408.9,95.9 409.3,95.7 409.7,95.6 410.1,95.4 410.6,95.3 411.0,95.2 411.4,95.1 411.8,95.0 412.2,95.0 412.6,95.0 413.1,95.1 413.5,95.1 413.9,95.1 414.3,95.2 414.7,95.3 415.1,95.3 415.5,95.4 416.0,95.5 416.4,95.6 416.8,95.7 417.2,95.8 417.6,95.9 418.0,96.0 418.4,96.1 418.9,96.2 419.3,96.3 419.7,96.4 420.1,96.5 420.5,96.6 420.9,96.7 421.3,96.7 421.8,96.8 422.2,96.9 422.6,96.9 423.0,97.0 423.4,97.0 423.8,97.0 424.2,97.0 424.7,97.0 425.1,96.9 425.5,96.8 425.9,96.8 426.3,96.7 426.7,96.6 427.1,96.6 427.6,96.5 428.0,96.5 428.4,96.5 428.8,96.5 429.2,96.6 429.6,96.6 430.1,96.6 430.5,96.7 430.9,96.8 431.3,96.9 431.7,96.9 432.1,97.0 432.5,97.1 433.0,97.3 433.4,97.5 433.8,97.8 434.2,98.3 434.6,99.7 435.0,101.9 435.4,104.6 435.9,108.7 436.3,115.4 436.7,123.8 437.1,132.9 437.5,141.6 437.9,149.0 438.3,155.0 438.8,161.0 439.2,166.8 439.6,171.9 440.0,176.3 440.4,179.5 440.8,181.8 441.2,183.8 441.7,184.9 442.1,184.7 442.5,183.3 442.9,181.2 443.3,178.9 443.7,176.8 444.1,174.3 444.6,171.6 445.0,168.8 445.4,166.1 445.8,163.5 446.2,161.3 446.6,159.4 447.1,157.5 447.5,155.7 447.9,154.1 448.3,152.8 448.7,151.7 449.1,150.8 449.5,150.3 450.0,150.0 450.4,150.0 450.8,150.3 451.2,150.9 451.6,151.7 452.0,152.8 452.4,154.0 452.9,155.5 453.3,157.1 453.7,158.8 454.1,160.5 454.5,162.1 454.9,163.6 455.3,164.8 455.8,165.6 456.2,166.0 456.6,165.9 457.0,165.3 457.4,164.3 457.8,163.0 458.2,161.4 458.7,159.7 459.1,157.9 459.5,156.0 459.9,154.3 460.3,152.6 460.7,151.0 461.2,149.6 461.6,148.4 462.0,147.4 462.4,146.7 462.8,146.2 463.2,146.0 463.6,146.1 464.1,146.6 464.5,147.3 464.9,148.3 465.3,149.5 465.7,150.9 466.1,152.4 466.5,154.1 467.0,155.8 467.4,157.6 467.8,159.5 468.2,161.3 468.6,163.0 469.0,164.6 469.4,166.1 469.9,167.3 470.3,168.2 470.7,168.8 471.1,169.0 471.5,168.8 471.9,168.2 472.3,167.3 472.8,166.1 473.2,164.6 473.6,163.0 474.0,161.3 474.4,159.5 474.8,157.7 475.2,156.0 475.7,154.3 476.1,152.8 476.5,151.4 476.9,150.1 477.3,149.0 477.7,148.2 478.2,147.5 478.6,147.1 479.0,147.0 479.4,147.1 479.8,147.5 480.2,148.2 480.6,149.1 481.1,150.2 481.5,151.5 481.9,152.8 482.3,154.3 482.7,155.9 483.1,157.5 483.5,159.1 484.0,160.7 484.4,162.2 484.8,163.6 485.2,164.9 485.6,166.0 486.0,166.9 486.4,167.6 486.9,167.9 487.3,168.0 487.7,167.7 488.1,167.1 488.5,166.3 488.9,165.2 489.3,163.9 489.8,162.5 490.2,161.0 490.6,159.5 491.0,158.0 491.4,156.5 491.8,155.1 492.2,153.8 492.7,152.7 493.1,151.7 493.5,150.9 493.9,150.3 494.3,150.0 494.7,150.0 495.2,150.3 495.6,150.8 496.0,151.6 496.4,152.5 496.8,153.5 497.2,154.7 497.6,155.9 498.1,157.2 498.5,158.4 498.9,159.6 499.3,160.7 499.7,161.7 500.1,162.6 500.5,163.3 501.0,163.8 501.4,164.0 501.8,163.9 502.2,163.6 502.6,163.1 503.0,162.4 503.4,161.5 503.9,160.6 504.3,159.7 504.7,158.7 505.1,157.8 505.5,156.9 505.9,156.2 506.3,155.5 506.8,155.0 507.2,154.5 507.6,154.2 508.0,154.0 508.4,154.0 508.8,154.1 509.3,154.3 509.7,154.7 510.1,155.1 510.5,155.6 510.9,156.3 511.3,156.9 511.7,157.6 512.2,158.4 512.6,159.1 513.0,159.9 513.4,160.6 513.8,161.3 514.2,161.9 514.6,162.5 515.1,162.9 515.5,163.3 515.9,163.5 516.3,163.5 516.7,163.4 517.1,163.1 517.5,162.7 518.0,162.2 518.4,161.6 518.8,160.9 519.2,160.3 519.6,159.6 520.0,159.0 520.4,158.4 520.9,157.8 521.3,157.4 521.7,156.9 522.1,156.6 522.5,156.2 522.9,155.9 523.3,155.6 523.8,155.4 524.2,155.2 524.6,155.0 525.0,154.8" stroke="#A8102E" stroke-width="2.9" stroke-linecap="round"/>
</g>
<path d="M41.45 36.0H255.45V204.3" fill="none" stroke="#404040" stroke-width="0.55"/>
<path d="M41.45 36.0V204.3H255.45" fill="none" stroke="#404040" stroke-width="0.58"/>
<line x1="49.2" y1="204.3" x2="49.2" y2="202.3" stroke="#4a4a4a" stroke-width="0.6"/>
<line x1="49.2" y1="36.0" x2="49.2" y2="38.0" stroke="#8a8a8a" stroke-width="0.6"/>
<line x1="83.5" y1="204.3" x2="83.5" y2="202.3" stroke="#4a4a4a" stroke-width="0.6"/>
<line x1="83.5" y1="36.0" x2="83.5" y2="38.0" stroke="#8a8a8a" stroke-width="0.6"/>
<line x1="117.8" y1="204.3" x2="117.8" y2="202.3" stroke="#4a4a4a" stroke-width="0.6"/>
<line x1="117.8" y1="36.0" x2="117.8" y2="38.0" stroke="#8a8a8a" stroke-width="0.6"/>
<line x1="152.0" y1="204.3" x2="152.0" y2="202.3" stroke="#4a4a4a" stroke-width="0.6"/>
<line x1="152.0" y1="36.0" x2="152.0" y2="38.0" stroke="#8a8a8a" stroke-width="0.6"/>
<line x1="186.2" y1="204.3" x2="186.2" y2="202.3" stroke="#4a4a4a" stroke-width="0.6"/>
<line x1="186.2" y1="36.0" x2="186.2" y2="38.0" stroke="#8a8a8a" stroke-width="0.6"/>
<line x1="220.5" y1="204.3" x2="220.5" y2="202.3" stroke="#4a4a4a" stroke-width="0.6"/>
<line x1="220.5" y1="36.0" x2="220.5" y2="38.0" stroke="#8a8a8a" stroke-width="0.6"/>
<line x1="254.8" y1="204.3" x2="254.8" y2="202.3" stroke="#4a4a4a" stroke-width="0.6"/>
<line x1="254.8" y1="36.0" x2="254.8" y2="38.0" stroke="#8a8a8a" stroke-width="0.6"/>
<line x1="41.45" y1="36.0" x2="43.45" y2="36.0" stroke="#4a4a4a" stroke-width="0.6"/>
<line x1="255.45" y1="36.0" x2="253.45" y2="36.0" stroke="#8a8a8a" stroke-width="0.6"/>
<line x1="41.45" y1="58.6" x2="43.45" y2="58.6" stroke="#4a4a4a" stroke-width="0.6"/>
<line x1="255.45" y1="58.6" x2="253.45" y2="58.6" stroke="#8a8a8a" stroke-width="0.6"/>
<line x1="41.45" y1="81.3" x2="43.45" y2="81.3" stroke="#4a4a4a" stroke-width="0.6"/>
<line x1="255.45" y1="81.3" x2="253.45" y2="81.3" stroke="#8a8a8a" stroke-width="0.6"/>
<line x1="41.45" y1="103.9" x2="43.45" y2="103.9" stroke="#4a4a4a" stroke-width="0.6"/>
<line x1="255.45" y1="103.9" x2="253.45" y2="103.9" stroke="#8a8a8a" stroke-width="0.6"/>
<line x1="41.45" y1="126.5" x2="43.45" y2="126.5" stroke="#4a4a4a" stroke-width="0.6"/>
<line x1="255.45" y1="126.5" x2="253.45" y2="126.5" stroke="#8a8a8a" stroke-width="0.6"/>
<line x1="41.45" y1="149.1" x2="43.45" y2="149.1" stroke="#4a4a4a" stroke-width="0.6"/>
<line x1="255.45" y1="149.1" x2="253.45" y2="149.1" stroke="#8a8a8a" stroke-width="0.6"/>
<line x1="41.45" y1="171.8" x2="43.45" y2="171.8" stroke="#4a4a4a" stroke-width="0.6"/>
<line x1="255.45" y1="171.8" x2="253.45" y2="171.8" stroke="#8a8a8a" stroke-width="0.6"/>
<line x1="41.45" y1="194.4" x2="43.45" y2="194.4" stroke="#4a4a4a" stroke-width="0.6"/>
<line x1="255.45" y1="194.4" x2="253.45" y2="194.4" stroke="#8a8a8a" stroke-width="0.6"/>
<path d="M311.1 36.4H524.05V203.6" fill="none" stroke="#404040" stroke-width="0.55"/>
<path d="M311.1 36.4V203.6H524.05" fill="none" stroke="#404040" stroke-width="0.58"/>
<line x1="318.3" y1="203.6" x2="318.3" y2="201.6" stroke="#4a4a4a" stroke-width="0.6"/>
<line x1="318.3" y1="36.4" x2="318.3" y2="38.4" stroke="#8a8a8a" stroke-width="0.6"/>
<line x1="352.5" y1="203.6" x2="352.5" y2="201.6" stroke="#4a4a4a" stroke-width="0.6"/>
<line x1="352.5" y1="36.4" x2="352.5" y2="38.4" stroke="#8a8a8a" stroke-width="0.6"/>
<line x1="386.7" y1="203.6" x2="386.7" y2="201.6" stroke="#4a4a4a" stroke-width="0.6"/>
<line x1="386.7" y1="36.4" x2="386.7" y2="38.4" stroke="#8a8a8a" stroke-width="0.6"/>
<line x1="420.8" y1="203.6" x2="420.8" y2="201.6" stroke="#4a4a4a" stroke-width="0.6"/>
<line x1="420.8" y1="36.4" x2="420.8" y2="38.4" stroke="#8a8a8a" stroke-width="0.6"/>
<line x1="455.0" y1="203.6" x2="455.0" y2="201.6" stroke="#4a4a4a" stroke-width="0.6"/>
<line x1="455.0" y1="36.4" x2="455.0" y2="38.4" stroke="#8a8a8a" stroke-width="0.6"/>
<line x1="489.1" y1="203.6" x2="489.1" y2="201.6" stroke="#4a4a4a" stroke-width="0.6"/>
<line x1="489.1" y1="36.4" x2="489.1" y2="38.4" stroke="#8a8a8a" stroke-width="0.6"/>
<line x1="523.3" y1="203.6" x2="523.3" y2="201.6" stroke="#4a4a4a" stroke-width="0.6"/>
<line x1="523.3" y1="36.4" x2="523.3" y2="38.4" stroke="#8a8a8a" stroke-width="0.6"/>
<line x1="311.1" y1="36.4" x2="313.1" y2="36.4" stroke="#4a4a4a" stroke-width="0.6"/>
<line x1="524.05" y1="36.4" x2="522.05" y2="36.4" stroke="#8a8a8a" stroke-width="0.6"/>
<line x1="311.1" y1="60.1" x2="313.1" y2="60.1" stroke="#4a4a4a" stroke-width="0.6"/>
<line x1="524.05" y1="60.1" x2="522.05" y2="60.1" stroke="#8a8a8a" stroke-width="0.6"/>
<line x1="311.1" y1="83.7" x2="313.1" y2="83.7" stroke="#4a4a4a" stroke-width="0.6"/>
<line x1="524.05" y1="83.7" x2="522.05" y2="83.7" stroke="#8a8a8a" stroke-width="0.6"/>
<line x1="311.1" y1="107.4" x2="313.1" y2="107.4" stroke="#4a4a4a" stroke-width="0.6"/>
<line x1="524.05" y1="107.4" x2="522.05" y2="107.4" stroke="#8a8a8a" stroke-width="0.6"/>
<line x1="311.1" y1="131.1" x2="313.1" y2="131.1" stroke="#4a4a4a" stroke-width="0.6"/>
<line x1="524.05" y1="131.1" x2="522.05" y2="131.1" stroke="#8a8a8a" stroke-width="0.6"/>
<line x1="311.1" y1="154.8" x2="313.1" y2="154.8" stroke="#4a4a4a" stroke-width="0.6"/>
<line x1="524.05" y1="154.8" x2="522.05" y2="154.8" stroke="#8a8a8a" stroke-width="0.6"/>
<line x1="311.1" y1="178.4" x2="313.1" y2="178.4" stroke="#4a4a4a" stroke-width="0.6"/>
<line x1="524.05" y1="178.4" x2="522.05" y2="178.4" stroke="#8a8a8a" stroke-width="0.6"/>
<line x1="311.1" y1="202.1" x2="313.1" y2="202.1" stroke="#4a4a4a" stroke-width="0.6"/>
<line x1="524.05" y1="202.1" x2="522.05" y2="202.1" stroke="#8a8a8a" stroke-width="0.6"/>
<text x="48.8" y="213.4" text-anchor="middle" class="tk">-2</text>
<text x="83.0" y="213.4" text-anchor="middle" class="tk">0</text>
<text x="117.2" y="213.4" text-anchor="middle" class="tk">2</text>
<text x="151.5" y="213.4" text-anchor="middle" class="tk">4</text>
<text x="185.8" y="213.4" text-anchor="middle" class="tk">6</text>
<text x="220.0" y="213.4" text-anchor="middle" class="tk">8</text>
<text x="254.2" y="213.4" text-anchor="middle" class="tk">10</text>
<text x="38.8" y="39.4" text-anchor="end" class="tk">6</text>
<text x="38.8" y="61.8" text-anchor="end" class="tk">4</text>
<text x="38.8" y="84.3" text-anchor="end" class="tk">2</text>
<text x="38.8" y="106.7" text-anchor="end" class="tk">0</text>
<text x="38.8" y="129.1" text-anchor="end" class="tk">-2</text>
<text x="38.8" y="151.5" text-anchor="end" class="tk">-4</text>
<text x="38.8" y="174.0" text-anchor="end" class="tk">-6</text>
<text x="38.8" y="196.4" text-anchor="end" class="tk">-8</text>
<text x="317.8" y="213.3" text-anchor="middle" class="tk">-2</text>
<text x="352.0" y="213.3" text-anchor="middle" class="tk">0</text>
<text x="386.2" y="213.3" text-anchor="middle" class="tk">2</text>
<text x="420.3" y="213.3" text-anchor="middle" class="tk">4</text>
<text x="454.5" y="213.3" text-anchor="middle" class="tk">6</text>
<text x="488.6" y="213.3" text-anchor="middle" class="tk">8</text>
<text x="522.8" y="213.3" text-anchor="middle" class="tk">10</text>
<text x="308.4" y="40.4" text-anchor="end" class="tk">5</text>
<text x="308.4" y="64.1" text-anchor="end" class="tk">4</text>
<text x="308.4" y="87.7" text-anchor="end" class="tk">3</text>
<text x="308.4" y="111.4" text-anchor="end" class="tk">2</text>
<text x="308.4" y="135.1" text-anchor="end" class="tk">1</text>
<text x="308.4" y="158.8" text-anchor="end" class="tk">0</text>
<text x="308.4" y="182.4" text-anchor="end" class="tk">-1</text>
<text x="308.4" y="206.1" text-anchor="end" class="tk">-2</text>
<text x="99.8" y="32" class="ttl" textLength="36.2" lengthAdjust="spacingAndGlyphs">Integration</text>
<text x="139.6" y="32" class="ttl" style="fill:#888" textLength="3.2" lengthAdjust="spacingAndGlyphs">&#8722;</text>
<text x="147.3" y="32" class="ttl" textLength="49.8" lengthAdjust="spacingAndGlyphs">First approach</text>
<text x="417.6" y="32.9" text-anchor="middle" class="ttr" textLength="172" lengthAdjust="spacingAndGlyphs">Integration &#8211; Fourth approach numerically filtered</text>
<text x="148.2" y="222.1" text-anchor="middle" class="lb" textLength="28.9" lengthAdjust="spacingAndGlyphs">Time (s)</text>
<text x="417.45" y="223.2" text-anchor="middle" class="lb" textLength="30" lengthAdjust="spacingAndGlyphs">Time (s)</text>
<text transform="translate(29.2,121.3) rotate(-90)" text-anchor="middle" class="yl" textLength="57" lengthAdjust="spacingAndGlyphs">Amplitude (V/m)</text>
<text transform="translate(298.8,119.8) rotate(-90)" text-anchor="middle" class="yl" textLength="59.6" lengthAdjust="spacingAndGlyphs">Amplitude (V/m)</text>
<text x="41.8" y="34.4" class="ex" style="font-size:6.6px;fill:#8a8a8a">&#215;</text><text x="47.2" y="34.4" class="ex">10</text><text x="54.2" y="31.7" class="ex" style="font-size:4.8px">4</text>
<text x="311.4" y="35.0" class="ex" style="font-size:6.6px;fill:#8a8a8a">&#215;</text><text x="316.9" y="35.0" class="ex">10</text><text x="323.9" y="32.3" class="ex" style="font-size:4.8px">4</text>
<text x="238.2" y="225.0" class="ex" style="font-size:6.6px;fill:#8a8a8a">&#215;</text><text x="243.8" y="225.0" class="ex">10</text><text x="250.3" y="222.3" class="ex" style="font-size:4.8px">-8</text>
<text x="507.0" y="225.0" class="ex" style="font-size:6.6px;fill:#8a8a8a">&#215;</text><text x="512.5" y="225.0" class="ex">10</text><text x="519.3" y="222.3" class="ex" style="font-size:4.8px">-8</text>
</svg>
</body></html>
